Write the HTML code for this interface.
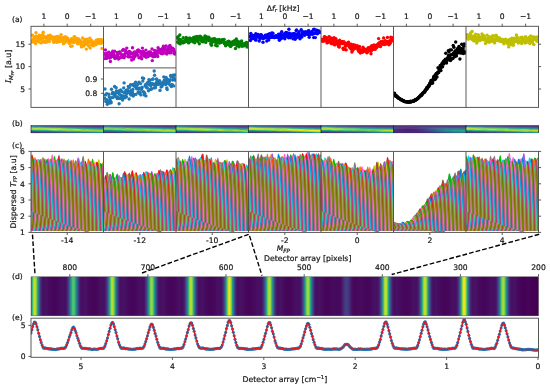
<!DOCTYPE html>
<html lang="en"><head><meta charset="utf-8"><title>Figure</title><style>html,body{margin:0;padding:0;background:#fff}svg{display:block}text{stroke:#1a1a1a;stroke-width:.22px}</style></head><body>
<svg width="550" height="386" viewBox="0 0 550 386" font-family="'DejaVu Sans', 'Liberation Sans', sans-serif" font-size="7.6" fill="#1a1a1a"><defs>
<clipPath id="ca0"><rect x="31" y="26.3" width="72.5" height="81.1"/></clipPath>
<clipPath id="ca1"><rect x="103.5" y="26.3" width="72.5" height="81.1"/></clipPath>
<clipPath id="ca2"><rect x="176" y="26.3" width="72.5" height="81.1"/></clipPath>
<clipPath id="ca3"><rect x="248.5" y="26.3" width="72.5" height="81.1"/></clipPath>
<clipPath id="ca4"><rect x="321" y="26.3" width="72.5" height="81.1"/></clipPath>
<clipPath id="ca5"><rect x="393.5" y="26.3" width="72.5" height="81.1"/></clipPath>
<clipPath id="ca6"><rect x="466" y="26.3" width="72.5" height="81.1"/></clipPath>
<clipPath id="cins"><rect x="103.5" y="67.9" width="72.5" height="39.5"/></clipPath>
<clipPath id="cins2"><rect x="103.5" y="26.3" width="72.5" height="41.6"/></clipPath>
</defs>
<g fill="#ffa500" clip-path="url(#ca0)"><circle cx="32.2" cy="41.9" r="1.7"/><circle cx="32.5" cy="35.2" r="1.7"/><circle cx="32.9" cy="40.6" r="1.7"/><circle cx="33.3" cy="39.1" r="1.7"/><circle cx="33.7" cy="38.7" r="1.7"/><circle cx="34.1" cy="40.4" r="1.7"/><circle cx="34.4" cy="42" r="1.7"/><circle cx="34.8" cy="36.9" r="1.7"/><circle cx="35.2" cy="37.7" r="1.7"/><circle cx="35.6" cy="43.5" r="1.7"/><circle cx="36" cy="32.7" r="1.7"/><circle cx="36.3" cy="36.2" r="1.7"/><circle cx="36.7" cy="40.6" r="1.7"/><circle cx="37.1" cy="36.4" r="1.7"/><circle cx="37.5" cy="39.9" r="1.7"/><circle cx="37.9" cy="38.9" r="1.7"/><circle cx="38.3" cy="36.7" r="1.7"/><circle cx="38.6" cy="41.9" r="1.7"/><circle cx="39" cy="37.3" r="1.7"/><circle cx="39.4" cy="35.2" r="1.7"/><circle cx="39.8" cy="35.4" r="1.7"/><circle cx="40.2" cy="39.5" r="1.7"/><circle cx="40.5" cy="36.5" r="1.7"/><circle cx="40.9" cy="42.9" r="1.7"/><circle cx="41.3" cy="39.2" r="1.7"/><circle cx="41.7" cy="37.7" r="1.7"/><circle cx="42.1" cy="42.2" r="1.7"/><circle cx="42.5" cy="39" r="1.7"/><circle cx="42.8" cy="34.5" r="1.7"/><circle cx="43.2" cy="32.2" r="1.7"/><circle cx="43.6" cy="36.9" r="1.7"/><circle cx="44" cy="36.7" r="1.7"/><circle cx="44.4" cy="41.2" r="1.7"/><circle cx="44.7" cy="41.9" r="1.7"/><circle cx="45.1" cy="42.4" r="1.7"/><circle cx="45.5" cy="37.5" r="1.7"/><circle cx="45.9" cy="36.9" r="1.7"/><circle cx="46.3" cy="40.5" r="1.7"/><circle cx="46.6" cy="41.9" r="1.7"/><circle cx="47" cy="38.2" r="1.7"/><circle cx="47.4" cy="38" r="1.7"/><circle cx="47.8" cy="39.1" r="1.7"/><circle cx="48.2" cy="35.6" r="1.7"/><circle cx="48.6" cy="39" r="1.7"/><circle cx="48.9" cy="38.9" r="1.7"/><circle cx="49.3" cy="41.5" r="1.7"/><circle cx="49.7" cy="38.3" r="1.7"/><circle cx="50.1" cy="35.3" r="1.7"/><circle cx="50.5" cy="38.5" r="1.7"/><circle cx="50.8" cy="38.4" r="1.7"/><circle cx="51.2" cy="37.5" r="1.7"/><circle cx="51.6" cy="37.8" r="1.7"/><circle cx="52" cy="37.1" r="1.7"/><circle cx="52.4" cy="37.1" r="1.7"/><circle cx="52.8" cy="36.9" r="1.7"/><circle cx="53.1" cy="40.4" r="1.7"/><circle cx="53.5" cy="37.6" r="1.7"/><circle cx="53.9" cy="42.3" r="1.7"/><circle cx="54.3" cy="37.6" r="1.7"/><circle cx="54.7" cy="41.4" r="1.7"/><circle cx="55" cy="38.4" r="1.7"/><circle cx="55.4" cy="37" r="1.7"/><circle cx="55.8" cy="39.2" r="1.7"/><circle cx="56.2" cy="37.9" r="1.7"/><circle cx="56.6" cy="42.3" r="1.7"/><circle cx="56.9" cy="40.3" r="1.7"/><circle cx="57.3" cy="36.4" r="1.7"/><circle cx="57.7" cy="41.1" r="1.7"/><circle cx="58.1" cy="36.5" r="1.7"/><circle cx="58.5" cy="41.7" r="1.7"/><circle cx="58.9" cy="40.5" r="1.7"/><circle cx="59.2" cy="41" r="1.7"/><circle cx="59.6" cy="38.3" r="1.7"/><circle cx="60" cy="37.1" r="1.7"/><circle cx="60.4" cy="41.2" r="1.7"/><circle cx="60.8" cy="39" r="1.7"/><circle cx="61.1" cy="34.6" r="1.7"/><circle cx="61.5" cy="39.6" r="1.7"/><circle cx="61.9" cy="40.9" r="1.7"/><circle cx="62.3" cy="38" r="1.7"/><circle cx="62.7" cy="39.7" r="1.7"/><circle cx="63.1" cy="41" r="1.7"/><circle cx="63.4" cy="43.8" r="1.7"/><circle cx="63.8" cy="37.4" r="1.7"/><circle cx="64.2" cy="41" r="1.7"/><circle cx="64.6" cy="39.7" r="1.7"/><circle cx="65" cy="42.5" r="1.7"/><circle cx="65.3" cy="36.7" r="1.7"/><circle cx="65.7" cy="38.2" r="1.7"/><circle cx="66.1" cy="37.7" r="1.7"/><circle cx="66.5" cy="40.6" r="1.7"/><circle cx="66.9" cy="39.3" r="1.7"/><circle cx="67.2" cy="38.3" r="1.7"/><circle cx="67.6" cy="38.1" r="1.7"/><circle cx="68" cy="40" r="1.7"/><circle cx="68.4" cy="41" r="1.7"/><circle cx="68.8" cy="41.9" r="1.7"/><circle cx="69.2" cy="42.9" r="1.7"/><circle cx="69.5" cy="43.5" r="1.7"/><circle cx="69.9" cy="40.3" r="1.7"/><circle cx="70.3" cy="41.8" r="1.7"/><circle cx="70.7" cy="46.3" r="1.7"/><circle cx="71.1" cy="41.7" r="1.7"/><circle cx="71.4" cy="38.7" r="1.7"/><circle cx="71.8" cy="42.1" r="1.7"/><circle cx="72.2" cy="46.1" r="1.7"/><circle cx="72.6" cy="41.8" r="1.7"/><circle cx="73" cy="39.5" r="1.7"/><circle cx="73.4" cy="41" r="1.7"/><circle cx="73.7" cy="42.6" r="1.7"/><circle cx="74.1" cy="36.9" r="1.7"/><circle cx="74.5" cy="36.8" r="1.7"/><circle cx="74.9" cy="41.9" r="1.7"/><circle cx="75.3" cy="39.6" r="1.7"/><circle cx="75.6" cy="40.7" r="1.7"/><circle cx="76" cy="39.7" r="1.7"/><circle cx="76.4" cy="38.1" r="1.7"/><circle cx="76.8" cy="39.7" r="1.7"/><circle cx="77.2" cy="41.5" r="1.7"/><circle cx="77.6" cy="43.4" r="1.7"/><circle cx="77.9" cy="43.8" r="1.7"/><circle cx="78.3" cy="41.9" r="1.7"/><circle cx="78.7" cy="38.9" r="1.7"/><circle cx="79.1" cy="41.1" r="1.7"/><circle cx="79.5" cy="41.8" r="1.7"/><circle cx="79.8" cy="41.3" r="1.7"/><circle cx="80.2" cy="41.8" r="1.7"/><circle cx="80.6" cy="40.6" r="1.7"/><circle cx="81" cy="44.8" r="1.7"/><circle cx="81.4" cy="46.9" r="1.7"/><circle cx="81.7" cy="43.1" r="1.7"/><circle cx="82.1" cy="44.9" r="1.7"/><circle cx="82.5" cy="38" r="1.7"/><circle cx="82.9" cy="42.5" r="1.7"/><circle cx="83.3" cy="42.7" r="1.7"/><circle cx="83.7" cy="46" r="1.7"/><circle cx="84" cy="41.4" r="1.7"/><circle cx="84.4" cy="43.7" r="1.7"/><circle cx="84.8" cy="39.4" r="1.7"/><circle cx="85.2" cy="40.1" r="1.7"/><circle cx="85.6" cy="44.2" r="1.7"/><circle cx="85.9" cy="41.2" r="1.7"/><circle cx="86.3" cy="49.1" r="1.7"/><circle cx="86.7" cy="44" r="1.7"/><circle cx="87.1" cy="39.2" r="1.7"/><circle cx="87.5" cy="40.4" r="1.7"/><circle cx="87.9" cy="41.9" r="1.7"/><circle cx="88.2" cy="42.5" r="1.7"/><circle cx="88.6" cy="46" r="1.7"/><circle cx="89" cy="45.9" r="1.7"/><circle cx="89.4" cy="41.9" r="1.7"/><circle cx="89.8" cy="38.1" r="1.7"/><circle cx="90.1" cy="48" r="1.7"/><circle cx="90.5" cy="41" r="1.7"/><circle cx="90.9" cy="41.1" r="1.7"/><circle cx="91.3" cy="40.2" r="1.7"/><circle cx="91.7" cy="44.8" r="1.7"/><circle cx="92" cy="44" r="1.7"/><circle cx="92.4" cy="42.6" r="1.7"/><circle cx="92.8" cy="45.3" r="1.7"/><circle cx="93.2" cy="45.8" r="1.7"/><circle cx="93.6" cy="45" r="1.7"/><circle cx="94" cy="42.9" r="1.7"/><circle cx="94.3" cy="41.9" r="1.7"/><circle cx="94.7" cy="42.9" r="1.7"/><circle cx="95.1" cy="42.6" r="1.7"/><circle cx="95.5" cy="44.6" r="1.7"/><circle cx="95.9" cy="44.7" r="1.7"/><circle cx="96.2" cy="40.1" r="1.7"/><circle cx="96.6" cy="43.1" r="1.7"/><circle cx="97" cy="43.2" r="1.7"/><circle cx="97.4" cy="40.6" r="1.7"/><circle cx="97.8" cy="39.9" r="1.7"/><circle cx="98.2" cy="39.8" r="1.7"/><circle cx="98.5" cy="42" r="1.7"/><circle cx="98.9" cy="43.2" r="1.7"/><circle cx="99.3" cy="42.4" r="1.7"/><circle cx="99.7" cy="42.7" r="1.7"/><circle cx="100.1" cy="39.7" r="1.7"/><circle cx="100.4" cy="42.4" r="1.7"/><circle cx="100.8" cy="41.6" r="1.7"/><circle cx="101.2" cy="43.3" r="1.7"/><circle cx="101.6" cy="39.8" r="1.7"/><circle cx="102" cy="48.4" r="1.7"/><circle cx="102.3" cy="42.3" r="1.7"/></g>
<g fill="#bf00bf" clip-path="url(#cins2)"><circle cx="104.7" cy="53.7" r="1.7"/><circle cx="105" cy="58.6" r="1.7"/><circle cx="105.4" cy="50" r="1.7"/><circle cx="105.8" cy="56" r="1.7"/><circle cx="106.2" cy="56" r="1.7"/><circle cx="106.6" cy="58.4" r="1.7"/><circle cx="106.9" cy="53.3" r="1.7"/><circle cx="107.3" cy="54.9" r="1.7"/><circle cx="107.7" cy="57.1" r="1.7"/><circle cx="108.1" cy="54.9" r="1.7"/><circle cx="108.5" cy="53.7" r="1.7"/><circle cx="108.8" cy="52.3" r="1.7"/><circle cx="109.2" cy="54.9" r="1.7"/><circle cx="109.6" cy="58" r="1.7"/><circle cx="110" cy="56.9" r="1.7"/><circle cx="110.4" cy="61.4" r="1.7"/><circle cx="110.8" cy="57.3" r="1.7"/><circle cx="111.1" cy="53.5" r="1.7"/><circle cx="111.5" cy="54.2" r="1.7"/><circle cx="111.9" cy="55.6" r="1.7"/><circle cx="112.3" cy="56.2" r="1.7"/><circle cx="112.7" cy="51.2" r="1.7"/><circle cx="113" cy="54.6" r="1.7"/><circle cx="113.4" cy="52.9" r="1.7"/><circle cx="113.8" cy="54.2" r="1.7"/><circle cx="114.2" cy="57" r="1.7"/><circle cx="114.6" cy="51.2" r="1.7"/><circle cx="115" cy="58.4" r="1.7"/><circle cx="115.3" cy="58.3" r="1.7"/><circle cx="115.7" cy="56.3" r="1.7"/><circle cx="116.1" cy="57" r="1.7"/><circle cx="116.5" cy="56.6" r="1.7"/><circle cx="116.9" cy="56.7" r="1.7"/><circle cx="117.2" cy="52.5" r="1.7"/><circle cx="117.6" cy="54.9" r="1.7"/><circle cx="118" cy="54.1" r="1.7"/><circle cx="118.4" cy="59.1" r="1.7"/><circle cx="118.8" cy="57.2" r="1.7"/><circle cx="119.1" cy="52.2" r="1.7"/><circle cx="119.5" cy="58.1" r="1.7"/><circle cx="119.9" cy="51.9" r="1.7"/><circle cx="120.3" cy="57.6" r="1.7"/><circle cx="120.7" cy="54.1" r="1.7"/><circle cx="121.1" cy="57.1" r="1.7"/><circle cx="121.4" cy="54.3" r="1.7"/><circle cx="121.8" cy="57.2" r="1.7"/><circle cx="122.2" cy="55.5" r="1.7"/><circle cx="122.6" cy="50.4" r="1.7"/><circle cx="123" cy="55.7" r="1.7"/><circle cx="123.3" cy="49.4" r="1.7"/><circle cx="123.7" cy="55.9" r="1.7"/><circle cx="124.1" cy="57.7" r="1.7"/><circle cx="124.5" cy="54.5" r="1.7"/><circle cx="124.9" cy="55.7" r="1.7"/><circle cx="125.3" cy="50.1" r="1.7"/><circle cx="125.6" cy="52.4" r="1.7"/><circle cx="126" cy="51.5" r="1.7"/><circle cx="126.4" cy="52.9" r="1.7"/><circle cx="126.8" cy="48.1" r="1.7"/><circle cx="127.2" cy="52.4" r="1.7"/><circle cx="127.5" cy="53.1" r="1.7"/><circle cx="127.9" cy="56.6" r="1.7"/><circle cx="128.3" cy="56.8" r="1.7"/><circle cx="128.7" cy="53.9" r="1.7"/><circle cx="129.1" cy="51.8" r="1.7"/><circle cx="129.4" cy="51.4" r="1.7"/><circle cx="129.8" cy="56.8" r="1.7"/><circle cx="130.2" cy="52.9" r="1.7"/><circle cx="130.6" cy="53.8" r="1.7"/><circle cx="131" cy="57.1" r="1.7"/><circle cx="131.4" cy="52.9" r="1.7"/><circle cx="131.7" cy="60.1" r="1.7"/><circle cx="132.1" cy="53.5" r="1.7"/><circle cx="132.5" cy="47.7" r="1.7"/><circle cx="132.9" cy="56.8" r="1.7"/><circle cx="133.3" cy="54" r="1.7"/><circle cx="133.6" cy="59" r="1.7"/><circle cx="134" cy="56" r="1.7"/><circle cx="134.4" cy="52" r="1.7"/><circle cx="134.8" cy="56.7" r="1.7"/><circle cx="135.2" cy="54" r="1.7"/><circle cx="135.6" cy="54.8" r="1.7"/><circle cx="135.9" cy="54.9" r="1.7"/><circle cx="136.3" cy="53.4" r="1.7"/><circle cx="136.7" cy="52.6" r="1.7"/><circle cx="137.1" cy="50.6" r="1.7"/><circle cx="137.5" cy="51.6" r="1.7"/><circle cx="137.8" cy="55.2" r="1.7"/><circle cx="138.2" cy="50" r="1.7"/><circle cx="138.6" cy="50.5" r="1.7"/><circle cx="139" cy="57.7" r="1.7"/><circle cx="139.4" cy="51.9" r="1.7"/><circle cx="139.8" cy="51.5" r="1.7"/><circle cx="140.1" cy="51.1" r="1.7"/><circle cx="140.5" cy="52.1" r="1.7"/><circle cx="140.9" cy="56.9" r="1.7"/><circle cx="141.3" cy="54.2" r="1.7"/><circle cx="141.7" cy="58.8" r="1.7"/><circle cx="142" cy="53.8" r="1.7"/><circle cx="142.4" cy="48.1" r="1.7"/><circle cx="142.8" cy="51.6" r="1.7"/><circle cx="143.2" cy="51.2" r="1.7"/><circle cx="143.6" cy="54.6" r="1.7"/><circle cx="143.9" cy="55.9" r="1.7"/><circle cx="144.3" cy="56" r="1.7"/><circle cx="144.7" cy="52.9" r="1.7"/><circle cx="145.1" cy="55.3" r="1.7"/><circle cx="145.5" cy="54.8" r="1.7"/><circle cx="145.9" cy="50.1" r="1.7"/><circle cx="146.2" cy="57.3" r="1.7"/><circle cx="146.6" cy="56.5" r="1.7"/><circle cx="147" cy="54.3" r="1.7"/><circle cx="147.4" cy="53.2" r="1.7"/><circle cx="147.8" cy="53.3" r="1.7"/><circle cx="148.1" cy="56.5" r="1.7"/><circle cx="148.5" cy="52.4" r="1.7"/><circle cx="148.9" cy="53.2" r="1.7"/><circle cx="149.3" cy="51.9" r="1.7"/><circle cx="149.7" cy="55.6" r="1.7"/><circle cx="150.1" cy="52.1" r="1.7"/><circle cx="150.4" cy="52.1" r="1.7"/><circle cx="150.8" cy="54.4" r="1.7"/><circle cx="151.2" cy="53.2" r="1.7"/><circle cx="151.6" cy="54" r="1.7"/><circle cx="152" cy="49" r="1.7"/><circle cx="152.3" cy="60.6" r="1.7"/><circle cx="152.7" cy="56.2" r="1.7"/><circle cx="153.1" cy="56.8" r="1.7"/><circle cx="153.5" cy="53.4" r="1.7"/><circle cx="153.9" cy="54.1" r="1.7"/><circle cx="154.2" cy="53.4" r="1.7"/><circle cx="154.6" cy="50.4" r="1.7"/><circle cx="155" cy="56.5" r="1.7"/><circle cx="155.4" cy="54.4" r="1.7"/><circle cx="155.8" cy="52.7" r="1.7"/><circle cx="156.2" cy="55.2" r="1.7"/><circle cx="156.5" cy="51.1" r="1.7"/><circle cx="156.9" cy="51.1" r="1.7"/><circle cx="157.3" cy="53.8" r="1.7"/><circle cx="157.7" cy="56.5" r="1.7"/><circle cx="158.1" cy="47.7" r="1.7"/><circle cx="158.4" cy="50.6" r="1.7"/><circle cx="158.8" cy="50.7" r="1.7"/><circle cx="159.2" cy="51.6" r="1.7"/><circle cx="159.6" cy="51.7" r="1.7"/><circle cx="160" cy="49.5" r="1.7"/><circle cx="160.4" cy="51.7" r="1.7"/><circle cx="160.7" cy="53.2" r="1.7"/><circle cx="161.1" cy="49.7" r="1.7"/><circle cx="161.5" cy="51.3" r="1.7"/><circle cx="161.9" cy="53.4" r="1.7"/><circle cx="162.3" cy="53.7" r="1.7"/><circle cx="162.6" cy="48.3" r="1.7"/><circle cx="163" cy="49.7" r="1.7"/><circle cx="163.4" cy="46.1" r="1.7"/><circle cx="163.8" cy="52.6" r="1.7"/><circle cx="164.2" cy="53.1" r="1.7"/><circle cx="164.5" cy="50.1" r="1.7"/><circle cx="164.9" cy="47.5" r="1.7"/><circle cx="165.3" cy="49.5" r="1.7"/><circle cx="165.7" cy="49.9" r="1.7"/><circle cx="166.1" cy="46" r="1.7"/><circle cx="166.5" cy="52.8" r="1.7"/><circle cx="166.8" cy="54.1" r="1.7"/><circle cx="167.2" cy="52.7" r="1.7"/><circle cx="167.6" cy="51.6" r="1.7"/><circle cx="168" cy="49.7" r="1.7"/><circle cx="168.4" cy="48" r="1.7"/><circle cx="168.7" cy="49.5" r="1.7"/><circle cx="169.1" cy="46.6" r="1.7"/><circle cx="169.5" cy="52.7" r="1.7"/><circle cx="169.9" cy="45.5" r="1.7"/><circle cx="170.3" cy="52.5" r="1.7"/><circle cx="170.7" cy="47.3" r="1.7"/><circle cx="171" cy="52.7" r="1.7"/><circle cx="171.4" cy="49.4" r="1.7"/><circle cx="171.8" cy="50.1" r="1.7"/><circle cx="172.2" cy="48.8" r="1.7"/><circle cx="172.6" cy="48.2" r="1.7"/><circle cx="172.9" cy="50.6" r="1.7"/><circle cx="173.3" cy="50.2" r="1.7"/><circle cx="173.7" cy="49.3" r="1.7"/><circle cx="174.1" cy="53.3" r="1.7"/><circle cx="174.5" cy="51.8" r="1.7"/><circle cx="174.8" cy="54" r="1.7"/></g>
<g fill="#1f77b4" clip-path="url(#cins)"><circle cx="104.7" cy="98.3" r="1.7"/><circle cx="105" cy="89" r="1.7"/><circle cx="105.4" cy="95" r="1.7"/><circle cx="105.8" cy="101.6" r="1.7"/><circle cx="106.2" cy="100.8" r="1.7"/><circle cx="106.6" cy="93.7" r="1.7"/><circle cx="106.9" cy="99.6" r="1.7"/><circle cx="107.3" cy="104.2" r="1.7"/><circle cx="107.7" cy="101.7" r="1.7"/><circle cx="108.1" cy="101.7" r="1.7"/><circle cx="108.5" cy="101.5" r="1.7"/><circle cx="108.8" cy="94.3" r="1.7"/><circle cx="109.2" cy="96.7" r="1.7"/><circle cx="109.6" cy="103.1" r="1.7"/><circle cx="110" cy="99.1" r="1.7"/><circle cx="110.4" cy="101.4" r="1.7"/><circle cx="110.8" cy="101.6" r="1.7"/><circle cx="111.1" cy="102.8" r="1.7"/><circle cx="111.5" cy="89.2" r="1.7"/><circle cx="111.9" cy="97.6" r="1.7"/><circle cx="112.3" cy="93.8" r="1.7"/><circle cx="112.7" cy="92.5" r="1.7"/><circle cx="113" cy="97.6" r="1.7"/><circle cx="113.4" cy="93.6" r="1.7"/><circle cx="113.8" cy="93.5" r="1.7"/><circle cx="114.2" cy="94.7" r="1.7"/><circle cx="114.6" cy="86.5" r="1.7"/><circle cx="115" cy="94.3" r="1.7"/><circle cx="115.3" cy="96.3" r="1.7"/><circle cx="115.7" cy="92.5" r="1.7"/><circle cx="116.1" cy="87.7" r="1.7"/><circle cx="116.5" cy="90.9" r="1.7"/><circle cx="116.9" cy="96.9" r="1.7"/><circle cx="117.2" cy="98.4" r="1.7"/><circle cx="117.6" cy="98.6" r="1.7"/><circle cx="118" cy="97.3" r="1.7"/><circle cx="118.4" cy="92.9" r="1.7"/><circle cx="118.8" cy="90.9" r="1.7"/><circle cx="119.1" cy="103.7" r="1.7"/><circle cx="119.5" cy="94.2" r="1.7"/><circle cx="119.9" cy="98.6" r="1.7"/><circle cx="120.3" cy="91.1" r="1.7"/><circle cx="120.7" cy="90" r="1.7"/><circle cx="121.1" cy="97" r="1.7"/><circle cx="121.4" cy="95.5" r="1.7"/><circle cx="121.8" cy="97.5" r="1.7"/><circle cx="122.2" cy="91.8" r="1.7"/><circle cx="122.6" cy="100" r="1.7"/><circle cx="123" cy="97.9" r="1.7"/><circle cx="123.3" cy="95.9" r="1.7"/><circle cx="123.7" cy="87.9" r="1.7"/><circle cx="124.1" cy="82.9" r="1.7"/><circle cx="124.5" cy="92.7" r="1.7"/><circle cx="124.9" cy="97.8" r="1.7"/><circle cx="125.3" cy="92.2" r="1.7"/><circle cx="125.6" cy="96" r="1.7"/><circle cx="126" cy="90.4" r="1.7"/><circle cx="126.4" cy="96.8" r="1.7"/><circle cx="126.8" cy="93.6" r="1.7"/><circle cx="127.2" cy="92.1" r="1.7"/><circle cx="127.5" cy="89.7" r="1.7"/><circle cx="127.9" cy="92.1" r="1.7"/><circle cx="128.3" cy="86.4" r="1.7"/><circle cx="128.7" cy="91.1" r="1.7"/><circle cx="129.1" cy="99" r="1.7"/><circle cx="129.4" cy="87.5" r="1.7"/><circle cx="129.8" cy="92.5" r="1.7"/><circle cx="130.2" cy="93.9" r="1.7"/><circle cx="130.6" cy="84.8" r="1.7"/><circle cx="131" cy="95.1" r="1.7"/><circle cx="131.4" cy="90.5" r="1.7"/><circle cx="131.7" cy="93.7" r="1.7"/><circle cx="132.1" cy="85" r="1.7"/><circle cx="132.5" cy="92" r="1.7"/><circle cx="132.9" cy="89.4" r="1.7"/><circle cx="133.3" cy="96.1" r="1.7"/><circle cx="133.6" cy="84.2" r="1.7"/><circle cx="134" cy="94.5" r="1.7"/><circle cx="134.4" cy="86.2" r="1.7"/><circle cx="134.8" cy="85.2" r="1.7"/><circle cx="135.2" cy="84.6" r="1.7"/><circle cx="135.6" cy="82.1" r="1.7"/><circle cx="135.9" cy="94.4" r="1.7"/><circle cx="136.3" cy="87.7" r="1.7"/><circle cx="136.7" cy="88.7" r="1.7"/><circle cx="137.1" cy="87.5" r="1.7"/><circle cx="137.5" cy="84.5" r="1.7"/><circle cx="137.8" cy="88.5" r="1.7"/><circle cx="138.2" cy="92.3" r="1.7"/><circle cx="138.6" cy="89.2" r="1.7"/><circle cx="139" cy="82.3" r="1.7"/><circle cx="139.4" cy="93.4" r="1.7"/><circle cx="139.8" cy="88.1" r="1.7"/><circle cx="140.1" cy="92.4" r="1.7"/><circle cx="140.5" cy="83.6" r="1.7"/><circle cx="140.9" cy="94.9" r="1.7"/><circle cx="141.3" cy="89.4" r="1.7"/><circle cx="141.7" cy="88.4" r="1.7"/><circle cx="142" cy="87.3" r="1.7"/><circle cx="142.4" cy="77.9" r="1.7"/><circle cx="142.8" cy="81.1" r="1.7"/><circle cx="143.2" cy="91.7" r="1.7"/><circle cx="143.6" cy="78.4" r="1.7"/><circle cx="143.9" cy="92.2" r="1.7"/><circle cx="144.3" cy="94.9" r="1.7"/><circle cx="144.7" cy="93.2" r="1.7"/><circle cx="145.1" cy="86.1" r="1.7"/><circle cx="145.5" cy="84.6" r="1.7"/><circle cx="145.9" cy="95.9" r="1.7"/><circle cx="146.2" cy="84.8" r="1.7"/><circle cx="146.6" cy="87.6" r="1.7"/><circle cx="147" cy="83.4" r="1.7"/><circle cx="147.4" cy="87.9" r="1.7"/><circle cx="147.8" cy="82.4" r="1.7"/><circle cx="148.1" cy="83.7" r="1.7"/><circle cx="148.5" cy="90.8" r="1.7"/><circle cx="148.9" cy="79.8" r="1.7"/><circle cx="149.3" cy="84.8" r="1.7"/><circle cx="149.7" cy="82.6" r="1.7"/><circle cx="150.1" cy="80.3" r="1.7"/><circle cx="150.4" cy="89.4" r="1.7"/><circle cx="150.8" cy="85.6" r="1.7"/><circle cx="151.2" cy="88.6" r="1.7"/><circle cx="151.6" cy="89" r="1.7"/><circle cx="152" cy="83.8" r="1.7"/><circle cx="152.3" cy="83.4" r="1.7"/><circle cx="152.7" cy="79.2" r="1.7"/><circle cx="153.1" cy="78.9" r="1.7"/><circle cx="153.5" cy="84.6" r="1.7"/><circle cx="153.9" cy="87.9" r="1.7"/><circle cx="154.2" cy="71" r="1.7"/><circle cx="154.6" cy="75.3" r="1.7"/><circle cx="155" cy="84.5" r="1.7"/><circle cx="155.4" cy="87.8" r="1.7"/><circle cx="155.8" cy="85.6" r="1.7"/><circle cx="156.2" cy="82.6" r="1.7"/><circle cx="156.5" cy="78.9" r="1.7"/><circle cx="156.9" cy="79.5" r="1.7"/><circle cx="157.3" cy="81.6" r="1.7"/><circle cx="157.7" cy="84.3" r="1.7"/><circle cx="158.1" cy="82.5" r="1.7"/><circle cx="158.4" cy="84.4" r="1.7"/><circle cx="158.8" cy="82.7" r="1.7"/><circle cx="159.2" cy="83.3" r="1.7"/><circle cx="159.6" cy="80.6" r="1.7"/><circle cx="160" cy="90.4" r="1.7"/><circle cx="160.4" cy="83.9" r="1.7"/><circle cx="160.7" cy="83.6" r="1.7"/><circle cx="161.1" cy="87" r="1.7"/><circle cx="161.5" cy="82.9" r="1.7"/><circle cx="161.9" cy="86.4" r="1.7"/><circle cx="162.3" cy="84.7" r="1.7"/><circle cx="162.6" cy="83.1" r="1.7"/><circle cx="163" cy="82.8" r="1.7"/><circle cx="163.4" cy="84" r="1.7"/><circle cx="163.8" cy="76.9" r="1.7"/><circle cx="164.2" cy="80.6" r="1.7"/><circle cx="164.5" cy="80" r="1.7"/><circle cx="164.9" cy="80.2" r="1.7"/><circle cx="165.3" cy="83.8" r="1.7"/><circle cx="165.7" cy="84.6" r="1.7"/><circle cx="166.1" cy="77.4" r="1.7"/><circle cx="166.5" cy="82.2" r="1.7"/><circle cx="166.8" cy="88" r="1.7"/><circle cx="167.2" cy="89.6" r="1.7"/><circle cx="167.6" cy="79.5" r="1.7"/><circle cx="168" cy="83.4" r="1.7"/><circle cx="168.4" cy="80.5" r="1.7"/><circle cx="168.7" cy="82.3" r="1.7"/><circle cx="169.1" cy="81.6" r="1.7"/><circle cx="169.5" cy="80.6" r="1.7"/><circle cx="169.9" cy="84.9" r="1.7"/><circle cx="170.3" cy="79.7" r="1.7"/><circle cx="170.7" cy="75.4" r="1.7"/><circle cx="171" cy="76.5" r="1.7"/><circle cx="171.4" cy="86.5" r="1.7"/><circle cx="171.8" cy="84.7" r="1.7"/><circle cx="172.2" cy="84.6" r="1.7"/><circle cx="172.6" cy="80" r="1.7"/><circle cx="172.9" cy="75.3" r="1.7"/><circle cx="173.3" cy="77.4" r="1.7"/><circle cx="173.7" cy="85.9" r="1.7"/><circle cx="174.1" cy="78.3" r="1.7"/><circle cx="174.5" cy="75" r="1.7"/><circle cx="174.8" cy="80.1" r="1.7"/></g>
<g fill="#008000" clip-path="url(#ca2)"><circle cx="177.2" cy="37.4" r="1.7"/><circle cx="177.5" cy="42" r="1.7"/><circle cx="177.9" cy="38.7" r="1.7"/><circle cx="178.3" cy="36.6" r="1.7"/><circle cx="178.7" cy="43.1" r="1.7"/><circle cx="179.1" cy="41.4" r="1.7"/><circle cx="179.4" cy="39.7" r="1.7"/><circle cx="179.8" cy="35" r="1.7"/><circle cx="180.2" cy="43.9" r="1.7"/><circle cx="180.6" cy="39.7" r="1.7"/><circle cx="181" cy="40.2" r="1.7"/><circle cx="181.3" cy="41.4" r="1.7"/><circle cx="181.7" cy="42.2" r="1.7"/><circle cx="182.1" cy="41.6" r="1.7"/><circle cx="182.5" cy="41.2" r="1.7"/><circle cx="182.9" cy="42.9" r="1.7"/><circle cx="183.3" cy="37.8" r="1.7"/><circle cx="183.6" cy="42.6" r="1.7"/><circle cx="184" cy="41.3" r="1.7"/><circle cx="184.4" cy="41.7" r="1.7"/><circle cx="184.8" cy="41.3" r="1.7"/><circle cx="185.2" cy="40.3" r="1.7"/><circle cx="185.5" cy="41.8" r="1.7"/><circle cx="185.9" cy="40.9" r="1.7"/><circle cx="186.3" cy="37.4" r="1.7"/><circle cx="186.7" cy="38.5" r="1.7"/><circle cx="187.1" cy="40.9" r="1.7"/><circle cx="187.5" cy="38.8" r="1.7"/><circle cx="187.8" cy="41.7" r="1.7"/><circle cx="188.2" cy="39.9" r="1.7"/><circle cx="188.6" cy="42.9" r="1.7"/><circle cx="189" cy="42.3" r="1.7"/><circle cx="189.4" cy="41.8" r="1.7"/><circle cx="189.7" cy="38" r="1.7"/><circle cx="190.1" cy="39.8" r="1.7"/><circle cx="190.5" cy="39.2" r="1.7"/><circle cx="190.9" cy="39.9" r="1.7"/><circle cx="191.3" cy="39.5" r="1.7"/><circle cx="191.6" cy="39.4" r="1.7"/><circle cx="192" cy="38.7" r="1.7"/><circle cx="192.4" cy="39.8" r="1.7"/><circle cx="192.8" cy="41.7" r="1.7"/><circle cx="193.2" cy="41.4" r="1.7"/><circle cx="193.6" cy="37.8" r="1.7"/><circle cx="193.9" cy="37.4" r="1.7"/><circle cx="194.3" cy="38.9" r="1.7"/><circle cx="194.7" cy="42.8" r="1.7"/><circle cx="195.1" cy="37" r="1.7"/><circle cx="195.5" cy="39.2" r="1.7"/><circle cx="195.8" cy="39.9" r="1.7"/><circle cx="196.2" cy="39.7" r="1.7"/><circle cx="196.6" cy="40.3" r="1.7"/><circle cx="197" cy="36.5" r="1.7"/><circle cx="197.4" cy="36.6" r="1.7"/><circle cx="197.8" cy="41.5" r="1.7"/><circle cx="198.1" cy="39.9" r="1.7"/><circle cx="198.5" cy="38.9" r="1.7"/><circle cx="198.9" cy="37.1" r="1.7"/><circle cx="199.3" cy="43.7" r="1.7"/><circle cx="199.7" cy="37.7" r="1.7"/><circle cx="200" cy="36.3" r="1.7"/><circle cx="200.4" cy="39.9" r="1.7"/><circle cx="200.8" cy="39.3" r="1.7"/><circle cx="201.2" cy="37" r="1.7"/><circle cx="201.6" cy="38.5" r="1.7"/><circle cx="201.9" cy="41.6" r="1.7"/><circle cx="202.3" cy="41.3" r="1.7"/><circle cx="202.7" cy="41" r="1.7"/><circle cx="203.1" cy="41.7" r="1.7"/><circle cx="203.5" cy="39.1" r="1.7"/><circle cx="203.9" cy="40" r="1.7"/><circle cx="204.2" cy="39" r="1.7"/><circle cx="204.6" cy="37.8" r="1.7"/><circle cx="205" cy="35.9" r="1.7"/><circle cx="205.4" cy="38.7" r="1.7"/><circle cx="205.8" cy="42.4" r="1.7"/><circle cx="206.1" cy="36.6" r="1.7"/><circle cx="206.5" cy="39.3" r="1.7"/><circle cx="206.9" cy="37.1" r="1.7"/><circle cx="207.3" cy="40" r="1.7"/><circle cx="207.7" cy="38.7" r="1.7"/><circle cx="208.1" cy="39.6" r="1.7"/><circle cx="208.4" cy="39.4" r="1.7"/><circle cx="208.8" cy="37.2" r="1.7"/><circle cx="209.2" cy="40.7" r="1.7"/><circle cx="209.6" cy="39.3" r="1.7"/><circle cx="210" cy="39.3" r="1.7"/><circle cx="210.3" cy="40.5" r="1.7"/><circle cx="210.7" cy="43.8" r="1.7"/><circle cx="211.1" cy="39.3" r="1.7"/><circle cx="211.5" cy="45.2" r="1.7"/><circle cx="211.9" cy="42.9" r="1.7"/><circle cx="212.2" cy="41.1" r="1.7"/><circle cx="212.6" cy="39.6" r="1.7"/><circle cx="213" cy="38.9" r="1.7"/><circle cx="213.4" cy="39.1" r="1.7"/><circle cx="213.8" cy="39.6" r="1.7"/><circle cx="214.2" cy="41.5" r="1.7"/><circle cx="214.5" cy="38.7" r="1.7"/><circle cx="214.9" cy="41.5" r="1.7"/><circle cx="215.3" cy="39.1" r="1.7"/><circle cx="215.7" cy="45.2" r="1.7"/><circle cx="216.1" cy="43" r="1.7"/><circle cx="216.4" cy="42.5" r="1.7"/><circle cx="216.8" cy="41.5" r="1.7"/><circle cx="217.2" cy="45.9" r="1.7"/><circle cx="217.6" cy="40.2" r="1.7"/><circle cx="218" cy="40" r="1.7"/><circle cx="218.4" cy="40.4" r="1.7"/><circle cx="218.7" cy="42.8" r="1.7"/><circle cx="219.1" cy="39.4" r="1.7"/><circle cx="219.5" cy="43" r="1.7"/><circle cx="219.9" cy="40.4" r="1.7"/><circle cx="220.3" cy="42.2" r="1.7"/><circle cx="220.6" cy="42.2" r="1.7"/><circle cx="221" cy="42.5" r="1.7"/><circle cx="221.4" cy="42.3" r="1.7"/><circle cx="221.8" cy="40.3" r="1.7"/><circle cx="222.2" cy="39.8" r="1.7"/><circle cx="222.6" cy="39.9" r="1.7"/><circle cx="222.9" cy="40.8" r="1.7"/><circle cx="223.3" cy="41.3" r="1.7"/><circle cx="223.7" cy="41.8" r="1.7"/><circle cx="224.1" cy="39.5" r="1.7"/><circle cx="224.5" cy="43.5" r="1.7"/><circle cx="224.8" cy="43.8" r="1.7"/><circle cx="225.2" cy="42.7" r="1.7"/><circle cx="225.6" cy="45.8" r="1.7"/><circle cx="226" cy="43.3" r="1.7"/><circle cx="226.4" cy="43" r="1.7"/><circle cx="226.7" cy="44.8" r="1.7"/><circle cx="227.1" cy="44" r="1.7"/><circle cx="227.5" cy="41.7" r="1.7"/><circle cx="227.9" cy="43.4" r="1.7"/><circle cx="228.3" cy="42.9" r="1.7"/><circle cx="228.7" cy="41.3" r="1.7"/><circle cx="229" cy="44.2" r="1.7"/><circle cx="229.4" cy="45.2" r="1.7"/><circle cx="229.8" cy="43.3" r="1.7"/><circle cx="230.2" cy="42.5" r="1.7"/><circle cx="230.6" cy="46.5" r="1.7"/><circle cx="230.9" cy="42.2" r="1.7"/><circle cx="231.3" cy="43.9" r="1.7"/><circle cx="231.7" cy="44.1" r="1.7"/><circle cx="232.1" cy="45" r="1.7"/><circle cx="232.5" cy="43.8" r="1.7"/><circle cx="232.9" cy="41.8" r="1.7"/><circle cx="233.2" cy="42.6" r="1.7"/><circle cx="233.6" cy="42.1" r="1.7"/><circle cx="234" cy="44.3" r="1.7"/><circle cx="234.4" cy="40.8" r="1.7"/><circle cx="234.8" cy="41.4" r="1.7"/><circle cx="235.1" cy="43.7" r="1.7"/><circle cx="235.5" cy="48.5" r="1.7"/><circle cx="235.9" cy="43.7" r="1.7"/><circle cx="236.3" cy="38.9" r="1.7"/><circle cx="236.7" cy="43.9" r="1.7"/><circle cx="237" cy="45.7" r="1.7"/><circle cx="237.4" cy="40.9" r="1.7"/><circle cx="237.8" cy="45" r="1.7"/><circle cx="238.2" cy="43.1" r="1.7"/><circle cx="238.6" cy="42.6" r="1.7"/><circle cx="239" cy="46.7" r="1.7"/><circle cx="239.3" cy="43.8" r="1.7"/><circle cx="239.7" cy="42" r="1.7"/><circle cx="240.1" cy="44.7" r="1.7"/><circle cx="240.5" cy="43" r="1.7"/><circle cx="240.9" cy="44.2" r="1.7"/><circle cx="241.2" cy="42.4" r="1.7"/><circle cx="241.6" cy="40.9" r="1.7"/><circle cx="242" cy="46.2" r="1.7"/><circle cx="242.4" cy="44.8" r="1.7"/><circle cx="242.8" cy="43.6" r="1.7"/><circle cx="243.2" cy="45.5" r="1.7"/><circle cx="243.5" cy="45.9" r="1.7"/><circle cx="243.9" cy="45" r="1.7"/><circle cx="244.3" cy="44.9" r="1.7"/><circle cx="244.7" cy="45.6" r="1.7"/><circle cx="245.1" cy="43.9" r="1.7"/><circle cx="245.4" cy="43.1" r="1.7"/><circle cx="245.8" cy="43.2" r="1.7"/><circle cx="246.2" cy="43.4" r="1.7"/><circle cx="246.6" cy="42.5" r="1.7"/><circle cx="247" cy="47.1" r="1.7"/><circle cx="247.3" cy="44.9" r="1.7"/></g>
<g fill="#0000ff" clip-path="url(#ca3)"><circle cx="249.7" cy="36.9" r="1.7"/><circle cx="250" cy="36.2" r="1.7"/><circle cx="250.4" cy="40.5" r="1.7"/><circle cx="250.8" cy="33.5" r="1.7"/><circle cx="251.2" cy="39.1" r="1.7"/><circle cx="251.6" cy="36.7" r="1.7"/><circle cx="251.9" cy="35.8" r="1.7"/><circle cx="252.3" cy="35.1" r="1.7"/><circle cx="252.7" cy="38.6" r="1.7"/><circle cx="253.1" cy="38.3" r="1.7"/><circle cx="253.5" cy="36.5" r="1.7"/><circle cx="253.8" cy="36.1" r="1.7"/><circle cx="254.2" cy="35.4" r="1.7"/><circle cx="254.6" cy="37.4" r="1.7"/><circle cx="255" cy="38.6" r="1.7"/><circle cx="255.4" cy="39.9" r="1.7"/><circle cx="255.8" cy="33.7" r="1.7"/><circle cx="256.1" cy="40" r="1.7"/><circle cx="256.5" cy="35.8" r="1.7"/><circle cx="256.9" cy="36.7" r="1.7"/><circle cx="257.3" cy="35.7" r="1.7"/><circle cx="257.7" cy="35.3" r="1.7"/><circle cx="258" cy="34.5" r="1.7"/><circle cx="258.4" cy="37.3" r="1.7"/><circle cx="258.8" cy="36.4" r="1.7"/><circle cx="259.2" cy="41.1" r="1.7"/><circle cx="259.6" cy="37.1" r="1.7"/><circle cx="260" cy="39" r="1.7"/><circle cx="260.3" cy="37.5" r="1.7"/><circle cx="260.7" cy="34.7" r="1.7"/><circle cx="261.1" cy="37" r="1.7"/><circle cx="261.5" cy="35" r="1.7"/><circle cx="261.9" cy="37.6" r="1.7"/><circle cx="262.2" cy="36.4" r="1.7"/><circle cx="262.6" cy="38" r="1.7"/><circle cx="263" cy="42.3" r="1.7"/><circle cx="263.4" cy="38.6" r="1.7"/><circle cx="263.8" cy="37.7" r="1.7"/><circle cx="264.1" cy="36.8" r="1.7"/><circle cx="264.5" cy="37.1" r="1.7"/><circle cx="264.9" cy="37.4" r="1.7"/><circle cx="265.3" cy="35.2" r="1.7"/><circle cx="265.7" cy="35.8" r="1.7"/><circle cx="266.1" cy="37.9" r="1.7"/><circle cx="266.4" cy="35.3" r="1.7"/><circle cx="266.8" cy="41.1" r="1.7"/><circle cx="267.2" cy="37.7" r="1.7"/><circle cx="267.6" cy="37.4" r="1.7"/><circle cx="268" cy="34.4" r="1.7"/><circle cx="268.3" cy="38.1" r="1.7"/><circle cx="268.7" cy="40" r="1.7"/><circle cx="269.1" cy="36.7" r="1.7"/><circle cx="269.5" cy="33.6" r="1.7"/><circle cx="269.9" cy="37.5" r="1.7"/><circle cx="270.3" cy="37.2" r="1.7"/><circle cx="270.6" cy="37.4" r="1.7"/><circle cx="271" cy="36.9" r="1.7"/><circle cx="271.4" cy="34.4" r="1.7"/><circle cx="271.8" cy="33" r="1.7"/><circle cx="272.2" cy="36" r="1.7"/><circle cx="272.5" cy="37.2" r="1.7"/><circle cx="272.9" cy="33.2" r="1.7"/><circle cx="273.3" cy="36.7" r="1.7"/><circle cx="273.7" cy="36.7" r="1.7"/><circle cx="274.1" cy="37.6" r="1.7"/><circle cx="274.4" cy="37.5" r="1.7"/><circle cx="274.8" cy="36.3" r="1.7"/><circle cx="275.2" cy="37.4" r="1.7"/><circle cx="275.6" cy="35.9" r="1.7"/><circle cx="276" cy="36.5" r="1.7"/><circle cx="276.4" cy="35.6" r="1.7"/><circle cx="276.7" cy="37.4" r="1.7"/><circle cx="277.1" cy="37" r="1.7"/><circle cx="277.5" cy="36.1" r="1.7"/><circle cx="277.9" cy="36.4" r="1.7"/><circle cx="278.3" cy="36.3" r="1.7"/><circle cx="278.6" cy="34.1" r="1.7"/><circle cx="279" cy="38.6" r="1.7"/><circle cx="279.4" cy="40.3" r="1.7"/><circle cx="279.8" cy="34.9" r="1.7"/><circle cx="280.2" cy="36.8" r="1.7"/><circle cx="280.6" cy="33.6" r="1.7"/><circle cx="280.9" cy="36.4" r="1.7"/><circle cx="281.3" cy="38.6" r="1.7"/><circle cx="281.7" cy="31.7" r="1.7"/><circle cx="282.1" cy="35.3" r="1.7"/><circle cx="282.5" cy="37" r="1.7"/><circle cx="282.8" cy="37.6" r="1.7"/><circle cx="283.2" cy="34.9" r="1.7"/><circle cx="283.6" cy="37.4" r="1.7"/><circle cx="284" cy="35.2" r="1.7"/><circle cx="284.4" cy="33.6" r="1.7"/><circle cx="284.8" cy="38.7" r="1.7"/><circle cx="285.1" cy="36.6" r="1.7"/><circle cx="285.5" cy="34.8" r="1.7"/><circle cx="285.9" cy="32.4" r="1.7"/><circle cx="286.3" cy="33.9" r="1.7"/><circle cx="286.7" cy="36.6" r="1.7"/><circle cx="287" cy="32.7" r="1.7"/><circle cx="287.4" cy="36.4" r="1.7"/><circle cx="287.8" cy="35.9" r="1.7"/><circle cx="288.2" cy="34.8" r="1.7"/><circle cx="288.6" cy="37.7" r="1.7"/><circle cx="288.9" cy="29.3" r="1.7"/><circle cx="289.3" cy="33.1" r="1.7"/><circle cx="289.7" cy="35" r="1.7"/><circle cx="290.1" cy="36.5" r="1.7"/><circle cx="290.5" cy="37.7" r="1.7"/><circle cx="290.9" cy="34.6" r="1.7"/><circle cx="291.2" cy="33.9" r="1.7"/><circle cx="291.6" cy="36.1" r="1.7"/><circle cx="292" cy="35.6" r="1.7"/><circle cx="292.4" cy="34.1" r="1.7"/><circle cx="292.8" cy="35.3" r="1.7"/><circle cx="293.1" cy="38.8" r="1.7"/><circle cx="293.5" cy="33.7" r="1.7"/><circle cx="293.9" cy="34.5" r="1.7"/><circle cx="294.3" cy="33.5" r="1.7"/><circle cx="294.7" cy="36.5" r="1.7"/><circle cx="295.1" cy="39.2" r="1.7"/><circle cx="295.4" cy="37.4" r="1.7"/><circle cx="295.8" cy="34.2" r="1.7"/><circle cx="296.2" cy="30.6" r="1.7"/><circle cx="296.6" cy="30" r="1.7"/><circle cx="297" cy="34.1" r="1.7"/><circle cx="297.3" cy="37.6" r="1.7"/><circle cx="297.7" cy="35.3" r="1.7"/><circle cx="298.1" cy="33.7" r="1.7"/><circle cx="298.5" cy="33.7" r="1.7"/><circle cx="298.9" cy="34.3" r="1.7"/><circle cx="299.2" cy="31.8" r="1.7"/><circle cx="299.6" cy="36.2" r="1.7"/><circle cx="300" cy="38.7" r="1.7"/><circle cx="300.4" cy="36.1" r="1.7"/><circle cx="300.8" cy="36.6" r="1.7"/><circle cx="301.2" cy="29.7" r="1.7"/><circle cx="301.5" cy="34.6" r="1.7"/><circle cx="301.9" cy="37" r="1.7"/><circle cx="302.3" cy="32.9" r="1.7"/><circle cx="302.7" cy="32" r="1.7"/><circle cx="303.1" cy="33.9" r="1.7"/><circle cx="303.4" cy="33.6" r="1.7"/><circle cx="303.8" cy="31.9" r="1.7"/><circle cx="304.2" cy="32.8" r="1.7"/><circle cx="304.6" cy="35.2" r="1.7"/><circle cx="305" cy="32.6" r="1.7"/><circle cx="305.4" cy="31.9" r="1.7"/><circle cx="305.7" cy="33" r="1.7"/><circle cx="306.1" cy="31.9" r="1.7"/><circle cx="306.5" cy="32.4" r="1.7"/><circle cx="306.9" cy="34" r="1.7"/><circle cx="307.3" cy="33.8" r="1.7"/><circle cx="307.6" cy="32.2" r="1.7"/><circle cx="308" cy="34.5" r="1.7"/><circle cx="308.4" cy="31" r="1.7"/><circle cx="308.8" cy="30.8" r="1.7"/><circle cx="309.2" cy="37.3" r="1.7"/><circle cx="309.5" cy="33.3" r="1.7"/><circle cx="309.9" cy="34.6" r="1.7"/><circle cx="310.3" cy="34.4" r="1.7"/><circle cx="310.7" cy="32.7" r="1.7"/><circle cx="311.1" cy="33.3" r="1.7"/><circle cx="311.5" cy="31.8" r="1.7"/><circle cx="311.8" cy="32.2" r="1.7"/><circle cx="312.2" cy="32.1" r="1.7"/><circle cx="312.6" cy="34.3" r="1.7"/><circle cx="313" cy="33.4" r="1.7"/><circle cx="313.4" cy="29.7" r="1.7"/><circle cx="313.7" cy="37.6" r="1.7"/><circle cx="314.1" cy="29.1" r="1.7"/><circle cx="314.5" cy="33.6" r="1.7"/><circle cx="314.9" cy="30" r="1.7"/><circle cx="315.3" cy="37.6" r="1.7"/><circle cx="315.7" cy="33.1" r="1.7"/><circle cx="316" cy="30.5" r="1.7"/><circle cx="316.4" cy="31.9" r="1.7"/><circle cx="316.8" cy="30.1" r="1.7"/><circle cx="317.2" cy="33.8" r="1.7"/><circle cx="317.6" cy="33.1" r="1.7"/><circle cx="317.9" cy="33.3" r="1.7"/><circle cx="318.3" cy="30.9" r="1.7"/><circle cx="318.7" cy="30.9" r="1.7"/><circle cx="319.1" cy="32" r="1.7"/><circle cx="319.5" cy="32.2" r="1.7"/><circle cx="319.9" cy="32.2" r="1.7"/></g>
<g fill="#ff0000" clip-path="url(#ca4)"><circle cx="322.1" cy="39.1" r="1.7"/><circle cx="322.5" cy="41.2" r="1.7"/><circle cx="322.9" cy="39.5" r="1.7"/><circle cx="323.3" cy="39.7" r="1.7"/><circle cx="323.7" cy="40.6" r="1.7"/><circle cx="324.1" cy="40.7" r="1.7"/><circle cx="324.4" cy="36.7" r="1.7"/><circle cx="324.8" cy="40.9" r="1.7"/><circle cx="325.2" cy="38.9" r="1.7"/><circle cx="325.6" cy="37.1" r="1.7"/><circle cx="326" cy="38.4" r="1.7"/><circle cx="326.3" cy="39.9" r="1.7"/><circle cx="326.7" cy="38" r="1.7"/><circle cx="327.1" cy="42.9" r="1.7"/><circle cx="327.5" cy="42.6" r="1.7"/><circle cx="327.9" cy="41" r="1.7"/><circle cx="328.3" cy="40.7" r="1.7"/><circle cx="328.6" cy="40.5" r="1.7"/><circle cx="329" cy="36.7" r="1.7"/><circle cx="329.4" cy="37.2" r="1.7"/><circle cx="329.8" cy="40.7" r="1.7"/><circle cx="330.2" cy="40.2" r="1.7"/><circle cx="330.5" cy="42.5" r="1.7"/><circle cx="330.9" cy="40.2" r="1.7"/><circle cx="331.3" cy="43.5" r="1.7"/><circle cx="331.7" cy="38.2" r="1.7"/><circle cx="332.1" cy="42.1" r="1.7"/><circle cx="332.5" cy="40" r="1.7"/><circle cx="332.8" cy="43.8" r="1.7"/><circle cx="333.2" cy="38.6" r="1.7"/><circle cx="333.6" cy="40.2" r="1.7"/><circle cx="334" cy="37.6" r="1.7"/><circle cx="334.4" cy="41.4" r="1.7"/><circle cx="334.7" cy="44.9" r="1.7"/><circle cx="335.1" cy="43.3" r="1.7"/><circle cx="335.5" cy="44.3" r="1.7"/><circle cx="335.9" cy="38.8" r="1.7"/><circle cx="336.3" cy="43.2" r="1.7"/><circle cx="336.6" cy="43.6" r="1.7"/><circle cx="337" cy="41" r="1.7"/><circle cx="337.4" cy="41.8" r="1.7"/><circle cx="337.8" cy="41.4" r="1.7"/><circle cx="338.2" cy="43.5" r="1.7"/><circle cx="338.6" cy="46.5" r="1.7"/><circle cx="338.9" cy="45.3" r="1.7"/><circle cx="339.3" cy="47.1" r="1.7"/><circle cx="339.7" cy="40.3" r="1.7"/><circle cx="340.1" cy="41.2" r="1.7"/><circle cx="340.5" cy="43.8" r="1.7"/><circle cx="340.8" cy="41.9" r="1.7"/><circle cx="341.2" cy="41.9" r="1.7"/><circle cx="341.6" cy="42.1" r="1.7"/><circle cx="342" cy="42.4" r="1.7"/><circle cx="342.4" cy="41.8" r="1.7"/><circle cx="342.8" cy="43.5" r="1.7"/><circle cx="343.1" cy="48.2" r="1.7"/><circle cx="343.5" cy="49.4" r="1.7"/><circle cx="343.9" cy="41.6" r="1.7"/><circle cx="344.3" cy="43" r="1.7"/><circle cx="344.7" cy="49.3" r="1.7"/><circle cx="345" cy="44.1" r="1.7"/><circle cx="345.4" cy="46.3" r="1.7"/><circle cx="345.8" cy="45.8" r="1.7"/><circle cx="346.2" cy="49.9" r="1.7"/><circle cx="346.6" cy="43.4" r="1.7"/><circle cx="346.9" cy="45.2" r="1.7"/><circle cx="347.3" cy="43.6" r="1.7"/><circle cx="347.7" cy="43.2" r="1.7"/><circle cx="348.1" cy="42.9" r="1.7"/><circle cx="348.5" cy="42.3" r="1.7"/><circle cx="348.9" cy="45.1" r="1.7"/><circle cx="349.2" cy="45.4" r="1.7"/><circle cx="349.6" cy="47.2" r="1.7"/><circle cx="350" cy="45.1" r="1.7"/><circle cx="350.4" cy="46.7" r="1.7"/><circle cx="350.8" cy="48.7" r="1.7"/><circle cx="351.1" cy="44.1" r="1.7"/><circle cx="351.5" cy="45.2" r="1.7"/><circle cx="351.9" cy="52" r="1.7"/><circle cx="352.3" cy="50.6" r="1.7"/><circle cx="352.7" cy="47.4" r="1.7"/><circle cx="353.1" cy="49.8" r="1.7"/><circle cx="353.4" cy="44.8" r="1.7"/><circle cx="353.8" cy="47" r="1.7"/><circle cx="354.2" cy="46.3" r="1.7"/><circle cx="354.6" cy="45.7" r="1.7"/><circle cx="355" cy="45.1" r="1.7"/><circle cx="355.3" cy="48.4" r="1.7"/><circle cx="355.7" cy="46.8" r="1.7"/><circle cx="356.1" cy="47.6" r="1.7"/><circle cx="356.5" cy="46.7" r="1.7"/><circle cx="356.9" cy="47.3" r="1.7"/><circle cx="357.2" cy="45.8" r="1.7"/><circle cx="357.6" cy="47.7" r="1.7"/><circle cx="358" cy="49.8" r="1.7"/><circle cx="358.4" cy="48.8" r="1.7"/><circle cx="358.8" cy="51.4" r="1.7"/><circle cx="359.2" cy="48.7" r="1.7"/><circle cx="359.5" cy="46.5" r="1.7"/><circle cx="359.9" cy="50.8" r="1.7"/><circle cx="360.3" cy="53" r="1.7"/><circle cx="360.7" cy="50" r="1.7"/><circle cx="361.1" cy="51" r="1.7"/><circle cx="361.4" cy="50.1" r="1.7"/><circle cx="361.8" cy="51.3" r="1.7"/><circle cx="362.2" cy="50.1" r="1.7"/><circle cx="362.6" cy="52.3" r="1.7"/><circle cx="363" cy="47.3" r="1.7"/><circle cx="363.4" cy="50.8" r="1.7"/><circle cx="363.7" cy="49.4" r="1.7"/><circle cx="364.1" cy="48.9" r="1.7"/><circle cx="364.5" cy="50.7" r="1.7"/><circle cx="364.9" cy="49.5" r="1.7"/><circle cx="365.3" cy="50.9" r="1.7"/><circle cx="365.6" cy="51.3" r="1.7"/><circle cx="366" cy="50.8" r="1.7"/><circle cx="366.4" cy="49.3" r="1.7"/><circle cx="366.8" cy="52.7" r="1.7"/><circle cx="367.2" cy="51.9" r="1.7"/><circle cx="367.6" cy="51.7" r="1.7"/><circle cx="367.9" cy="51.1" r="1.7"/><circle cx="368.3" cy="47.6" r="1.7"/><circle cx="368.7" cy="49.9" r="1.7"/><circle cx="369.1" cy="50.3" r="1.7"/><circle cx="369.5" cy="49.3" r="1.7"/><circle cx="369.8" cy="47.4" r="1.7"/><circle cx="370.2" cy="50.9" r="1.7"/><circle cx="370.6" cy="47.2" r="1.7"/><circle cx="371" cy="53.8" r="1.7"/><circle cx="371.4" cy="50.8" r="1.7"/><circle cx="371.7" cy="46" r="1.7"/><circle cx="372.1" cy="45.7" r="1.7"/><circle cx="372.5" cy="48.3" r="1.7"/><circle cx="372.9" cy="49.4" r="1.7"/><circle cx="373.3" cy="46.8" r="1.7"/><circle cx="373.7" cy="49.1" r="1.7"/><circle cx="374" cy="45" r="1.7"/><circle cx="374.4" cy="45.6" r="1.7"/><circle cx="374.8" cy="46.2" r="1.7"/><circle cx="375.2" cy="49.2" r="1.7"/><circle cx="375.6" cy="45.4" r="1.7"/><circle cx="375.9" cy="47.6" r="1.7"/><circle cx="376.3" cy="47.3" r="1.7"/><circle cx="376.7" cy="47.4" r="1.7"/><circle cx="377.1" cy="46.6" r="1.7"/><circle cx="377.5" cy="45.1" r="1.7"/><circle cx="377.9" cy="44.2" r="1.7"/><circle cx="378.2" cy="43.9" r="1.7"/><circle cx="378.6" cy="38.6" r="1.7"/><circle cx="379" cy="45.8" r="1.7"/><circle cx="379.4" cy="42.6" r="1.7"/><circle cx="379.8" cy="46" r="1.7"/><circle cx="380.1" cy="44.8" r="1.7"/><circle cx="380.5" cy="46.5" r="1.7"/><circle cx="380.9" cy="41.6" r="1.7"/><circle cx="381.3" cy="43.3" r="1.7"/><circle cx="381.7" cy="43.4" r="1.7"/><circle cx="382" cy="43.8" r="1.7"/><circle cx="382.4" cy="41.5" r="1.7"/><circle cx="382.8" cy="44.2" r="1.7"/><circle cx="383.2" cy="42.3" r="1.7"/><circle cx="383.6" cy="37.9" r="1.7"/><circle cx="384" cy="43.1" r="1.7"/><circle cx="384.3" cy="43.9" r="1.7"/><circle cx="384.7" cy="44.5" r="1.7"/><circle cx="385.1" cy="40.7" r="1.7"/><circle cx="385.5" cy="42.1" r="1.7"/><circle cx="385.9" cy="43.6" r="1.7"/><circle cx="386.2" cy="43.6" r="1.7"/><circle cx="386.6" cy="41.7" r="1.7"/><circle cx="387" cy="43.7" r="1.7"/><circle cx="387.4" cy="37.4" r="1.7"/><circle cx="387.8" cy="41.8" r="1.7"/><circle cx="388.2" cy="41.7" r="1.7"/><circle cx="388.5" cy="41.4" r="1.7"/><circle cx="388.9" cy="44.7" r="1.7"/><circle cx="389.3" cy="43.8" r="1.7"/><circle cx="389.7" cy="41.6" r="1.7"/><circle cx="390.1" cy="40.8" r="1.7"/><circle cx="390.4" cy="43.1" r="1.7"/><circle cx="390.8" cy="37.2" r="1.7"/><circle cx="391.2" cy="39.6" r="1.7"/><circle cx="391.6" cy="37.8" r="1.7"/><circle cx="392" cy="38" r="1.7"/><circle cx="392.4" cy="40.7" r="1.7"/></g>
<g fill="#000000" clip-path="url(#ca5)"><circle cx="394.6" cy="93.3" r="1.7"/><circle cx="395" cy="94.7" r="1.7"/><circle cx="395.4" cy="95.8" r="1.7"/><circle cx="395.7" cy="96.3" r="1.7"/><circle cx="396.1" cy="95.8" r="1.7"/><circle cx="396.4" cy="95.9" r="1.7"/><circle cx="396.8" cy="96.5" r="1.7"/><circle cx="397.1" cy="96.4" r="1.7"/><circle cx="397.5" cy="97.2" r="1.7"/><circle cx="397.8" cy="97.3" r="1.7"/><circle cx="398.2" cy="97.6" r="1.7"/><circle cx="398.5" cy="98.2" r="1.7"/><circle cx="398.9" cy="98.2" r="1.7"/><circle cx="399.2" cy="98.5" r="1.7"/><circle cx="399.6" cy="98.6" r="1.7"/><circle cx="399.9" cy="98.8" r="1.7"/><circle cx="400.3" cy="99.1" r="1.7"/><circle cx="400.6" cy="99.6" r="1.7"/><circle cx="401" cy="99.6" r="1.7"/><circle cx="401.4" cy="99.7" r="1.7"/><circle cx="401.7" cy="100.1" r="1.7"/><circle cx="402.1" cy="100.1" r="1.7"/><circle cx="402.4" cy="100.3" r="1.7"/><circle cx="402.8" cy="100.4" r="1.7"/><circle cx="403.1" cy="100.8" r="1.7"/><circle cx="403.5" cy="100.8" r="1.7"/><circle cx="403.8" cy="101" r="1.7"/><circle cx="404.2" cy="101.2" r="1.7"/><circle cx="404.5" cy="101.4" r="1.7"/><circle cx="404.9" cy="101.5" r="1.7"/><circle cx="405.2" cy="101.7" r="1.7"/><circle cx="405.6" cy="101.6" r="1.7"/><circle cx="405.9" cy="101.6" r="1.7"/><circle cx="406.3" cy="101.6" r="1.7"/><circle cx="406.6" cy="101.7" r="1.7"/><circle cx="407" cy="101.9" r="1.7"/><circle cx="407.3" cy="101.7" r="1.7"/><circle cx="407.7" cy="102" r="1.7"/><circle cx="408.1" cy="101.8" r="1.7"/><circle cx="408.4" cy="101.9" r="1.7"/><circle cx="408.8" cy="102.1" r="1.7"/><circle cx="409.1" cy="102.1" r="1.7"/><circle cx="409.5" cy="101.8" r="1.7"/><circle cx="409.8" cy="101.9" r="1.7"/><circle cx="410.2" cy="101.8" r="1.7"/><circle cx="410.5" cy="101.3" r="1.7"/><circle cx="410.9" cy="101.7" r="1.7"/><circle cx="411.2" cy="101.7" r="1.7"/><circle cx="411.6" cy="101.5" r="1.7"/><circle cx="411.9" cy="101.6" r="1.7"/><circle cx="412.3" cy="101.4" r="1.7"/><circle cx="412.6" cy="101.2" r="1.7"/><circle cx="413" cy="101.3" r="1.7"/><circle cx="413.3" cy="101" r="1.7"/><circle cx="413.7" cy="100.9" r="1.7"/><circle cx="414.1" cy="100.7" r="1.7"/><circle cx="414.4" cy="100.8" r="1.7"/><circle cx="414.8" cy="100" r="1.7"/><circle cx="415.1" cy="100.2" r="1.7"/><circle cx="415.5" cy="99.8" r="1.7"/><circle cx="415.8" cy="99.9" r="1.7"/><circle cx="416.2" cy="99.7" r="1.7"/><circle cx="416.5" cy="99.3" r="1.7"/><circle cx="416.9" cy="99.1" r="1.7"/><circle cx="417.2" cy="98.6" r="1.7"/><circle cx="417.6" cy="98.7" r="1.7"/><circle cx="417.9" cy="98.4" r="1.7"/><circle cx="418.3" cy="97.9" r="1.7"/><circle cx="418.6" cy="97.5" r="1.7"/><circle cx="419" cy="97.1" r="1.7"/><circle cx="419.3" cy="97" r="1.7"/><circle cx="419.7" cy="96.6" r="1.7"/><circle cx="420" cy="96.6" r="1.7"/><circle cx="420.4" cy="95.6" r="1.7"/><circle cx="420.8" cy="95.3" r="1.7"/><circle cx="421.1" cy="94.9" r="1.7"/><circle cx="421.5" cy="95.5" r="1.7"/><circle cx="421.8" cy="94.2" r="1.7"/><circle cx="422.2" cy="94.5" r="1.7"/><circle cx="422.5" cy="93.6" r="1.7"/><circle cx="422.9" cy="93.2" r="1.7"/><circle cx="423.2" cy="92.4" r="1.7"/><circle cx="423.6" cy="92.7" r="1.7"/><circle cx="423.9" cy="92.3" r="1.7"/><circle cx="424.3" cy="92.3" r="1.7"/><circle cx="424.6" cy="92" r="1.7"/><circle cx="425" cy="90.5" r="1.7"/><circle cx="425.3" cy="91" r="1.7"/><circle cx="425.7" cy="89.5" r="1.7"/><circle cx="426" cy="89.8" r="1.7"/><circle cx="426.4" cy="89.5" r="1.7"/><circle cx="426.8" cy="87.8" r="1.7"/><circle cx="427.1" cy="87.4" r="1.7"/><circle cx="427.5" cy="88.4" r="1.7"/><circle cx="427.8" cy="87.3" r="1.7"/><circle cx="428.2" cy="86.6" r="1.7"/><circle cx="428.5" cy="85.5" r="1.7"/><circle cx="428.9" cy="86.3" r="1.7"/><circle cx="429.2" cy="85.5" r="1.7"/><circle cx="429.6" cy="84.7" r="1.7"/><circle cx="429.9" cy="83.3" r="1.7"/><circle cx="430.3" cy="82.6" r="1.7"/><circle cx="430.6" cy="83.7" r="1.7"/><circle cx="431" cy="80.4" r="1.7"/><circle cx="431.3" cy="81.5" r="1.7"/><circle cx="431.7" cy="82.5" r="1.7"/><circle cx="432" cy="83" r="1.7"/><circle cx="432.4" cy="81.1" r="1.7"/><circle cx="432.7" cy="83.1" r="1.7"/><circle cx="433.1" cy="79.1" r="1.7"/><circle cx="433.5" cy="78" r="1.7"/><circle cx="433.8" cy="76.4" r="1.7"/><circle cx="434.2" cy="77" r="1.7"/><circle cx="434.5" cy="79.8" r="1.7"/><circle cx="434.9" cy="77.1" r="1.7"/><circle cx="435.2" cy="75" r="1.7"/><circle cx="435.6" cy="79.1" r="1.7"/><circle cx="435.9" cy="76.4" r="1.7"/><circle cx="436.3" cy="73.4" r="1.7"/><circle cx="436.6" cy="73.8" r="1.7"/><circle cx="437" cy="77" r="1.7"/><circle cx="437.3" cy="73.8" r="1.7"/><circle cx="437.7" cy="72.3" r="1.7"/><circle cx="438" cy="67.8" r="1.7"/><circle cx="438.4" cy="72.1" r="1.7"/><circle cx="438.7" cy="72.5" r="1.7"/><circle cx="439.1" cy="69.7" r="1.7"/><circle cx="439.5" cy="69" r="1.7"/><circle cx="439.8" cy="67.9" r="1.7"/><circle cx="440.2" cy="65.5" r="1.7"/><circle cx="440.5" cy="68.2" r="1.7"/><circle cx="440.9" cy="70.5" r="1.7"/><circle cx="441.2" cy="66.9" r="1.7"/><circle cx="441.6" cy="66.5" r="1.7"/><circle cx="441.9" cy="63.8" r="1.7"/><circle cx="442.3" cy="63.6" r="1.7"/><circle cx="442.6" cy="66.7" r="1.7"/><circle cx="443" cy="62.7" r="1.7"/><circle cx="443.3" cy="61.6" r="1.7"/><circle cx="443.7" cy="64" r="1.7"/><circle cx="444" cy="60.7" r="1.7"/><circle cx="444.4" cy="62.2" r="1.7"/><circle cx="444.7" cy="61.7" r="1.7"/><circle cx="445.1" cy="62" r="1.7"/><circle cx="445.4" cy="59.1" r="1.7"/><circle cx="445.8" cy="53.2" r="1.7"/><circle cx="446.2" cy="59.7" r="1.7"/><circle cx="446.5" cy="63" r="1.7"/><circle cx="446.9" cy="60.1" r="1.7"/><circle cx="447.2" cy="60.6" r="1.7"/><circle cx="447.6" cy="57.7" r="1.7"/><circle cx="447.9" cy="58.6" r="1.7"/><circle cx="448.3" cy="50.7" r="1.7"/><circle cx="448.6" cy="55.3" r="1.7"/><circle cx="449" cy="51.7" r="1.7"/><circle cx="449.3" cy="58.7" r="1.7"/><circle cx="449.7" cy="56.9" r="1.7"/><circle cx="450" cy="49.9" r="1.7"/><circle cx="450.4" cy="60.5" r="1.7"/><circle cx="450.7" cy="54.8" r="1.7"/><circle cx="451.1" cy="59.5" r="1.7"/><circle cx="451.4" cy="49.9" r="1.7"/><circle cx="451.8" cy="58.6" r="1.7"/><circle cx="452.2" cy="54.9" r="1.7"/><circle cx="452.5" cy="54.2" r="1.7"/><circle cx="452.9" cy="58.6" r="1.7"/><circle cx="453.2" cy="45.4" r="1.7"/><circle cx="453.6" cy="53.3" r="1.7"/><circle cx="453.9" cy="47.3" r="1.7"/><circle cx="454.3" cy="54.5" r="1.7"/><circle cx="454.6" cy="56.8" r="1.7"/><circle cx="455" cy="51.2" r="1.7"/><circle cx="455.3" cy="51" r="1.7"/><circle cx="455.7" cy="42" r="1.7"/><circle cx="456" cy="54.7" r="1.7"/><circle cx="456.4" cy="56.1" r="1.7"/><circle cx="456.7" cy="53.2" r="1.7"/><circle cx="457.1" cy="49.7" r="1.7"/><circle cx="457.4" cy="48.7" r="1.7"/><circle cx="457.8" cy="52.9" r="1.7"/><circle cx="458.1" cy="51.4" r="1.7"/><circle cx="458.5" cy="48.3" r="1.7"/><circle cx="458.9" cy="46.4" r="1.7"/><circle cx="459.2" cy="51.9" r="1.7"/><circle cx="459.6" cy="49.4" r="1.7"/><circle cx="459.9" cy="59" r="1.7"/><circle cx="460.3" cy="53" r="1.7"/><circle cx="460.6" cy="48.2" r="1.7"/><circle cx="461" cy="49.7" r="1.7"/><circle cx="461.3" cy="50.2" r="1.7"/><circle cx="461.7" cy="44.2" r="1.7"/><circle cx="462" cy="50.5" r="1.7"/><circle cx="462.4" cy="53.3" r="1.7"/><circle cx="462.7" cy="48.9" r="1.7"/><circle cx="463.1" cy="48.9" r="1.7"/><circle cx="463.4" cy="53.5" r="1.7"/><circle cx="463.8" cy="46.3" r="1.7"/><circle cx="464.1" cy="44" r="1.7"/><circle cx="464.5" cy="51.8" r="1.7"/><circle cx="464.9" cy="52.8" r="1.7"/></g>
<g fill="#bfbf00" clip-path="url(#ca6)"><circle cx="467.1" cy="37.6" r="1.7"/><circle cx="467.5" cy="34.8" r="1.7"/><circle cx="467.9" cy="38.6" r="1.7"/><circle cx="468.3" cy="39" r="1.7"/><circle cx="468.7" cy="38.7" r="1.7"/><circle cx="469.1" cy="37" r="1.7"/><circle cx="469.4" cy="37.1" r="1.7"/><circle cx="469.8" cy="37.9" r="1.7"/><circle cx="470.2" cy="35.1" r="1.7"/><circle cx="470.6" cy="32.9" r="1.7"/><circle cx="471" cy="38.8" r="1.7"/><circle cx="471.3" cy="35.5" r="1.7"/><circle cx="471.7" cy="37.1" r="1.7"/><circle cx="472.1" cy="31.5" r="1.7"/><circle cx="472.5" cy="39.5" r="1.7"/><circle cx="472.9" cy="38.4" r="1.7"/><circle cx="473.3" cy="37.5" r="1.7"/><circle cx="473.6" cy="40.7" r="1.7"/><circle cx="474" cy="38.2" r="1.7"/><circle cx="474.4" cy="36.3" r="1.7"/><circle cx="474.8" cy="40.8" r="1.7"/><circle cx="475.2" cy="37.5" r="1.7"/><circle cx="475.5" cy="34.2" r="1.7"/><circle cx="475.9" cy="39.1" r="1.7"/><circle cx="476.3" cy="39.7" r="1.7"/><circle cx="476.7" cy="43.1" r="1.7"/><circle cx="477.1" cy="38.2" r="1.7"/><circle cx="477.5" cy="41.3" r="1.7"/><circle cx="477.8" cy="36.8" r="1.7"/><circle cx="478.2" cy="34.6" r="1.7"/><circle cx="478.6" cy="36.9" r="1.7"/><circle cx="479" cy="39.7" r="1.7"/><circle cx="479.4" cy="36.7" r="1.7"/><circle cx="479.7" cy="39.1" r="1.7"/><circle cx="480.1" cy="40.5" r="1.7"/><circle cx="480.5" cy="39.2" r="1.7"/><circle cx="480.9" cy="37.7" r="1.7"/><circle cx="481.3" cy="39" r="1.7"/><circle cx="481.6" cy="37.2" r="1.7"/><circle cx="482" cy="33.9" r="1.7"/><circle cx="482.4" cy="37" r="1.7"/><circle cx="482.8" cy="36.8" r="1.7"/><circle cx="483.2" cy="39.7" r="1.7"/><circle cx="483.6" cy="35.6" r="1.7"/><circle cx="483.9" cy="37.7" r="1.7"/><circle cx="484.3" cy="36.4" r="1.7"/><circle cx="484.7" cy="40.1" r="1.7"/><circle cx="485.1" cy="38" r="1.7"/><circle cx="485.5" cy="43.4" r="1.7"/><circle cx="485.8" cy="39.3" r="1.7"/><circle cx="486.2" cy="40.3" r="1.7"/><circle cx="486.6" cy="40.7" r="1.7"/><circle cx="487" cy="35.1" r="1.7"/><circle cx="487.4" cy="41.9" r="1.7"/><circle cx="487.8" cy="39" r="1.7"/><circle cx="488.1" cy="39.1" r="1.7"/><circle cx="488.5" cy="37.7" r="1.7"/><circle cx="488.9" cy="36.7" r="1.7"/><circle cx="489.3" cy="42.2" r="1.7"/><circle cx="489.7" cy="40" r="1.7"/><circle cx="490" cy="40.4" r="1.7"/><circle cx="490.4" cy="37.5" r="1.7"/><circle cx="490.8" cy="37.1" r="1.7"/><circle cx="491.2" cy="39.9" r="1.7"/><circle cx="491.6" cy="40.2" r="1.7"/><circle cx="491.9" cy="41.3" r="1.7"/><circle cx="492.3" cy="38.5" r="1.7"/><circle cx="492.7" cy="35.8" r="1.7"/><circle cx="493.1" cy="38.5" r="1.7"/><circle cx="493.5" cy="40.8" r="1.7"/><circle cx="493.9" cy="41.1" r="1.7"/><circle cx="494.2" cy="40.9" r="1.7"/><circle cx="494.6" cy="42.9" r="1.7"/><circle cx="495" cy="36" r="1.7"/><circle cx="495.4" cy="39.5" r="1.7"/><circle cx="495.8" cy="40.4" r="1.7"/><circle cx="496.1" cy="35.1" r="1.7"/><circle cx="496.5" cy="39.4" r="1.7"/><circle cx="496.9" cy="36.8" r="1.7"/><circle cx="497.3" cy="39.4" r="1.7"/><circle cx="497.7" cy="37.7" r="1.7"/><circle cx="498.1" cy="39.9" r="1.7"/><circle cx="498.4" cy="40.8" r="1.7"/><circle cx="498.8" cy="39.3" r="1.7"/><circle cx="499.2" cy="38.7" r="1.7"/><circle cx="499.6" cy="38" r="1.7"/><circle cx="500" cy="39.9" r="1.7"/><circle cx="500.3" cy="40.9" r="1.7"/><circle cx="500.7" cy="41.2" r="1.7"/><circle cx="501.1" cy="39.8" r="1.7"/><circle cx="501.5" cy="41.5" r="1.7"/><circle cx="501.9" cy="41.2" r="1.7"/><circle cx="502.2" cy="39.5" r="1.7"/><circle cx="502.6" cy="39.4" r="1.7"/><circle cx="503" cy="39.6" r="1.7"/><circle cx="503.4" cy="42.3" r="1.7"/><circle cx="503.8" cy="43.7" r="1.7"/><circle cx="504.2" cy="40.2" r="1.7"/><circle cx="504.5" cy="40.6" r="1.7"/><circle cx="504.9" cy="41.6" r="1.7"/><circle cx="505.3" cy="40.5" r="1.7"/><circle cx="505.7" cy="39.2" r="1.7"/><circle cx="506.1" cy="41.4" r="1.7"/><circle cx="506.4" cy="40.1" r="1.7"/><circle cx="506.8" cy="43" r="1.7"/><circle cx="507.2" cy="41.5" r="1.7"/><circle cx="507.6" cy="42.7" r="1.7"/><circle cx="508" cy="44" r="1.7"/><circle cx="508.4" cy="40.1" r="1.7"/><circle cx="508.7" cy="46.9" r="1.7"/><circle cx="509.1" cy="41.2" r="1.7"/><circle cx="509.5" cy="39.4" r="1.7"/><circle cx="509.9" cy="40.2" r="1.7"/><circle cx="510.3" cy="44.2" r="1.7"/><circle cx="510.6" cy="40.5" r="1.7"/><circle cx="511" cy="44.8" r="1.7"/><circle cx="511.4" cy="42.9" r="1.7"/><circle cx="511.8" cy="38.1" r="1.7"/><circle cx="512.2" cy="40.7" r="1.7"/><circle cx="512.6" cy="38.6" r="1.7"/><circle cx="512.9" cy="43.3" r="1.7"/><circle cx="513.3" cy="45.3" r="1.7"/><circle cx="513.7" cy="42.5" r="1.7"/><circle cx="514.1" cy="38.3" r="1.7"/><circle cx="514.5" cy="39.1" r="1.7"/><circle cx="514.8" cy="38.8" r="1.7"/><circle cx="515.2" cy="41.3" r="1.7"/><circle cx="515.6" cy="41.1" r="1.7"/><circle cx="516" cy="41.3" r="1.7"/><circle cx="516.4" cy="34.9" r="1.7"/><circle cx="516.7" cy="40.7" r="1.7"/><circle cx="517.1" cy="37.2" r="1.7"/><circle cx="517.5" cy="41.2" r="1.7"/><circle cx="517.9" cy="38" r="1.7"/><circle cx="518.3" cy="43.1" r="1.7"/><circle cx="518.7" cy="41.8" r="1.7"/><circle cx="519" cy="40.1" r="1.7"/><circle cx="519.4" cy="42" r="1.7"/><circle cx="519.8" cy="41.6" r="1.7"/><circle cx="520.2" cy="41.1" r="1.7"/><circle cx="520.6" cy="41.8" r="1.7"/><circle cx="520.9" cy="37.5" r="1.7"/><circle cx="521.3" cy="38.3" r="1.7"/><circle cx="521.7" cy="43.5" r="1.7"/><circle cx="522.1" cy="37.1" r="1.7"/><circle cx="522.5" cy="40.7" r="1.7"/><circle cx="522.9" cy="40.6" r="1.7"/><circle cx="523.2" cy="40.9" r="1.7"/><circle cx="523.6" cy="38.7" r="1.7"/><circle cx="524" cy="39" r="1.7"/><circle cx="524.4" cy="41.6" r="1.7"/><circle cx="524.8" cy="40.4" r="1.7"/><circle cx="525.1" cy="43.1" r="1.7"/><circle cx="525.5" cy="36.6" r="1.7"/><circle cx="525.9" cy="42.2" r="1.7"/><circle cx="526.3" cy="42.2" r="1.7"/><circle cx="526.7" cy="41.8" r="1.7"/><circle cx="527" cy="40" r="1.7"/><circle cx="527.4" cy="38.8" r="1.7"/><circle cx="527.8" cy="41" r="1.7"/><circle cx="528.2" cy="40.2" r="1.7"/><circle cx="528.6" cy="40.9" r="1.7"/><circle cx="529" cy="37.5" r="1.7"/><circle cx="529.3" cy="39.7" r="1.7"/><circle cx="529.7" cy="43.6" r="1.7"/><circle cx="530.1" cy="37" r="1.7"/><circle cx="530.5" cy="39.3" r="1.7"/><circle cx="530.9" cy="36" r="1.7"/><circle cx="531.2" cy="41.2" r="1.7"/><circle cx="531.6" cy="40.9" r="1.7"/><circle cx="532" cy="40.2" r="1.7"/><circle cx="532.4" cy="42.7" r="1.7"/><circle cx="532.8" cy="40.5" r="1.7"/><circle cx="533.2" cy="37.1" r="1.7"/><circle cx="533.5" cy="38.2" r="1.7"/><circle cx="533.9" cy="44.6" r="1.7"/><circle cx="534.3" cy="36.9" r="1.7"/><circle cx="534.7" cy="38.8" r="1.7"/><circle cx="535.1" cy="37.8" r="1.7"/><circle cx="535.4" cy="39.4" r="1.7"/><circle cx="535.8" cy="39" r="1.7"/><circle cx="536.2" cy="39.2" r="1.7"/><circle cx="536.6" cy="39.2" r="1.7"/><circle cx="537" cy="41.4" r="1.7"/><circle cx="537.4" cy="37" r="1.7"/></g>
<g stroke="#505050" stroke-width="0.95" fill="none">
<rect x="31" y="26.3" width="507.5" height="81.1"/>
<path d="M103.5 26.3V107.4"/>
<path d="M176 26.3V107.4"/>
<path d="M248.5 26.3V107.4"/>
<path d="M321 26.3V107.4"/>
<path d="M393.5 26.3V107.4"/>
<path d="M466 26.3V107.4"/>
<path d="M103.5 67.9H176"/>
<path d="M43.9 26.3v-2.6M67.2 26.3v-2.6M90.7 26.3v-2.6M116.3 26.3v-2.6M139.8 26.3v-2.6M163.2 26.3v-2.6M188.8 26.3v-2.6M212.2 26.3v-2.6M235.7 26.3v-2.6M261.4 26.3v-2.6M284.8 26.3v-2.6M308.1 26.3v-2.6M333.9 26.3v-2.6M357.2 26.3v-2.6M380.6 26.3v-2.6M406.4 26.3v-2.6M429.8 26.3v-2.6M453.1 26.3v-2.6M478.9 26.3v-2.6M502.2 26.3v-2.6M525.6 26.3v-2.6M31 44.2h-2.6M538.5 44.2h2.6M31 66.6h-2.6M538.5 66.6h2.6M31 89h-2.6M538.5 89h2.6M103.5 79h-2.6M103.5 93.3h-2.6"/>
</g>
<text x="43.9" y="19.3" text-anchor="middle" >1</text>
<text x="67.2" y="19.3" text-anchor="middle" >0</text>
<text x="90.7" y="19.3" text-anchor="middle" >−1</text>
<text x="116.3" y="19.3" text-anchor="middle" >1</text>
<text x="139.8" y="19.3" text-anchor="middle" >0</text>
<text x="163.2" y="19.3" text-anchor="middle" >−1</text>
<text x="188.8" y="19.3" text-anchor="middle" >1</text>
<text x="212.2" y="19.3" text-anchor="middle" >0</text>
<text x="235.7" y="19.3" text-anchor="middle" >−1</text>
<text x="261.4" y="19.3" text-anchor="middle" >1</text>
<text x="284.8" y="19.3" text-anchor="middle" >0</text>
<text x="308.1" y="19.3" text-anchor="middle" >−1</text>
<text x="333.9" y="19.3" text-anchor="middle" >1</text>
<text x="357.2" y="19.3" text-anchor="middle" >0</text>
<text x="380.6" y="19.3" text-anchor="middle" >−1</text>
<text x="406.4" y="19.3" text-anchor="middle" >1</text>
<text x="429.8" y="19.3" text-anchor="middle" >0</text>
<text x="453.1" y="19.3" text-anchor="middle" >−1</text>
<text x="478.9" y="19.3" text-anchor="middle" >1</text>
<text x="502.2" y="19.3" text-anchor="middle" >0</text>
<text x="525.6" y="19.3" text-anchor="middle" >−1</text>
<text x="25.2" y="47" text-anchor="end" >15</text>
<text x="25.2" y="69.4" text-anchor="end" >10</text>
<text x="25.2" y="91.8" text-anchor="end" >5</text>
<text x="97.3" y="81.8" text-anchor="end" >0.9</text>
<text x="97.3" y="96.1" text-anchor="end" >0.8</text>
<text x="283.1" y="10.5" text-anchor="middle" >Δ<tspan font-style="italic">f</tspan><tspan font-style="italic" font-size="5.3" dy="1.3">r</tspan><tspan dy="-1.3"> [kHz]</tspan></text>
<text transform="translate(11,66.3) rotate(-90)" text-anchor="middle" font-size="7.9"><tspan font-style="italic" font-family="'DejaVu Serif', 'Liberation Serif', serif">I</tspan><tspan font-style="italic" font-size="5.5" dy="1.5">M</tspan><tspan font-style="italic" font-size="3.9" dy="1">FP</tspan><tspan dy="-2.5"> [a.u]</tspan></text>
<text x="12" y="22" text-anchor="start" >(a)</text>
<text x="12" y="125.6" text-anchor="start" >(b)</text>
<text x="12" y="148" text-anchor="start" >(c)</text>
<text x="12" y="279.2" text-anchor="start" >(d)</text>
<text x="12" y="319.8" text-anchor="start" >(e)</text>
<defs>
<linearGradient id="b00"><stop offset="0%" stop-color="#3f4889"/><stop offset="5.6%" stop-color="#414487"/><stop offset="11.1%" stop-color="#423f85"/><stop offset="16.7%" stop-color="#443983"/><stop offset="22.2%" stop-color="#453781"/><stop offset="27.8%" stop-color="#46307e"/><stop offset="33.3%" stop-color="#46327e"/><stop offset="38.9%" stop-color="#472f7d"/><stop offset="44.4%" stop-color="#472d7b"/><stop offset="50%" stop-color="#482979"/><stop offset="55.6%" stop-color="#472d7b"/><stop offset="61.1%" stop-color="#472a7a"/><stop offset="66.7%" stop-color="#482979"/><stop offset="72.2%" stop-color="#482878"/><stop offset="77.8%" stop-color="#482878"/><stop offset="83.3%" stop-color="#482878"/><stop offset="88.9%" stop-color="#482677"/><stop offset="94.4%" stop-color="#482677"/><stop offset="100%" stop-color="#472a7a"/></linearGradient>
<linearGradient id="b01"><stop offset="0%" stop-color="#238a8d"/><stop offset="5.6%" stop-color="#25838e"/><stop offset="11.1%" stop-color="#2d718e"/><stop offset="16.7%" stop-color="#32658e"/><stop offset="22.2%" stop-color="#355f8d"/><stop offset="27.8%" stop-color="#3a548c"/><stop offset="33.3%" stop-color="#38598c"/><stop offset="38.9%" stop-color="#3b528b"/><stop offset="44.4%" stop-color="#3e4989"/><stop offset="50%" stop-color="#414487"/><stop offset="55.6%" stop-color="#423f85"/><stop offset="61.1%" stop-color="#443a83"/><stop offset="66.7%" stop-color="#453882"/><stop offset="72.2%" stop-color="#46327e"/><stop offset="77.8%" stop-color="#46307e"/><stop offset="83.3%" stop-color="#472f7d"/><stop offset="88.9%" stop-color="#472a7a"/><stop offset="94.4%" stop-color="#472a7a"/><stop offset="100%" stop-color="#472c7a"/></linearGradient>
<linearGradient id="b02"><stop offset="0%" stop-color="#69cd5b"/><stop offset="5.6%" stop-color="#31b57b"/><stop offset="11.1%" stop-color="#4cc26c"/><stop offset="16.7%" stop-color="#34b679"/><stop offset="22.2%" stop-color="#2ab07f"/><stop offset="27.8%" stop-color="#20a386"/><stop offset="33.3%" stop-color="#1f9e89"/><stop offset="38.9%" stop-color="#228b8d"/><stop offset="44.4%" stop-color="#25858e"/><stop offset="50%" stop-color="#2a788e"/><stop offset="55.6%" stop-color="#2c718e"/><stop offset="61.1%" stop-color="#2d708e"/><stop offset="66.7%" stop-color="#30698e"/><stop offset="72.2%" stop-color="#365d8d"/><stop offset="77.8%" stop-color="#3a548c"/><stop offset="83.3%" stop-color="#3b518b"/><stop offset="88.9%" stop-color="#3e4a89"/><stop offset="94.4%" stop-color="#3f4889"/><stop offset="100%" stop-color="#424086"/></linearGradient>
<linearGradient id="b03"><stop offset="0%" stop-color="#86d549"/><stop offset="5.6%" stop-color="#bddf26"/><stop offset="11.1%" stop-color="#addc30"/><stop offset="16.7%" stop-color="#9bd93c"/><stop offset="22.2%" stop-color="#a5db36"/><stop offset="27.8%" stop-color="#9bd93c"/><stop offset="33.3%" stop-color="#86d549"/><stop offset="38.9%" stop-color="#9bd93c"/><stop offset="44.4%" stop-color="#6ccd5a"/><stop offset="50%" stop-color="#54c568"/><stop offset="55.6%" stop-color="#3dbc74"/><stop offset="61.1%" stop-color="#38b977"/><stop offset="66.7%" stop-color="#20a386"/><stop offset="72.2%" stop-color="#22a785"/><stop offset="77.8%" stop-color="#1f968b"/><stop offset="83.3%" stop-color="#1f958b"/><stop offset="88.9%" stop-color="#228b8d"/><stop offset="94.4%" stop-color="#277f8e"/><stop offset="100%" stop-color="#2c728e"/></linearGradient>
<linearGradient id="b04"><stop offset="0%" stop-color="#93d741"/><stop offset="5.6%" stop-color="#a0da39"/><stop offset="11.1%" stop-color="#81d34d"/><stop offset="16.7%" stop-color="#a5db36"/><stop offset="22.2%" stop-color="#a2da37"/><stop offset="27.8%" stop-color="#dde318"/><stop offset="33.3%" stop-color="#eae51a"/><stop offset="38.9%" stop-color="#b0dd2f"/><stop offset="44.4%" stop-color="#aadc32"/><stop offset="50%" stop-color="#8ed645"/><stop offset="55.6%" stop-color="#a8db34"/><stop offset="61.1%" stop-color="#aadc32"/><stop offset="66.7%" stop-color="#b8de29"/><stop offset="72.2%" stop-color="#69cd5b"/><stop offset="77.8%" stop-color="#86d549"/><stop offset="83.3%" stop-color="#63cb5f"/><stop offset="88.9%" stop-color="#4cc26c"/><stop offset="94.4%" stop-color="#42be71"/><stop offset="100%" stop-color="#31b57b"/></linearGradient>
<linearGradient id="b05"><stop offset="0%" stop-color="#1e9d89"/><stop offset="5.6%" stop-color="#20a386"/><stop offset="11.1%" stop-color="#2eb37c"/><stop offset="16.7%" stop-color="#2db27d"/><stop offset="22.2%" stop-color="#2cb17e"/><stop offset="27.8%" stop-color="#44bf70"/><stop offset="33.3%" stop-color="#6ccd5a"/><stop offset="38.9%" stop-color="#5ac864"/><stop offset="44.4%" stop-color="#70cf57"/><stop offset="50%" stop-color="#90d743"/><stop offset="55.6%" stop-color="#6ece58"/><stop offset="61.1%" stop-color="#a5db36"/><stop offset="66.7%" stop-color="#a0da39"/><stop offset="72.2%" stop-color="#8ed645"/><stop offset="77.8%" stop-color="#9dd93b"/><stop offset="83.3%" stop-color="#90d743"/><stop offset="88.9%" stop-color="#93d741"/><stop offset="94.4%" stop-color="#90d743"/><stop offset="100%" stop-color="#93d741"/></linearGradient>
<linearGradient id="b06"><stop offset="0%" stop-color="#39558c"/><stop offset="5.6%" stop-color="#375a8c"/><stop offset="11.1%" stop-color="#34618d"/><stop offset="16.7%" stop-color="#2c728e"/><stop offset="22.2%" stop-color="#2e6f8e"/><stop offset="27.8%" stop-color="#297b8e"/><stop offset="33.3%" stop-color="#238a8d"/><stop offset="38.9%" stop-color="#20928c"/><stop offset="44.4%" stop-color="#20928c"/><stop offset="50%" stop-color="#22a785"/><stop offset="55.6%" stop-color="#27ad81"/><stop offset="61.1%" stop-color="#25ab82"/><stop offset="66.7%" stop-color="#26ad81"/><stop offset="72.2%" stop-color="#44bf70"/><stop offset="77.8%" stop-color="#46c06f"/><stop offset="83.3%" stop-color="#52c569"/><stop offset="88.9%" stop-color="#56c667"/><stop offset="94.4%" stop-color="#65cb5e"/><stop offset="100%" stop-color="#7cd250"/></linearGradient>
<linearGradient id="b07"><stop offset="0%" stop-color="#46337f"/><stop offset="5.6%" stop-color="#472f7d"/><stop offset="11.1%" stop-color="#46327e"/><stop offset="16.7%" stop-color="#443b84"/><stop offset="22.2%" stop-color="#443b84"/><stop offset="27.8%" stop-color="#414487"/><stop offset="33.3%" stop-color="#3f4889"/><stop offset="38.9%" stop-color="#3c508b"/><stop offset="44.4%" stop-color="#39558c"/><stop offset="50%" stop-color="#38588c"/><stop offset="55.6%" stop-color="#355f8d"/><stop offset="61.1%" stop-color="#31678e"/><stop offset="66.7%" stop-color="#2d708e"/><stop offset="72.2%" stop-color="#2c728e"/><stop offset="77.8%" stop-color="#2a768e"/><stop offset="83.3%" stop-color="#25858e"/><stop offset="88.9%" stop-color="#228d8d"/><stop offset="94.4%" stop-color="#1f948c"/><stop offset="100%" stop-color="#1f988b"/></linearGradient>
<linearGradient id="b10"><stop offset="0%" stop-color="#404688"/><stop offset="5.6%" stop-color="#443b84"/><stop offset="11.1%" stop-color="#443a83"/><stop offset="16.7%" stop-color="#443a83"/><stop offset="22.2%" stop-color="#46337f"/><stop offset="27.8%" stop-color="#46337f"/><stop offset="33.3%" stop-color="#46307e"/><stop offset="38.9%" stop-color="#472f7d"/><stop offset="44.4%" stop-color="#472a7a"/><stop offset="50%" stop-color="#472d7b"/><stop offset="55.6%" stop-color="#472c7a"/><stop offset="61.1%" stop-color="#472a7a"/><stop offset="66.7%" stop-color="#472a7a"/><stop offset="72.2%" stop-color="#482979"/><stop offset="77.8%" stop-color="#472a7a"/><stop offset="83.3%" stop-color="#472a7a"/><stop offset="88.9%" stop-color="#482576"/><stop offset="94.4%" stop-color="#482677"/><stop offset="100%" stop-color="#482878"/></linearGradient>
<linearGradient id="b11"><stop offset="0%" stop-color="#2c728e"/><stop offset="5.6%" stop-color="#29798e"/><stop offset="11.1%" stop-color="#306a8e"/><stop offset="16.7%" stop-color="#31678e"/><stop offset="22.2%" stop-color="#355f8d"/><stop offset="27.8%" stop-color="#38588c"/><stop offset="33.3%" stop-color="#3c4f8a"/><stop offset="38.9%" stop-color="#3e4c8a"/><stop offset="44.4%" stop-color="#3f4788"/><stop offset="50%" stop-color="#414487"/><stop offset="55.6%" stop-color="#433e85"/><stop offset="61.1%" stop-color="#443983"/><stop offset="66.7%" stop-color="#453781"/><stop offset="72.2%" stop-color="#453781"/><stop offset="77.8%" stop-color="#46327e"/><stop offset="83.3%" stop-color="#472e7c"/><stop offset="88.9%" stop-color="#472c7a"/><stop offset="94.4%" stop-color="#472c7a"/><stop offset="100%" stop-color="#472a7a"/></linearGradient>
<linearGradient id="b12"><stop offset="0%" stop-color="#3aba76"/><stop offset="5.6%" stop-color="#42be71"/><stop offset="11.1%" stop-color="#2fb47c"/><stop offset="16.7%" stop-color="#24aa83"/><stop offset="22.2%" stop-color="#20a386"/><stop offset="27.8%" stop-color="#1fa187"/><stop offset="33.3%" stop-color="#228c8d"/><stop offset="38.9%" stop-color="#228b8d"/><stop offset="44.4%" stop-color="#26818e"/><stop offset="50%" stop-color="#297a8e"/><stop offset="55.6%" stop-color="#2c728e"/><stop offset="61.1%" stop-color="#306a8e"/><stop offset="66.7%" stop-color="#32658e"/><stop offset="72.2%" stop-color="#39568c"/><stop offset="77.8%" stop-color="#38588c"/><stop offset="83.3%" stop-color="#3b528b"/><stop offset="88.9%" stop-color="#3f4889"/><stop offset="94.4%" stop-color="#414487"/><stop offset="100%" stop-color="#404588"/></linearGradient>
<linearGradient id="b13"><stop offset="0%" stop-color="#73d056"/><stop offset="5.6%" stop-color="#7ad151"/><stop offset="11.1%" stop-color="#70cf57"/><stop offset="16.7%" stop-color="#70cf57"/><stop offset="22.2%" stop-color="#69cd5b"/><stop offset="27.8%" stop-color="#4ac16d"/><stop offset="33.3%" stop-color="#90d743"/><stop offset="38.9%" stop-color="#4ec36b"/><stop offset="44.4%" stop-color="#52c569"/><stop offset="50%" stop-color="#40bd72"/><stop offset="55.6%" stop-color="#44bf70"/><stop offset="61.1%" stop-color="#31b57b"/><stop offset="66.7%" stop-color="#29af7f"/><stop offset="72.2%" stop-color="#22a884"/><stop offset="77.8%" stop-color="#1f9e89"/><stop offset="83.3%" stop-color="#20928c"/><stop offset="88.9%" stop-color="#228d8d"/><stop offset="94.4%" stop-color="#297a8e"/><stop offset="100%" stop-color="#287d8e"/></linearGradient>
<linearGradient id="b14"><stop offset="0%" stop-color="#67cc5c"/><stop offset="5.6%" stop-color="#6ccd5a"/><stop offset="11.1%" stop-color="#5ac864"/><stop offset="16.7%" stop-color="#98d83e"/><stop offset="22.2%" stop-color="#75d054"/><stop offset="27.8%" stop-color="#98d83e"/><stop offset="33.3%" stop-color="#69cd5b"/><stop offset="38.9%" stop-color="#8ed645"/><stop offset="44.4%" stop-color="#86d549"/><stop offset="50%" stop-color="#84d44b"/><stop offset="55.6%" stop-color="#86d549"/><stop offset="61.1%" stop-color="#bade28"/><stop offset="66.7%" stop-color="#8ed645"/><stop offset="72.2%" stop-color="#8ed645"/><stop offset="77.8%" stop-color="#aadc32"/><stop offset="83.3%" stop-color="#5ac864"/><stop offset="88.9%" stop-color="#84d44b"/><stop offset="94.4%" stop-color="#54c568"/><stop offset="100%" stop-color="#42be71"/></linearGradient>
<linearGradient id="b15"><stop offset="0%" stop-color="#228d8d"/><stop offset="5.6%" stop-color="#218e8d"/><stop offset="11.1%" stop-color="#1f988b"/><stop offset="16.7%" stop-color="#1fa287"/><stop offset="22.2%" stop-color="#27ad81"/><stop offset="27.8%" stop-color="#3fbc73"/><stop offset="33.3%" stop-color="#54c568"/><stop offset="38.9%" stop-color="#4ec36b"/><stop offset="44.4%" stop-color="#69cd5b"/><stop offset="50%" stop-color="#7ad151"/><stop offset="55.6%" stop-color="#7cd250"/><stop offset="61.1%" stop-color="#90d743"/><stop offset="66.7%" stop-color="#8bd646"/><stop offset="72.2%" stop-color="#addc30"/><stop offset="77.8%" stop-color="#a2da37"/><stop offset="83.3%" stop-color="#b0dd2f"/><stop offset="88.9%" stop-color="#b8de29"/><stop offset="94.4%" stop-color="#bade28"/><stop offset="100%" stop-color="#a8db34"/></linearGradient>
<linearGradient id="b16"><stop offset="0%" stop-color="#3d4d8a"/><stop offset="5.6%" stop-color="#38588c"/><stop offset="11.1%" stop-color="#365d8d"/><stop offset="16.7%" stop-color="#32648e"/><stop offset="22.2%" stop-color="#2e6d8e"/><stop offset="27.8%" stop-color="#2c728e"/><stop offset="33.3%" stop-color="#277f8e"/><stop offset="38.9%" stop-color="#24878e"/><stop offset="44.4%" stop-color="#228b8d"/><stop offset="50%" stop-color="#1f9a8a"/><stop offset="55.6%" stop-color="#1e9c89"/><stop offset="61.1%" stop-color="#28ae80"/><stop offset="66.7%" stop-color="#35b779"/><stop offset="72.2%" stop-color="#3dbc74"/><stop offset="77.8%" stop-color="#5cc863"/><stop offset="83.3%" stop-color="#75d054"/><stop offset="88.9%" stop-color="#7fd34e"/><stop offset="94.4%" stop-color="#65cb5e"/><stop offset="100%" stop-color="#9dd93b"/></linearGradient>
<linearGradient id="b17"><stop offset="0%" stop-color="#46307e"/><stop offset="5.6%" stop-color="#463480"/><stop offset="11.1%" stop-color="#46337f"/><stop offset="16.7%" stop-color="#443983"/><stop offset="22.2%" stop-color="#433d84"/><stop offset="27.8%" stop-color="#424186"/><stop offset="33.3%" stop-color="#424186"/><stop offset="38.9%" stop-color="#3f4889"/><stop offset="44.4%" stop-color="#3a538b"/><stop offset="50%" stop-color="#38598c"/><stop offset="55.6%" stop-color="#355e8d"/><stop offset="61.1%" stop-color="#30698e"/><stop offset="66.7%" stop-color="#2e6e8e"/><stop offset="72.2%" stop-color="#2c738e"/><stop offset="77.8%" stop-color="#2a788e"/><stop offset="83.3%" stop-color="#228c8d"/><stop offset="88.9%" stop-color="#21918c"/><stop offset="94.4%" stop-color="#1e9d89"/><stop offset="100%" stop-color="#1e9c89"/></linearGradient>
<linearGradient id="b20"><stop offset="0%" stop-color="#404588"/><stop offset="5.6%" stop-color="#414287"/><stop offset="11.1%" stop-color="#433d84"/><stop offset="16.7%" stop-color="#453882"/><stop offset="22.2%" stop-color="#463480"/><stop offset="27.8%" stop-color="#463480"/><stop offset="33.3%" stop-color="#46307e"/><stop offset="38.9%" stop-color="#472e7c"/><stop offset="44.4%" stop-color="#472d7b"/><stop offset="50%" stop-color="#472a7a"/><stop offset="55.6%" stop-color="#472a7a"/><stop offset="61.1%" stop-color="#482979"/><stop offset="66.7%" stop-color="#482979"/><stop offset="72.2%" stop-color="#482677"/><stop offset="77.8%" stop-color="#482677"/><stop offset="83.3%" stop-color="#482878"/><stop offset="88.9%" stop-color="#482878"/><stop offset="94.4%" stop-color="#482878"/><stop offset="100%" stop-color="#472a7a"/></linearGradient>
<linearGradient id="b21"><stop offset="0%" stop-color="#25848e"/><stop offset="5.6%" stop-color="#277e8e"/><stop offset="11.1%" stop-color="#2c728e"/><stop offset="16.7%" stop-color="#30698e"/><stop offset="22.2%" stop-color="#34608d"/><stop offset="27.8%" stop-color="#39558c"/><stop offset="33.3%" stop-color="#3b518b"/><stop offset="38.9%" stop-color="#3f4889"/><stop offset="44.4%" stop-color="#404688"/><stop offset="50%" stop-color="#423f85"/><stop offset="55.6%" stop-color="#433d84"/><stop offset="61.1%" stop-color="#443a83"/><stop offset="66.7%" stop-color="#453581"/><stop offset="72.2%" stop-color="#453581"/><stop offset="77.8%" stop-color="#46337f"/><stop offset="83.3%" stop-color="#46307e"/><stop offset="88.9%" stop-color="#472f7d"/><stop offset="94.4%" stop-color="#472d7b"/><stop offset="100%" stop-color="#472a7a"/></linearGradient>
<linearGradient id="b22"><stop offset="0%" stop-color="#5cc863"/><stop offset="5.6%" stop-color="#42be71"/><stop offset="11.1%" stop-color="#37b878"/><stop offset="16.7%" stop-color="#2fb47c"/><stop offset="22.2%" stop-color="#20a386"/><stop offset="27.8%" stop-color="#1f988b"/><stop offset="33.3%" stop-color="#1f9a8a"/><stop offset="38.9%" stop-color="#1f988b"/><stop offset="44.4%" stop-color="#228b8d"/><stop offset="50%" stop-color="#228c8d"/><stop offset="55.6%" stop-color="#2e6e8e"/><stop offset="61.1%" stop-color="#30698e"/><stop offset="66.7%" stop-color="#365c8d"/><stop offset="72.2%" stop-color="#38598c"/><stop offset="77.8%" stop-color="#375a8c"/><stop offset="83.3%" stop-color="#3b528b"/><stop offset="88.9%" stop-color="#404688"/><stop offset="94.4%" stop-color="#414287"/><stop offset="100%" stop-color="#433d84"/></linearGradient>
<linearGradient id="b23"><stop offset="0%" stop-color="#8bd646"/><stop offset="5.6%" stop-color="#a2da37"/><stop offset="11.1%" stop-color="#9dd93b"/><stop offset="16.7%" stop-color="#a2da37"/><stop offset="22.2%" stop-color="#9dd93b"/><stop offset="27.8%" stop-color="#a0da39"/><stop offset="33.3%" stop-color="#a2da37"/><stop offset="38.9%" stop-color="#75d054"/><stop offset="44.4%" stop-color="#60ca60"/><stop offset="50%" stop-color="#4ec36b"/><stop offset="55.6%" stop-color="#3fbc73"/><stop offset="61.1%" stop-color="#2ab07f"/><stop offset="66.7%" stop-color="#1fa287"/><stop offset="72.2%" stop-color="#1e9c89"/><stop offset="77.8%" stop-color="#1f998a"/><stop offset="83.3%" stop-color="#24878e"/><stop offset="88.9%" stop-color="#24868e"/><stop offset="94.4%" stop-color="#2b758e"/><stop offset="100%" stop-color="#2b748e"/></linearGradient>
<linearGradient id="b24"><stop offset="0%" stop-color="#86d549"/><stop offset="5.6%" stop-color="#84d44b"/><stop offset="11.1%" stop-color="#93d741"/><stop offset="16.7%" stop-color="#9bd93c"/><stop offset="22.2%" stop-color="#d0e11c"/><stop offset="27.8%" stop-color="#a5db36"/><stop offset="33.3%" stop-color="#a5db36"/><stop offset="38.9%" stop-color="#c2df23"/><stop offset="44.4%" stop-color="#d2e21b"/><stop offset="50%" stop-color="#b5de2b"/><stop offset="55.6%" stop-color="#9dd93b"/><stop offset="61.1%" stop-color="#aadc32"/><stop offset="66.7%" stop-color="#7ad151"/><stop offset="72.2%" stop-color="#6ccd5a"/><stop offset="77.8%" stop-color="#58c765"/><stop offset="83.3%" stop-color="#73d056"/><stop offset="88.9%" stop-color="#32b67a"/><stop offset="94.4%" stop-color="#32b67a"/><stop offset="100%" stop-color="#35b779"/></linearGradient>
<linearGradient id="b25"><stop offset="0%" stop-color="#1f988b"/><stop offset="5.6%" stop-color="#23a983"/><stop offset="11.1%" stop-color="#25ab82"/><stop offset="16.7%" stop-color="#28ae80"/><stop offset="22.2%" stop-color="#4cc26c"/><stop offset="27.8%" stop-color="#5cc863"/><stop offset="33.3%" stop-color="#73d056"/><stop offset="38.9%" stop-color="#86d549"/><stop offset="44.4%" stop-color="#89d548"/><stop offset="50%" stop-color="#69cd5b"/><stop offset="55.6%" stop-color="#75d054"/><stop offset="61.1%" stop-color="#bade28"/><stop offset="66.7%" stop-color="#93d741"/><stop offset="72.2%" stop-color="#6ece58"/><stop offset="77.8%" stop-color="#95d840"/><stop offset="83.3%" stop-color="#a8db34"/><stop offset="88.9%" stop-color="#98d83e"/><stop offset="94.4%" stop-color="#8bd646"/><stop offset="100%" stop-color="#5ac864"/></linearGradient>
<linearGradient id="b26"><stop offset="0%" stop-color="#3a548c"/><stop offset="5.6%" stop-color="#375b8d"/><stop offset="11.1%" stop-color="#31678e"/><stop offset="16.7%" stop-color="#306a8e"/><stop offset="22.2%" stop-color="#2c718e"/><stop offset="27.8%" stop-color="#29798e"/><stop offset="33.3%" stop-color="#26828e"/><stop offset="38.9%" stop-color="#218e8d"/><stop offset="44.4%" stop-color="#20928c"/><stop offset="50%" stop-color="#1f988b"/><stop offset="55.6%" stop-color="#1e9d89"/><stop offset="61.1%" stop-color="#25ac82"/><stop offset="66.7%" stop-color="#2ab07f"/><stop offset="72.2%" stop-color="#35b779"/><stop offset="77.8%" stop-color="#32b67a"/><stop offset="83.3%" stop-color="#44bf70"/><stop offset="88.9%" stop-color="#3fbc73"/><stop offset="94.4%" stop-color="#77d153"/><stop offset="100%" stop-color="#86d549"/></linearGradient>
<linearGradient id="b27"><stop offset="0%" stop-color="#46327e"/><stop offset="5.6%" stop-color="#46337f"/><stop offset="11.1%" stop-color="#453781"/><stop offset="16.7%" stop-color="#453781"/><stop offset="22.2%" stop-color="#443a83"/><stop offset="27.8%" stop-color="#404588"/><stop offset="33.3%" stop-color="#404588"/><stop offset="38.9%" stop-color="#3d4d8a"/><stop offset="44.4%" stop-color="#3b518b"/><stop offset="50%" stop-color="#3b518b"/><stop offset="55.6%" stop-color="#365d8d"/><stop offset="61.1%" stop-color="#31688e"/><stop offset="66.7%" stop-color="#2d718e"/><stop offset="72.2%" stop-color="#306a8e"/><stop offset="77.8%" stop-color="#2b758e"/><stop offset="83.3%" stop-color="#26818e"/><stop offset="88.9%" stop-color="#21908d"/><stop offset="94.4%" stop-color="#1f998a"/><stop offset="100%" stop-color="#20a386"/></linearGradient>
<linearGradient id="b30"><stop offset="0%" stop-color="#3e4c8a"/><stop offset="5.6%" stop-color="#424186"/><stop offset="11.1%" stop-color="#443b84"/><stop offset="16.7%" stop-color="#443b84"/><stop offset="22.2%" stop-color="#453781"/><stop offset="27.8%" stop-color="#463480"/><stop offset="33.3%" stop-color="#46307e"/><stop offset="38.9%" stop-color="#472e7c"/><stop offset="44.4%" stop-color="#472f7d"/><stop offset="50%" stop-color="#472a7a"/><stop offset="55.6%" stop-color="#482878"/><stop offset="61.1%" stop-color="#482979"/><stop offset="66.7%" stop-color="#482979"/><stop offset="72.2%" stop-color="#482979"/><stop offset="77.8%" stop-color="#482878"/><stop offset="83.3%" stop-color="#482576"/><stop offset="88.9%" stop-color="#482677"/><stop offset="94.4%" stop-color="#482979"/><stop offset="100%" stop-color="#482878"/></linearGradient>
<linearGradient id="b31"><stop offset="0%" stop-color="#26828e"/><stop offset="5.6%" stop-color="#26828e"/><stop offset="11.1%" stop-color="#2c728e"/><stop offset="16.7%" stop-color="#2e6f8e"/><stop offset="22.2%" stop-color="#31668e"/><stop offset="27.8%" stop-color="#355f8d"/><stop offset="33.3%" stop-color="#375a8c"/><stop offset="38.9%" stop-color="#39568c"/><stop offset="44.4%" stop-color="#3d4e8a"/><stop offset="50%" stop-color="#414287"/><stop offset="55.6%" stop-color="#433e85"/><stop offset="61.1%" stop-color="#443b84"/><stop offset="66.7%" stop-color="#453882"/><stop offset="72.2%" stop-color="#453781"/><stop offset="77.8%" stop-color="#46337f"/><stop offset="83.3%" stop-color="#46307e"/><stop offset="88.9%" stop-color="#472c7a"/><stop offset="94.4%" stop-color="#472d7b"/><stop offset="100%" stop-color="#472d7b"/></linearGradient>
<linearGradient id="b32"><stop offset="0%" stop-color="#89d548"/><stop offset="5.6%" stop-color="#63cb5f"/><stop offset="11.1%" stop-color="#46c06f"/><stop offset="16.7%" stop-color="#2ab07f"/><stop offset="22.2%" stop-color="#28ae80"/><stop offset="27.8%" stop-color="#21a585"/><stop offset="33.3%" stop-color="#1e9c89"/><stop offset="38.9%" stop-color="#1f948c"/><stop offset="44.4%" stop-color="#228d8d"/><stop offset="50%" stop-color="#25838e"/><stop offset="55.6%" stop-color="#26828e"/><stop offset="61.1%" stop-color="#2e6e8e"/><stop offset="66.7%" stop-color="#32648e"/><stop offset="72.2%" stop-color="#33638d"/><stop offset="77.8%" stop-color="#38588c"/><stop offset="83.3%" stop-color="#3a538b"/><stop offset="88.9%" stop-color="#3d4e8a"/><stop offset="94.4%" stop-color="#404688"/><stop offset="100%" stop-color="#404588"/></linearGradient>
<linearGradient id="b33"><stop offset="0%" stop-color="#d8e219"/><stop offset="5.6%" stop-color="#c8e020"/><stop offset="11.1%" stop-color="#cde11d"/><stop offset="16.7%" stop-color="#cde11d"/><stop offset="22.2%" stop-color="#a8db34"/><stop offset="27.8%" stop-color="#b0dd2f"/><stop offset="33.3%" stop-color="#98d83e"/><stop offset="38.9%" stop-color="#86d549"/><stop offset="44.4%" stop-color="#6ccd5a"/><stop offset="50%" stop-color="#84d44b"/><stop offset="55.6%" stop-color="#58c765"/><stop offset="61.1%" stop-color="#32b67a"/><stop offset="66.7%" stop-color="#38b977"/><stop offset="72.2%" stop-color="#1f9f88"/><stop offset="77.8%" stop-color="#21a685"/><stop offset="83.3%" stop-color="#1fa088"/><stop offset="88.9%" stop-color="#1f998a"/><stop offset="94.4%" stop-color="#238a8d"/><stop offset="100%" stop-color="#277e8e"/></linearGradient>
<linearGradient id="b34"><stop offset="0%" stop-color="#bddf26"/><stop offset="5.6%" stop-color="#b8de29"/><stop offset="11.1%" stop-color="#cde11d"/><stop offset="16.7%" stop-color="#b2dd2d"/><stop offset="22.2%" stop-color="#d0e11c"/><stop offset="27.8%" stop-color="#9bd93c"/><stop offset="33.3%" stop-color="#d5e21a"/><stop offset="38.9%" stop-color="#98d83e"/><stop offset="44.4%" stop-color="#b5de2b"/><stop offset="50%" stop-color="#aadc32"/><stop offset="55.6%" stop-color="#eae51a"/><stop offset="61.1%" stop-color="#e2e418"/><stop offset="66.7%" stop-color="#b5de2b"/><stop offset="72.2%" stop-color="#dae319"/><stop offset="77.8%" stop-color="#b2dd2d"/><stop offset="83.3%" stop-color="#77d153"/><stop offset="88.9%" stop-color="#8bd646"/><stop offset="94.4%" stop-color="#60ca60"/><stop offset="100%" stop-color="#70cf57"/></linearGradient>
<linearGradient id="b35"><stop offset="0%" stop-color="#1f9e89"/><stop offset="5.6%" stop-color="#1fa188"/><stop offset="11.1%" stop-color="#2eb37c"/><stop offset="16.7%" stop-color="#40bd72"/><stop offset="22.2%" stop-color="#3aba76"/><stop offset="27.8%" stop-color="#60ca60"/><stop offset="33.3%" stop-color="#69cd5b"/><stop offset="38.9%" stop-color="#7ad151"/><stop offset="44.4%" stop-color="#b8de29"/><stop offset="50%" stop-color="#95d840"/><stop offset="55.6%" stop-color="#addc30"/><stop offset="61.1%" stop-color="#c2df23"/><stop offset="66.7%" stop-color="#dfe318"/><stop offset="72.2%" stop-color="#ece51b"/><stop offset="77.8%" stop-color="#cae11f"/><stop offset="83.3%" stop-color="#fde725"/><stop offset="88.9%" stop-color="#fde725"/><stop offset="94.4%" stop-color="#fde725"/><stop offset="100%" stop-color="#f4e61e"/></linearGradient>
<linearGradient id="b36"><stop offset="0%" stop-color="#3a548c"/><stop offset="5.6%" stop-color="#375a8c"/><stop offset="11.1%" stop-color="#31668e"/><stop offset="16.7%" stop-color="#2f6c8e"/><stop offset="22.2%" stop-color="#2b748e"/><stop offset="27.8%" stop-color="#297b8e"/><stop offset="33.3%" stop-color="#287c8e"/><stop offset="38.9%" stop-color="#218f8d"/><stop offset="44.4%" stop-color="#1f998a"/><stop offset="50%" stop-color="#1fa287"/><stop offset="55.6%" stop-color="#21a685"/><stop offset="61.1%" stop-color="#34b679"/><stop offset="66.7%" stop-color="#48c16e"/><stop offset="72.2%" stop-color="#4ec36b"/><stop offset="77.8%" stop-color="#84d44b"/><stop offset="83.3%" stop-color="#8ed645"/><stop offset="88.9%" stop-color="#aadc32"/><stop offset="94.4%" stop-color="#c5e021"/><stop offset="100%" stop-color="#cae11f"/></linearGradient>
<linearGradient id="b37"><stop offset="0%" stop-color="#46307e"/><stop offset="5.6%" stop-color="#463480"/><stop offset="11.1%" stop-color="#453882"/><stop offset="16.7%" stop-color="#443b84"/><stop offset="22.2%" stop-color="#433e85"/><stop offset="27.8%" stop-color="#404588"/><stop offset="33.3%" stop-color="#3e4a89"/><stop offset="38.9%" stop-color="#3e4a89"/><stop offset="44.4%" stop-color="#3a538b"/><stop offset="50%" stop-color="#365c8d"/><stop offset="55.6%" stop-color="#33638d"/><stop offset="61.1%" stop-color="#2c718e"/><stop offset="66.7%" stop-color="#2a788e"/><stop offset="72.2%" stop-color="#287d8e"/><stop offset="77.8%" stop-color="#24868e"/><stop offset="83.3%" stop-color="#238a8d"/><stop offset="88.9%" stop-color="#1f968b"/><stop offset="94.4%" stop-color="#28ae80"/><stop offset="100%" stop-color="#22a785"/></linearGradient>
<linearGradient id="b40"><stop offset="0%" stop-color="#3e4989"/><stop offset="5.6%" stop-color="#424186"/><stop offset="11.1%" stop-color="#433d84"/><stop offset="16.7%" stop-color="#443983"/><stop offset="22.2%" stop-color="#443983"/><stop offset="27.8%" stop-color="#46337f"/><stop offset="33.3%" stop-color="#46327e"/><stop offset="38.9%" stop-color="#46307e"/><stop offset="44.4%" stop-color="#482979"/><stop offset="50%" stop-color="#472e7c"/><stop offset="55.6%" stop-color="#482878"/><stop offset="61.1%" stop-color="#482979"/><stop offset="66.7%" stop-color="#472a7a"/><stop offset="72.2%" stop-color="#482677"/><stop offset="77.8%" stop-color="#482576"/><stop offset="83.3%" stop-color="#472a7a"/><stop offset="88.9%" stop-color="#482878"/><stop offset="94.4%" stop-color="#482979"/><stop offset="100%" stop-color="#482878"/></linearGradient>
<linearGradient id="b41"><stop offset="0%" stop-color="#25858e"/><stop offset="5.6%" stop-color="#25838e"/><stop offset="11.1%" stop-color="#2c728e"/><stop offset="16.7%" stop-color="#2c718e"/><stop offset="22.2%" stop-color="#355f8d"/><stop offset="27.8%" stop-color="#38588c"/><stop offset="33.3%" stop-color="#3b518b"/><stop offset="38.9%" stop-color="#3d4d8a"/><stop offset="44.4%" stop-color="#414487"/><stop offset="50%" stop-color="#423f85"/><stop offset="55.6%" stop-color="#423f85"/><stop offset="61.1%" stop-color="#443983"/><stop offset="66.7%" stop-color="#453882"/><stop offset="72.2%" stop-color="#46337f"/><stop offset="77.8%" stop-color="#472f7d"/><stop offset="83.3%" stop-color="#472e7c"/><stop offset="88.9%" stop-color="#472e7c"/><stop offset="94.4%" stop-color="#472d7b"/><stop offset="100%" stop-color="#472a7a"/></linearGradient>
<linearGradient id="b42"><stop offset="0%" stop-color="#60ca60"/><stop offset="5.6%" stop-color="#6ece58"/><stop offset="11.1%" stop-color="#4ec36b"/><stop offset="16.7%" stop-color="#32b67a"/><stop offset="22.2%" stop-color="#22a785"/><stop offset="27.8%" stop-color="#1e9c89"/><stop offset="33.3%" stop-color="#1f9e89"/><stop offset="38.9%" stop-color="#24868e"/><stop offset="44.4%" stop-color="#23888e"/><stop offset="50%" stop-color="#2c728e"/><stop offset="55.6%" stop-color="#31678e"/><stop offset="61.1%" stop-color="#2f6b8e"/><stop offset="66.7%" stop-color="#355e8d"/><stop offset="72.2%" stop-color="#365d8d"/><stop offset="77.8%" stop-color="#39558c"/><stop offset="83.3%" stop-color="#3c4f8a"/><stop offset="88.9%" stop-color="#3d4d8a"/><stop offset="94.4%" stop-color="#404588"/><stop offset="100%" stop-color="#414287"/></linearGradient>
<linearGradient id="b43"><stop offset="0%" stop-color="#c5e021"/><stop offset="5.6%" stop-color="#95d840"/><stop offset="11.1%" stop-color="#c0df25"/><stop offset="16.7%" stop-color="#9bd93c"/><stop offset="22.2%" stop-color="#93d741"/><stop offset="27.8%" stop-color="#8bd646"/><stop offset="33.3%" stop-color="#56c667"/><stop offset="38.9%" stop-color="#60ca60"/><stop offset="44.4%" stop-color="#4cc26c"/><stop offset="50%" stop-color="#48c16e"/><stop offset="55.6%" stop-color="#2ab07f"/><stop offset="61.1%" stop-color="#21a585"/><stop offset="66.7%" stop-color="#1f9a8a"/><stop offset="72.2%" stop-color="#1f978b"/><stop offset="77.8%" stop-color="#228c8d"/><stop offset="83.3%" stop-color="#21918c"/><stop offset="88.9%" stop-color="#24878e"/><stop offset="94.4%" stop-color="#27808e"/><stop offset="100%" stop-color="#297a8e"/></linearGradient>
<linearGradient id="b44"><stop offset="0%" stop-color="#9dd93b"/><stop offset="5.6%" stop-color="#a5db36"/><stop offset="11.1%" stop-color="#89d548"/><stop offset="16.7%" stop-color="#c5e021"/><stop offset="22.2%" stop-color="#a8db34"/><stop offset="27.8%" stop-color="#aadc32"/><stop offset="33.3%" stop-color="#9bd93c"/><stop offset="38.9%" stop-color="#7cd250"/><stop offset="44.4%" stop-color="#8bd646"/><stop offset="50%" stop-color="#70cf57"/><stop offset="55.6%" stop-color="#5cc863"/><stop offset="61.1%" stop-color="#65cb5e"/><stop offset="66.7%" stop-color="#6ece58"/><stop offset="72.2%" stop-color="#6ccd5a"/><stop offset="77.8%" stop-color="#67cc5c"/><stop offset="83.3%" stop-color="#5cc863"/><stop offset="88.9%" stop-color="#5cc863"/><stop offset="94.4%" stop-color="#58c765"/><stop offset="100%" stop-color="#3aba76"/></linearGradient>
<linearGradient id="b45"><stop offset="0%" stop-color="#1fa188"/><stop offset="5.6%" stop-color="#21a585"/><stop offset="11.1%" stop-color="#21a585"/><stop offset="16.7%" stop-color="#3dbc74"/><stop offset="22.2%" stop-color="#52c569"/><stop offset="27.8%" stop-color="#34b679"/><stop offset="33.3%" stop-color="#4ac16d"/><stop offset="38.9%" stop-color="#46c06f"/><stop offset="44.4%" stop-color="#65cb5e"/><stop offset="50%" stop-color="#46c06f"/><stop offset="55.6%" stop-color="#63cb5f"/><stop offset="61.1%" stop-color="#65cb5e"/><stop offset="66.7%" stop-color="#7fd34e"/><stop offset="72.2%" stop-color="#54c568"/><stop offset="77.8%" stop-color="#7ad151"/><stop offset="83.3%" stop-color="#98d83e"/><stop offset="88.9%" stop-color="#c2df23"/><stop offset="94.4%" stop-color="#b8de29"/><stop offset="100%" stop-color="#cde11d"/></linearGradient>
<linearGradient id="b46"><stop offset="0%" stop-color="#38588c"/><stop offset="5.6%" stop-color="#375a8c"/><stop offset="11.1%" stop-color="#33638d"/><stop offset="16.7%" stop-color="#30698e"/><stop offset="22.2%" stop-color="#2d718e"/><stop offset="27.8%" stop-color="#2b748e"/><stop offset="33.3%" stop-color="#26828e"/><stop offset="38.9%" stop-color="#24878e"/><stop offset="44.4%" stop-color="#25838e"/><stop offset="50%" stop-color="#1f958b"/><stop offset="55.6%" stop-color="#1f948c"/><stop offset="61.1%" stop-color="#1f968b"/><stop offset="66.7%" stop-color="#27ad81"/><stop offset="72.2%" stop-color="#2ab07f"/><stop offset="77.8%" stop-color="#40bd72"/><stop offset="83.3%" stop-color="#56c667"/><stop offset="88.9%" stop-color="#6ece58"/><stop offset="94.4%" stop-color="#65cb5e"/><stop offset="100%" stop-color="#addc30"/></linearGradient>
<linearGradient id="b47"><stop offset="0%" stop-color="#472f7d"/><stop offset="5.6%" stop-color="#46337f"/><stop offset="11.1%" stop-color="#453781"/><stop offset="16.7%" stop-color="#453882"/><stop offset="22.2%" stop-color="#443a83"/><stop offset="27.8%" stop-color="#424086"/><stop offset="33.3%" stop-color="#3f4889"/><stop offset="38.9%" stop-color="#3f4889"/><stop offset="44.4%" stop-color="#3d4d8a"/><stop offset="50%" stop-color="#3a548c"/><stop offset="55.6%" stop-color="#38588c"/><stop offset="61.1%" stop-color="#33638d"/><stop offset="66.7%" stop-color="#30698e"/><stop offset="72.2%" stop-color="#2a788e"/><stop offset="77.8%" stop-color="#297a8e"/><stop offset="83.3%" stop-color="#218f8d"/><stop offset="88.9%" stop-color="#228d8d"/><stop offset="94.4%" stop-color="#1e9d89"/><stop offset="100%" stop-color="#1fa188"/></linearGradient>
<linearGradient id="b50"><stop offset="0%" stop-color="#482979"/><stop offset="5.6%" stop-color="#482878"/><stop offset="11.1%" stop-color="#482878"/><stop offset="16.7%" stop-color="#482979"/><stop offset="22.2%" stop-color="#482677"/><stop offset="27.8%" stop-color="#482576"/><stop offset="33.3%" stop-color="#482878"/><stop offset="38.9%" stop-color="#482878"/><stop offset="44.4%" stop-color="#482878"/><stop offset="50%" stop-color="#482979"/><stop offset="55.6%" stop-color="#472a7a"/><stop offset="61.1%" stop-color="#482878"/><stop offset="66.7%" stop-color="#482878"/><stop offset="72.2%" stop-color="#482475"/><stop offset="77.8%" stop-color="#482677"/><stop offset="83.3%" stop-color="#482979"/><stop offset="88.9%" stop-color="#482677"/><stop offset="94.4%" stop-color="#482979"/><stop offset="100%" stop-color="#482979"/></linearGradient>
<linearGradient id="b51"><stop offset="0%" stop-color="#46307e"/><stop offset="5.6%" stop-color="#472a7a"/><stop offset="11.1%" stop-color="#482677"/><stop offset="16.7%" stop-color="#482677"/><stop offset="22.2%" stop-color="#482878"/><stop offset="27.8%" stop-color="#482878"/><stop offset="33.3%" stop-color="#482979"/><stop offset="38.9%" stop-color="#472d7b"/><stop offset="44.4%" stop-color="#472e7c"/><stop offset="50%" stop-color="#472c7a"/><stop offset="55.6%" stop-color="#472f7d"/><stop offset="61.1%" stop-color="#472e7c"/><stop offset="66.7%" stop-color="#46327e"/><stop offset="72.2%" stop-color="#472d7b"/><stop offset="77.8%" stop-color="#472c7a"/><stop offset="83.3%" stop-color="#472a7a"/><stop offset="88.9%" stop-color="#472d7b"/><stop offset="94.4%" stop-color="#482979"/><stop offset="100%" stop-color="#472a7a"/></linearGradient>
<linearGradient id="b52"><stop offset="0%" stop-color="#463480"/><stop offset="5.6%" stop-color="#472e7c"/><stop offset="11.1%" stop-color="#482979"/><stop offset="16.7%" stop-color="#482576"/><stop offset="22.2%" stop-color="#482173"/><stop offset="27.8%" stop-color="#482475"/><stop offset="33.3%" stop-color="#482677"/><stop offset="38.9%" stop-color="#463480"/><stop offset="44.4%" stop-color="#463480"/><stop offset="50%" stop-color="#443983"/><stop offset="55.6%" stop-color="#423f85"/><stop offset="61.1%" stop-color="#414287"/><stop offset="66.7%" stop-color="#414287"/><stop offset="72.2%" stop-color="#414487"/><stop offset="77.8%" stop-color="#414287"/><stop offset="83.3%" stop-color="#433d84"/><stop offset="88.9%" stop-color="#424186"/><stop offset="94.4%" stop-color="#433e85"/><stop offset="100%" stop-color="#453882"/></linearGradient>
<linearGradient id="b53"><stop offset="0%" stop-color="#453882"/><stop offset="5.6%" stop-color="#46307e"/><stop offset="11.1%" stop-color="#482979"/><stop offset="16.7%" stop-color="#482173"/><stop offset="22.2%" stop-color="#482374"/><stop offset="27.8%" stop-color="#482576"/><stop offset="33.3%" stop-color="#472d7b"/><stop offset="38.9%" stop-color="#46327e"/><stop offset="44.4%" stop-color="#443b84"/><stop offset="50%" stop-color="#3d4d8a"/><stop offset="55.6%" stop-color="#39558c"/><stop offset="61.1%" stop-color="#34608d"/><stop offset="66.7%" stop-color="#32658e"/><stop offset="72.2%" stop-color="#2f6b8e"/><stop offset="77.8%" stop-color="#2f6c8e"/><stop offset="83.3%" stop-color="#30698e"/><stop offset="88.9%" stop-color="#30698e"/><stop offset="94.4%" stop-color="#34618d"/><stop offset="100%" stop-color="#34618d"/></linearGradient>
<linearGradient id="b54"><stop offset="0%" stop-color="#453581"/><stop offset="5.6%" stop-color="#472d7b"/><stop offset="11.1%" stop-color="#482878"/><stop offset="16.7%" stop-color="#482173"/><stop offset="22.2%" stop-color="#482374"/><stop offset="27.8%" stop-color="#482878"/><stop offset="33.3%" stop-color="#472e7c"/><stop offset="38.9%" stop-color="#453882"/><stop offset="44.4%" stop-color="#3e4a89"/><stop offset="50%" stop-color="#39558c"/><stop offset="55.6%" stop-color="#34608d"/><stop offset="61.1%" stop-color="#2a788e"/><stop offset="66.7%" stop-color="#277e8e"/><stop offset="72.2%" stop-color="#23898e"/><stop offset="77.8%" stop-color="#20928c"/><stop offset="83.3%" stop-color="#21908d"/><stop offset="88.9%" stop-color="#1f988b"/><stop offset="94.4%" stop-color="#228b8d"/><stop offset="100%" stop-color="#24878e"/></linearGradient>
<linearGradient id="b55"><stop offset="0%" stop-color="#46307e"/><stop offset="5.6%" stop-color="#472e7c"/><stop offset="11.1%" stop-color="#482878"/><stop offset="16.7%" stop-color="#482576"/><stop offset="22.2%" stop-color="#482374"/><stop offset="27.8%" stop-color="#482677"/><stop offset="33.3%" stop-color="#482979"/><stop offset="38.9%" stop-color="#453581"/><stop offset="44.4%" stop-color="#414487"/><stop offset="50%" stop-color="#3c508b"/><stop offset="55.6%" stop-color="#375b8d"/><stop offset="61.1%" stop-color="#306a8e"/><stop offset="66.7%" stop-color="#26818e"/><stop offset="72.2%" stop-color="#20928c"/><stop offset="77.8%" stop-color="#1f948c"/><stop offset="83.3%" stop-color="#22a884"/><stop offset="88.9%" stop-color="#1f9e89"/><stop offset="94.4%" stop-color="#25ab82"/><stop offset="100%" stop-color="#22a785"/></linearGradient>
<linearGradient id="b56"><stop offset="0%" stop-color="#472d7b"/><stop offset="5.6%" stop-color="#482677"/><stop offset="11.1%" stop-color="#482979"/><stop offset="16.7%" stop-color="#482677"/><stop offset="22.2%" stop-color="#482475"/><stop offset="27.8%" stop-color="#482677"/><stop offset="33.3%" stop-color="#482979"/><stop offset="38.9%" stop-color="#46307e"/><stop offset="44.4%" stop-color="#453781"/><stop offset="50%" stop-color="#424086"/><stop offset="55.6%" stop-color="#3c4f8a"/><stop offset="61.1%" stop-color="#365c8d"/><stop offset="66.7%" stop-color="#2f6c8e"/><stop offset="72.2%" stop-color="#297a8e"/><stop offset="77.8%" stop-color="#297b8e"/><stop offset="83.3%" stop-color="#218e8d"/><stop offset="88.9%" stop-color="#1f988b"/><stop offset="94.4%" stop-color="#1e9d89"/><stop offset="100%" stop-color="#1f998a"/></linearGradient>
<linearGradient id="b57"><stop offset="0%" stop-color="#482979"/><stop offset="5.6%" stop-color="#472a7a"/><stop offset="11.1%" stop-color="#482677"/><stop offset="16.7%" stop-color="#482576"/><stop offset="22.2%" stop-color="#482878"/><stop offset="27.8%" stop-color="#482878"/><stop offset="33.3%" stop-color="#482878"/><stop offset="38.9%" stop-color="#472a7a"/><stop offset="44.4%" stop-color="#472d7b"/><stop offset="50%" stop-color="#46327e"/><stop offset="55.6%" stop-color="#453781"/><stop offset="61.1%" stop-color="#443a83"/><stop offset="66.7%" stop-color="#3e4a89"/><stop offset="72.2%" stop-color="#3b528b"/><stop offset="77.8%" stop-color="#375b8d"/><stop offset="83.3%" stop-color="#31688e"/><stop offset="88.9%" stop-color="#2f6c8e"/><stop offset="94.4%" stop-color="#2a778e"/><stop offset="100%" stop-color="#287c8e"/></linearGradient>
<linearGradient id="b60"><stop offset="0%" stop-color="#3f4788"/><stop offset="5.6%" stop-color="#424086"/><stop offset="11.1%" stop-color="#423f85"/><stop offset="16.7%" stop-color="#443a83"/><stop offset="22.2%" stop-color="#453882"/><stop offset="27.8%" stop-color="#46307e"/><stop offset="33.3%" stop-color="#46307e"/><stop offset="38.9%" stop-color="#472f7d"/><stop offset="44.4%" stop-color="#472e7c"/><stop offset="50%" stop-color="#472c7a"/><stop offset="55.6%" stop-color="#472c7a"/><stop offset="61.1%" stop-color="#482677"/><stop offset="66.7%" stop-color="#482979"/><stop offset="72.2%" stop-color="#482878"/><stop offset="77.8%" stop-color="#482677"/><stop offset="83.3%" stop-color="#482878"/><stop offset="88.9%" stop-color="#482878"/><stop offset="94.4%" stop-color="#482677"/><stop offset="100%" stop-color="#482576"/></linearGradient>
<linearGradient id="b61"><stop offset="0%" stop-color="#24878e"/><stop offset="5.6%" stop-color="#2c728e"/><stop offset="11.1%" stop-color="#2c738e"/><stop offset="16.7%" stop-color="#31688e"/><stop offset="22.2%" stop-color="#32648e"/><stop offset="27.8%" stop-color="#33628d"/><stop offset="33.3%" stop-color="#38598c"/><stop offset="38.9%" stop-color="#3c4f8a"/><stop offset="44.4%" stop-color="#3d4d8a"/><stop offset="50%" stop-color="#3f4788"/><stop offset="55.6%" stop-color="#424086"/><stop offset="61.1%" stop-color="#433e85"/><stop offset="66.7%" stop-color="#453882"/><stop offset="72.2%" stop-color="#453581"/><stop offset="77.8%" stop-color="#46327e"/><stop offset="83.3%" stop-color="#472f7d"/><stop offset="88.9%" stop-color="#472e7c"/><stop offset="94.4%" stop-color="#472c7a"/><stop offset="100%" stop-color="#472c7a"/></linearGradient>
<linearGradient id="b62"><stop offset="0%" stop-color="#93d741"/><stop offset="5.6%" stop-color="#60ca60"/><stop offset="11.1%" stop-color="#40bd72"/><stop offset="16.7%" stop-color="#46c06f"/><stop offset="22.2%" stop-color="#31b57b"/><stop offset="27.8%" stop-color="#1e9d89"/><stop offset="33.3%" stop-color="#1f958b"/><stop offset="38.9%" stop-color="#1f988b"/><stop offset="44.4%" stop-color="#24868e"/><stop offset="50%" stop-color="#287d8e"/><stop offset="55.6%" stop-color="#2c718e"/><stop offset="61.1%" stop-color="#31688e"/><stop offset="66.7%" stop-color="#31688e"/><stop offset="72.2%" stop-color="#375b8d"/><stop offset="77.8%" stop-color="#38598c"/><stop offset="83.3%" stop-color="#39558c"/><stop offset="88.9%" stop-color="#3e4c8a"/><stop offset="94.4%" stop-color="#404588"/><stop offset="100%" stop-color="#414287"/></linearGradient>
<linearGradient id="b63"><stop offset="0%" stop-color="#d5e21a"/><stop offset="5.6%" stop-color="#b8de29"/><stop offset="11.1%" stop-color="#c2df23"/><stop offset="16.7%" stop-color="#95d840"/><stop offset="22.2%" stop-color="#7fd34e"/><stop offset="27.8%" stop-color="#8bd646"/><stop offset="33.3%" stop-color="#63cb5f"/><stop offset="38.9%" stop-color="#67cc5c"/><stop offset="44.4%" stop-color="#5ec962"/><stop offset="50%" stop-color="#50c46a"/><stop offset="55.6%" stop-color="#56c667"/><stop offset="61.1%" stop-color="#27ad81"/><stop offset="66.7%" stop-color="#22a884"/><stop offset="72.2%" stop-color="#1fa088"/><stop offset="77.8%" stop-color="#1f948c"/><stop offset="83.3%" stop-color="#1e9b8a"/><stop offset="88.9%" stop-color="#25858e"/><stop offset="94.4%" stop-color="#27808e"/><stop offset="100%" stop-color="#2a788e"/></linearGradient>
<linearGradient id="b64"><stop offset="0%" stop-color="#cae11f"/><stop offset="5.6%" stop-color="#98d83e"/><stop offset="11.1%" stop-color="#98d83e"/><stop offset="16.7%" stop-color="#d0e11c"/><stop offset="22.2%" stop-color="#a5db36"/><stop offset="27.8%" stop-color="#86d549"/><stop offset="33.3%" stop-color="#d5e21a"/><stop offset="38.9%" stop-color="#cde11d"/><stop offset="44.4%" stop-color="#8ed645"/><stop offset="50%" stop-color="#8ed645"/><stop offset="55.6%" stop-color="#a2da37"/><stop offset="61.1%" stop-color="#86d549"/><stop offset="66.7%" stop-color="#73d056"/><stop offset="72.2%" stop-color="#70cf57"/><stop offset="77.8%" stop-color="#a5db36"/><stop offset="83.3%" stop-color="#89d548"/><stop offset="88.9%" stop-color="#52c569"/><stop offset="94.4%" stop-color="#54c568"/><stop offset="100%" stop-color="#4ac16d"/></linearGradient>
<linearGradient id="b65"><stop offset="0%" stop-color="#1f9a8a"/><stop offset="5.6%" stop-color="#20a486"/><stop offset="11.1%" stop-color="#35b779"/><stop offset="16.7%" stop-color="#2db27d"/><stop offset="22.2%" stop-color="#37b878"/><stop offset="27.8%" stop-color="#50c46a"/><stop offset="33.3%" stop-color="#54c568"/><stop offset="38.9%" stop-color="#65cb5e"/><stop offset="44.4%" stop-color="#70cf57"/><stop offset="50%" stop-color="#6ece58"/><stop offset="55.6%" stop-color="#a8db34"/><stop offset="61.1%" stop-color="#86d549"/><stop offset="66.7%" stop-color="#bddf26"/><stop offset="72.2%" stop-color="#90d743"/><stop offset="77.8%" stop-color="#93d741"/><stop offset="83.3%" stop-color="#b2dd2d"/><stop offset="88.9%" stop-color="#a8db34"/><stop offset="94.4%" stop-color="#c5e021"/><stop offset="100%" stop-color="#c2df23"/></linearGradient>
<linearGradient id="b66"><stop offset="0%" stop-color="#365d8d"/><stop offset="5.6%" stop-color="#3a538b"/><stop offset="11.1%" stop-color="#34618d"/><stop offset="16.7%" stop-color="#2f6c8e"/><stop offset="22.2%" stop-color="#2c728e"/><stop offset="27.8%" stop-color="#297b8e"/><stop offset="33.3%" stop-color="#218f8d"/><stop offset="38.9%" stop-color="#26818e"/><stop offset="44.4%" stop-color="#1f978b"/><stop offset="50%" stop-color="#1e9b8a"/><stop offset="55.6%" stop-color="#20a486"/><stop offset="61.1%" stop-color="#2eb37c"/><stop offset="66.7%" stop-color="#31b57b"/><stop offset="72.2%" stop-color="#4ac16d"/><stop offset="77.8%" stop-color="#65cb5e"/><stop offset="83.3%" stop-color="#77d153"/><stop offset="88.9%" stop-color="#50c46a"/><stop offset="94.4%" stop-color="#75d054"/><stop offset="100%" stop-color="#77d153"/></linearGradient>
<linearGradient id="b67"><stop offset="0%" stop-color="#472f7d"/><stop offset="5.6%" stop-color="#46337f"/><stop offset="11.1%" stop-color="#443a83"/><stop offset="16.7%" stop-color="#453882"/><stop offset="22.2%" stop-color="#433d84"/><stop offset="27.8%" stop-color="#424186"/><stop offset="33.3%" stop-color="#3e4a89"/><stop offset="38.9%" stop-color="#3e4a89"/><stop offset="44.4%" stop-color="#3a538b"/><stop offset="50%" stop-color="#375b8d"/><stop offset="55.6%" stop-color="#34618d"/><stop offset="61.1%" stop-color="#355f8d"/><stop offset="66.7%" stop-color="#30698e"/><stop offset="72.2%" stop-color="#2a788e"/><stop offset="77.8%" stop-color="#2a768e"/><stop offset="83.3%" stop-color="#24868e"/><stop offset="88.9%" stop-color="#23898e"/><stop offset="94.4%" stop-color="#1e9c89"/><stop offset="100%" stop-color="#20a386"/></linearGradient>
</defs>
<rect x="31" y="125.2" width="72.5" height="1.1" fill="url(#b00)"/>
<rect x="31" y="126.1" width="72.5" height="1.1" fill="url(#b01)"/>
<rect x="31" y="127.1" width="72.5" height="1.1" fill="url(#b02)"/>
<rect x="31" y="128.1" width="72.5" height="1.1" fill="url(#b03)"/>
<rect x="31" y="129" width="72.5" height="1.1" fill="url(#b04)"/>
<rect x="31" y="130" width="72.5" height="1.1" fill="url(#b05)"/>
<rect x="31" y="131" width="72.5" height="1.1" fill="url(#b06)"/>
<rect x="31" y="132" width="72.5" height="1.1" fill="url(#b07)"/>
<rect x="103.5" y="125.2" width="72.5" height="1.1" fill="url(#b10)"/>
<rect x="103.5" y="126.1" width="72.5" height="1.1" fill="url(#b11)"/>
<rect x="103.5" y="127.1" width="72.5" height="1.1" fill="url(#b12)"/>
<rect x="103.5" y="128.1" width="72.5" height="1.1" fill="url(#b13)"/>
<rect x="103.5" y="129" width="72.5" height="1.1" fill="url(#b14)"/>
<rect x="103.5" y="130" width="72.5" height="1.1" fill="url(#b15)"/>
<rect x="103.5" y="131" width="72.5" height="1.1" fill="url(#b16)"/>
<rect x="103.5" y="132" width="72.5" height="1.1" fill="url(#b17)"/>
<rect x="176" y="125.2" width="72.5" height="1.1" fill="url(#b20)"/>
<rect x="176" y="126.1" width="72.5" height="1.1" fill="url(#b21)"/>
<rect x="176" y="127.1" width="72.5" height="1.1" fill="url(#b22)"/>
<rect x="176" y="128.1" width="72.5" height="1.1" fill="url(#b23)"/>
<rect x="176" y="129" width="72.5" height="1.1" fill="url(#b24)"/>
<rect x="176" y="130" width="72.5" height="1.1" fill="url(#b25)"/>
<rect x="176" y="131" width="72.5" height="1.1" fill="url(#b26)"/>
<rect x="176" y="132" width="72.5" height="1.1" fill="url(#b27)"/>
<rect x="248.5" y="125.2" width="72.5" height="1.1" fill="url(#b30)"/>
<rect x="248.5" y="126.1" width="72.5" height="1.1" fill="url(#b31)"/>
<rect x="248.5" y="127.1" width="72.5" height="1.1" fill="url(#b32)"/>
<rect x="248.5" y="128.1" width="72.5" height="1.1" fill="url(#b33)"/>
<rect x="248.5" y="129" width="72.5" height="1.1" fill="url(#b34)"/>
<rect x="248.5" y="130" width="72.5" height="1.1" fill="url(#b35)"/>
<rect x="248.5" y="131" width="72.5" height="1.1" fill="url(#b36)"/>
<rect x="248.5" y="132" width="72.5" height="1.1" fill="url(#b37)"/>
<rect x="321" y="125.2" width="72.5" height="1.1" fill="url(#b40)"/>
<rect x="321" y="126.1" width="72.5" height="1.1" fill="url(#b41)"/>
<rect x="321" y="127.1" width="72.5" height="1.1" fill="url(#b42)"/>
<rect x="321" y="128.1" width="72.5" height="1.1" fill="url(#b43)"/>
<rect x="321" y="129" width="72.5" height="1.1" fill="url(#b44)"/>
<rect x="321" y="130" width="72.5" height="1.1" fill="url(#b45)"/>
<rect x="321" y="131" width="72.5" height="1.1" fill="url(#b46)"/>
<rect x="321" y="132" width="72.5" height="1.1" fill="url(#b47)"/>
<rect x="393.5" y="125.2" width="72.5" height="1.1" fill="url(#b50)"/>
<rect x="393.5" y="126.1" width="72.5" height="1.1" fill="url(#b51)"/>
<rect x="393.5" y="127.1" width="72.5" height="1.1" fill="url(#b52)"/>
<rect x="393.5" y="128.1" width="72.5" height="1.1" fill="url(#b53)"/>
<rect x="393.5" y="129" width="72.5" height="1.1" fill="url(#b54)"/>
<rect x="393.5" y="130" width="72.5" height="1.1" fill="url(#b55)"/>
<rect x="393.5" y="131" width="72.5" height="1.1" fill="url(#b56)"/>
<rect x="393.5" y="132" width="72.5" height="1.1" fill="url(#b57)"/>
<rect x="466" y="125.2" width="72.5" height="1.1" fill="url(#b60)"/>
<rect x="466" y="126.1" width="72.5" height="1.1" fill="url(#b61)"/>
<rect x="466" y="127.1" width="72.5" height="1.1" fill="url(#b62)"/>
<rect x="466" y="128.1" width="72.5" height="1.1" fill="url(#b63)"/>
<rect x="466" y="129" width="72.5" height="1.1" fill="url(#b64)"/>
<rect x="466" y="130" width="72.5" height="1.1" fill="url(#b65)"/>
<rect x="466" y="131" width="72.5" height="1.1" fill="url(#b66)"/>
<rect x="466" y="132" width="72.5" height="1.1" fill="url(#b67)"/>
<path d="M31 125.2V133.0M103.5 125.2V133.0M176 125.2V133.0M248.5 125.2V133.0M321 125.2V133.0M393.5 125.2V133.0M466 125.2V133.0M538.5 125.2V133.0" stroke="#000" stroke-width="0.6" fill="none"/>
<defs><clipPath id="cp0"><rect x="31" y="151.4" width="72.5" height="81"/></clipPath><clipPath id="cp1"><rect x="103.5" y="151.4" width="72.5" height="81"/></clipPath><clipPath id="cp2"><rect x="176" y="151.4" width="72.5" height="81"/></clipPath><clipPath id="cp3"><rect x="248.5" y="151.4" width="72.5" height="81"/></clipPath><clipPath id="cp4"><rect x="321" y="151.4" width="72.5" height="81"/></clipPath><clipPath id="cp5"><rect x="393.5" y="151.4" width="72.5" height="81"/></clipPath><clipPath id="cp6"><rect x="466" y="151.4" width="72.5" height="81"/></clipPath></defs>
<defs><clipPath id="cq0"><rect x="31" y="-81" width="72.5" height="82.3"/></clipPath><clipPath id="cq1"><rect x="103.5" y="-81" width="72.5" height="82.3"/></clipPath><clipPath id="cq2"><rect x="176" y="-81" width="72.5" height="82.3"/></clipPath><clipPath id="cq3"><rect x="248.5" y="-81" width="72.5" height="82.3"/></clipPath><clipPath id="cq4"><rect x="321" y="-81" width="72.5" height="82.3"/></clipPath><clipPath id="cq5"><rect x="393.5" y="-81" width="72.5" height="82.3"/></clipPath><clipPath id="cq6"><rect x="466" y="-81" width="72.5" height="82.3"/></clipPath></defs>
<defs><clipPath id="cc"><rect x="31" y="151.4" width="507.5" height="81"/></clipPath></defs>
<defs><path id="k" d="M0.00 -1L0.69 -0.985L1.12 -0.95L1.58 -0.88L2.02 -0.78L2.46 -0.64L2.85 -0.48L3.17 -0.32L3.45 -0.16L3.70 0L1.50 0L1.25 -0.16L0.97 -0.32L0.65 -0.48L0.26 -0.64L-0.18 -0.78L-1.58 -0.88L-1.12 -0.95L-0.69 -0.985Z"/><path id="o" d="M0.30 -1.0L0.00 -0.6L-0.50 -0.3L-1.40 0L-3.00 0L-2.10 -0.3L-1.60 -0.6L-1.30 -1.0Z"/></defs>
<style>.a{fill:#0083e4}.b{fill:#ff7000}.c{fill:#03bd03}.d{fill:#ff0809}.e{fill:#a159e3}.f{fill:#a34d3b}.g{fill:#ff5ed6}.h{fill:#7f7f7f}.i{fill:#c6c800}.j{fill:#00dbf6}</style>
<g clip-path="url(#cc)"><g transform="translate(0 231.1)">
<g clip-path="url(#cq0)">
<use href="#k" class="a" transform="translate(103.3)scale(1 63.3)"/>
<use href="#k" class="j" transform="translate(102.9)scale(1 64.3)"/>
<use href="#k" class="i" transform="translate(102.5)scale(1 69.2)"/>
<use href="#k" class="h" transform="translate(102.2)scale(1 67.3)"/>
<use href="#k" class="g" transform="translate(101.8)scale(1 66.8)"/>
<use href="#k" class="f" transform="translate(101.4)scale(1 67.5)"/>
<use href="#k" class="e" transform="translate(101)scale(1 65.9)"/>
<use href="#k" class="d" transform="translate(100.6)scale(1 68.1)"/>
<use href="#k" class="c" transform="translate(100.3)scale(1 67.8)"/>
<use href="#k" class="b" transform="translate(99.9)scale(1 65)"/>
<use href="#k" class="a" transform="translate(99.5)scale(1 65.4)"/>
<use href="#k" class="j" transform="translate(99.1)scale(1 63.9)"/>
<use href="#k" class="i" transform="translate(98.7)scale(1 72.2)"/>
<use href="#k" class="h" transform="translate(98.3)scale(1 65.5)"/>
<use href="#k" class="g" transform="translate(98)scale(1 66.7)"/>
<use href="#k" class="f" transform="translate(97.6)scale(1 69.1)"/>
<use href="#k" class="e" transform="translate(97.2)scale(1 66.2)"/>
<use href="#k" class="d" transform="translate(96.8)scale(1 69.6)"/>
<use href="#k" class="c" transform="translate(96.4)scale(1 65.7)"/>
<use href="#k" class="b" transform="translate(96.1)scale(1 65.8)"/>
<use href="#k" class="a" transform="translate(95.7)scale(1 66.3)"/>
<use href="#k" class="j" transform="translate(95.3)scale(1 66.9)"/>
<use href="#k" class="i" transform="translate(94.9)scale(1 69.9)"/>
<use href="#k" class="h" transform="translate(94.5)scale(1 65.8)"/>
<use href="#k" class="g" transform="translate(94.2)scale(1 67.8)"/>
<use href="#k" class="f" transform="translate(93.8)scale(1 66.9)"/>
<use href="#k" class="e" transform="translate(93.4)scale(1 64.4)"/>
<use href="#k" class="d" transform="translate(93)scale(1 67.7)"/>
<use href="#k" class="c" transform="translate(92.6)scale(1 72.5)"/>
<use href="#k" class="b" transform="translate(92.2)scale(1 68.6)"/>
<use href="#k" class="a" transform="translate(91.9)scale(1 65.2)"/>
<use href="#k" class="j" transform="translate(91.5)scale(1 66.9)"/>
<use href="#k" class="i" transform="translate(91.1)scale(1 68.5)"/>
<use href="#k" class="h" transform="translate(90.7)scale(1 70.3)"/>
<use href="#k" class="g" transform="translate(90.3)scale(1 69.8)"/>
<use href="#k" class="f" transform="translate(90)scale(1 69.3)"/>
<use href="#k" class="e" transform="translate(89.6)scale(1 66.8)"/>
<use href="#k" class="d" transform="translate(89.2)scale(1 64.3)"/>
<use href="#k" class="c" transform="translate(88.8)scale(1 71.5)"/>
<use href="#k" class="b" transform="translate(88.4)scale(1 72.9)"/>
<use href="#k" class="a" transform="translate(88)scale(1 65.8)"/>
<use href="#k" class="j" transform="translate(87.7)scale(1 69)"/>
<use href="#k" class="i" transform="translate(87.3)scale(1 67.2)"/>
<use href="#k" class="h" transform="translate(86.9)scale(1 66.7)"/>
<use href="#k" class="g" transform="translate(86.5)scale(1 67.8)"/>
<use href="#k" class="f" transform="translate(86.1)scale(1 66.6)"/>
<use href="#k" class="e" transform="translate(85.8)scale(1 66.2)"/>
<use href="#k" class="d" transform="translate(85.4)scale(1 70.3)"/>
<use href="#k" class="c" transform="translate(85)scale(1 67.9)"/>
<use href="#k" class="b" transform="translate(84.6)scale(1 65.4)"/>
<use href="#k" class="a" transform="translate(84.2)scale(1 66.5)"/>
<use href="#k" class="j" transform="translate(83.8)scale(1 66.6)"/>
<use href="#k" class="i" transform="translate(83.5)scale(1 72.6)"/>
<use href="#k" class="h" transform="translate(83.1)scale(1 75.4)"/>
<use href="#k" class="g" transform="translate(82.7)scale(1 69.3)"/>
<use href="#k" class="f" transform="translate(82.3)scale(1 68.6)"/>
<use href="#k" class="e" transform="translate(81.9)scale(1 70.3)"/>
<use href="#k" class="d" transform="translate(81.6)scale(1 66.9)"/>
<use href="#k" class="c" transform="translate(81.2)scale(1 67.9)"/>
<use href="#k" class="b" transform="translate(80.8)scale(1 69)"/>
<use href="#k" class="a" transform="translate(80.4)scale(1 66.5)"/>
<use href="#k" class="j" transform="translate(80)scale(1 69.9)"/>
<use href="#k" class="i" transform="translate(79.7)scale(1 66)"/>
<use href="#k" class="h" transform="translate(79.3)scale(1 68.2)"/>
<use href="#k" class="g" transform="translate(78.9)scale(1 73)"/>
<use href="#k" class="f" transform="translate(78.5)scale(1 69.1)"/>
<use href="#k" class="e" transform="translate(78.1)scale(1 74)"/>
<use href="#k" class="d" transform="translate(77.7)scale(1 69.8)"/>
<use href="#k" class="c" transform="translate(77.4)scale(1 65.9)"/>
<use href="#k" class="b" transform="translate(77)scale(1 70.8)"/>
<use href="#k" class="a" transform="translate(76.6)scale(1 68.3)"/>
<use href="#k" class="j" transform="translate(76.2)scale(1 69.1)"/>
<use href="#k" class="i" transform="translate(75.8)scale(1 69.7)"/>
<use href="#k" class="h" transform="translate(75.5)scale(1 71.1)"/>
<use href="#k" class="g" transform="translate(75.1)scale(1 67.7)"/>
<use href="#k" class="f" transform="translate(74.7)scale(1 66.5)"/>
<use href="#k" class="e" transform="translate(74.3)scale(1 67)"/>
<use href="#k" class="d" transform="translate(73.9)scale(1 67.9)"/>
<use href="#k" class="c" transform="translate(73.5)scale(1 69.8)"/>
<use href="#k" class="b" transform="translate(73.2)scale(1 72)"/>
<use href="#k" class="a" transform="translate(72.8)scale(1 68.3)"/>
<use href="#k" class="j" transform="translate(72.4)scale(1 67.7)"/>
<use href="#k" class="i" transform="translate(72)scale(1 69.9)"/>
<use href="#k" class="h" transform="translate(71.6)scale(1 69.1)"/>
<use href="#k" class="g" transform="translate(71.3)scale(1 71.7)"/>
<use href="#k" class="f" transform="translate(70.9)scale(1 70.9)"/>
<use href="#k" class="e" transform="translate(70.5)scale(1 69.4)"/>
<use href="#k" class="d" transform="translate(70.1)scale(1 68.7)"/>
<use href="#k" class="c" transform="translate(69.7)scale(1 69.3)"/>
<use href="#k" class="b" transform="translate(69.3)scale(1 70.1)"/>
<use href="#k" class="a" transform="translate(69)scale(1 69.6)"/>
<use href="#k" class="j" transform="translate(68.6)scale(1 72.7)"/>
<use href="#k" class="i" transform="translate(68.2)scale(1 69.6)"/>
<use href="#k" class="h" transform="translate(67.8)scale(1 71.1)"/>
<use href="#k" class="g" transform="translate(67.4)scale(1 68.1)"/>
<use href="#k" class="f" transform="translate(67.1)scale(1 71.5)"/>
<use href="#k" class="e" transform="translate(66.7)scale(1 66.4)"/>
<use href="#k" class="d" transform="translate(66.3)scale(1 66.7)"/>
<use href="#k" class="c" transform="translate(65.9)scale(1 69.5)"/>
<use href="#k" class="b" transform="translate(65.5)scale(1 70.1)"/>
<use href="#k" class="a" transform="translate(65.2)scale(1 71.2)"/>
<use href="#k" class="j" transform="translate(64.8)scale(1 68.6)"/>
<use href="#k" class="i" transform="translate(64.4)scale(1 72.8)"/>
<use href="#k" class="h" transform="translate(64)scale(1 71.7)"/>
<use href="#k" class="g" transform="translate(63.6)scale(1 68.8)"/>
<use href="#k" class="f" transform="translate(63.2)scale(1 70.5)"/>
<use href="#k" class="e" transform="translate(62.9)scale(1 72.9)"/>
<use href="#k" class="d" transform="translate(62.5)scale(1 70)"/>
<use href="#k" class="c" transform="translate(62.1)scale(1 69.4)"/>
<use href="#k" class="b" transform="translate(61.7)scale(1 73.2)"/>
<use href="#k" class="a" transform="translate(61.3)scale(1 71.9)"/>
<use href="#k" class="j" transform="translate(61)scale(1 70.3)"/>
<use href="#k" class="i" transform="translate(60.6)scale(1 68.4)"/>
<use href="#k" class="h" transform="translate(60.2)scale(1 72.1)"/>
<use href="#k" class="g" transform="translate(59.8)scale(1 72.1)"/>
<use href="#k" class="f" transform="translate(59.4)scale(1 70.9)"/>
<use href="#k" class="e" transform="translate(59)scale(1 76.5)"/>
<use href="#k" class="d" transform="translate(58.7)scale(1 74.8)"/>
<use href="#k" class="c" transform="translate(58.3)scale(1 72)"/>
<use href="#k" class="b" transform="translate(57.9)scale(1 69)"/>
<use href="#k" class="a" transform="translate(57.5)scale(1 72.2)"/>
<use href="#k" class="j" transform="translate(57.1)scale(1 69.3)"/>
<use href="#k" class="i" transform="translate(56.8)scale(1 71.3)"/>
<use href="#k" class="h" transform="translate(56.4)scale(1 71.2)"/>
<use href="#k" class="g" transform="translate(56)scale(1 72)"/>
<use href="#k" class="f" transform="translate(55.6)scale(1 70.4)"/>
<use href="#k" class="e" transform="translate(55.2)scale(1 68.8)"/>
<use href="#k" class="d" transform="translate(54.8)scale(1 70.8)"/>
<use href="#k" class="c" transform="translate(54.5)scale(1 75.4)"/>
<use href="#k" class="b" transform="translate(54.1)scale(1 71.7)"/>
<use href="#k" class="a" transform="translate(53.7)scale(1 70.3)"/>
<use href="#k" class="j" transform="translate(53.3)scale(1 71.7)"/>
<use href="#k" class="i" transform="translate(52.9)scale(1 73.9)"/>
<use href="#k" class="h" transform="translate(52.6)scale(1 69.4)"/>
<use href="#k" class="g" transform="translate(52.2)scale(1 76.8)"/>
<use href="#k" class="f" transform="translate(51.8)scale(1 68.5)"/>
<use href="#k" class="e" transform="translate(51.4)scale(1 72.1)"/>
<use href="#k" class="d" transform="translate(51)scale(1 69.7)"/>
<use href="#k" class="c" transform="translate(50.7)scale(1 72.7)"/>
<use href="#k" class="b" transform="translate(50.3)scale(1 72.6)"/>
<use href="#k" class="a" transform="translate(49.9)scale(1 70.8)"/>
<use href="#k" class="j" transform="translate(49.5)scale(1 71.8)"/>
<use href="#k" class="i" transform="translate(49.1)scale(1 70.2)"/>
<use href="#k" class="h" transform="translate(48.7)scale(1 70.8)"/>
<use href="#k" class="g" transform="translate(48.4)scale(1 73.1)"/>
<use href="#k" class="f" transform="translate(48)scale(1 70.3)"/>
<use href="#k" class="e" transform="translate(47.6)scale(1 72.6)"/>
<use href="#k" class="d" transform="translate(47.2)scale(1 70.8)"/>
<use href="#k" class="c" transform="translate(46.8)scale(1 72)"/>
<use href="#k" class="b" transform="translate(46.5)scale(1 68.7)"/>
<use href="#k" class="a" transform="translate(46.1)scale(1 70.3)"/>
<use href="#k" class="j" transform="translate(45.7)scale(1 68.6)"/>
<use href="#k" class="i" transform="translate(45.3)scale(1 70)"/>
<use href="#k" class="h" transform="translate(44.9)scale(1 72.9)"/>
<use href="#k" class="g" transform="translate(44.5)scale(1 69.6)"/>
<use href="#k" class="f" transform="translate(44.2)scale(1 71.9)"/>
<use href="#k" class="e" transform="translate(43.8)scale(1 71.1)"/>
<use href="#k" class="d" transform="translate(43.4)scale(1 71.7)"/>
<use href="#k" class="c" transform="translate(43)scale(1 74.1)"/>
<use href="#k" class="b" transform="translate(42.6)scale(1 73)"/>
<use href="#k" class="a" transform="translate(42.3)scale(1 70.9)"/>
<use href="#k" class="j" transform="translate(41.9)scale(1 70.4)"/>
<use href="#k" class="i" transform="translate(41.5)scale(1 72.8)"/>
<use href="#k" class="h" transform="translate(41.1)scale(1 70.7)"/>
<use href="#k" class="g" transform="translate(40.7)scale(1 70.7)"/>
<use href="#k" class="f" transform="translate(40.3)scale(1 72.1)"/>
<use href="#k" class="e" transform="translate(40)scale(1 72)"/>
<use href="#k" class="d" transform="translate(39.6)scale(1 70.4)"/>
<use href="#k" class="c" transform="translate(39.2)scale(1 70.3)"/>
<use href="#k" class="b" transform="translate(38.8)scale(1 69.2)"/>
<use href="#k" class="a" transform="translate(38.4)scale(1 72.1)"/>
<use href="#k" class="j" transform="translate(38.1)scale(1 71.9)"/>
<use href="#k" class="i" transform="translate(37.7)scale(1 71.8)"/>
<use href="#k" class="h" transform="translate(37.3)scale(1 68.4)"/>
<use href="#k" class="g" transform="translate(36.9)scale(1 72.2)"/>
<use href="#k" class="f" transform="translate(36.5)scale(1 70.6)"/>
<use href="#k" class="e" transform="translate(36.2)scale(1 70.9)"/>
<use href="#k" class="d" transform="translate(35.8)scale(1 72)"/>
<use href="#k" class="c" transform="translate(35.4)scale(1 70.4)"/>
<use href="#k" class="b" transform="translate(35)scale(1 74.2)"/>
<use href="#k" class="a" transform="translate(34.6)scale(1 70)"/>
<use href="#k" class="j" transform="translate(34.2)scale(1 71.6)"/>
<use href="#k" class="i" transform="translate(33.9)scale(1 69.5)"/>
<use href="#k" class="h" transform="translate(33.5)scale(1 72.2)"/>
<use href="#k" class="g" transform="translate(33.1)scale(1 71.9)"/>
<use href="#k" class="f" transform="translate(32.7)scale(1 75)"/>
<use href="#k" class="e" transform="translate(32.3)scale(1 72.1)"/>
<use href="#k" class="d" transform="translate(32)scale(1 76.8)"/>
<use href="#k" class="c" transform="translate(31.6)scale(1 74.7)"/>
<use href="#k" class="b" transform="translate(31.2)scale(1 73.1)"/>
<use href="#k" class="a" transform="translate(30.8)scale(1 70.9)"/>
<use href="#k" class="j" transform="translate(30.4)scale(1 71.2)"/>
<use href="#k" class="i" transform="translate(30)scale(1 67.6)"/>
<use href="#k" class="h" transform="translate(29.7)scale(1 71.7)"/>
<use href="#k" class="g" transform="translate(29.3)scale(1 71)"/>
<use href="#k" class="f" transform="translate(28.9)scale(1 71.8)"/>
<use href="#k" class="e" transform="translate(28.5)scale(1 74)"/>
<use href="#k" class="d" transform="translate(28.1)scale(1 73.5)"/>
<use href="#k" class="c" transform="translate(27.8)scale(1 70.1)"/>
<use href="#k" class="b" transform="translate(27.4)scale(1 74.5)"/>
<use href="#k" class="a" transform="translate(27)scale(1 72.3)"/>
<use href="#k" class="j" transform="translate(26.6)scale(1 70)"/>
<use href="#k" class="i" transform="translate(26.2)scale(1 69.1)"/>
</g>
<g clip-path="url(#cq1)">
<use href="#k" class="h" transform="translate(175.8)scale(1 59)"/>
<use href="#k" class="g" transform="translate(175.4)scale(1 59)"/>
<use href="#k" class="f" transform="translate(175)scale(1 60.7)"/>
<use href="#k" class="e" transform="translate(174.7)scale(1 59.9)"/>
<use href="#k" class="d" transform="translate(174.3)scale(1 63.3)"/>
<use href="#k" class="c" transform="translate(173.9)scale(1 63.6)"/>
<use href="#k" class="b" transform="translate(173.5)scale(1 62.2)"/>
<use href="#k" class="a" transform="translate(173.1)scale(1 63)"/>
<use href="#k" class="j" transform="translate(172.8)scale(1 64.3)"/>
<use href="#k" class="i" transform="translate(172.4)scale(1 61)"/>
<use href="#k" class="h" transform="translate(172)scale(1 58.6)"/>
<use href="#k" class="g" transform="translate(171.6)scale(1 58.7)"/>
<use href="#k" class="f" transform="translate(171.2)scale(1 57.5)"/>
<use href="#k" class="e" transform="translate(170.8)scale(1 61.3)"/>
<use href="#k" class="d" transform="translate(170.5)scale(1 62)"/>
<use href="#k" class="c" transform="translate(170.1)scale(1 61.1)"/>
<use href="#k" class="b" transform="translate(169.7)scale(1 60.8)"/>
<use href="#k" class="a" transform="translate(169.3)scale(1 59.8)"/>
<use href="#k" class="j" transform="translate(168.9)scale(1 60.2)"/>
<use href="#k" class="i" transform="translate(168.6)scale(1 58.3)"/>
<use href="#k" class="h" transform="translate(168.2)scale(1 57.7)"/>
<use href="#k" class="g" transform="translate(167.8)scale(1 60)"/>
<use href="#k" class="f" transform="translate(167.4)scale(1 61.1)"/>
<use href="#k" class="e" transform="translate(167)scale(1 62.1)"/>
<use href="#k" class="d" transform="translate(166.7)scale(1 61.4)"/>
<use href="#k" class="c" transform="translate(166.3)scale(1 53.7)"/>
<use href="#k" class="b" transform="translate(165.9)scale(1 59.5)"/>
<use href="#k" class="a" transform="translate(165.5)scale(1 57.5)"/>
<use href="#k" class="j" transform="translate(165.1)scale(1 56.5)"/>
<use href="#k" class="i" transform="translate(164.7)scale(1 56.9)"/>
<use href="#k" class="h" transform="translate(164.4)scale(1 55.8)"/>
<use href="#k" class="g" transform="translate(164)scale(1 60.1)"/>
<use href="#k" class="f" transform="translate(163.6)scale(1 59.6)"/>
<use href="#k" class="e" transform="translate(163.2)scale(1 56.9)"/>
<use href="#k" class="d" transform="translate(162.8)scale(1 60.3)"/>
<use href="#k" class="c" transform="translate(162.5)scale(1 59.1)"/>
<use href="#k" class="b" transform="translate(162.1)scale(1 59.8)"/>
<use href="#k" class="a" transform="translate(161.7)scale(1 60.4)"/>
<use href="#k" class="j" transform="translate(161.3)scale(1 57.6)"/>
<use href="#k" class="i" transform="translate(160.9)scale(1 55.6)"/>
<use href="#k" class="h" transform="translate(160.5)scale(1 62.1)"/>
<use href="#k" class="g" transform="translate(160.2)scale(1 58.5)"/>
<use href="#k" class="f" transform="translate(159.8)scale(1 57.6)"/>
<use href="#k" class="e" transform="translate(159.4)scale(1 59.8)"/>
<use href="#k" class="d" transform="translate(159)scale(1 61.5)"/>
<use href="#k" class="c" transform="translate(158.6)scale(1 57.1)"/>
<use href="#k" class="b" transform="translate(158.3)scale(1 58.3)"/>
<use href="#k" class="a" transform="translate(157.9)scale(1 58.3)"/>
<use href="#k" class="j" transform="translate(157.5)scale(1 56.8)"/>
<use href="#k" class="i" transform="translate(157.1)scale(1 56.3)"/>
<use href="#k" class="h" transform="translate(156.7)scale(1 58.1)"/>
<use href="#k" class="g" transform="translate(156.3)scale(1 57.6)"/>
<use href="#k" class="f" transform="translate(156)scale(1 56.7)"/>
<use href="#k" class="e" transform="translate(155.6)scale(1 56.1)"/>
<use href="#k" class="d" transform="translate(155.2)scale(1 57.3)"/>
<use href="#k" class="c" transform="translate(154.8)scale(1 58.1)"/>
<use href="#k" class="b" transform="translate(154.4)scale(1 55.3)"/>
<use href="#k" class="a" transform="translate(154.1)scale(1 51.5)"/>
<use href="#k" class="j" transform="translate(153.7)scale(1 55.7)"/>
<use href="#k" class="i" transform="translate(153.3)scale(1 57)"/>
<use href="#k" class="h" transform="translate(152.9)scale(1 55.8)"/>
<use href="#k" class="g" transform="translate(152.5)scale(1 55.8)"/>
<use href="#k" class="f" transform="translate(152.2)scale(1 57)"/>
<use href="#k" class="e" transform="translate(151.8)scale(1 60.3)"/>
<use href="#k" class="d" transform="translate(151.4)scale(1 58.7)"/>
<use href="#k" class="c" transform="translate(151)scale(1 58.6)"/>
<use href="#k" class="b" transform="translate(150.6)scale(1 52.8)"/>
<use href="#k" class="a" transform="translate(150.2)scale(1 55.4)"/>
<use href="#k" class="j" transform="translate(149.9)scale(1 55.1)"/>
<use href="#k" class="i" transform="translate(149.5)scale(1 58.6)"/>
<use href="#k" class="h" transform="translate(149.1)scale(1 58.1)"/>
<use href="#k" class="g" transform="translate(148.7)scale(1 59.1)"/>
<use href="#k" class="f" transform="translate(148.3)scale(1 55.8)"/>
<use href="#k" class="e" transform="translate(148)scale(1 55.4)"/>
<use href="#k" class="d" transform="translate(147.6)scale(1 59.5)"/>
<use href="#k" class="c" transform="translate(147.2)scale(1 56.9)"/>
<use href="#k" class="b" transform="translate(146.8)scale(1 59.9)"/>
<use href="#k" class="a" transform="translate(146.4)scale(1 59.5)"/>
<use href="#k" class="j" transform="translate(146)scale(1 60.1)"/>
<use href="#k" class="i" transform="translate(145.7)scale(1 57.3)"/>
<use href="#k" class="h" transform="translate(145.3)scale(1 55.2)"/>
<use href="#k" class="g" transform="translate(144.9)scale(1 58)"/>
<use href="#k" class="f" transform="translate(144.5)scale(1 57.4)"/>
<use href="#k" class="e" transform="translate(144.1)scale(1 55.3)"/>
<use href="#k" class="d" transform="translate(143.8)scale(1 59.4)"/>
<use href="#k" class="c" transform="translate(143.4)scale(1 56.6)"/>
<use href="#k" class="b" transform="translate(143)scale(1 52.6)"/>
<use href="#k" class="a" transform="translate(142.6)scale(1 57.3)"/>
<use href="#k" class="j" transform="translate(142.2)scale(1 56.4)"/>
<use href="#k" class="i" transform="translate(141.8)scale(1 52.6)"/>
<use href="#k" class="h" transform="translate(141.5)scale(1 51.3)"/>
<use href="#k" class="g" transform="translate(141.1)scale(1 56.9)"/>
<use href="#k" class="f" transform="translate(140.7)scale(1 52.2)"/>
<use href="#k" class="e" transform="translate(140.3)scale(1 57.1)"/>
<use href="#k" class="d" transform="translate(139.9)scale(1 51.8)"/>
<use href="#k" class="c" transform="translate(139.6)scale(1 56)"/>
<use href="#k" class="b" transform="translate(139.2)scale(1 56.5)"/>
<use href="#k" class="a" transform="translate(138.8)scale(1 54.6)"/>
<use href="#k" class="j" transform="translate(138.4)scale(1 55.5)"/>
<use href="#k" class="i" transform="translate(138)scale(1 52.7)"/>
<use href="#k" class="h" transform="translate(137.7)scale(1 54.3)"/>
<use href="#k" class="g" transform="translate(137.3)scale(1 56.4)"/>
<use href="#k" class="f" transform="translate(136.9)scale(1 51.3)"/>
<use href="#k" class="e" transform="translate(136.5)scale(1 56.6)"/>
<use href="#k" class="d" transform="translate(136.1)scale(1 59.2)"/>
<use href="#k" class="c" transform="translate(135.7)scale(1 56.3)"/>
<use href="#k" class="b" transform="translate(135.4)scale(1 57.7)"/>
<use href="#k" class="a" transform="translate(135)scale(1 54.7)"/>
<use href="#k" class="j" transform="translate(134.6)scale(1 56.6)"/>
<use href="#k" class="i" transform="translate(134.2)scale(1 57.4)"/>
<use href="#k" class="h" transform="translate(133.8)scale(1 55.3)"/>
<use href="#k" class="g" transform="translate(133.5)scale(1 53.5)"/>
<use href="#k" class="f" transform="translate(133.1)scale(1 54.1)"/>
<use href="#k" class="e" transform="translate(132.7)scale(1 50.7)"/>
<use href="#k" class="d" transform="translate(132.3)scale(1 61.1)"/>
<use href="#k" class="c" transform="translate(131.9)scale(1 52.9)"/>
<use href="#k" class="b" transform="translate(131.5)scale(1 56.3)"/>
<use href="#k" class="a" transform="translate(131.2)scale(1 57.2)"/>
<use href="#k" class="j" transform="translate(130.8)scale(1 54)"/>
<use href="#k" class="i" transform="translate(130.4)scale(1 56)"/>
<use href="#k" class="h" transform="translate(130)scale(1 57)"/>
<use href="#k" class="g" transform="translate(129.6)scale(1 52.7)"/>
<use href="#k" class="f" transform="translate(129.3)scale(1 58.7)"/>
<use href="#k" class="e" transform="translate(128.9)scale(1 56.3)"/>
<use href="#k" class="d" transform="translate(128.5)scale(1 56.8)"/>
<use href="#k" class="c" transform="translate(128.1)scale(1 56.1)"/>
<use href="#k" class="b" transform="translate(127.7)scale(1 56.8)"/>
<use href="#k" class="a" transform="translate(127.3)scale(1 54.4)"/>
<use href="#k" class="j" transform="translate(127)scale(1 55.9)"/>
<use href="#k" class="i" transform="translate(126.6)scale(1 57.8)"/>
<use href="#k" class="h" transform="translate(126.2)scale(1 53.1)"/>
<use href="#k" class="g" transform="translate(125.8)scale(1 57.2)"/>
<use href="#k" class="f" transform="translate(125.4)scale(1 58.4)"/>
<use href="#k" class="e" transform="translate(125.1)scale(1 57.3)"/>
<use href="#k" class="d" transform="translate(124.7)scale(1 60.2)"/>
<use href="#k" class="c" transform="translate(124.3)scale(1 55.2)"/>
<use href="#k" class="b" transform="translate(123.9)scale(1 53.9)"/>
<use href="#k" class="a" transform="translate(123.5)scale(1 58.6)"/>
<use href="#k" class="j" transform="translate(123.2)scale(1 54)"/>
<use href="#k" class="i" transform="translate(122.8)scale(1 52.5)"/>
<use href="#k" class="h" transform="translate(122.4)scale(1 54.6)"/>
<use href="#k" class="g" transform="translate(122)scale(1 53.5)"/>
<use href="#k" class="f" transform="translate(121.6)scale(1 54.2)"/>
<use href="#k" class="e" transform="translate(121.2)scale(1 53.3)"/>
<use href="#k" class="d" transform="translate(120.9)scale(1 52.1)"/>
<use href="#k" class="c" transform="translate(120.5)scale(1 53.5)"/>
<use href="#k" class="b" transform="translate(120.1)scale(1 54.4)"/>
<use href="#k" class="a" transform="translate(119.7)scale(1 51.7)"/>
<use href="#k" class="j" transform="translate(119.3)scale(1 56.1)"/>
<use href="#k" class="i" transform="translate(119)scale(1 54.6)"/>
<use href="#k" class="h" transform="translate(118.6)scale(1 55.7)"/>
<use href="#k" class="g" transform="translate(118.2)scale(1 55.4)"/>
<use href="#k" class="f" transform="translate(117.8)scale(1 53.1)"/>
<use href="#k" class="e" transform="translate(117.4)scale(1 57.6)"/>
<use href="#k" class="d" transform="translate(117)scale(1 55.1)"/>
<use href="#k" class="c" transform="translate(116.7)scale(1 56.8)"/>
<use href="#k" class="b" transform="translate(116.3)scale(1 52)"/>
<use href="#k" class="a" transform="translate(115.9)scale(1 50.6)"/>
<use href="#k" class="j" transform="translate(115.5)scale(1 53.9)"/>
<use href="#k" class="i" transform="translate(115.1)scale(1 53)"/>
<use href="#k" class="h" transform="translate(114.8)scale(1 50.6)"/>
<use href="#k" class="g" transform="translate(114.4)scale(1 52.6)"/>
<use href="#k" class="f" transform="translate(114)scale(1 54.3)"/>
<use href="#k" class="e" transform="translate(113.6)scale(1 51.5)"/>
<use href="#k" class="d" transform="translate(113.2)scale(1 53.8)"/>
<use href="#k" class="c" transform="translate(112.8)scale(1 59.2)"/>
<use href="#k" class="b" transform="translate(112.5)scale(1 52.4)"/>
<use href="#k" class="a" transform="translate(112.1)scale(1 52.3)"/>
<use href="#k" class="j" transform="translate(111.7)scale(1 53.8)"/>
<use href="#k" class="i" transform="translate(111.3)scale(1 53.7)"/>
<use href="#k" class="h" transform="translate(110.9)scale(1 55.4)"/>
<use href="#k" class="g" transform="translate(110.6)scale(1 51.8)"/>
<use href="#k" class="f" transform="translate(110.2)scale(1 57.4)"/>
<use href="#k" class="e" transform="translate(109.8)scale(1 57.1)"/>
<use href="#k" class="d" transform="translate(109.4)scale(1 51.6)"/>
<use href="#k" class="c" transform="translate(109)scale(1 53.2)"/>
<use href="#k" class="b" transform="translate(108.7)scale(1 53.2)"/>
<use href="#k" class="a" transform="translate(108.3)scale(1 55.8)"/>
<use href="#k" class="j" transform="translate(107.9)scale(1 55.2)"/>
<use href="#k" class="i" transform="translate(107.5)scale(1 59)"/>
<use href="#k" class="h" transform="translate(107.1)scale(1 59.4)"/>
<use href="#k" class="g" transform="translate(106.7)scale(1 54.3)"/>
<use href="#k" class="f" transform="translate(106.4)scale(1 51.8)"/>
<use href="#k" class="e" transform="translate(106)scale(1 55.3)"/>
<use href="#k" class="d" transform="translate(105.6)scale(1 56.1)"/>
<use href="#k" class="c" transform="translate(105.2)scale(1 52.3)"/>
<use href="#k" class="b" transform="translate(104.8)scale(1 53)"/>
<use href="#k" class="a" transform="translate(104.5)scale(1 51.7)"/>
<use href="#k" class="j" transform="translate(104.1)scale(1 53.4)"/>
<use href="#k" class="i" transform="translate(103.7)scale(1 52.5)"/>
<use href="#k" class="h" transform="translate(103.3)scale(1 55.5)"/>
<use href="#k" class="g" transform="translate(102.9)scale(1 55.9)"/>
<use href="#k" class="f" transform="translate(102.5)scale(1 51.9)"/>
<use href="#k" class="e" transform="translate(102.2)scale(1 52.7)"/>
<use href="#k" class="d" transform="translate(101.8)scale(1 55.1)"/>
<use href="#k" class="c" transform="translate(101.4)scale(1 54.6)"/>
<use href="#k" class="b" transform="translate(101)scale(1 55.8)"/>
<use href="#k" class="a" transform="translate(100.6)scale(1 53.1)"/>
<use href="#k" class="j" transform="translate(100.3)scale(1 52)"/>
<use href="#k" class="i" transform="translate(99.9)scale(1 51.3)"/>
<use href="#k" class="h" transform="translate(99.5)scale(1 56.8)"/>
<use href="#k" class="g" transform="translate(99.1)scale(1 54.2)"/>
<use href="#k" class="f" transform="translate(98.7)scale(1 53.3)"/>
</g>
<g clip-path="url(#cq2)">
<use href="#k" class="e" transform="translate(248.3)scale(1 63.3)"/>
<use href="#k" class="d" transform="translate(247.9)scale(1 64.5)"/>
<use href="#k" class="c" transform="translate(247.5)scale(1 64.6)"/>
<use href="#k" class="b" transform="translate(247.2)scale(1 63.4)"/>
<use href="#k" class="a" transform="translate(246.8)scale(1 66.7)"/>
<use href="#k" class="j" transform="translate(246.4)scale(1 65.6)"/>
<use href="#k" class="i" transform="translate(246)scale(1 64.4)"/>
<use href="#k" class="h" transform="translate(245.6)scale(1 63.4)"/>
<use href="#k" class="g" transform="translate(245.3)scale(1 63.2)"/>
<use href="#k" class="f" transform="translate(244.9)scale(1 64.1)"/>
<use href="#k" class="e" transform="translate(244.5)scale(1 67.5)"/>
<use href="#k" class="d" transform="translate(244.1)scale(1 67.5)"/>
<use href="#k" class="c" transform="translate(243.7)scale(1 63.3)"/>
<use href="#k" class="b" transform="translate(243.3)scale(1 63.8)"/>
<use href="#k" class="a" transform="translate(243)scale(1 68.7)"/>
<use href="#k" class="j" transform="translate(242.6)scale(1 65.3)"/>
<use href="#k" class="i" transform="translate(242.2)scale(1 67.9)"/>
<use href="#k" class="h" transform="translate(241.8)scale(1 63.3)"/>
<use href="#k" class="g" transform="translate(241.4)scale(1 68.2)"/>
<use href="#k" class="f" transform="translate(241.1)scale(1 65.9)"/>
<use href="#k" class="e" transform="translate(240.7)scale(1 62.5)"/>
<use href="#k" class="d" transform="translate(240.3)scale(1 62)"/>
<use href="#k" class="c" transform="translate(239.9)scale(1 68)"/>
<use href="#k" class="b" transform="translate(239.5)scale(1 68.3)"/>
<use href="#k" class="a" transform="translate(239.2)scale(1 65.5)"/>
<use href="#k" class="j" transform="translate(238.8)scale(1 65.4)"/>
<use href="#k" class="i" transform="translate(238.4)scale(1 69.7)"/>
<use href="#k" class="h" transform="translate(238)scale(1 70.6)"/>
<use href="#k" class="g" transform="translate(237.6)scale(1 66)"/>
<use href="#k" class="f" transform="translate(237.2)scale(1 71.1)"/>
<use href="#k" class="e" transform="translate(236.9)scale(1 69.1)"/>
<use href="#k" class="d" transform="translate(236.5)scale(1 67.6)"/>
<use href="#k" class="c" transform="translate(236.1)scale(1 63)"/>
<use href="#k" class="b" transform="translate(235.7)scale(1 66.1)"/>
<use href="#k" class="a" transform="translate(235.3)scale(1 63.9)"/>
<use href="#k" class="j" transform="translate(235)scale(1 66)"/>
<use href="#k" class="i" transform="translate(234.6)scale(1 66)"/>
<use href="#k" class="h" transform="translate(234.2)scale(1 68)"/>
<use href="#k" class="g" transform="translate(233.8)scale(1 64.4)"/>
<use href="#k" class="f" transform="translate(233.4)scale(1 70.1)"/>
<use href="#k" class="e" transform="translate(233)scale(1 70.7)"/>
<use href="#k" class="d" transform="translate(232.7)scale(1 68.2)"/>
<use href="#k" class="c" transform="translate(232.3)scale(1 70.6)"/>
<use href="#k" class="b" transform="translate(231.9)scale(1 67.8)"/>
<use href="#k" class="a" transform="translate(231.5)scale(1 67.1)"/>
<use href="#k" class="j" transform="translate(231.1)scale(1 62.3)"/>
<use href="#k" class="i" transform="translate(230.8)scale(1 66.4)"/>
<use href="#k" class="h" transform="translate(230.4)scale(1 68.4)"/>
<use href="#k" class="g" transform="translate(230)scale(1 67.3)"/>
<use href="#k" class="f" transform="translate(229.6)scale(1 68.2)"/>
<use href="#k" class="e" transform="translate(229.2)scale(1 70.3)"/>
<use href="#k" class="d" transform="translate(228.8)scale(1 66.4)"/>
<use href="#k" class="c" transform="translate(228.5)scale(1 66.4)"/>
<use href="#k" class="b" transform="translate(228.1)scale(1 63.8)"/>
<use href="#k" class="a" transform="translate(227.7)scale(1 66.4)"/>
<use href="#k" class="j" transform="translate(227.3)scale(1 64.1)"/>
<use href="#k" class="i" transform="translate(226.9)scale(1 72.1)"/>
<use href="#k" class="h" transform="translate(226.6)scale(1 66.4)"/>
<use href="#k" class="g" transform="translate(226.2)scale(1 69.3)"/>
<use href="#k" class="f" transform="translate(225.8)scale(1 70.2)"/>
<use href="#k" class="e" transform="translate(225.4)scale(1 69.1)"/>
<use href="#k" class="d" transform="translate(225)scale(1 71.4)"/>
<use href="#k" class="c" transform="translate(224.7)scale(1 71.1)"/>
<use href="#k" class="b" transform="translate(224.3)scale(1 66.2)"/>
<use href="#k" class="a" transform="translate(223.9)scale(1 69.1)"/>
<use href="#k" class="j" transform="translate(223.5)scale(1 70.2)"/>
<use href="#k" class="i" transform="translate(223.1)scale(1 67)"/>
<use href="#k" class="h" transform="translate(222.7)scale(1 63.1)"/>
<use href="#k" class="g" transform="translate(222.4)scale(1 69)"/>
<use href="#k" class="f" transform="translate(222)scale(1 69)"/>
<use href="#k" class="e" transform="translate(221.6)scale(1 68)"/>
<use href="#k" class="d" transform="translate(221.2)scale(1 64.8)"/>
<use href="#k" class="c" transform="translate(220.8)scale(1 69.1)"/>
<use href="#k" class="b" transform="translate(220.5)scale(1 69.4)"/>
<use href="#k" class="a" transform="translate(220.1)scale(1 68.5)"/>
<use href="#k" class="j" transform="translate(219.7)scale(1 68.5)"/>
<use href="#k" class="i" transform="translate(219.3)scale(1 69.8)"/>
<use href="#k" class="h" transform="translate(218.9)scale(1 70)"/>
<use href="#k" class="g" transform="translate(218.5)scale(1 69.7)"/>
<use href="#k" class="f" transform="translate(218.2)scale(1 69.7)"/>
<use href="#k" class="e" transform="translate(217.8)scale(1 73.5)"/>
<use href="#k" class="d" transform="translate(217.4)scale(1 70.9)"/>
<use href="#k" class="c" transform="translate(217)scale(1 65.6)"/>
<use href="#k" class="b" transform="translate(216.6)scale(1 71.3)"/>
<use href="#k" class="a" transform="translate(216.3)scale(1 70.5)"/>
<use href="#k" class="j" transform="translate(215.9)scale(1 69.6)"/>
<use href="#k" class="i" transform="translate(215.5)scale(1 72.7)"/>
<use href="#k" class="h" transform="translate(215.1)scale(1 67)"/>
<use href="#k" class="g" transform="translate(214.7)scale(1 66.7)"/>
<use href="#k" class="f" transform="translate(214.3)scale(1 68.5)"/>
<use href="#k" class="e" transform="translate(214)scale(1 68.5)"/>
<use href="#k" class="d" transform="translate(213.6)scale(1 69)"/>
<use href="#k" class="c" transform="translate(213.2)scale(1 69.3)"/>
<use href="#k" class="b" transform="translate(212.8)scale(1 67.2)"/>
<use href="#k" class="a" transform="translate(212.4)scale(1 67.6)"/>
<use href="#k" class="j" transform="translate(212.1)scale(1 67.4)"/>
<use href="#k" class="i" transform="translate(211.7)scale(1 67.9)"/>
<use href="#k" class="h" transform="translate(211.3)scale(1 74.1)"/>
<use href="#k" class="g" transform="translate(210.9)scale(1 65.7)"/>
<use href="#k" class="f" transform="translate(210.5)scale(1 70.7)"/>
<use href="#k" class="e" transform="translate(210.2)scale(1 71.3)"/>
<use href="#k" class="d" transform="translate(209.8)scale(1 72.7)"/>
<use href="#k" class="c" transform="translate(209.4)scale(1 68.1)"/>
<use href="#k" class="b" transform="translate(209)scale(1 72.3)"/>
<use href="#k" class="a" transform="translate(208.6)scale(1 71.1)"/>
<use href="#k" class="j" transform="translate(208.2)scale(1 73.2)"/>
<use href="#k" class="i" transform="translate(207.9)scale(1 72.8)"/>
<use href="#k" class="h" transform="translate(207.5)scale(1 72.6)"/>
<use href="#k" class="g" transform="translate(207.1)scale(1 74.5)"/>
<use href="#k" class="f" transform="translate(206.7)scale(1 76.9)"/>
<use href="#k" class="e" transform="translate(206.3)scale(1 70.9)"/>
<use href="#k" class="d" transform="translate(206)scale(1 71.3)"/>
<use href="#k" class="c" transform="translate(205.6)scale(1 70.8)"/>
<use href="#k" class="b" transform="translate(205.2)scale(1 71.6)"/>
<use href="#k" class="a" transform="translate(204.8)scale(1 68.3)"/>
<use href="#k" class="j" transform="translate(204.4)scale(1 71.5)"/>
<use href="#k" class="i" transform="translate(204)scale(1 71.1)"/>
<use href="#k" class="h" transform="translate(203.7)scale(1 69.7)"/>
<use href="#k" class="g" transform="translate(203.3)scale(1 70.9)"/>
<use href="#k" class="f" transform="translate(202.9)scale(1 77.8)"/>
<use href="#k" class="e" transform="translate(202.5)scale(1 74.6)"/>
<use href="#k" class="d" transform="translate(202.1)scale(1 77.3)"/>
<use href="#k" class="c" transform="translate(201.8)scale(1 72.8)"/>
<use href="#k" class="b" transform="translate(201.4)scale(1 72.8)"/>
<use href="#k" class="a" transform="translate(201)scale(1 68.6)"/>
<use href="#k" class="j" transform="translate(200.6)scale(1 74.4)"/>
<use href="#k" class="i" transform="translate(200.2)scale(1 71.5)"/>
<use href="#k" class="h" transform="translate(199.8)scale(1 69.5)"/>
<use href="#k" class="g" transform="translate(199.5)scale(1 72)"/>
<use href="#k" class="f" transform="translate(199.1)scale(1 72.9)"/>
<use href="#k" class="e" transform="translate(198.7)scale(1 69.5)"/>
<use href="#k" class="d" transform="translate(198.3)scale(1 68.3)"/>
<use href="#k" class="c" transform="translate(197.9)scale(1 69.8)"/>
<use href="#k" class="b" transform="translate(197.6)scale(1 71.3)"/>
<use href="#k" class="a" transform="translate(197.2)scale(1 68.5)"/>
<use href="#k" class="j" transform="translate(196.8)scale(1 72.5)"/>
<use href="#k" class="i" transform="translate(196.4)scale(1 67.4)"/>
<use href="#k" class="h" transform="translate(196)scale(1 72.6)"/>
<use href="#k" class="g" transform="translate(195.7)scale(1 69.6)"/>
<use href="#k" class="f" transform="translate(195.3)scale(1 73.9)"/>
<use href="#k" class="e" transform="translate(194.9)scale(1 73.5)"/>
<use href="#k" class="d" transform="translate(194.5)scale(1 69.9)"/>
<use href="#k" class="c" transform="translate(194.1)scale(1 70.5)"/>
<use href="#k" class="b" transform="translate(193.7)scale(1 69.8)"/>
<use href="#k" class="a" transform="translate(193.4)scale(1 73.6)"/>
<use href="#k" class="j" transform="translate(193)scale(1 71.3)"/>
<use href="#k" class="i" transform="translate(192.6)scale(1 71.5)"/>
<use href="#k" class="h" transform="translate(192.2)scale(1 71.4)"/>
<use href="#k" class="g" transform="translate(191.8)scale(1 75.4)"/>
<use href="#k" class="f" transform="translate(191.5)scale(1 71.7)"/>
<use href="#k" class="e" transform="translate(191.1)scale(1 72.5)"/>
<use href="#k" class="d" transform="translate(190.7)scale(1 64.7)"/>
<use href="#k" class="c" transform="translate(190.3)scale(1 68.4)"/>
<use href="#k" class="b" transform="translate(189.9)scale(1 70.3)"/>
<use href="#k" class="a" transform="translate(189.5)scale(1 75.8)"/>
<use href="#k" class="j" transform="translate(189.2)scale(1 70)"/>
<use href="#k" class="i" transform="translate(188.8)scale(1 70.4)"/>
<use href="#k" class="h" transform="translate(188.4)scale(1 72.8)"/>
<use href="#k" class="g" transform="translate(188)scale(1 70.5)"/>
<use href="#k" class="f" transform="translate(187.6)scale(1 69.1)"/>
<use href="#k" class="e" transform="translate(187.3)scale(1 68.2)"/>
<use href="#k" class="d" transform="translate(186.9)scale(1 70.2)"/>
<use href="#k" class="c" transform="translate(186.5)scale(1 69.5)"/>
<use href="#k" class="b" transform="translate(186.1)scale(1 68.5)"/>
<use href="#k" class="a" transform="translate(185.7)scale(1 68.1)"/>
<use href="#k" class="j" transform="translate(185.3)scale(1 72.1)"/>
<use href="#k" class="i" transform="translate(185)scale(1 72.5)"/>
<use href="#k" class="h" transform="translate(184.6)scale(1 67.7)"/>
<use href="#k" class="g" transform="translate(184.2)scale(1 70)"/>
<use href="#k" class="f" transform="translate(183.8)scale(1 65.3)"/>
<use href="#k" class="e" transform="translate(183.4)scale(1 70.3)"/>
<use href="#k" class="d" transform="translate(183.1)scale(1 69.7)"/>
<use href="#k" class="c" transform="translate(182.7)scale(1 72.4)"/>
<use href="#k" class="b" transform="translate(182.3)scale(1 65.2)"/>
<use href="#k" class="a" transform="translate(181.9)scale(1 67.8)"/>
<use href="#k" class="j" transform="translate(181.5)scale(1 69.1)"/>
<use href="#k" class="i" transform="translate(181.2)scale(1 70.6)"/>
<use href="#k" class="h" transform="translate(180.8)scale(1 69.6)"/>
<use href="#k" class="g" transform="translate(180.4)scale(1 69.5)"/>
<use href="#k" class="f" transform="translate(180)scale(1 71.1)"/>
<use href="#k" class="e" transform="translate(179.6)scale(1 67.4)"/>
<use href="#k" class="d" transform="translate(179.2)scale(1 69.2)"/>
<use href="#k" class="c" transform="translate(178.9)scale(1 69.3)"/>
<use href="#k" class="b" transform="translate(178.5)scale(1 74.3)"/>
<use href="#k" class="a" transform="translate(178.1)scale(1 68.8)"/>
<use href="#k" class="j" transform="translate(177.7)scale(1 73.9)"/>
<use href="#k" class="i" transform="translate(177.3)scale(1 68.6)"/>
<use href="#k" class="h" transform="translate(177)scale(1 70.6)"/>
<use href="#k" class="g" transform="translate(176.6)scale(1 68.8)"/>
<use href="#k" class="f" transform="translate(176.2)scale(1 72.9)"/>
<use href="#k" class="e" transform="translate(175.8)scale(1 66.9)"/>
<use href="#k" class="d" transform="translate(175.4)scale(1 70.3)"/>
<use href="#k" class="c" transform="translate(175)scale(1 70.1)"/>
<use href="#k" class="b" transform="translate(174.7)scale(1 74.3)"/>
<use href="#k" class="a" transform="translate(174.3)scale(1 69.3)"/>
<use href="#k" class="j" transform="translate(173.9)scale(1 69.6)"/>
<use href="#k" class="i" transform="translate(173.5)scale(1 70.4)"/>
<use href="#k" class="h" transform="translate(173.1)scale(1 67)"/>
<use href="#k" class="g" transform="translate(172.8)scale(1 67.9)"/>
<use href="#k" class="f" transform="translate(172.4)scale(1 68.5)"/>
<use href="#k" class="e" transform="translate(172)scale(1 68.3)"/>
<use href="#k" class="d" transform="translate(171.6)scale(1 72.2)"/>
<use href="#k" class="c" transform="translate(171.2)scale(1 72.2)"/>
</g>
<g clip-path="url(#cq3)">
<use href="#k" class="b" transform="translate(320.8)scale(1 77.3)"/>
<use href="#k" class="a" transform="translate(320.4)scale(1 76.4)"/>
<use href="#k" class="j" transform="translate(320)scale(1 76)"/>
<use href="#k" class="i" transform="translate(319.7)scale(1 75.3)"/>
<use href="#k" class="h" transform="translate(319.3)scale(1 73.1)"/>
<use href="#k" class="g" transform="translate(318.9)scale(1 76.9)"/>
<use href="#k" class="f" transform="translate(318.5)scale(1 78.2)"/>
<use href="#k" class="e" transform="translate(318.1)scale(1 76.9)"/>
<use href="#k" class="d" transform="translate(317.8)scale(1 76.4)"/>
<use href="#k" class="c" transform="translate(317.4)scale(1 75.7)"/>
<use href="#k" class="b" transform="translate(317)scale(1 74.7)"/>
<use href="#k" class="a" transform="translate(316.6)scale(1 77.5)"/>
<use href="#k" class="j" transform="translate(316.2)scale(1 78.1)"/>
<use href="#k" class="i" transform="translate(315.8)scale(1 75)"/>
<use href="#k" class="h" transform="translate(315.5)scale(1 74)"/>
<use href="#k" class="g" transform="translate(315.1)scale(1 76.9)"/>
<use href="#k" class="f" transform="translate(314.7)scale(1 77.4)"/>
<use href="#k" class="e" transform="translate(314.3)scale(1 74.7)"/>
<use href="#k" class="d" transform="translate(313.9)scale(1 78)"/>
<use href="#k" class="c" transform="translate(313.6)scale(1 73.7)"/>
<use href="#k" class="b" transform="translate(313.2)scale(1 72.9)"/>
<use href="#k" class="a" transform="translate(312.8)scale(1 77.9)"/>
<use href="#k" class="j" transform="translate(312.4)scale(1 75.9)"/>
<use href="#k" class="i" transform="translate(312)scale(1 68.5)"/>
<use href="#k" class="h" transform="translate(311.7)scale(1 76.9)"/>
<use href="#k" class="g" transform="translate(311.3)scale(1 77.5)"/>
<use href="#k" class="f" transform="translate(310.9)scale(1 71.7)"/>
<use href="#k" class="e" transform="translate(310.5)scale(1 74.8)"/>
<use href="#k" class="d" transform="translate(310.1)scale(1 75.5)"/>
<use href="#k" class="c" transform="translate(309.7)scale(1 77.3)"/>
<use href="#k" class="b" transform="translate(309.4)scale(1 77.6)"/>
<use href="#k" class="a" transform="translate(309)scale(1 79.8)"/>
<use href="#k" class="j" transform="translate(308.6)scale(1 73.7)"/>
<use href="#k" class="i" transform="translate(308.2)scale(1 71.9)"/>
<use href="#k" class="h" transform="translate(307.8)scale(1 71.7)"/>
<use href="#k" class="g" transform="translate(307.5)scale(1 79.9)"/>
<use href="#k" class="f" transform="translate(307.1)scale(1 74.5)"/>
<use href="#k" class="e" transform="translate(306.7)scale(1 76.2)"/>
<use href="#k" class="d" transform="translate(306.3)scale(1 78.1)"/>
<use href="#k" class="c" transform="translate(305.9)scale(1 71.6)"/>
<use href="#k" class="b" transform="translate(305.5)scale(1 70.1)"/>
<use href="#k" class="a" transform="translate(305.2)scale(1 75.9)"/>
<use href="#k" class="j" transform="translate(304.8)scale(1 73.7)"/>
<use href="#k" class="i" transform="translate(304.4)scale(1 75.7)"/>
<use href="#k" class="h" transform="translate(304)scale(1 74.6)"/>
<use href="#k" class="g" transform="translate(303.6)scale(1 76.6)"/>
<use href="#k" class="f" transform="translate(303.3)scale(1 74)"/>
<use href="#k" class="e" transform="translate(302.9)scale(1 77.7)"/>
<use href="#k" class="d" transform="translate(302.5)scale(1 78.2)"/>
<use href="#k" class="c" transform="translate(302.1)scale(1 76.2)"/>
<use href="#k" class="b" transform="translate(301.7)scale(1 74)"/>
<use href="#k" class="a" transform="translate(301.3)scale(1 73.4)"/>
<use href="#k" class="j" transform="translate(301)scale(1 74.8)"/>
<use href="#k" class="i" transform="translate(300.6)scale(1 71.9)"/>
<use href="#k" class="h" transform="translate(300.2)scale(1 77.4)"/>
<use href="#k" class="g" transform="translate(299.8)scale(1 70.6)"/>
<use href="#k" class="f" transform="translate(299.4)scale(1 72.4)"/>
<use href="#k" class="e" transform="translate(299.1)scale(1 73.7)"/>
<use href="#k" class="d" transform="translate(298.7)scale(1 75.3)"/>
<use href="#k" class="c" transform="translate(298.3)scale(1 72.8)"/>
<use href="#k" class="b" transform="translate(297.9)scale(1 74.3)"/>
<use href="#k" class="a" transform="translate(297.5)scale(1 72)"/>
<use href="#k" class="j" transform="translate(297.2)scale(1 76.1)"/>
<use href="#k" class="i" transform="translate(296.8)scale(1 71.7)"/>
<use href="#k" class="h" transform="translate(296.4)scale(1 73.3)"/>
<use href="#k" class="g" transform="translate(296)scale(1 73.4)"/>
<use href="#k" class="f" transform="translate(295.6)scale(1 72.5)"/>
<use href="#k" class="e" transform="translate(295.2)scale(1 76.8)"/>
<use href="#k" class="d" transform="translate(294.9)scale(1 74.9)"/>
<use href="#k" class="c" transform="translate(294.5)scale(1 72.4)"/>
<use href="#k" class="b" transform="translate(294.1)scale(1 72.5)"/>
<use href="#k" class="a" transform="translate(293.7)scale(1 78)"/>
<use href="#k" class="j" transform="translate(293.3)scale(1 76.4)"/>
<use href="#k" class="i" transform="translate(293)scale(1 74.7)"/>
<use href="#k" class="h" transform="translate(292.6)scale(1 71.1)"/>
<use href="#k" class="g" transform="translate(292.2)scale(1 76.6)"/>
<use href="#k" class="f" transform="translate(291.8)scale(1 74.9)"/>
<use href="#k" class="e" transform="translate(291.4)scale(1 73.9)"/>
<use href="#k" class="d" transform="translate(291)scale(1 73.4)"/>
<use href="#k" class="c" transform="translate(290.7)scale(1 77.1)"/>
<use href="#k" class="b" transform="translate(290.3)scale(1 73.7)"/>
<use href="#k" class="a" transform="translate(289.9)scale(1 74.9)"/>
<use href="#k" class="j" transform="translate(289.5)scale(1 71.3)"/>
<use href="#k" class="i" transform="translate(289.1)scale(1 71.7)"/>
<use href="#k" class="h" transform="translate(288.8)scale(1 74.4)"/>
<use href="#k" class="g" transform="translate(288.4)scale(1 75.9)"/>
<use href="#k" class="f" transform="translate(288)scale(1 72.5)"/>
<use href="#k" class="e" transform="translate(287.6)scale(1 77.7)"/>
<use href="#k" class="d" transform="translate(287.2)scale(1 74.5)"/>
<use href="#k" class="c" transform="translate(286.8)scale(1 72.3)"/>
<use href="#k" class="b" transform="translate(286.5)scale(1 72.8)"/>
<use href="#k" class="a" transform="translate(286.1)scale(1 73.1)"/>
<use href="#k" class="j" transform="translate(285.7)scale(1 73.8)"/>
<use href="#k" class="i" transform="translate(285.3)scale(1 69.9)"/>
<use href="#k" class="h" transform="translate(284.9)scale(1 72.6)"/>
<use href="#k" class="g" transform="translate(284.6)scale(1 77.5)"/>
<use href="#k" class="f" transform="translate(284.2)scale(1 71.6)"/>
<use href="#k" class="e" transform="translate(283.8)scale(1 74.2)"/>
<use href="#k" class="d" transform="translate(283.4)scale(1 72.5)"/>
<use href="#k" class="c" transform="translate(283)scale(1 73.5)"/>
<use href="#k" class="b" transform="translate(282.7)scale(1 75.3)"/>
<use href="#k" class="a" transform="translate(282.3)scale(1 71.8)"/>
<use href="#k" class="j" transform="translate(281.9)scale(1 74.8)"/>
<use href="#k" class="i" transform="translate(281.5)scale(1 72.5)"/>
<use href="#k" class="h" transform="translate(281.1)scale(1 74.8)"/>
<use href="#k" class="g" transform="translate(280.7)scale(1 71.9)"/>
<use href="#k" class="f" transform="translate(280.4)scale(1 69.4)"/>
<use href="#k" class="e" transform="translate(280)scale(1 74)"/>
<use href="#k" class="d" transform="translate(279.6)scale(1 71)"/>
<use href="#k" class="c" transform="translate(279.2)scale(1 75.4)"/>
<use href="#k" class="b" transform="translate(278.8)scale(1 72.1)"/>
<use href="#k" class="a" transform="translate(278.5)scale(1 77.7)"/>
<use href="#k" class="j" transform="translate(278.1)scale(1 73.2)"/>
<use href="#k" class="i" transform="translate(277.7)scale(1 74.2)"/>
<use href="#k" class="h" transform="translate(277.3)scale(1 72.2)"/>
<use href="#k" class="g" transform="translate(276.9)scale(1 71.7)"/>
<use href="#k" class="f" transform="translate(276.5)scale(1 71.8)"/>
<use href="#k" class="e" transform="translate(276.2)scale(1 70.7)"/>
<use href="#k" class="d" transform="translate(275.8)scale(1 69.3)"/>
<use href="#k" class="c" transform="translate(275.4)scale(1 72.2)"/>
<use href="#k" class="b" transform="translate(275)scale(1 74.1)"/>
<use href="#k" class="a" transform="translate(274.6)scale(1 71.5)"/>
<use href="#k" class="j" transform="translate(274.3)scale(1 72.3)"/>
<use href="#k" class="i" transform="translate(273.9)scale(1 73.8)"/>
<use href="#k" class="h" transform="translate(273.5)scale(1 74.2)"/>
<use href="#k" class="g" transform="translate(273.1)scale(1 72.7)"/>
<use href="#k" class="f" transform="translate(272.7)scale(1 74.4)"/>
<use href="#k" class="e" transform="translate(272.3)scale(1 77.9)"/>
<use href="#k" class="d" transform="translate(272)scale(1 72.4)"/>
<use href="#k" class="c" transform="translate(271.6)scale(1 66.7)"/>
<use href="#k" class="b" transform="translate(271.2)scale(1 77.6)"/>
<use href="#k" class="a" transform="translate(270.8)scale(1 71.9)"/>
<use href="#k" class="j" transform="translate(270.4)scale(1 73.3)"/>
<use href="#k" class="i" transform="translate(270.1)scale(1 72.3)"/>
<use href="#k" class="h" transform="translate(269.7)scale(1 71.3)"/>
<use href="#k" class="g" transform="translate(269.3)scale(1 74.9)"/>
<use href="#k" class="f" transform="translate(268.9)scale(1 72.9)"/>
<use href="#k" class="e" transform="translate(268.5)scale(1 73.8)"/>
<use href="#k" class="d" transform="translate(268.2)scale(1 71.1)"/>
<use href="#k" class="c" transform="translate(267.8)scale(1 71.6)"/>
<use href="#k" class="b" transform="translate(267.4)scale(1 77.6)"/>
<use href="#k" class="a" transform="translate(267)scale(1 74.6)"/>
<use href="#k" class="j" transform="translate(266.6)scale(1 74.7)"/>
<use href="#k" class="i" transform="translate(266.2)scale(1 70.3)"/>
<use href="#k" class="h" transform="translate(265.9)scale(1 72.9)"/>
<use href="#k" class="g" transform="translate(265.5)scale(1 72)"/>
<use href="#k" class="f" transform="translate(265.1)scale(1 75.1)"/>
<use href="#k" class="e" transform="translate(264.7)scale(1 74.1)"/>
<use href="#k" class="d" transform="translate(264.3)scale(1 70.7)"/>
<use href="#k" class="c" transform="translate(264)scale(1 73.5)"/>
<use href="#k" class="b" transform="translate(263.6)scale(1 74.6)"/>
<use href="#k" class="a" transform="translate(263.2)scale(1 73.3)"/>
<use href="#k" class="j" transform="translate(262.8)scale(1 72.9)"/>
<use href="#k" class="i" transform="translate(262.4)scale(1 74.2)"/>
<use href="#k" class="h" transform="translate(262)scale(1 75.7)"/>
<use href="#k" class="g" transform="translate(261.7)scale(1 70.1)"/>
<use href="#k" class="f" transform="translate(261.3)scale(1 77.1)"/>
<use href="#k" class="e" transform="translate(260.9)scale(1 70.5)"/>
<use href="#k" class="d" transform="translate(260.5)scale(1 68.3)"/>
<use href="#k" class="c" transform="translate(260.1)scale(1 73.7)"/>
<use href="#k" class="b" transform="translate(259.8)scale(1 71.7)"/>
<use href="#k" class="a" transform="translate(259.4)scale(1 72.7)"/>
<use href="#k" class="j" transform="translate(259)scale(1 69.3)"/>
<use href="#k" class="i" transform="translate(258.6)scale(1 71.7)"/>
<use href="#k" class="h" transform="translate(258.2)scale(1 77.9)"/>
<use href="#k" class="g" transform="translate(257.8)scale(1 71.3)"/>
<use href="#k" class="f" transform="translate(257.5)scale(1 74.7)"/>
<use href="#k" class="e" transform="translate(257.1)scale(1 72.9)"/>
<use href="#k" class="d" transform="translate(256.7)scale(1 70)"/>
<use href="#k" class="c" transform="translate(256.3)scale(1 70.7)"/>
<use href="#k" class="b" transform="translate(255.9)scale(1 72.5)"/>
<use href="#k" class="a" transform="translate(255.6)scale(1 71.6)"/>
<use href="#k" class="j" transform="translate(255.2)scale(1 72.9)"/>
<use href="#k" class="i" transform="translate(254.8)scale(1 72.4)"/>
<use href="#k" class="h" transform="translate(254.4)scale(1 74.7)"/>
<use href="#k" class="g" transform="translate(254)scale(1 72.3)"/>
<use href="#k" class="f" transform="translate(253.7)scale(1 76.4)"/>
<use href="#k" class="e" transform="translate(253.3)scale(1 69.4)"/>
<use href="#k" class="d" transform="translate(252.9)scale(1 73.2)"/>
<use href="#k" class="c" transform="translate(252.5)scale(1 75.3)"/>
<use href="#k" class="b" transform="translate(252.1)scale(1 72.2)"/>
<use href="#k" class="a" transform="translate(251.7)scale(1 72.6)"/>
<use href="#k" class="j" transform="translate(251.4)scale(1 75.1)"/>
<use href="#k" class="i" transform="translate(251)scale(1 73.9)"/>
<use href="#k" class="h" transform="translate(250.6)scale(1 75.8)"/>
<use href="#k" class="g" transform="translate(250.2)scale(1 72.6)"/>
<use href="#k" class="f" transform="translate(249.8)scale(1 72.4)"/>
<use href="#k" class="e" transform="translate(249.5)scale(1 72.1)"/>
<use href="#k" class="d" transform="translate(249.1)scale(1 72.7)"/>
<use href="#k" class="c" transform="translate(248.7)scale(1 73.7)"/>
<use href="#k" class="b" transform="translate(248.3)scale(1 70.4)"/>
<use href="#k" class="a" transform="translate(247.9)scale(1 69.1)"/>
<use href="#k" class="j" transform="translate(247.5)scale(1 74.2)"/>
<use href="#k" class="i" transform="translate(247.2)scale(1 73.1)"/>
<use href="#k" class="h" transform="translate(246.8)scale(1 75.5)"/>
<use href="#k" class="g" transform="translate(246.4)scale(1 68.8)"/>
<use href="#k" class="f" transform="translate(246)scale(1 76.8)"/>
<use href="#k" class="e" transform="translate(245.6)scale(1 72.8)"/>
<use href="#k" class="d" transform="translate(245.3)scale(1 68.8)"/>
<use href="#k" class="c" transform="translate(244.9)scale(1 74.9)"/>
<use href="#k" class="b" transform="translate(244.5)scale(1 73.7)"/>
<use href="#k" class="a" transform="translate(244.1)scale(1 72.3)"/>
<use href="#k" class="j" transform="translate(243.7)scale(1 74.2)"/>
</g>
<g clip-path="url(#cq4)">
<use href="#k" class="i" transform="translate(393.3)scale(1 70)"/>
<use href="#k" class="h" transform="translate(392.9)scale(1 69.6)"/>
<use href="#k" class="g" transform="translate(392.5)scale(1 70.3)"/>
<use href="#k" class="f" transform="translate(392.2)scale(1 66.9)"/>
<use href="#k" class="e" transform="translate(391.8)scale(1 68.8)"/>
<use href="#k" class="d" transform="translate(391.4)scale(1 68.3)"/>
<use href="#k" class="c" transform="translate(391)scale(1 70.4)"/>
<use href="#k" class="b" transform="translate(390.6)scale(1 71)"/>
<use href="#k" class="a" transform="translate(390.3)scale(1 67)"/>
<use href="#k" class="j" transform="translate(389.9)scale(1 70.9)"/>
<use href="#k" class="i" transform="translate(389.5)scale(1 67.6)"/>
<use href="#k" class="h" transform="translate(389.1)scale(1 71.8)"/>
<use href="#k" class="g" transform="translate(388.7)scale(1 68.6)"/>
<use href="#k" class="f" transform="translate(388.3)scale(1 66.5)"/>
<use href="#k" class="e" transform="translate(388)scale(1 66.3)"/>
<use href="#k" class="d" transform="translate(387.6)scale(1 74.3)"/>
<use href="#k" class="c" transform="translate(387.2)scale(1 71)"/>
<use href="#k" class="b" transform="translate(386.8)scale(1 66.5)"/>
<use href="#k" class="a" transform="translate(386.4)scale(1 69.2)"/>
<use href="#k" class="j" transform="translate(386.1)scale(1 67.7)"/>
<use href="#k" class="i" transform="translate(385.7)scale(1 69.9)"/>
<use href="#k" class="h" transform="translate(385.3)scale(1 61.8)"/>
<use href="#k" class="g" transform="translate(384.9)scale(1 67.9)"/>
<use href="#k" class="f" transform="translate(384.5)scale(1 70)"/>
<use href="#k" class="e" transform="translate(384.2)scale(1 69.5)"/>
<use href="#k" class="d" transform="translate(383.8)scale(1 64.7)"/>
<use href="#k" class="c" transform="translate(383.4)scale(1 64.5)"/>
<use href="#k" class="b" transform="translate(383)scale(1 65.8)"/>
<use href="#k" class="a" transform="translate(382.6)scale(1 62.5)"/>
<use href="#k" class="j" transform="translate(382.2)scale(1 63.9)"/>
<use href="#k" class="i" transform="translate(381.9)scale(1 66.6)"/>
<use href="#k" class="h" transform="translate(381.5)scale(1 65.7)"/>
<use href="#k" class="g" transform="translate(381.1)scale(1 66.4)"/>
<use href="#k" class="f" transform="translate(380.7)scale(1 68.2)"/>
<use href="#k" class="e" transform="translate(380.3)scale(1 65.5)"/>
<use href="#k" class="d" transform="translate(380)scale(1 64.6)"/>
<use href="#k" class="c" transform="translate(379.6)scale(1 63.6)"/>
<use href="#k" class="b" transform="translate(379.2)scale(1 62.7)"/>
<use href="#k" class="a" transform="translate(378.8)scale(1 63.8)"/>
<use href="#k" class="j" transform="translate(378.4)scale(1 63.2)"/>
<use href="#k" class="i" transform="translate(378)scale(1 69.8)"/>
<use href="#k" class="h" transform="translate(377.7)scale(1 65.2)"/>
<use href="#k" class="g" transform="translate(377.3)scale(1 64.6)"/>
<use href="#k" class="f" transform="translate(376.9)scale(1 69.7)"/>
<use href="#k" class="e" transform="translate(376.5)scale(1 62.1)"/>
<use href="#k" class="d" transform="translate(376.1)scale(1 58.1)"/>
<use href="#k" class="c" transform="translate(375.8)scale(1 61.2)"/>
<use href="#k" class="b" transform="translate(375.4)scale(1 61.2)"/>
<use href="#k" class="a" transform="translate(375)scale(1 61.2)"/>
<use href="#k" class="j" transform="translate(374.6)scale(1 60.4)"/>
<use href="#k" class="i" transform="translate(374.2)scale(1 66)"/>
<use href="#k" class="h" transform="translate(373.8)scale(1 60.8)"/>
<use href="#k" class="g" transform="translate(373.5)scale(1 61.5)"/>
<use href="#k" class="f" transform="translate(373.1)scale(1 62.8)"/>
<use href="#k" class="e" transform="translate(372.7)scale(1 59.6)"/>
<use href="#k" class="d" transform="translate(372.3)scale(1 60.3)"/>
<use href="#k" class="c" transform="translate(371.9)scale(1 59.2)"/>
<use href="#k" class="b" transform="translate(371.6)scale(1 56.4)"/>
<use href="#k" class="a" transform="translate(371.2)scale(1 59.9)"/>
<use href="#k" class="j" transform="translate(370.8)scale(1 62.1)"/>
<use href="#k" class="i" transform="translate(370.4)scale(1 62.4)"/>
<use href="#k" class="h" transform="translate(370)scale(1 60.6)"/>
<use href="#k" class="g" transform="translate(369.7)scale(1 64.3)"/>
<use href="#k" class="f" transform="translate(369.3)scale(1 57.3)"/>
<use href="#k" class="e" transform="translate(368.9)scale(1 59.8)"/>
<use href="#k" class="d" transform="translate(368.5)scale(1 60.6)"/>
<use href="#k" class="c" transform="translate(368.1)scale(1 62.3)"/>
<use href="#k" class="b" transform="translate(367.7)scale(1 64.6)"/>
<use href="#k" class="a" transform="translate(367.4)scale(1 60.9)"/>
<use href="#k" class="j" transform="translate(367)scale(1 56.3)"/>
<use href="#k" class="i" transform="translate(366.6)scale(1 60.2)"/>
<use href="#k" class="h" transform="translate(366.2)scale(1 61.9)"/>
<use href="#k" class="g" transform="translate(365.8)scale(1 58.2)"/>
<use href="#k" class="f" transform="translate(365.5)scale(1 59.9)"/>
<use href="#k" class="e" transform="translate(365.1)scale(1 61.2)"/>
<use href="#k" class="d" transform="translate(364.7)scale(1 61.1)"/>
<use href="#k" class="c" transform="translate(364.3)scale(1 59.4)"/>
<use href="#k" class="b" transform="translate(363.9)scale(1 58.1)"/>
<use href="#k" class="a" transform="translate(363.5)scale(1 60.5)"/>
<use href="#k" class="j" transform="translate(363.2)scale(1 62)"/>
<use href="#k" class="i" transform="translate(362.8)scale(1 62.4)"/>
<use href="#k" class="h" transform="translate(362.4)scale(1 58.5)"/>
<use href="#k" class="g" transform="translate(362)scale(1 65.2)"/>
<use href="#k" class="f" transform="translate(361.6)scale(1 58.6)"/>
<use href="#k" class="e" transform="translate(361.3)scale(1 61)"/>
<use href="#k" class="d" transform="translate(360.9)scale(1 61.3)"/>
<use href="#k" class="c" transform="translate(360.5)scale(1 60.2)"/>
<use href="#k" class="b" transform="translate(360.1)scale(1 65.1)"/>
<use href="#k" class="a" transform="translate(359.7)scale(1 61.3)"/>
<use href="#k" class="j" transform="translate(359.3)scale(1 61.6)"/>
<use href="#k" class="i" transform="translate(359)scale(1 59.7)"/>
<use href="#k" class="h" transform="translate(358.6)scale(1 60.2)"/>
<use href="#k" class="g" transform="translate(358.2)scale(1 63.5)"/>
<use href="#k" class="f" transform="translate(357.8)scale(1 64.3)"/>
<use href="#k" class="e" transform="translate(357.4)scale(1 58.6)"/>
<use href="#k" class="d" transform="translate(357.1)scale(1 62)"/>
<use href="#k" class="c" transform="translate(356.7)scale(1 63.5)"/>
<use href="#k" class="b" transform="translate(356.3)scale(1 61.9)"/>
<use href="#k" class="a" transform="translate(355.9)scale(1 60.2)"/>
<use href="#k" class="j" transform="translate(355.5)scale(1 63.2)"/>
<use href="#k" class="i" transform="translate(355.2)scale(1 61.7)"/>
<use href="#k" class="h" transform="translate(354.8)scale(1 69)"/>
<use href="#k" class="g" transform="translate(354.4)scale(1 62.9)"/>
<use href="#k" class="f" transform="translate(354)scale(1 62.9)"/>
<use href="#k" class="e" transform="translate(353.6)scale(1 59.1)"/>
<use href="#k" class="d" transform="translate(353.2)scale(1 61.5)"/>
<use href="#k" class="c" transform="translate(352.9)scale(1 62)"/>
<use href="#k" class="b" transform="translate(352.5)scale(1 64.1)"/>
<use href="#k" class="a" transform="translate(352.1)scale(1 62.3)"/>
<use href="#k" class="j" transform="translate(351.7)scale(1 63.9)"/>
<use href="#k" class="i" transform="translate(351.3)scale(1 62)"/>
<use href="#k" class="h" transform="translate(351)scale(1 61.8)"/>
<use href="#k" class="g" transform="translate(350.6)scale(1 60.5)"/>
<use href="#k" class="f" transform="translate(350.2)scale(1 63.9)"/>
<use href="#k" class="e" transform="translate(349.8)scale(1 62.5)"/>
<use href="#k" class="d" transform="translate(349.4)scale(1 63.8)"/>
<use href="#k" class="c" transform="translate(349)scale(1 58.8)"/>
<use href="#k" class="b" transform="translate(348.7)scale(1 64.7)"/>
<use href="#k" class="a" transform="translate(348.3)scale(1 62.7)"/>
<use href="#k" class="j" transform="translate(347.9)scale(1 63.9)"/>
<use href="#k" class="i" transform="translate(347.5)scale(1 66)"/>
<use href="#k" class="h" transform="translate(347.1)scale(1 62.2)"/>
<use href="#k" class="g" transform="translate(346.8)scale(1 64)"/>
<use href="#k" class="f" transform="translate(346.4)scale(1 68.2)"/>
<use href="#k" class="e" transform="translate(346)scale(1 62.9)"/>
<use href="#k" class="d" transform="translate(345.6)scale(1 68.9)"/>
<use href="#k" class="c" transform="translate(345.2)scale(1 66.6)"/>
<use href="#k" class="b" transform="translate(344.8)scale(1 67.9)"/>
<use href="#k" class="a" transform="translate(344.5)scale(1 65.1)"/>
<use href="#k" class="j" transform="translate(344.1)scale(1 66.4)"/>
<use href="#k" class="i" transform="translate(343.7)scale(1 62.3)"/>
<use href="#k" class="h" transform="translate(343.3)scale(1 67.4)"/>
<use href="#k" class="g" transform="translate(342.9)scale(1 68.4)"/>
<use href="#k" class="f" transform="translate(342.6)scale(1 65.3)"/>
<use href="#k" class="e" transform="translate(342.2)scale(1 68.1)"/>
<use href="#k" class="d" transform="translate(341.8)scale(1 65.5)"/>
<use href="#k" class="c" transform="translate(341.4)scale(1 67.8)"/>
<use href="#k" class="b" transform="translate(341)scale(1 64.7)"/>
<use href="#k" class="a" transform="translate(340.7)scale(1 68)"/>
<use href="#k" class="j" transform="translate(340.3)scale(1 66.3)"/>
<use href="#k" class="i" transform="translate(339.9)scale(1 67.2)"/>
<use href="#k" class="h" transform="translate(339.5)scale(1 66.5)"/>
<use href="#k" class="g" transform="translate(339.1)scale(1 65.7)"/>
<use href="#k" class="f" transform="translate(338.7)scale(1 70.5)"/>
<use href="#k" class="e" transform="translate(338.4)scale(1 67)"/>
<use href="#k" class="d" transform="translate(338)scale(1 67.2)"/>
<use href="#k" class="c" transform="translate(337.6)scale(1 65.3)"/>
<use href="#k" class="b" transform="translate(337.2)scale(1 69)"/>
<use href="#k" class="a" transform="translate(336.8)scale(1 68.2)"/>
<use href="#k" class="j" transform="translate(336.5)scale(1 67.8)"/>
<use href="#k" class="i" transform="translate(336.1)scale(1 67.4)"/>
<use href="#k" class="h" transform="translate(335.7)scale(1 65.8)"/>
<use href="#k" class="g" transform="translate(335.3)scale(1 68.1)"/>
<use href="#k" class="f" transform="translate(334.9)scale(1 67.8)"/>
<use href="#k" class="e" transform="translate(334.5)scale(1 68.8)"/>
<use href="#k" class="d" transform="translate(334.2)scale(1 67)"/>
<use href="#k" class="c" transform="translate(333.8)scale(1 72.5)"/>
<use href="#k" class="b" transform="translate(333.4)scale(1 67.5)"/>
<use href="#k" class="a" transform="translate(333)scale(1 67)"/>
<use href="#k" class="j" transform="translate(332.6)scale(1 67.2)"/>
<use href="#k" class="i" transform="translate(332.3)scale(1 70.3)"/>
<use href="#k" class="h" transform="translate(331.9)scale(1 68.3)"/>
<use href="#k" class="g" transform="translate(331.5)scale(1 64.6)"/>
<use href="#k" class="f" transform="translate(331.1)scale(1 69.8)"/>
<use href="#k" class="e" transform="translate(330.7)scale(1 73.4)"/>
<use href="#k" class="d" transform="translate(330.3)scale(1 71.5)"/>
<use href="#k" class="c" transform="translate(330)scale(1 71.4)"/>
<use href="#k" class="b" transform="translate(329.6)scale(1 75.3)"/>
<use href="#k" class="a" transform="translate(329.2)scale(1 72.6)"/>
<use href="#k" class="j" transform="translate(328.8)scale(1 69.8)"/>
<use href="#k" class="i" transform="translate(328.4)scale(1 70.9)"/>
<use href="#k" class="h" transform="translate(328.1)scale(1 75.3)"/>
<use href="#k" class="g" transform="translate(327.7)scale(1 67.3)"/>
<use href="#k" class="f" transform="translate(327.3)scale(1 69.6)"/>
<use href="#k" class="e" transform="translate(326.9)scale(1 71.6)"/>
<use href="#k" class="d" transform="translate(326.5)scale(1 70.8)"/>
<use href="#k" class="c" transform="translate(326.2)scale(1 68.5)"/>
<use href="#k" class="b" transform="translate(325.8)scale(1 73.2)"/>
<use href="#k" class="a" transform="translate(325.4)scale(1 72)"/>
<use href="#k" class="j" transform="translate(325)scale(1 74.1)"/>
<use href="#k" class="i" transform="translate(324.6)scale(1 72.4)"/>
<use href="#k" class="h" transform="translate(324.2)scale(1 70.9)"/>
<use href="#k" class="g" transform="translate(323.9)scale(1 71.5)"/>
<use href="#k" class="f" transform="translate(323.5)scale(1 65.8)"/>
<use href="#k" class="e" transform="translate(323.1)scale(1 70)"/>
<use href="#k" class="d" transform="translate(322.7)scale(1 66.2)"/>
<use href="#k" class="c" transform="translate(322.3)scale(1 71.4)"/>
<use href="#k" class="b" transform="translate(322)scale(1 70)"/>
<use href="#k" class="a" transform="translate(321.6)scale(1 72.9)"/>
<use href="#k" class="j" transform="translate(321.2)scale(1 69)"/>
<use href="#k" class="i" transform="translate(320.8)scale(1 71.5)"/>
<use href="#k" class="h" transform="translate(320.4)scale(1 70.1)"/>
<use href="#k" class="g" transform="translate(320)scale(1 72.1)"/>
<use href="#k" class="f" transform="translate(319.7)scale(1 72.2)"/>
<use href="#k" class="e" transform="translate(319.3)scale(1 73.8)"/>
<use href="#k" class="d" transform="translate(318.9)scale(1 73)"/>
<use href="#k" class="c" transform="translate(318.5)scale(1 68.2)"/>
<use href="#k" class="b" transform="translate(318.1)scale(1 69.6)"/>
<use href="#k" class="a" transform="translate(317.8)scale(1 70.4)"/>
<use href="#k" class="j" transform="translate(317.4)scale(1 69.4)"/>
<use href="#k" class="i" transform="translate(317)scale(1 72.6)"/>
<use href="#k" class="h" transform="translate(316.6)scale(1 68.7)"/>
<use href="#k" class="g" transform="translate(316.2)scale(1 72.5)"/>
</g>
<g clip-path="url(#cq5)">
<use href="#k" class="f" transform="translate(465.8)scale(1 61.6)"/>
<use href="#k" class="e" transform="translate(465.4)scale(1 61.8)"/>
<use href="#k" class="d" transform="translate(465)scale(1 60.6)"/>
<use href="#k" class="c" transform="translate(464.7)scale(1 53.2)"/>
<use href="#k" class="b" transform="translate(464.3)scale(1 56.4)"/>
<use href="#k" class="a" transform="translate(463.9)scale(1 60)"/>
<use href="#k" class="j" transform="translate(463.5)scale(1 57.4)"/>
<use href="#k" class="i" transform="translate(463.1)scale(1 53.6)"/>
<use href="#k" class="h" transform="translate(462.8)scale(1 57.2)"/>
<use href="#k" class="g" transform="translate(462.4)scale(1 57.5)"/>
<use href="#k" class="f" transform="translate(462)scale(1 58.7)"/>
<use href="#k" class="e" transform="translate(461.6)scale(1 54.5)"/>
<use href="#k" class="d" transform="translate(461.2)scale(1 53.1)"/>
<use href="#k" class="c" transform="translate(460.8)scale(1 62.9)"/>
<use href="#k" class="b" transform="translate(460.5)scale(1 60.3)"/>
<use href="#k" class="a" transform="translate(460.1)scale(1 61.4)"/>
<use href="#k" class="j" transform="translate(459.7)scale(1 55.1)"/>
<use href="#k" class="i" transform="translate(459.3)scale(1 54.7)"/>
<use href="#k" class="h" transform="translate(458.9)scale(1 57.9)"/>
<use href="#k" class="g" transform="translate(458.6)scale(1 54.5)"/>
<use href="#k" class="f" transform="translate(458.2)scale(1 60.7)"/>
<use href="#k" class="e" transform="translate(457.8)scale(1 57.7)"/>
<use href="#k" class="d" transform="translate(457.4)scale(1 54.4)"/>
<use href="#k" class="c" transform="translate(457)scale(1 52.4)"/>
<use href="#k" class="b" transform="translate(456.7)scale(1 55.5)"/>
<use href="#k" class="a" transform="translate(456.3)scale(1 55.5)"/>
<use href="#k" class="j" transform="translate(455.9)scale(1 54.7)"/>
<use href="#k" class="i" transform="translate(455.5)scale(1 50.5)"/>
<use href="#k" class="h" transform="translate(455.1)scale(1 58.8)"/>
<use href="#k" class="g" transform="translate(454.7)scale(1 53.7)"/>
<use href="#k" class="f" transform="translate(454.4)scale(1 56.3)"/>
<use href="#k" class="e" transform="translate(454)scale(1 53.3)"/>
<use href="#k" class="d" transform="translate(453.6)scale(1 51.8)"/>
<use href="#k" class="c" transform="translate(453.2)scale(1 54.9)"/>
<use href="#k" class="b" transform="translate(452.8)scale(1 50.8)"/>
<use href="#k" class="a" transform="translate(452.5)scale(1 52.1)"/>
<use href="#k" class="j" transform="translate(452.1)scale(1 51.9)"/>
<use href="#k" class="i" transform="translate(451.7)scale(1 52.2)"/>
<use href="#k" class="h" transform="translate(451.3)scale(1 52.6)"/>
<use href="#k" class="g" transform="translate(450.9)scale(1 52.1)"/>
<use href="#k" class="f" transform="translate(450.5)scale(1 51.6)"/>
<use href="#k" class="e" transform="translate(450.2)scale(1 55.1)"/>
<use href="#k" class="d" transform="translate(449.8)scale(1 47)"/>
<use href="#k" class="c" transform="translate(449.4)scale(1 57.9)"/>
<use href="#k" class="b" transform="translate(449)scale(1 48.7)"/>
<use href="#k" class="a" transform="translate(448.6)scale(1 52.8)"/>
<use href="#k" class="j" transform="translate(448.3)scale(1 51.6)"/>
<use href="#k" class="i" transform="translate(447.9)scale(1 51.6)"/>
<use href="#k" class="h" transform="translate(447.5)scale(1 51.8)"/>
<use href="#k" class="g" transform="translate(447.1)scale(1 44.8)"/>
<use href="#k" class="f" transform="translate(446.7)scale(1 47.3)"/>
<use href="#k" class="e" transform="translate(446.3)scale(1 46.2)"/>
<use href="#k" class="d" transform="translate(446)scale(1 47.9)"/>
<use href="#k" class="c" transform="translate(445.6)scale(1 46.8)"/>
<use href="#k" class="b" transform="translate(445.2)scale(1 48.6)"/>
<use href="#k" class="a" transform="translate(444.8)scale(1 47.2)"/>
<use href="#k" class="j" transform="translate(444.4)scale(1 45.7)"/>
<use href="#k" class="i" transform="translate(444.1)scale(1 47.2)"/>
<use href="#k" class="h" transform="translate(443.7)scale(1 48.2)"/>
<use href="#k" class="g" transform="translate(443.3)scale(1 48.3)"/>
<use href="#k" class="f" transform="translate(442.9)scale(1 51.5)"/>
<use href="#k" class="e" transform="translate(442.5)scale(1 45.8)"/>
<use href="#k" class="d" transform="translate(442.2)scale(1 47)"/>
<use href="#k" class="c" transform="translate(441.8)scale(1 46.5)"/>
<use href="#k" class="b" transform="translate(441.4)scale(1 44.3)"/>
<use href="#k" class="a" transform="translate(441)scale(1 43.4)"/>
<use href="#k" class="j" transform="translate(440.6)scale(1 43.3)"/>
<use href="#k" class="i" transform="translate(440.2)scale(1 46.3)"/>
<use href="#k" class="h" transform="translate(439.9)scale(1 45.5)"/>
<use href="#k" class="g" transform="translate(439.5)scale(1 43.7)"/>
<use href="#k" class="f" transform="translate(439.1)scale(1 41.7)"/>
<use href="#k" class="e" transform="translate(438.7)scale(1 43.8)"/>
<use href="#k" class="d" transform="translate(438.3)scale(1 43.9)"/>
<use href="#k" class="c" transform="translate(438)scale(1 42.7)"/>
<use href="#k" class="b" transform="translate(437.6)scale(1 39.7)"/>
<use href="#k" class="a" transform="translate(437.2)scale(1 40.7)"/>
<use href="#k" class="j" transform="translate(436.8)scale(1 38.9)"/>
<use href="#k" class="i" transform="translate(436.4)scale(1 41.7)"/>
<use href="#k" class="h" transform="translate(436)scale(1 39.9)"/>
<use href="#k" class="g" transform="translate(435.7)scale(1 40.2)"/>
<use href="#k" class="f" transform="translate(435.3)scale(1 38.4)"/>
<use href="#k" class="e" transform="translate(434.9)scale(1 39.7)"/>
<use href="#k" class="d" transform="translate(434.5)scale(1 37)"/>
<use href="#k" class="c" transform="translate(434.1)scale(1 36.7)"/>
<use href="#k" class="b" transform="translate(433.8)scale(1 39.6)"/>
<use href="#k" class="a" transform="translate(433.4)scale(1 37.5)"/>
<use href="#k" class="j" transform="translate(433)scale(1 34.1)"/>
<use href="#k" class="i" transform="translate(432.6)scale(1 37.9)"/>
<use href="#k" class="h" transform="translate(432.2)scale(1 33.9)"/>
<use href="#k" class="g" transform="translate(431.8)scale(1 35.1)"/>
<use href="#k" class="f" transform="translate(431.5)scale(1 37.9)"/>
<use href="#k" class="e" transform="translate(431.1)scale(1 36.5)"/>
<use href="#k" class="d" transform="translate(430.7)scale(1 35.7)"/>
<use href="#k" class="c" transform="translate(430.3)scale(1 31.7)"/>
<use href="#k" class="b" transform="translate(429.9)scale(1 33.1)"/>
<use href="#k" class="a" transform="translate(429.6)scale(1 34.3)"/>
<use href="#k" class="j" transform="translate(429.2)scale(1 31.3)"/>
<use href="#k" class="i" transform="translate(428.8)scale(1 32.3)"/>
<use href="#k" class="h" transform="translate(428.4)scale(1 31.9)"/>
<use href="#k" class="g" transform="translate(428)scale(1 30.5)"/>
<use href="#k" class="f" transform="translate(427.7)scale(1 32.9)"/>
<use href="#k" class="e" transform="translate(427.3)scale(1 30.3)"/>
<use href="#k" class="d" transform="translate(426.9)scale(1 30.4)"/>
<use href="#k" class="c" transform="translate(426.5)scale(1 29.7)"/>
<use href="#k" class="b" transform="translate(426.1)scale(1 26.5)"/>
<use href="#k" class="a" transform="translate(425.7)scale(1 26.4)"/>
<use href="#k" class="j" transform="translate(425.4)scale(1 25.5)"/>
<use href="#k" class="i" transform="translate(425)scale(1 27.2)"/>
<use href="#k" class="h" transform="translate(424.6)scale(1 26.9)"/>
<use href="#k" class="g" transform="translate(424.2)scale(1 25.7)"/>
<use href="#k" class="f" transform="translate(423.8)scale(1 25.2)"/>
<use href="#k" class="e" transform="translate(423.5)scale(1 23.5)"/>
<use href="#k" class="d" transform="translate(423.1)scale(1 24.4)"/>
<use href="#k" class="c" transform="translate(422.7)scale(1 25.9)"/>
<use href="#k" class="b" transform="translate(422.3)scale(1 23.1)"/>
<use href="#k" class="a" transform="translate(421.9)scale(1 22)"/>
<use href="#k" class="j" transform="translate(421.5)scale(1 22.7)"/>
<use href="#k" class="i" transform="translate(421.2)scale(1 22.6)"/>
<use href="#k" class="h" transform="translate(420.8)scale(1 21.6)"/>
<use href="#k" class="g" transform="translate(420.4)scale(1 23.2)"/>
<use href="#k" class="f" transform="translate(420)scale(1 22.4)"/>
<use href="#k" class="e" transform="translate(419.6)scale(1 20.2)"/>
<use href="#k" class="d" transform="translate(419.3)scale(1 19)"/>
<use href="#k" class="c" transform="translate(418.9)scale(1 20.6)"/>
<use href="#k" class="b" transform="translate(418.5)scale(1 19.1)"/>
<use href="#k" class="a" transform="translate(418.1)scale(1 17.8)"/>
<use href="#k" class="j" transform="translate(417.7)scale(1 17.1)"/>
<use href="#k" class="i" transform="translate(417.3)scale(1 18)"/>
<use href="#k" class="h" transform="translate(417)scale(1 18.5)"/>
<use href="#k" class="g" transform="translate(416.6)scale(1 15.6)"/>
<use href="#k" class="f" transform="translate(416.2)scale(1 16.5)"/>
<use href="#k" class="e" transform="translate(415.8)scale(1 13.4)"/>
<use href="#k" class="d" transform="translate(415.4)scale(1 15.2)"/>
<use href="#k" class="c" transform="translate(415.1)scale(1 16)"/>
<use href="#k" class="b" transform="translate(414.7)scale(1 15.6)"/>
<use href="#k" class="a" transform="translate(414.3)scale(1 13.9)"/>
<use href="#k" class="j" transform="translate(413.9)scale(1 14.8)"/>
<use href="#k" class="i" transform="translate(413.5)scale(1 13.4)"/>
<use href="#k" class="h" transform="translate(413.2)scale(1 12.9)"/>
<use href="#k" class="g" transform="translate(412.8)scale(1 13.1)"/>
<use href="#k" class="f" transform="translate(412.4)scale(1 10.3)"/>
<use href="#k" class="e" transform="translate(412)scale(1 10.7)"/>
<use href="#k" class="d" transform="translate(411.6)scale(1 10.9)"/>
<use href="#k" class="c" transform="translate(411.2)scale(1 11.5)"/>
<use href="#k" class="b" transform="translate(410.9)scale(1 10.4)"/>
<use href="#k" class="a" transform="translate(410.5)scale(1 10.1)"/>
<use href="#k" class="j" transform="translate(410.1)scale(1 9.8)"/>
<use href="#k" class="i" transform="translate(409.7)scale(1 9.7)"/>
<use href="#k" class="h" transform="translate(409.3)scale(1 9.8)"/>
<use href="#k" class="g" transform="translate(409)scale(1 9.6)"/>
<use href="#k" class="f" transform="translate(408.6)scale(1 9.7)"/>
<use href="#k" class="e" transform="translate(408.2)scale(1 9)"/>
<use href="#k" class="d" transform="translate(407.8)scale(1 8.6)"/>
<use href="#k" class="c" transform="translate(407.4)scale(1 10.3)"/>
<use href="#k" class="b" transform="translate(407)scale(1 8.1)"/>
<use href="#k" class="a" transform="translate(406.7)scale(1 8.7)"/>
<use href="#k" class="j" transform="translate(406.3)scale(1 8.4)"/>
<use href="#k" class="i" transform="translate(405.9)scale(1 9.2)"/>
<use href="#k" class="h" transform="translate(405.5)scale(1 8.5)"/>
<use href="#k" class="g" transform="translate(405.1)scale(1 8.1)"/>
<use href="#k" class="f" transform="translate(404.8)scale(1 7.5)"/>
<use href="#k" class="e" transform="translate(404.4)scale(1 7.2)"/>
<use href="#k" class="d" transform="translate(404)scale(1 7.8)"/>
<use href="#k" class="c" transform="translate(403.6)scale(1 7.4)"/>
<use href="#k" class="b" transform="translate(403.2)scale(1 7.8)"/>
<use href="#k" class="a" transform="translate(402.8)scale(1 9.4)"/>
<use href="#k" class="j" transform="translate(402.5)scale(1 7.7)"/>
<use href="#k" class="i" transform="translate(402.1)scale(1 7.1)"/>
<use href="#k" class="h" transform="translate(401.7)scale(1 7.6)"/>
<use href="#k" class="g" transform="translate(401.3)scale(1 7.4)"/>
<use href="#k" class="f" transform="translate(400.9)scale(1 7.7)"/>
<use href="#k" class="e" transform="translate(400.6)scale(1 7.3)"/>
<use href="#k" class="d" transform="translate(400.2)scale(1 6.8)"/>
<use href="#k" class="c" transform="translate(399.8)scale(1 7.2)"/>
<use href="#k" class="b" transform="translate(399.4)scale(1 7.8)"/>
<use href="#k" class="a" transform="translate(399)scale(1 7.8)"/>
<use href="#k" class="j" transform="translate(398.7)scale(1 7.3)"/>
<use href="#k" class="i" transform="translate(398.3)scale(1 7.6)"/>
<use href="#k" class="h" transform="translate(397.9)scale(1 8)"/>
<use href="#k" class="g" transform="translate(397.5)scale(1 7.6)"/>
<use href="#k" class="f" transform="translate(397.1)scale(1 7.7)"/>
<use href="#k" class="e" transform="translate(396.7)scale(1 8.1)"/>
<use href="#k" class="d" transform="translate(396.4)scale(1 7.9)"/>
<use href="#k" class="c" transform="translate(396)scale(1 7.7)"/>
<use href="#k" class="b" transform="translate(395.6)scale(1 8.7)"/>
<use href="#k" class="a" transform="translate(395.2)scale(1 8.4)"/>
<use href="#k" class="j" transform="translate(394.8)scale(1 8.1)"/>
<use href="#k" class="i" transform="translate(394.5)scale(1 8.6)"/>
<use href="#k" class="h" transform="translate(394.1)scale(1 9.4)"/>
<use href="#k" class="g" transform="translate(393.7)scale(1 8)"/>
<use href="#k" class="f" transform="translate(393.3)scale(1 7.8)"/>
<use href="#k" class="e" transform="translate(392.9)scale(1 8.3)"/>
<use href="#k" class="d" transform="translate(392.5)scale(1 8.7)"/>
<use href="#k" class="c" transform="translate(392.2)scale(1 8.9)"/>
<use href="#k" class="b" transform="translate(391.8)scale(1 7.8)"/>
<use href="#k" class="a" transform="translate(391.4)scale(1 7.3)"/>
<use href="#k" class="j" transform="translate(391)scale(1 8.3)"/>
<use href="#k" class="i" transform="translate(390.6)scale(1 8.6)"/>
<use href="#k" class="h" transform="translate(390.3)scale(1 8.3)"/>
<use href="#k" class="g" transform="translate(389.9)scale(1 8.2)"/>
<use href="#k" class="f" transform="translate(389.5)scale(1 9.2)"/>
<use href="#k" class="e" transform="translate(389.1)scale(1 9.1)"/>
<use href="#k" class="d" transform="translate(388.7)scale(1 7.4)"/>
</g>
<g clip-path="url(#cq6)">
<use href="#k" class="c" transform="translate(538.3)scale(1 71)"/>
<use href="#k" class="b" transform="translate(537.9)scale(1 72.7)"/>
<use href="#k" class="a" transform="translate(537.5)scale(1 73.5)"/>
<use href="#k" class="j" transform="translate(537.2)scale(1 72.4)"/>
<use href="#k" class="i" transform="translate(536.8)scale(1 71.2)"/>
<use href="#k" class="h" transform="translate(536.4)scale(1 71.8)"/>
<use href="#k" class="g" transform="translate(536)scale(1 69.8)"/>
<use href="#k" class="f" transform="translate(535.6)scale(1 73.5)"/>
<use href="#k" class="e" transform="translate(535.3)scale(1 70)"/>
<use href="#k" class="d" transform="translate(534.9)scale(1 69.9)"/>
<use href="#k" class="c" transform="translate(534.5)scale(1 73.8)"/>
<use href="#k" class="b" transform="translate(534.1)scale(1 72.1)"/>
<use href="#k" class="a" transform="translate(533.7)scale(1 67.4)"/>
<use href="#k" class="j" transform="translate(533.3)scale(1 67.9)"/>
<use href="#k" class="i" transform="translate(533)scale(1 70.2)"/>
<use href="#k" class="h" transform="translate(532.6)scale(1 72.3)"/>
<use href="#k" class="g" transform="translate(532.2)scale(1 70.2)"/>
<use href="#k" class="f" transform="translate(531.8)scale(1 73.1)"/>
<use href="#k" class="e" transform="translate(531.4)scale(1 68.9)"/>
<use href="#k" class="d" transform="translate(531.1)scale(1 72.4)"/>
<use href="#k" class="c" transform="translate(530.7)scale(1 69.8)"/>
<use href="#k" class="b" transform="translate(530.3)scale(1 70.6)"/>
<use href="#k" class="a" transform="translate(529.9)scale(1 73.1)"/>
<use href="#k" class="j" transform="translate(529.5)scale(1 73.9)"/>
<use href="#k" class="i" transform="translate(529.2)scale(1 68.2)"/>
<use href="#k" class="h" transform="translate(528.8)scale(1 70)"/>
<use href="#k" class="g" transform="translate(528.4)scale(1 68.9)"/>
<use href="#k" class="f" transform="translate(528)scale(1 68.4)"/>
<use href="#k" class="e" transform="translate(527.6)scale(1 70.6)"/>
<use href="#k" class="d" transform="translate(527.2)scale(1 70.1)"/>
<use href="#k" class="c" transform="translate(526.9)scale(1 67.8)"/>
<use href="#k" class="b" transform="translate(526.5)scale(1 68.1)"/>
<use href="#k" class="a" transform="translate(526.1)scale(1 69.9)"/>
<use href="#k" class="j" transform="translate(525.7)scale(1 71.4)"/>
<use href="#k" class="i" transform="translate(525.3)scale(1 70.9)"/>
<use href="#k" class="h" transform="translate(525)scale(1 67.2)"/>
<use href="#k" class="g" transform="translate(524.6)scale(1 65.6)"/>
<use href="#k" class="f" transform="translate(524.2)scale(1 65.8)"/>
<use href="#k" class="e" transform="translate(523.8)scale(1 78.4)"/>
<use href="#k" class="d" transform="translate(523.4)scale(1 65.2)"/>
<use href="#k" class="c" transform="translate(523)scale(1 67.3)"/>
<use href="#k" class="b" transform="translate(522.7)scale(1 69.4)"/>
<use href="#k" class="a" transform="translate(522.3)scale(1 74)"/>
<use href="#k" class="j" transform="translate(521.9)scale(1 69.9)"/>
<use href="#k" class="i" transform="translate(521.5)scale(1 67.9)"/>
<use href="#k" class="h" transform="translate(521.1)scale(1 67.2)"/>
<use href="#k" class="g" transform="translate(520.8)scale(1 72.6)"/>
<use href="#k" class="f" transform="translate(520.4)scale(1 70)"/>
<use href="#k" class="e" transform="translate(520)scale(1 69.2)"/>
<use href="#k" class="d" transform="translate(519.6)scale(1 68.1)"/>
<use href="#k" class="c" transform="translate(519.2)scale(1 72.5)"/>
<use href="#k" class="b" transform="translate(518.8)scale(1 66.6)"/>
<use href="#k" class="a" transform="translate(518.5)scale(1 72.7)"/>
<use href="#k" class="j" transform="translate(518.1)scale(1 67.2)"/>
<use href="#k" class="i" transform="translate(517.7)scale(1 67.9)"/>
<use href="#k" class="h" transform="translate(517.3)scale(1 66.8)"/>
<use href="#k" class="g" transform="translate(516.9)scale(1 68.7)"/>
<use href="#k" class="f" transform="translate(516.6)scale(1 70)"/>
<use href="#k" class="e" transform="translate(516.2)scale(1 68.7)"/>
<use href="#k" class="d" transform="translate(515.8)scale(1 68.5)"/>
<use href="#k" class="c" transform="translate(515.4)scale(1 70.8)"/>
<use href="#k" class="b" transform="translate(515)scale(1 70)"/>
<use href="#k" class="a" transform="translate(514.7)scale(1 72.6)"/>
<use href="#k" class="j" transform="translate(514.3)scale(1 69)"/>
<use href="#k" class="i" transform="translate(513.9)scale(1 65.3)"/>
<use href="#k" class="h" transform="translate(513.5)scale(1 67.1)"/>
<use href="#k" class="g" transform="translate(513.1)scale(1 74.4)"/>
<use href="#k" class="f" transform="translate(512.7)scale(1 68.2)"/>
<use href="#k" class="e" transform="translate(512.4)scale(1 68.3)"/>
<use href="#k" class="d" transform="translate(512)scale(1 70.4)"/>
<use href="#k" class="c" transform="translate(511.6)scale(1 70.1)"/>
<use href="#k" class="b" transform="translate(511.2)scale(1 68.4)"/>
<use href="#k" class="a" transform="translate(510.8)scale(1 66.9)"/>
<use href="#k" class="j" transform="translate(510.5)scale(1 73.7)"/>
<use href="#k" class="i" transform="translate(510.1)scale(1 67.5)"/>
<use href="#k" class="h" transform="translate(509.7)scale(1 66.9)"/>
<use href="#k" class="g" transform="translate(509.3)scale(1 78.5)"/>
<use href="#k" class="f" transform="translate(508.9)scale(1 71.1)"/>
<use href="#k" class="e" transform="translate(508.5)scale(1 69.2)"/>
<use href="#k" class="d" transform="translate(508.2)scale(1 71.5)"/>
<use href="#k" class="c" transform="translate(507.8)scale(1 75.4)"/>
<use href="#k" class="b" transform="translate(507.4)scale(1 68.7)"/>
<use href="#k" class="a" transform="translate(507)scale(1 69.3)"/>
<use href="#k" class="j" transform="translate(506.6)scale(1 72.9)"/>
<use href="#k" class="i" transform="translate(506.3)scale(1 71.2)"/>
<use href="#k" class="h" transform="translate(505.9)scale(1 73.4)"/>
<use href="#k" class="g" transform="translate(505.5)scale(1 70.7)"/>
<use href="#k" class="f" transform="translate(505.1)scale(1 62.7)"/>
<use href="#k" class="e" transform="translate(504.7)scale(1 71.5)"/>
<use href="#k" class="d" transform="translate(504.3)scale(1 70.8)"/>
<use href="#k" class="c" transform="translate(504)scale(1 71.9)"/>
<use href="#k" class="b" transform="translate(503.6)scale(1 67.8)"/>
<use href="#k" class="a" transform="translate(503.2)scale(1 70.9)"/>
<use href="#k" class="j" transform="translate(502.8)scale(1 71.9)"/>
<use href="#k" class="i" transform="translate(502.4)scale(1 67.5)"/>
<use href="#k" class="h" transform="translate(502.1)scale(1 69.7)"/>
<use href="#k" class="g" transform="translate(501.7)scale(1 69.8)"/>
<use href="#k" class="f" transform="translate(501.3)scale(1 68.2)"/>
<use href="#k" class="e" transform="translate(500.9)scale(1 67.2)"/>
<use href="#k" class="d" transform="translate(500.5)scale(1 69.6)"/>
<use href="#k" class="c" transform="translate(500.2)scale(1 76.1)"/>
<use href="#k" class="b" transform="translate(499.8)scale(1 69.6)"/>
<use href="#k" class="a" transform="translate(499.4)scale(1 69.5)"/>
<use href="#k" class="j" transform="translate(499)scale(1 69)"/>
<use href="#k" class="i" transform="translate(498.6)scale(1 70.8)"/>
<use href="#k" class="h" transform="translate(498.2)scale(1 71.9)"/>
<use href="#k" class="g" transform="translate(497.9)scale(1 70.5)"/>
<use href="#k" class="f" transform="translate(497.5)scale(1 72.2)"/>
<use href="#k" class="e" transform="translate(497.1)scale(1 67.6)"/>
<use href="#k" class="d" transform="translate(496.7)scale(1 70.5)"/>
<use href="#k" class="c" transform="translate(496.3)scale(1 69.1)"/>
<use href="#k" class="b" transform="translate(496)scale(1 70.2)"/>
<use href="#k" class="a" transform="translate(495.6)scale(1 68.6)"/>
<use href="#k" class="j" transform="translate(495.2)scale(1 71.2)"/>
<use href="#k" class="i" transform="translate(494.8)scale(1 67.4)"/>
<use href="#k" class="h" transform="translate(494.4)scale(1 75.5)"/>
<use href="#k" class="g" transform="translate(494)scale(1 73.2)"/>
<use href="#k" class="f" transform="translate(493.7)scale(1 71.8)"/>
<use href="#k" class="e" transform="translate(493.3)scale(1 73.5)"/>
<use href="#k" class="d" transform="translate(492.9)scale(1 72.8)"/>
<use href="#k" class="c" transform="translate(492.5)scale(1 69.1)"/>
<use href="#k" class="b" transform="translate(492.1)scale(1 68.5)"/>
<use href="#k" class="a" transform="translate(491.8)scale(1 70.3)"/>
<use href="#k" class="j" transform="translate(491.4)scale(1 71.9)"/>
<use href="#k" class="i" transform="translate(491)scale(1 71.1)"/>
<use href="#k" class="h" transform="translate(490.6)scale(1 75.4)"/>
<use href="#k" class="g" transform="translate(490.2)scale(1 71.4)"/>
<use href="#k" class="f" transform="translate(489.8)scale(1 68.1)"/>
<use href="#k" class="e" transform="translate(489.5)scale(1 70.6)"/>
<use href="#k" class="d" transform="translate(489.1)scale(1 68.3)"/>
<use href="#k" class="c" transform="translate(488.7)scale(1 69.8)"/>
<use href="#k" class="b" transform="translate(488.3)scale(1 69.5)"/>
<use href="#k" class="a" transform="translate(487.9)scale(1 70.7)"/>
<use href="#k" class="j" transform="translate(487.6)scale(1 71.4)"/>
<use href="#k" class="i" transform="translate(487.2)scale(1 69.8)"/>
<use href="#k" class="h" transform="translate(486.8)scale(1 69.6)"/>
<use href="#k" class="g" transform="translate(486.4)scale(1 70.5)"/>
<use href="#k" class="f" transform="translate(486)scale(1 73.2)"/>
<use href="#k" class="e" transform="translate(485.7)scale(1 72.5)"/>
<use href="#k" class="d" transform="translate(485.3)scale(1 70.2)"/>
<use href="#k" class="c" transform="translate(484.9)scale(1 70.1)"/>
<use href="#k" class="b" transform="translate(484.5)scale(1 72.7)"/>
<use href="#k" class="a" transform="translate(484.1)scale(1 68.2)"/>
<use href="#k" class="j" transform="translate(483.7)scale(1 70.1)"/>
<use href="#k" class="i" transform="translate(483.4)scale(1 69.9)"/>
<use href="#k" class="h" transform="translate(483)scale(1 71.3)"/>
<use href="#k" class="g" transform="translate(482.6)scale(1 70.8)"/>
<use href="#k" class="f" transform="translate(482.2)scale(1 73.5)"/>
<use href="#k" class="e" transform="translate(481.8)scale(1 72.8)"/>
<use href="#k" class="d" transform="translate(481.5)scale(1 69.9)"/>
<use href="#k" class="c" transform="translate(481.1)scale(1 72.4)"/>
<use href="#k" class="b" transform="translate(480.7)scale(1 71.5)"/>
<use href="#k" class="a" transform="translate(480.3)scale(1 68.4)"/>
<use href="#k" class="j" transform="translate(479.9)scale(1 72.8)"/>
<use href="#k" class="i" transform="translate(479.5)scale(1 73.8)"/>
<use href="#k" class="h" transform="translate(479.2)scale(1 75.1)"/>
<use href="#k" class="g" transform="translate(478.8)scale(1 71.3)"/>
<use href="#k" class="f" transform="translate(478.4)scale(1 74)"/>
<use href="#k" class="e" transform="translate(478)scale(1 71.5)"/>
<use href="#k" class="d" transform="translate(477.6)scale(1 74.7)"/>
<use href="#k" class="c" transform="translate(477.3)scale(1 74.3)"/>
<use href="#k" class="b" transform="translate(476.9)scale(1 69.3)"/>
<use href="#k" class="a" transform="translate(476.5)scale(1 70.2)"/>
<use href="#k" class="j" transform="translate(476.1)scale(1 74.5)"/>
<use href="#k" class="i" transform="translate(475.7)scale(1 74.9)"/>
<use href="#k" class="h" transform="translate(475.3)scale(1 71.8)"/>
<use href="#k" class="g" transform="translate(475)scale(1 69.2)"/>
<use href="#k" class="f" transform="translate(474.6)scale(1 73.9)"/>
<use href="#k" class="e" transform="translate(474.2)scale(1 72.5)"/>
<use href="#k" class="d" transform="translate(473.8)scale(1 76.1)"/>
<use href="#k" class="c" transform="translate(473.4)scale(1 77.1)"/>
<use href="#k" class="b" transform="translate(473.1)scale(1 68.7)"/>
<use href="#k" class="a" transform="translate(472.7)scale(1 70.7)"/>
<use href="#k" class="j" transform="translate(472.3)scale(1 74.3)"/>
<use href="#k" class="i" transform="translate(471.9)scale(1 72.5)"/>
<use href="#k" class="h" transform="translate(471.5)scale(1 73.8)"/>
<use href="#k" class="g" transform="translate(471.2)scale(1 73)"/>
<use href="#k" class="f" transform="translate(470.8)scale(1 70.6)"/>
<use href="#k" class="e" transform="translate(470.4)scale(1 74.6)"/>
<use href="#k" class="d" transform="translate(470)scale(1 67.5)"/>
<use href="#k" class="c" transform="translate(469.6)scale(1 71.5)"/>
<use href="#k" class="b" transform="translate(469.2)scale(1 71.4)"/>
<use href="#k" class="a" transform="translate(468.9)scale(1 74.3)"/>
<use href="#k" class="j" transform="translate(468.5)scale(1 76.1)"/>
<use href="#k" class="i" transform="translate(468.1)scale(1 69.8)"/>
<use href="#k" class="h" transform="translate(467.7)scale(1 70.7)"/>
<use href="#k" class="g" transform="translate(467.3)scale(1 71.9)"/>
<use href="#k" class="f" transform="translate(467)scale(1 73)"/>
<use href="#k" class="e" transform="translate(466.6)scale(1 74.6)"/>
<use href="#k" class="d" transform="translate(466.2)scale(1 72.4)"/>
<use href="#k" class="c" transform="translate(465.8)scale(1 76.2)"/>
<use href="#k" class="b" transform="translate(465.4)scale(1 74.5)"/>
<use href="#k" class="a" transform="translate(465)scale(1 74.3)"/>
<use href="#k" class="j" transform="translate(464.7)scale(1 74.2)"/>
<use href="#k" class="i" transform="translate(464.3)scale(1 73.9)"/>
<use href="#k" class="h" transform="translate(463.9)scale(1 72.8)"/>
<use href="#k" class="g" transform="translate(463.5)scale(1 72.6)"/>
<use href="#k" class="f" transform="translate(463.1)scale(1 75.1)"/>
<use href="#k" class="e" transform="translate(462.8)scale(1 69.2)"/>
<use href="#k" class="d" transform="translate(462.4)scale(1 75.2)"/>
<use href="#k" class="c" transform="translate(462)scale(1 70.8)"/>
<use href="#k" class="b" transform="translate(461.6)scale(1 75.2)"/>
<use href="#k" class="a" transform="translate(461.2)scale(1 71.3)"/>
</g>
</g></g>
<g clip-path="url(#cc)"><g transform="translate(0 231.1)">
<g clip-path="url(#cq0)">
<use href="#o" class="j" transform="translate(89.1)scale(1 -0.8)"/>
<use href="#o" class="i" transform="translate(88.7)scale(1 -0.7)"/>
<use href="#o" class="h" transform="translate(88.3)scale(1 -0.6)"/>
<use href="#o" class="g" transform="translate(88)scale(1 -0.5)"/>
<use href="#o" class="f" transform="translate(87.6)scale(1 -0.4)"/>
<use href="#o" class="e" transform="translate(87.2)scale(1 -0.3)"/>
<use href="#o" class="d" transform="translate(86.8)scale(1 -0.2)"/>
<use href="#o" class="c" transform="translate(86.4)scale(1 -0.1)"/>
<use href="#o" class="b" transform="translate(86)scale(1 -0)"/>
<use href="#o" class="a" transform="translate(85.7)scale(1 0.1)"/>
<use href="#o" class="j" transform="translate(85.3)scale(1 0.2)"/>
<use href="#o" class="i" transform="translate(84.9)scale(1 0.3)"/>
<use href="#o" class="h" transform="translate(84.5)scale(1 0.4)"/>
<use href="#o" class="g" transform="translate(84.1)scale(1 0.5)"/>
<use href="#o" class="f" transform="translate(83.8)scale(1 0.6)"/>
<use href="#o" class="e" transform="translate(83.4)scale(1 0.7)"/>
<use href="#o" class="d" transform="translate(83)scale(1 0.8)"/>
<use href="#o" class="c" transform="translate(82.6)scale(1 0.9)"/>
<use href="#o" class="b" transform="translate(82.2)scale(1 1)"/>
<use href="#o" class="a" transform="translate(81.9)scale(1 1.1)"/>
<use href="#o" class="j" transform="translate(81.5)scale(1 1.3)"/>
<use href="#o" class="i" transform="translate(81.1)scale(1 1.4)"/>
<use href="#o" class="h" transform="translate(80.7)scale(1 1.5)"/>
<use href="#o" class="g" transform="translate(80.3)scale(1 1.6)"/>
<use href="#o" class="f" transform="translate(80)scale(1 1.7)"/>
<use href="#o" class="e" transform="translate(79.6)scale(1 1.8)"/>
<use href="#o" class="d" transform="translate(79.2)scale(1 1.9)"/>
<use href="#o" class="c" transform="translate(78.8)scale(1 2.1)"/>
<use href="#o" class="b" transform="translate(78.4)scale(1 2.2)"/>
<use href="#o" class="a" transform="translate(78)scale(1 2.3)"/>
<use href="#o" class="j" transform="translate(77.7)scale(1 2.4)"/>
<use href="#o" class="i" transform="translate(77.3)scale(1 2.5)"/>
<use href="#o" class="h" transform="translate(76.9)scale(1 2.6)"/>
<use href="#o" class="g" transform="translate(76.5)scale(1 2.8)"/>
<use href="#o" class="f" transform="translate(76.1)scale(1 2.9)"/>
<use href="#o" class="e" transform="translate(75.8)scale(1 3)"/>
<use href="#o" class="d" transform="translate(75.4)scale(1 3.1)"/>
<use href="#o" class="c" transform="translate(75)scale(1 3.2)"/>
<use href="#o" class="b" transform="translate(74.6)scale(1 3.4)"/>
<use href="#o" class="a" transform="translate(74.2)scale(1 3.5)"/>
<use href="#o" class="j" transform="translate(73.9)scale(1 3.6)"/>
<use href="#o" class="i" transform="translate(73.5)scale(1 3.7)"/>
<use href="#o" class="h" transform="translate(73.1)scale(1 3.9)"/>
<use href="#o" class="g" transform="translate(72.7)scale(1 4)"/>
<use href="#o" class="f" transform="translate(72.3)scale(1 4.1)"/>
<use href="#o" class="e" transform="translate(72)scale(1 4.2)"/>
<use href="#o" class="d" transform="translate(71.6)scale(1 4.4)"/>
<use href="#o" class="c" transform="translate(71.2)scale(1 4.5)"/>
<use href="#o" class="b" transform="translate(70.8)scale(1 4.6)"/>
<use href="#o" class="a" transform="translate(70.4)scale(1 4.7)"/>
<use href="#o" class="j" transform="translate(70)scale(1 4.9)"/>
<use href="#o" class="i" transform="translate(69.7)scale(1 5)"/>
<use href="#o" class="h" transform="translate(69.3)scale(1 5.1)"/>
<use href="#o" class="g" transform="translate(68.9)scale(1 5.3)"/>
<use href="#o" class="f" transform="translate(68.5)scale(1 5.4)"/>
<use href="#o" class="e" transform="translate(68.1)scale(1 5.5)"/>
<use href="#o" class="d" transform="translate(67.8)scale(1 5.7)"/>
<use href="#o" class="c" transform="translate(67.4)scale(1 5.8)"/>
<use href="#o" class="b" transform="translate(67)scale(1 5.9)"/>
<use href="#o" class="a" transform="translate(66.6)scale(1 6.1)"/>
<use href="#o" class="j" transform="translate(66.2)scale(1 6.2)"/>
<use href="#o" class="i" transform="translate(65.9)scale(1 6.3)"/>
<use href="#o" class="h" transform="translate(65.5)scale(1 6.5)"/>
<use href="#o" class="g" transform="translate(65.1)scale(1 6.6)"/>
<use href="#o" class="f" transform="translate(64.7)scale(1 6.7)"/>
<use href="#o" class="e" transform="translate(64.3)scale(1 6.9)"/>
<use href="#o" class="d" transform="translate(64)scale(1 7)"/>
<use href="#o" class="c" transform="translate(63.6)scale(1 7.1)"/>
<use href="#o" class="b" transform="translate(63.2)scale(1 7.3)"/>
<use href="#o" class="a" transform="translate(62.8)scale(1 7.4)"/>
<use href="#o" class="j" transform="translate(62.4)scale(1 7.5)"/>
<use href="#o" class="i" transform="translate(62)scale(1 7.7)"/>
<use href="#o" class="h" transform="translate(61.7)scale(1 7.8)"/>
<use href="#o" class="g" transform="translate(61.3)scale(1 7.9)"/>
<use href="#o" class="f" transform="translate(60.9)scale(1 8.1)"/>
<use href="#o" class="e" transform="translate(60.5)scale(1 8.2)"/>
<use href="#o" class="d" transform="translate(60.1)scale(1 8.4)"/>
<use href="#o" class="c" transform="translate(59.8)scale(1 8.5)"/>
<use href="#o" class="b" transform="translate(59.4)scale(1 8.6)"/>
<use href="#o" class="a" transform="translate(59)scale(1 8.8)"/>
<use href="#o" class="j" transform="translate(58.6)scale(1 8.9)"/>
<use href="#o" class="i" transform="translate(58.2)scale(1 9.1)"/>
<use href="#o" class="h" transform="translate(57.9)scale(1 9.2)"/>
<use href="#o" class="g" transform="translate(57.5)scale(1 9.3)"/>
<use href="#o" class="f" transform="translate(57.1)scale(1 9.5)"/>
<use href="#o" class="e" transform="translate(56.7)scale(1 9.6)"/>
<use href="#o" class="d" transform="translate(56.3)scale(1 9.8)"/>
<use href="#o" class="c" transform="translate(56)scale(1 9.9)"/>
<use href="#o" class="b" transform="translate(55.6)scale(1 10)"/>
<use href="#o" class="a" transform="translate(55.2)scale(1 10.2)"/>
<use href="#o" class="j" transform="translate(54.8)scale(1 10.3)"/>
<use href="#o" class="i" transform="translate(54.4)scale(1 10.5)"/>
<use href="#o" class="h" transform="translate(54)scale(1 10.6)"/>
<use href="#o" class="g" transform="translate(53.7)scale(1 10.8)"/>
<use href="#o" class="f" transform="translate(53.3)scale(1 10.9)"/>
<use href="#o" class="e" transform="translate(52.9)scale(1 11)"/>
<use href="#o" class="d" transform="translate(52.5)scale(1 11.2)"/>
<use href="#o" class="c" transform="translate(52.1)scale(1 11.3)"/>
<use href="#o" class="b" transform="translate(51.8)scale(1 11.5)"/>
<use href="#o" class="a" transform="translate(51.4)scale(1 11.6)"/>
<use href="#o" class="j" transform="translate(51)scale(1 11.8)"/>
<use href="#o" class="i" transform="translate(50.6)scale(1 11.9)"/>
<use href="#o" class="h" transform="translate(50.2)scale(1 12.1)"/>
<use href="#o" class="g" transform="translate(49.9)scale(1 12.2)"/>
<use href="#o" class="f" transform="translate(49.5)scale(1 12.4)"/>
<use href="#o" class="e" transform="translate(49.1)scale(1 12.5)"/>
<use href="#o" class="d" transform="translate(48.7)scale(1 12.7)"/>
<use href="#o" class="c" transform="translate(48.3)scale(1 12.8)"/>
<use href="#o" class="b" transform="translate(48)scale(1 12.9)"/>
<use href="#o" class="a" transform="translate(47.6)scale(1 13.1)"/>
<use href="#o" class="j" transform="translate(47.2)scale(1 13.2)"/>
<use href="#o" class="i" transform="translate(46.8)scale(1 13.4)"/>
<use href="#o" class="h" transform="translate(46.4)scale(1 13.5)"/>
<use href="#o" class="g" transform="translate(46)scale(1 13.7)"/>
<use href="#o" class="f" transform="translate(45.7)scale(1 13.8)"/>
<use href="#o" class="e" transform="translate(45.3)scale(1 14)"/>
<use href="#o" class="d" transform="translate(44.9)scale(1 14.1)"/>
<use href="#o" class="c" transform="translate(44.5)scale(1 14.3)"/>
<use href="#o" class="b" transform="translate(44.1)scale(1 14.4)"/>
<use href="#o" class="a" transform="translate(43.8)scale(1 14.6)"/>
<use href="#o" class="j" transform="translate(43.4)scale(1 14.7)"/>
<use href="#o" class="i" transform="translate(43)scale(1 14.9)"/>
<use href="#o" class="h" transform="translate(42.6)scale(1 15)"/>
<use href="#o" class="g" transform="translate(42.2)scale(1 15.2)"/>
<use href="#o" class="f" transform="translate(41.9)scale(1 15.3)"/>
<use href="#o" class="e" transform="translate(41.5)scale(1 15.5)"/>
<use href="#o" class="d" transform="translate(41.1)scale(1 15.7)"/>
<use href="#o" class="c" transform="translate(40.7)scale(1 15.8)"/>
<use href="#o" class="b" transform="translate(40.3)scale(1 16)"/>
<use href="#o" class="a" transform="translate(40)scale(1 16.1)"/>
<use href="#o" class="j" transform="translate(39.6)scale(1 16.3)"/>
<use href="#o" class="i" transform="translate(39.2)scale(1 16.4)"/>
<use href="#o" class="h" transform="translate(38.8)scale(1 16.6)"/>
<use href="#o" class="g" transform="translate(38.4)scale(1 16.7)"/>
<use href="#o" class="f" transform="translate(38)scale(1 16.9)"/>
<use href="#o" class="e" transform="translate(37.7)scale(1 17)"/>
<use href="#o" class="d" transform="translate(37.3)scale(1 17.2)"/>
<use href="#o" class="c" transform="translate(36.9)scale(1 17.3)"/>
<use href="#o" class="b" transform="translate(36.5)scale(1 17.5)"/>
<use href="#o" class="a" transform="translate(36.1)scale(1 17.6)"/>
<use href="#o" class="j" transform="translate(35.8)scale(1 17.8)"/>
<use href="#o" class="i" transform="translate(35.4)scale(1 18)"/>
<use href="#o" class="h" transform="translate(35)scale(1 18.1)"/>
<use href="#o" class="g" transform="translate(34.6)scale(1 18.3)"/>
<use href="#o" class="f" transform="translate(34.2)scale(1 18.4)"/>
<use href="#o" class="e" transform="translate(33.9)scale(1 18.6)"/>
<use href="#o" class="d" transform="translate(33.5)scale(1 18.7)"/>
<use href="#o" class="c" transform="translate(33.1)scale(1 18.9)"/>
<use href="#o" class="b" transform="translate(32.7)scale(1 19.1)"/>
<use href="#o" class="a" transform="translate(32.3)scale(1 19.2)"/>
<use href="#o" class="j" transform="translate(32)scale(1 19.4)"/>
<use href="#o" class="i" transform="translate(31.6)scale(1 19.5)"/>
<use href="#o" class="h" transform="translate(31.2)scale(1 19.7)"/>
</g>
<g clip-path="url(#cq1)">
<use href="#o" class="g" transform="translate(161.6)scale(1 -0.8)"/>
<use href="#o" class="f" transform="translate(161.2)scale(1 -0.7)"/>
<use href="#o" class="e" transform="translate(160.8)scale(1 -0.6)"/>
<use href="#o" class="d" transform="translate(160.5)scale(1 -0.5)"/>
<use href="#o" class="c" transform="translate(160.1)scale(1 -0.4)"/>
<use href="#o" class="b" transform="translate(159.7)scale(1 -0.3)"/>
<use href="#o" class="a" transform="translate(159.3)scale(1 -0.2)"/>
<use href="#o" class="j" transform="translate(158.9)scale(1 -0.1)"/>
<use href="#o" class="i" transform="translate(158.5)scale(1 -0)"/>
<use href="#o" class="h" transform="translate(158.2)scale(1 0.1)"/>
<use href="#o" class="g" transform="translate(157.8)scale(1 0.2)"/>
<use href="#o" class="f" transform="translate(157.4)scale(1 0.3)"/>
<use href="#o" class="e" transform="translate(157)scale(1 0.4)"/>
<use href="#o" class="d" transform="translate(156.6)scale(1 0.5)"/>
<use href="#o" class="c" transform="translate(156.3)scale(1 0.6)"/>
<use href="#o" class="b" transform="translate(155.9)scale(1 0.7)"/>
<use href="#o" class="a" transform="translate(155.5)scale(1 0.8)"/>
<use href="#o" class="j" transform="translate(155.1)scale(1 0.9)"/>
<use href="#o" class="i" transform="translate(154.7)scale(1 1)"/>
<use href="#o" class="h" transform="translate(154.4)scale(1 1.1)"/>
<use href="#o" class="g" transform="translate(154)scale(1 1.3)"/>
<use href="#o" class="f" transform="translate(153.6)scale(1 1.4)"/>
<use href="#o" class="e" transform="translate(153.2)scale(1 1.5)"/>
<use href="#o" class="d" transform="translate(152.8)scale(1 1.6)"/>
<use href="#o" class="c" transform="translate(152.5)scale(1 1.7)"/>
<use href="#o" class="b" transform="translate(152.1)scale(1 1.8)"/>
<use href="#o" class="a" transform="translate(151.7)scale(1 1.9)"/>
<use href="#o" class="j" transform="translate(151.3)scale(1 2.1)"/>
<use href="#o" class="i" transform="translate(150.9)scale(1 2.2)"/>
<use href="#o" class="h" transform="translate(150.5)scale(1 2.3)"/>
<use href="#o" class="g" transform="translate(150.2)scale(1 2.4)"/>
<use href="#o" class="f" transform="translate(149.8)scale(1 2.5)"/>
<use href="#o" class="e" transform="translate(149.4)scale(1 2.6)"/>
<use href="#o" class="d" transform="translate(149)scale(1 2.8)"/>
<use href="#o" class="c" transform="translate(148.6)scale(1 2.9)"/>
<use href="#o" class="b" transform="translate(148.3)scale(1 3)"/>
<use href="#o" class="a" transform="translate(147.9)scale(1 3.1)"/>
<use href="#o" class="j" transform="translate(147.5)scale(1 3.2)"/>
<use href="#o" class="i" transform="translate(147.1)scale(1 3.4)"/>
<use href="#o" class="h" transform="translate(146.7)scale(1 3.5)"/>
<use href="#o" class="g" transform="translate(146.4)scale(1 3.6)"/>
<use href="#o" class="f" transform="translate(146)scale(1 3.7)"/>
<use href="#o" class="e" transform="translate(145.6)scale(1 3.9)"/>
<use href="#o" class="d" transform="translate(145.2)scale(1 4)"/>
<use href="#o" class="c" transform="translate(144.8)scale(1 4.1)"/>
<use href="#o" class="b" transform="translate(144.5)scale(1 4.2)"/>
<use href="#o" class="a" transform="translate(144.1)scale(1 4.4)"/>
<use href="#o" class="j" transform="translate(143.7)scale(1 4.5)"/>
<use href="#o" class="i" transform="translate(143.3)scale(1 4.6)"/>
<use href="#o" class="h" transform="translate(142.9)scale(1 4.7)"/>
<use href="#o" class="g" transform="translate(142.5)scale(1 4.9)"/>
<use href="#o" class="f" transform="translate(142.2)scale(1 5)"/>
<use href="#o" class="e" transform="translate(141.8)scale(1 5.1)"/>
<use href="#o" class="d" transform="translate(141.4)scale(1 5.3)"/>
<use href="#o" class="c" transform="translate(141)scale(1 5.4)"/>
<use href="#o" class="b" transform="translate(140.6)scale(1 5.5)"/>
<use href="#o" class="a" transform="translate(140.3)scale(1 5.7)"/>
<use href="#o" class="j" transform="translate(139.9)scale(1 5.8)"/>
<use href="#o" class="i" transform="translate(139.5)scale(1 5.9)"/>
<use href="#o" class="h" transform="translate(139.1)scale(1 6.1)"/>
<use href="#o" class="g" transform="translate(138.7)scale(1 6.2)"/>
<use href="#o" class="f" transform="translate(138.4)scale(1 6.3)"/>
<use href="#o" class="e" transform="translate(138)scale(1 6.5)"/>
<use href="#o" class="d" transform="translate(137.6)scale(1 6.6)"/>
<use href="#o" class="c" transform="translate(137.2)scale(1 6.7)"/>
<use href="#o" class="b" transform="translate(136.8)scale(1 6.9)"/>
<use href="#o" class="a" transform="translate(136.5)scale(1 7)"/>
<use href="#o" class="j" transform="translate(136.1)scale(1 7.1)"/>
<use href="#o" class="i" transform="translate(135.7)scale(1 7.3)"/>
<use href="#o" class="h" transform="translate(135.3)scale(1 7.4)"/>
<use href="#o" class="g" transform="translate(134.9)scale(1 7.5)"/>
<use href="#o" class="f" transform="translate(134.5)scale(1 7.7)"/>
<use href="#o" class="e" transform="translate(134.2)scale(1 7.8)"/>
<use href="#o" class="d" transform="translate(133.8)scale(1 7.9)"/>
<use href="#o" class="c" transform="translate(133.4)scale(1 8.1)"/>
<use href="#o" class="b" transform="translate(133)scale(1 8.2)"/>
<use href="#o" class="a" transform="translate(132.6)scale(1 8.4)"/>
<use href="#o" class="j" transform="translate(132.3)scale(1 8.5)"/>
<use href="#o" class="i" transform="translate(131.9)scale(1 8.6)"/>
<use href="#o" class="h" transform="translate(131.5)scale(1 8.8)"/>
<use href="#o" class="g" transform="translate(131.1)scale(1 8.9)"/>
<use href="#o" class="f" transform="translate(130.7)scale(1 9.1)"/>
<use href="#o" class="e" transform="translate(130.4)scale(1 9.2)"/>
<use href="#o" class="d" transform="translate(130)scale(1 9.3)"/>
<use href="#o" class="c" transform="translate(129.6)scale(1 9.5)"/>
<use href="#o" class="b" transform="translate(129.2)scale(1 9.6)"/>
<use href="#o" class="a" transform="translate(128.8)scale(1 9.8)"/>
<use href="#o" class="j" transform="translate(128.5)scale(1 9.9)"/>
<use href="#o" class="i" transform="translate(128.1)scale(1 10)"/>
<use href="#o" class="h" transform="translate(127.7)scale(1 10.2)"/>
<use href="#o" class="g" transform="translate(127.3)scale(1 10.3)"/>
<use href="#o" class="f" transform="translate(126.9)scale(1 10.5)"/>
<use href="#o" class="e" transform="translate(126.5)scale(1 10.6)"/>
<use href="#o" class="d" transform="translate(126.2)scale(1 10.8)"/>
<use href="#o" class="c" transform="translate(125.8)scale(1 10.9)"/>
<use href="#o" class="b" transform="translate(125.4)scale(1 11)"/>
<use href="#o" class="a" transform="translate(125)scale(1 11.2)"/>
<use href="#o" class="j" transform="translate(124.6)scale(1 11.3)"/>
<use href="#o" class="i" transform="translate(124.3)scale(1 11.5)"/>
<use href="#o" class="h" transform="translate(123.9)scale(1 11.6)"/>
<use href="#o" class="g" transform="translate(123.5)scale(1 11.8)"/>
<use href="#o" class="f" transform="translate(123.1)scale(1 11.9)"/>
<use href="#o" class="e" transform="translate(122.7)scale(1 12.1)"/>
<use href="#o" class="d" transform="translate(122.4)scale(1 12.2)"/>
<use href="#o" class="c" transform="translate(122)scale(1 12.4)"/>
<use href="#o" class="b" transform="translate(121.6)scale(1 12.5)"/>
<use href="#o" class="a" transform="translate(121.2)scale(1 12.7)"/>
<use href="#o" class="j" transform="translate(120.8)scale(1 12.8)"/>
<use href="#o" class="i" transform="translate(120.5)scale(1 12.9)"/>
<use href="#o" class="h" transform="translate(120.1)scale(1 13.1)"/>
<use href="#o" class="g" transform="translate(119.7)scale(1 13.2)"/>
<use href="#o" class="f" transform="translate(119.3)scale(1 13.4)"/>
<use href="#o" class="e" transform="translate(118.9)scale(1 13.5)"/>
<use href="#o" class="d" transform="translate(118.5)scale(1 13.7)"/>
<use href="#o" class="c" transform="translate(118.2)scale(1 13.8)"/>
<use href="#o" class="b" transform="translate(117.8)scale(1 14)"/>
<use href="#o" class="a" transform="translate(117.4)scale(1 14.1)"/>
<use href="#o" class="j" transform="translate(117)scale(1 14.3)"/>
<use href="#o" class="i" transform="translate(116.6)scale(1 14.4)"/>
<use href="#o" class="h" transform="translate(116.3)scale(1 14.6)"/>
<use href="#o" class="g" transform="translate(115.9)scale(1 14.7)"/>
<use href="#o" class="f" transform="translate(115.5)scale(1 14.9)"/>
<use href="#o" class="e" transform="translate(115.1)scale(1 15)"/>
<use href="#o" class="d" transform="translate(114.7)scale(1 15.2)"/>
<use href="#o" class="c" transform="translate(114.4)scale(1 15.3)"/>
<use href="#o" class="b" transform="translate(114)scale(1 15.5)"/>
<use href="#o" class="a" transform="translate(113.6)scale(1 15.7)"/>
<use href="#o" class="j" transform="translate(113.2)scale(1 15.8)"/>
<use href="#o" class="i" transform="translate(112.8)scale(1 16)"/>
<use href="#o" class="h" transform="translate(112.5)scale(1 16.1)"/>
<use href="#o" class="g" transform="translate(112.1)scale(1 16.3)"/>
<use href="#o" class="f" transform="translate(111.7)scale(1 16.4)"/>
<use href="#o" class="e" transform="translate(111.3)scale(1 16.6)"/>
<use href="#o" class="d" transform="translate(110.9)scale(1 16.7)"/>
<use href="#o" class="c" transform="translate(110.5)scale(1 16.9)"/>
<use href="#o" class="b" transform="translate(110.2)scale(1 17)"/>
<use href="#o" class="a" transform="translate(109.8)scale(1 17.2)"/>
<use href="#o" class="j" transform="translate(109.4)scale(1 17.3)"/>
<use href="#o" class="i" transform="translate(109)scale(1 17.5)"/>
<use href="#o" class="h" transform="translate(108.6)scale(1 17.6)"/>
<use href="#o" class="g" transform="translate(108.3)scale(1 17.8)"/>
<use href="#o" class="f" transform="translate(107.9)scale(1 18)"/>
<use href="#o" class="e" transform="translate(107.5)scale(1 18.1)"/>
<use href="#o" class="d" transform="translate(107.1)scale(1 18.3)"/>
<use href="#o" class="c" transform="translate(106.7)scale(1 18.4)"/>
<use href="#o" class="b" transform="translate(106.4)scale(1 18.6)"/>
<use href="#o" class="a" transform="translate(106)scale(1 18.7)"/>
<use href="#o" class="j" transform="translate(105.6)scale(1 18.9)"/>
<use href="#o" class="i" transform="translate(105.2)scale(1 19.1)"/>
<use href="#o" class="h" transform="translate(104.8)scale(1 19.2)"/>
<use href="#o" class="g" transform="translate(104.5)scale(1 19.4)"/>
<use href="#o" class="f" transform="translate(104.1)scale(1 19.5)"/>
<use href="#o" class="e" transform="translate(103.7)scale(1 19.7)"/>
</g>
<g clip-path="url(#cq2)">
<use href="#o" class="d" transform="translate(234.1)scale(1 -0.8)"/>
<use href="#o" class="c" transform="translate(233.7)scale(1 -0.7)"/>
<use href="#o" class="b" transform="translate(233.3)scale(1 -0.6)"/>
<use href="#o" class="a" transform="translate(233)scale(1 -0.5)"/>
<use href="#o" class="j" transform="translate(232.6)scale(1 -0.4)"/>
<use href="#o" class="i" transform="translate(232.2)scale(1 -0.3)"/>
<use href="#o" class="h" transform="translate(231.8)scale(1 -0.2)"/>
<use href="#o" class="g" transform="translate(231.4)scale(1 -0.1)"/>
<use href="#o" class="f" transform="translate(231)scale(1 -0)"/>
<use href="#o" class="e" transform="translate(230.7)scale(1 0.1)"/>
<use href="#o" class="d" transform="translate(230.3)scale(1 0.2)"/>
<use href="#o" class="c" transform="translate(229.9)scale(1 0.3)"/>
<use href="#o" class="b" transform="translate(229.5)scale(1 0.4)"/>
<use href="#o" class="a" transform="translate(229.1)scale(1 0.5)"/>
<use href="#o" class="j" transform="translate(228.8)scale(1 0.6)"/>
<use href="#o" class="i" transform="translate(228.4)scale(1 0.7)"/>
<use href="#o" class="h" transform="translate(228)scale(1 0.8)"/>
<use href="#o" class="g" transform="translate(227.6)scale(1 0.9)"/>
<use href="#o" class="f" transform="translate(227.2)scale(1 1)"/>
<use href="#o" class="e" transform="translate(226.9)scale(1 1.1)"/>
<use href="#o" class="d" transform="translate(226.5)scale(1 1.3)"/>
<use href="#o" class="c" transform="translate(226.1)scale(1 1.4)"/>
<use href="#o" class="b" transform="translate(225.7)scale(1 1.5)"/>
<use href="#o" class="a" transform="translate(225.3)scale(1 1.6)"/>
<use href="#o" class="j" transform="translate(225)scale(1 1.7)"/>
<use href="#o" class="i" transform="translate(224.6)scale(1 1.8)"/>
<use href="#o" class="h" transform="translate(224.2)scale(1 1.9)"/>
<use href="#o" class="g" transform="translate(223.8)scale(1 2.1)"/>
<use href="#o" class="f" transform="translate(223.4)scale(1 2.2)"/>
<use href="#o" class="e" transform="translate(223)scale(1 2.3)"/>
<use href="#o" class="d" transform="translate(222.7)scale(1 2.4)"/>
<use href="#o" class="c" transform="translate(222.3)scale(1 2.5)"/>
<use href="#o" class="b" transform="translate(221.9)scale(1 2.6)"/>
<use href="#o" class="a" transform="translate(221.5)scale(1 2.8)"/>
<use href="#o" class="j" transform="translate(221.1)scale(1 2.9)"/>
<use href="#o" class="i" transform="translate(220.8)scale(1 3)"/>
<use href="#o" class="h" transform="translate(220.4)scale(1 3.1)"/>
<use href="#o" class="g" transform="translate(220)scale(1 3.2)"/>
<use href="#o" class="f" transform="translate(219.6)scale(1 3.4)"/>
<use href="#o" class="e" transform="translate(219.2)scale(1 3.5)"/>
<use href="#o" class="d" transform="translate(218.9)scale(1 3.6)"/>
<use href="#o" class="c" transform="translate(218.5)scale(1 3.7)"/>
<use href="#o" class="b" transform="translate(218.1)scale(1 3.9)"/>
<use href="#o" class="a" transform="translate(217.7)scale(1 4)"/>
<use href="#o" class="j" transform="translate(217.3)scale(1 4.1)"/>
<use href="#o" class="i" transform="translate(217)scale(1 4.2)"/>
<use href="#o" class="h" transform="translate(216.6)scale(1 4.4)"/>
<use href="#o" class="g" transform="translate(216.2)scale(1 4.5)"/>
<use href="#o" class="f" transform="translate(215.8)scale(1 4.6)"/>
<use href="#o" class="e" transform="translate(215.4)scale(1 4.7)"/>
<use href="#o" class="d" transform="translate(215)scale(1 4.9)"/>
<use href="#o" class="c" transform="translate(214.7)scale(1 5)"/>
<use href="#o" class="b" transform="translate(214.3)scale(1 5.1)"/>
<use href="#o" class="a" transform="translate(213.9)scale(1 5.3)"/>
<use href="#o" class="j" transform="translate(213.5)scale(1 5.4)"/>
<use href="#o" class="i" transform="translate(213.1)scale(1 5.5)"/>
<use href="#o" class="h" transform="translate(212.8)scale(1 5.7)"/>
<use href="#o" class="g" transform="translate(212.4)scale(1 5.8)"/>
<use href="#o" class="f" transform="translate(212)scale(1 5.9)"/>
<use href="#o" class="e" transform="translate(211.6)scale(1 6.1)"/>
<use href="#o" class="d" transform="translate(211.2)scale(1 6.2)"/>
<use href="#o" class="c" transform="translate(210.9)scale(1 6.3)"/>
<use href="#o" class="b" transform="translate(210.5)scale(1 6.5)"/>
<use href="#o" class="a" transform="translate(210.1)scale(1 6.6)"/>
<use href="#o" class="j" transform="translate(209.7)scale(1 6.7)"/>
<use href="#o" class="i" transform="translate(209.3)scale(1 6.9)"/>
<use href="#o" class="h" transform="translate(209)scale(1 7)"/>
<use href="#o" class="g" transform="translate(208.6)scale(1 7.1)"/>
<use href="#o" class="f" transform="translate(208.2)scale(1 7.3)"/>
<use href="#o" class="e" transform="translate(207.8)scale(1 7.4)"/>
<use href="#o" class="d" transform="translate(207.4)scale(1 7.5)"/>
<use href="#o" class="c" transform="translate(207)scale(1 7.7)"/>
<use href="#o" class="b" transform="translate(206.7)scale(1 7.8)"/>
<use href="#o" class="a" transform="translate(206.3)scale(1 7.9)"/>
<use href="#o" class="j" transform="translate(205.9)scale(1 8.1)"/>
<use href="#o" class="i" transform="translate(205.5)scale(1 8.2)"/>
<use href="#o" class="h" transform="translate(205.1)scale(1 8.4)"/>
<use href="#o" class="g" transform="translate(204.8)scale(1 8.5)"/>
<use href="#o" class="f" transform="translate(204.4)scale(1 8.6)"/>
<use href="#o" class="e" transform="translate(204)scale(1 8.8)"/>
<use href="#o" class="d" transform="translate(203.6)scale(1 8.9)"/>
<use href="#o" class="c" transform="translate(203.2)scale(1 9.1)"/>
<use href="#o" class="b" transform="translate(202.9)scale(1 9.2)"/>
<use href="#o" class="a" transform="translate(202.5)scale(1 9.3)"/>
<use href="#o" class="j" transform="translate(202.1)scale(1 9.5)"/>
<use href="#o" class="i" transform="translate(201.7)scale(1 9.6)"/>
<use href="#o" class="h" transform="translate(201.3)scale(1 9.8)"/>
<use href="#o" class="g" transform="translate(201)scale(1 9.9)"/>
<use href="#o" class="f" transform="translate(200.6)scale(1 10)"/>
<use href="#o" class="e" transform="translate(200.2)scale(1 10.2)"/>
<use href="#o" class="d" transform="translate(199.8)scale(1 10.3)"/>
<use href="#o" class="c" transform="translate(199.4)scale(1 10.5)"/>
<use href="#o" class="b" transform="translate(199)scale(1 10.6)"/>
<use href="#o" class="a" transform="translate(198.7)scale(1 10.8)"/>
<use href="#o" class="j" transform="translate(198.3)scale(1 10.9)"/>
<use href="#o" class="i" transform="translate(197.9)scale(1 11)"/>
<use href="#o" class="h" transform="translate(197.5)scale(1 11.2)"/>
<use href="#o" class="g" transform="translate(197.1)scale(1 11.3)"/>
<use href="#o" class="f" transform="translate(196.8)scale(1 11.5)"/>
<use href="#o" class="e" transform="translate(196.4)scale(1 11.6)"/>
<use href="#o" class="d" transform="translate(196)scale(1 11.8)"/>
<use href="#o" class="c" transform="translate(195.6)scale(1 11.9)"/>
<use href="#o" class="b" transform="translate(195.2)scale(1 12.1)"/>
<use href="#o" class="a" transform="translate(194.9)scale(1 12.2)"/>
<use href="#o" class="j" transform="translate(194.5)scale(1 12.4)"/>
<use href="#o" class="i" transform="translate(194.1)scale(1 12.5)"/>
<use href="#o" class="h" transform="translate(193.7)scale(1 12.7)"/>
<use href="#o" class="g" transform="translate(193.3)scale(1 12.8)"/>
<use href="#o" class="f" transform="translate(193)scale(1 12.9)"/>
<use href="#o" class="e" transform="translate(192.6)scale(1 13.1)"/>
<use href="#o" class="d" transform="translate(192.2)scale(1 13.2)"/>
<use href="#o" class="c" transform="translate(191.8)scale(1 13.4)"/>
<use href="#o" class="b" transform="translate(191.4)scale(1 13.5)"/>
<use href="#o" class="a" transform="translate(191)scale(1 13.7)"/>
<use href="#o" class="j" transform="translate(190.7)scale(1 13.8)"/>
<use href="#o" class="i" transform="translate(190.3)scale(1 14)"/>
<use href="#o" class="h" transform="translate(189.9)scale(1 14.1)"/>
<use href="#o" class="g" transform="translate(189.5)scale(1 14.3)"/>
<use href="#o" class="f" transform="translate(189.1)scale(1 14.4)"/>
<use href="#o" class="e" transform="translate(188.8)scale(1 14.6)"/>
<use href="#o" class="d" transform="translate(188.4)scale(1 14.7)"/>
<use href="#o" class="c" transform="translate(188)scale(1 14.9)"/>
<use href="#o" class="b" transform="translate(187.6)scale(1 15)"/>
<use href="#o" class="a" transform="translate(187.2)scale(1 15.2)"/>
<use href="#o" class="j" transform="translate(186.9)scale(1 15.3)"/>
<use href="#o" class="i" transform="translate(186.5)scale(1 15.5)"/>
<use href="#o" class="h" transform="translate(186.1)scale(1 15.7)"/>
<use href="#o" class="g" transform="translate(185.7)scale(1 15.8)"/>
<use href="#o" class="f" transform="translate(185.3)scale(1 16)"/>
<use href="#o" class="e" transform="translate(185)scale(1 16.1)"/>
<use href="#o" class="d" transform="translate(184.6)scale(1 16.3)"/>
<use href="#o" class="c" transform="translate(184.2)scale(1 16.4)"/>
<use href="#o" class="b" transform="translate(183.8)scale(1 16.6)"/>
<use href="#o" class="a" transform="translate(183.4)scale(1 16.7)"/>
<use href="#o" class="j" transform="translate(183)scale(1 16.9)"/>
<use href="#o" class="i" transform="translate(182.7)scale(1 17)"/>
<use href="#o" class="h" transform="translate(182.3)scale(1 17.2)"/>
<use href="#o" class="g" transform="translate(181.9)scale(1 17.3)"/>
<use href="#o" class="f" transform="translate(181.5)scale(1 17.5)"/>
<use href="#o" class="e" transform="translate(181.1)scale(1 17.6)"/>
<use href="#o" class="d" transform="translate(180.8)scale(1 17.8)"/>
<use href="#o" class="c" transform="translate(180.4)scale(1 18)"/>
<use href="#o" class="b" transform="translate(180)scale(1 18.1)"/>
<use href="#o" class="a" transform="translate(179.6)scale(1 18.3)"/>
<use href="#o" class="j" transform="translate(179.2)scale(1 18.4)"/>
<use href="#o" class="i" transform="translate(178.9)scale(1 18.6)"/>
<use href="#o" class="h" transform="translate(178.5)scale(1 18.7)"/>
<use href="#o" class="g" transform="translate(178.1)scale(1 18.9)"/>
<use href="#o" class="f" transform="translate(177.7)scale(1 19.1)"/>
<use href="#o" class="e" transform="translate(177.3)scale(1 19.2)"/>
<use href="#o" class="d" transform="translate(177)scale(1 19.4)"/>
<use href="#o" class="c" transform="translate(176.6)scale(1 19.5)"/>
<use href="#o" class="b" transform="translate(176.2)scale(1 19.7)"/>
</g>
<g clip-path="url(#cq3)">
<use href="#o" class="a" transform="translate(306.6)scale(1 -0.8)"/>
<use href="#o" class="j" transform="translate(306.2)scale(1 -0.7)"/>
<use href="#o" class="i" transform="translate(305.8)scale(1 -0.6)"/>
<use href="#o" class="h" transform="translate(305.5)scale(1 -0.5)"/>
<use href="#o" class="g" transform="translate(305.1)scale(1 -0.4)"/>
<use href="#o" class="f" transform="translate(304.7)scale(1 -0.3)"/>
<use href="#o" class="e" transform="translate(304.3)scale(1 -0.2)"/>
<use href="#o" class="d" transform="translate(303.9)scale(1 -0.1)"/>
<use href="#o" class="c" transform="translate(303.5)scale(1 -0)"/>
<use href="#o" class="b" transform="translate(303.2)scale(1 0.1)"/>
<use href="#o" class="a" transform="translate(302.8)scale(1 0.2)"/>
<use href="#o" class="j" transform="translate(302.4)scale(1 0.3)"/>
<use href="#o" class="i" transform="translate(302)scale(1 0.4)"/>
<use href="#o" class="h" transform="translate(301.6)scale(1 0.5)"/>
<use href="#o" class="g" transform="translate(301.3)scale(1 0.6)"/>
<use href="#o" class="f" transform="translate(300.9)scale(1 0.7)"/>
<use href="#o" class="e" transform="translate(300.5)scale(1 0.8)"/>
<use href="#o" class="d" transform="translate(300.1)scale(1 0.9)"/>
<use href="#o" class="c" transform="translate(299.7)scale(1 1)"/>
<use href="#o" class="b" transform="translate(299.4)scale(1 1.1)"/>
<use href="#o" class="a" transform="translate(299)scale(1 1.3)"/>
<use href="#o" class="j" transform="translate(298.6)scale(1 1.4)"/>
<use href="#o" class="i" transform="translate(298.2)scale(1 1.5)"/>
<use href="#o" class="h" transform="translate(297.8)scale(1 1.6)"/>
<use href="#o" class="g" transform="translate(297.5)scale(1 1.7)"/>
<use href="#o" class="f" transform="translate(297.1)scale(1 1.8)"/>
<use href="#o" class="e" transform="translate(296.7)scale(1 1.9)"/>
<use href="#o" class="d" transform="translate(296.3)scale(1 2.1)"/>
<use href="#o" class="c" transform="translate(295.9)scale(1 2.2)"/>
<use href="#o" class="b" transform="translate(295.5)scale(1 2.3)"/>
<use href="#o" class="a" transform="translate(295.2)scale(1 2.4)"/>
<use href="#o" class="j" transform="translate(294.8)scale(1 2.5)"/>
<use href="#o" class="i" transform="translate(294.4)scale(1 2.6)"/>
<use href="#o" class="h" transform="translate(294)scale(1 2.8)"/>
<use href="#o" class="g" transform="translate(293.6)scale(1 2.9)"/>
<use href="#o" class="f" transform="translate(293.3)scale(1 3)"/>
<use href="#o" class="e" transform="translate(292.9)scale(1 3.1)"/>
<use href="#o" class="d" transform="translate(292.5)scale(1 3.2)"/>
<use href="#o" class="c" transform="translate(292.1)scale(1 3.4)"/>
<use href="#o" class="b" transform="translate(291.7)scale(1 3.5)"/>
<use href="#o" class="a" transform="translate(291.4)scale(1 3.6)"/>
<use href="#o" class="j" transform="translate(291)scale(1 3.7)"/>
<use href="#o" class="i" transform="translate(290.6)scale(1 3.9)"/>
<use href="#o" class="h" transform="translate(290.2)scale(1 4)"/>
<use href="#o" class="g" transform="translate(289.8)scale(1 4.1)"/>
<use href="#o" class="f" transform="translate(289.5)scale(1 4.2)"/>
<use href="#o" class="e" transform="translate(289.1)scale(1 4.4)"/>
<use href="#o" class="d" transform="translate(288.7)scale(1 4.5)"/>
<use href="#o" class="c" transform="translate(288.3)scale(1 4.6)"/>
<use href="#o" class="b" transform="translate(287.9)scale(1 4.7)"/>
<use href="#o" class="a" transform="translate(287.5)scale(1 4.9)"/>
<use href="#o" class="j" transform="translate(287.2)scale(1 5)"/>
<use href="#o" class="i" transform="translate(286.8)scale(1 5.1)"/>
<use href="#o" class="h" transform="translate(286.4)scale(1 5.3)"/>
<use href="#o" class="g" transform="translate(286)scale(1 5.4)"/>
<use href="#o" class="f" transform="translate(285.6)scale(1 5.5)"/>
<use href="#o" class="e" transform="translate(285.3)scale(1 5.7)"/>
<use href="#o" class="d" transform="translate(284.9)scale(1 5.8)"/>
<use href="#o" class="c" transform="translate(284.5)scale(1 5.9)"/>
<use href="#o" class="b" transform="translate(284.1)scale(1 6.1)"/>
<use href="#o" class="a" transform="translate(283.7)scale(1 6.2)"/>
<use href="#o" class="j" transform="translate(283.4)scale(1 6.3)"/>
<use href="#o" class="i" transform="translate(283)scale(1 6.5)"/>
<use href="#o" class="h" transform="translate(282.6)scale(1 6.6)"/>
<use href="#o" class="g" transform="translate(282.2)scale(1 6.7)"/>
<use href="#o" class="f" transform="translate(281.8)scale(1 6.9)"/>
<use href="#o" class="e" transform="translate(281.5)scale(1 7)"/>
<use href="#o" class="d" transform="translate(281.1)scale(1 7.1)"/>
<use href="#o" class="c" transform="translate(280.7)scale(1 7.3)"/>
<use href="#o" class="b" transform="translate(280.3)scale(1 7.4)"/>
<use href="#o" class="a" transform="translate(279.9)scale(1 7.5)"/>
<use href="#o" class="j" transform="translate(279.5)scale(1 7.7)"/>
<use href="#o" class="i" transform="translate(279.2)scale(1 7.8)"/>
<use href="#o" class="h" transform="translate(278.8)scale(1 7.9)"/>
<use href="#o" class="g" transform="translate(278.4)scale(1 8.1)"/>
<use href="#o" class="f" transform="translate(278)scale(1 8.2)"/>
<use href="#o" class="e" transform="translate(277.6)scale(1 8.4)"/>
<use href="#o" class="d" transform="translate(277.3)scale(1 8.5)"/>
<use href="#o" class="c" transform="translate(276.9)scale(1 8.6)"/>
<use href="#o" class="b" transform="translate(276.5)scale(1 8.8)"/>
<use href="#o" class="a" transform="translate(276.1)scale(1 8.9)"/>
<use href="#o" class="j" transform="translate(275.7)scale(1 9.1)"/>
<use href="#o" class="i" transform="translate(275.4)scale(1 9.2)"/>
<use href="#o" class="h" transform="translate(275)scale(1 9.3)"/>
<use href="#o" class="g" transform="translate(274.6)scale(1 9.5)"/>
<use href="#o" class="f" transform="translate(274.2)scale(1 9.6)"/>
<use href="#o" class="e" transform="translate(273.8)scale(1 9.8)"/>
<use href="#o" class="d" transform="translate(273.5)scale(1 9.9)"/>
<use href="#o" class="c" transform="translate(273.1)scale(1 10)"/>
<use href="#o" class="b" transform="translate(272.7)scale(1 10.2)"/>
<use href="#o" class="a" transform="translate(272.3)scale(1 10.3)"/>
<use href="#o" class="j" transform="translate(271.9)scale(1 10.5)"/>
<use href="#o" class="i" transform="translate(271.5)scale(1 10.6)"/>
<use href="#o" class="h" transform="translate(271.2)scale(1 10.8)"/>
<use href="#o" class="g" transform="translate(270.8)scale(1 10.9)"/>
<use href="#o" class="f" transform="translate(270.4)scale(1 11)"/>
<use href="#o" class="e" transform="translate(270)scale(1 11.2)"/>
<use href="#o" class="d" transform="translate(269.6)scale(1 11.3)"/>
<use href="#o" class="c" transform="translate(269.3)scale(1 11.5)"/>
<use href="#o" class="b" transform="translate(268.9)scale(1 11.6)"/>
<use href="#o" class="a" transform="translate(268.5)scale(1 11.8)"/>
<use href="#o" class="j" transform="translate(268.1)scale(1 11.9)"/>
<use href="#o" class="i" transform="translate(267.7)scale(1 12.1)"/>
<use href="#o" class="h" transform="translate(267.4)scale(1 12.2)"/>
<use href="#o" class="g" transform="translate(267)scale(1 12.4)"/>
<use href="#o" class="f" transform="translate(266.6)scale(1 12.5)"/>
<use href="#o" class="e" transform="translate(266.2)scale(1 12.7)"/>
<use href="#o" class="d" transform="translate(265.8)scale(1 12.8)"/>
<use href="#o" class="c" transform="translate(265.5)scale(1 12.9)"/>
<use href="#o" class="b" transform="translate(265.1)scale(1 13.1)"/>
<use href="#o" class="a" transform="translate(264.7)scale(1 13.2)"/>
<use href="#o" class="j" transform="translate(264.3)scale(1 13.4)"/>
<use href="#o" class="i" transform="translate(263.9)scale(1 13.5)"/>
<use href="#o" class="h" transform="translate(263.5)scale(1 13.7)"/>
<use href="#o" class="g" transform="translate(263.2)scale(1 13.8)"/>
<use href="#o" class="f" transform="translate(262.8)scale(1 14)"/>
<use href="#o" class="e" transform="translate(262.4)scale(1 14.1)"/>
<use href="#o" class="d" transform="translate(262)scale(1 14.3)"/>
<use href="#o" class="c" transform="translate(261.6)scale(1 14.4)"/>
<use href="#o" class="b" transform="translate(261.3)scale(1 14.6)"/>
<use href="#o" class="a" transform="translate(260.9)scale(1 14.7)"/>
<use href="#o" class="j" transform="translate(260.5)scale(1 14.9)"/>
<use href="#o" class="i" transform="translate(260.1)scale(1 15)"/>
<use href="#o" class="h" transform="translate(259.7)scale(1 15.2)"/>
<use href="#o" class="g" transform="translate(259.4)scale(1 15.3)"/>
<use href="#o" class="f" transform="translate(259)scale(1 15.5)"/>
<use href="#o" class="e" transform="translate(258.6)scale(1 15.7)"/>
<use href="#o" class="d" transform="translate(258.2)scale(1 15.8)"/>
<use href="#o" class="c" transform="translate(257.8)scale(1 16)"/>
<use href="#o" class="b" transform="translate(257.5)scale(1 16.1)"/>
<use href="#o" class="a" transform="translate(257.1)scale(1 16.3)"/>
<use href="#o" class="j" transform="translate(256.7)scale(1 16.4)"/>
<use href="#o" class="i" transform="translate(256.3)scale(1 16.6)"/>
<use href="#o" class="h" transform="translate(255.9)scale(1 16.7)"/>
<use href="#o" class="g" transform="translate(255.5)scale(1 16.9)"/>
<use href="#o" class="f" transform="translate(255.2)scale(1 17)"/>
<use href="#o" class="e" transform="translate(254.8)scale(1 17.2)"/>
<use href="#o" class="d" transform="translate(254.4)scale(1 17.3)"/>
<use href="#o" class="c" transform="translate(254)scale(1 17.5)"/>
<use href="#o" class="b" transform="translate(253.6)scale(1 17.6)"/>
<use href="#o" class="a" transform="translate(253.3)scale(1 17.8)"/>
<use href="#o" class="j" transform="translate(252.9)scale(1 18)"/>
<use href="#o" class="i" transform="translate(252.5)scale(1 18.1)"/>
<use href="#o" class="h" transform="translate(252.1)scale(1 18.3)"/>
<use href="#o" class="g" transform="translate(251.7)scale(1 18.4)"/>
<use href="#o" class="f" transform="translate(251.4)scale(1 18.6)"/>
<use href="#o" class="e" transform="translate(251)scale(1 18.7)"/>
<use href="#o" class="d" transform="translate(250.6)scale(1 18.9)"/>
<use href="#o" class="c" transform="translate(250.2)scale(1 19.1)"/>
<use href="#o" class="b" transform="translate(249.8)scale(1 19.2)"/>
<use href="#o" class="a" transform="translate(249.5)scale(1 19.4)"/>
<use href="#o" class="j" transform="translate(249.1)scale(1 19.5)"/>
<use href="#o" class="i" transform="translate(248.7)scale(1 19.7)"/>
</g>
<g clip-path="url(#cq4)">
<use href="#o" class="h" transform="translate(379.1)scale(1 -0.8)"/>
<use href="#o" class="g" transform="translate(378.7)scale(1 -0.7)"/>
<use href="#o" class="f" transform="translate(378.3)scale(1 -0.6)"/>
<use href="#o" class="e" transform="translate(378)scale(1 -0.5)"/>
<use href="#o" class="d" transform="translate(377.6)scale(1 -0.4)"/>
<use href="#o" class="c" transform="translate(377.2)scale(1 -0.3)"/>
<use href="#o" class="b" transform="translate(376.8)scale(1 -0.2)"/>
<use href="#o" class="a" transform="translate(376.4)scale(1 -0.1)"/>
<use href="#o" class="j" transform="translate(376)scale(1 -0)"/>
<use href="#o" class="i" transform="translate(375.7)scale(1 0.1)"/>
<use href="#o" class="h" transform="translate(375.3)scale(1 0.2)"/>
<use href="#o" class="g" transform="translate(374.9)scale(1 0.3)"/>
<use href="#o" class="f" transform="translate(374.5)scale(1 0.4)"/>
<use href="#o" class="e" transform="translate(374.1)scale(1 0.5)"/>
<use href="#o" class="d" transform="translate(373.8)scale(1 0.6)"/>
<use href="#o" class="c" transform="translate(373.4)scale(1 0.7)"/>
<use href="#o" class="b" transform="translate(373)scale(1 0.8)"/>
<use href="#o" class="a" transform="translate(372.6)scale(1 0.9)"/>
<use href="#o" class="j" transform="translate(372.2)scale(1 1)"/>
<use href="#o" class="i" transform="translate(371.9)scale(1 1.1)"/>
<use href="#o" class="h" transform="translate(371.5)scale(1 1.3)"/>
<use href="#o" class="g" transform="translate(371.1)scale(1 1.4)"/>
<use href="#o" class="f" transform="translate(370.7)scale(1 1.5)"/>
<use href="#o" class="e" transform="translate(370.3)scale(1 1.6)"/>
<use href="#o" class="d" transform="translate(370)scale(1 1.7)"/>
<use href="#o" class="c" transform="translate(369.6)scale(1 1.8)"/>
<use href="#o" class="b" transform="translate(369.2)scale(1 1.9)"/>
<use href="#o" class="a" transform="translate(368.8)scale(1 2.1)"/>
<use href="#o" class="j" transform="translate(368.4)scale(1 2.2)"/>
<use href="#o" class="i" transform="translate(368)scale(1 2.3)"/>
<use href="#o" class="h" transform="translate(367.7)scale(1 2.4)"/>
<use href="#o" class="g" transform="translate(367.3)scale(1 2.5)"/>
<use href="#o" class="f" transform="translate(366.9)scale(1 2.6)"/>
<use href="#o" class="e" transform="translate(366.5)scale(1 2.8)"/>
<use href="#o" class="d" transform="translate(366.1)scale(1 2.9)"/>
<use href="#o" class="c" transform="translate(365.8)scale(1 3)"/>
<use href="#o" class="b" transform="translate(365.4)scale(1 3.1)"/>
<use href="#o" class="a" transform="translate(365)scale(1 3.2)"/>
<use href="#o" class="j" transform="translate(364.6)scale(1 3.4)"/>
<use href="#o" class="i" transform="translate(364.2)scale(1 3.5)"/>
<use href="#o" class="h" transform="translate(363.9)scale(1 3.6)"/>
<use href="#o" class="g" transform="translate(363.5)scale(1 3.7)"/>
<use href="#o" class="f" transform="translate(363.1)scale(1 3.9)"/>
<use href="#o" class="e" transform="translate(362.7)scale(1 4)"/>
<use href="#o" class="d" transform="translate(362.3)scale(1 4.1)"/>
<use href="#o" class="c" transform="translate(362)scale(1 4.2)"/>
<use href="#o" class="b" transform="translate(361.6)scale(1 4.4)"/>
<use href="#o" class="a" transform="translate(361.2)scale(1 4.5)"/>
<use href="#o" class="j" transform="translate(360.8)scale(1 4.6)"/>
<use href="#o" class="i" transform="translate(360.4)scale(1 4.7)"/>
<use href="#o" class="h" transform="translate(360)scale(1 4.9)"/>
<use href="#o" class="g" transform="translate(359.7)scale(1 5)"/>
<use href="#o" class="f" transform="translate(359.3)scale(1 5.1)"/>
<use href="#o" class="e" transform="translate(358.9)scale(1 5.3)"/>
<use href="#o" class="d" transform="translate(358.5)scale(1 5.4)"/>
<use href="#o" class="c" transform="translate(358.1)scale(1 5.5)"/>
<use href="#o" class="b" transform="translate(357.8)scale(1 5.7)"/>
<use href="#o" class="a" transform="translate(357.4)scale(1 5.8)"/>
<use href="#o" class="j" transform="translate(357)scale(1 5.9)"/>
<use href="#o" class="i" transform="translate(356.6)scale(1 6.1)"/>
<use href="#o" class="h" transform="translate(356.2)scale(1 6.2)"/>
<use href="#o" class="g" transform="translate(355.9)scale(1 6.3)"/>
<use href="#o" class="f" transform="translate(355.5)scale(1 6.5)"/>
<use href="#o" class="e" transform="translate(355.1)scale(1 6.6)"/>
<use href="#o" class="d" transform="translate(354.7)scale(1 6.7)"/>
<use href="#o" class="c" transform="translate(354.3)scale(1 6.9)"/>
<use href="#o" class="b" transform="translate(354)scale(1 7)"/>
<use href="#o" class="a" transform="translate(353.6)scale(1 7.1)"/>
<use href="#o" class="j" transform="translate(353.2)scale(1 7.3)"/>
<use href="#o" class="i" transform="translate(352.8)scale(1 7.4)"/>
<use href="#o" class="h" transform="translate(352.4)scale(1 7.5)"/>
<use href="#o" class="g" transform="translate(352)scale(1 7.7)"/>
<use href="#o" class="f" transform="translate(351.7)scale(1 7.8)"/>
<use href="#o" class="e" transform="translate(351.3)scale(1 7.9)"/>
<use href="#o" class="d" transform="translate(350.9)scale(1 8.1)"/>
<use href="#o" class="c" transform="translate(350.5)scale(1 8.2)"/>
<use href="#o" class="b" transform="translate(350.1)scale(1 8.4)"/>
<use href="#o" class="a" transform="translate(349.8)scale(1 8.5)"/>
<use href="#o" class="j" transform="translate(349.4)scale(1 8.6)"/>
<use href="#o" class="i" transform="translate(349)scale(1 8.8)"/>
<use href="#o" class="h" transform="translate(348.6)scale(1 8.9)"/>
<use href="#o" class="g" transform="translate(348.2)scale(1 9.1)"/>
<use href="#o" class="f" transform="translate(347.9)scale(1 9.2)"/>
<use href="#o" class="e" transform="translate(347.5)scale(1 9.3)"/>
<use href="#o" class="d" transform="translate(347.1)scale(1 9.5)"/>
<use href="#o" class="c" transform="translate(346.7)scale(1 9.6)"/>
<use href="#o" class="b" transform="translate(346.3)scale(1 9.8)"/>
<use href="#o" class="a" transform="translate(346)scale(1 9.9)"/>
<use href="#o" class="j" transform="translate(345.6)scale(1 10)"/>
<use href="#o" class="i" transform="translate(345.2)scale(1 10.2)"/>
<use href="#o" class="h" transform="translate(344.8)scale(1 10.3)"/>
<use href="#o" class="g" transform="translate(344.4)scale(1 10.5)"/>
<use href="#o" class="f" transform="translate(344)scale(1 10.6)"/>
<use href="#o" class="e" transform="translate(343.7)scale(1 10.8)"/>
<use href="#o" class="d" transform="translate(343.3)scale(1 10.9)"/>
<use href="#o" class="c" transform="translate(342.9)scale(1 11)"/>
<use href="#o" class="b" transform="translate(342.5)scale(1 11.2)"/>
<use href="#o" class="a" transform="translate(342.1)scale(1 11.3)"/>
<use href="#o" class="j" transform="translate(341.8)scale(1 11.5)"/>
<use href="#o" class="i" transform="translate(341.4)scale(1 11.6)"/>
<use href="#o" class="h" transform="translate(341)scale(1 11.8)"/>
<use href="#o" class="g" transform="translate(340.6)scale(1 11.9)"/>
<use href="#o" class="f" transform="translate(340.2)scale(1 12.1)"/>
<use href="#o" class="e" transform="translate(339.9)scale(1 12.2)"/>
<use href="#o" class="d" transform="translate(339.5)scale(1 12.4)"/>
<use href="#o" class="c" transform="translate(339.1)scale(1 12.5)"/>
<use href="#o" class="b" transform="translate(338.7)scale(1 12.7)"/>
<use href="#o" class="a" transform="translate(338.3)scale(1 12.8)"/>
<use href="#o" class="j" transform="translate(338)scale(1 12.9)"/>
<use href="#o" class="i" transform="translate(337.6)scale(1 13.1)"/>
<use href="#o" class="h" transform="translate(337.2)scale(1 13.2)"/>
<use href="#o" class="g" transform="translate(336.8)scale(1 13.4)"/>
<use href="#o" class="f" transform="translate(336.4)scale(1 13.5)"/>
<use href="#o" class="e" transform="translate(336)scale(1 13.7)"/>
<use href="#o" class="d" transform="translate(335.7)scale(1 13.8)"/>
<use href="#o" class="c" transform="translate(335.3)scale(1 14)"/>
<use href="#o" class="b" transform="translate(334.9)scale(1 14.1)"/>
<use href="#o" class="a" transform="translate(334.5)scale(1 14.3)"/>
<use href="#o" class="j" transform="translate(334.1)scale(1 14.4)"/>
<use href="#o" class="i" transform="translate(333.8)scale(1 14.6)"/>
<use href="#o" class="h" transform="translate(333.4)scale(1 14.7)"/>
<use href="#o" class="g" transform="translate(333)scale(1 14.9)"/>
<use href="#o" class="f" transform="translate(332.6)scale(1 15)"/>
<use href="#o" class="e" transform="translate(332.2)scale(1 15.2)"/>
<use href="#o" class="d" transform="translate(331.9)scale(1 15.3)"/>
<use href="#o" class="c" transform="translate(331.5)scale(1 15.5)"/>
<use href="#o" class="b" transform="translate(331.1)scale(1 15.7)"/>
<use href="#o" class="a" transform="translate(330.7)scale(1 15.8)"/>
<use href="#o" class="j" transform="translate(330.3)scale(1 16)"/>
<use href="#o" class="i" transform="translate(330)scale(1 16.1)"/>
<use href="#o" class="h" transform="translate(329.6)scale(1 16.3)"/>
<use href="#o" class="g" transform="translate(329.2)scale(1 16.4)"/>
<use href="#o" class="f" transform="translate(328.8)scale(1 16.6)"/>
<use href="#o" class="e" transform="translate(328.4)scale(1 16.7)"/>
<use href="#o" class="d" transform="translate(328)scale(1 16.9)"/>
<use href="#o" class="c" transform="translate(327.7)scale(1 17)"/>
<use href="#o" class="b" transform="translate(327.3)scale(1 17.2)"/>
<use href="#o" class="a" transform="translate(326.9)scale(1 17.3)"/>
<use href="#o" class="j" transform="translate(326.5)scale(1 17.5)"/>
<use href="#o" class="i" transform="translate(326.1)scale(1 17.6)"/>
<use href="#o" class="h" transform="translate(325.8)scale(1 17.8)"/>
<use href="#o" class="g" transform="translate(325.4)scale(1 18)"/>
<use href="#o" class="f" transform="translate(325)scale(1 18.1)"/>
<use href="#o" class="e" transform="translate(324.6)scale(1 18.3)"/>
<use href="#o" class="d" transform="translate(324.2)scale(1 18.4)"/>
<use href="#o" class="c" transform="translate(323.9)scale(1 18.6)"/>
<use href="#o" class="b" transform="translate(323.5)scale(1 18.7)"/>
<use href="#o" class="a" transform="translate(323.1)scale(1 18.9)"/>
<use href="#o" class="j" transform="translate(322.7)scale(1 19.1)"/>
<use href="#o" class="i" transform="translate(322.3)scale(1 19.2)"/>
<use href="#o" class="h" transform="translate(322)scale(1 19.4)"/>
<use href="#o" class="g" transform="translate(321.6)scale(1 19.5)"/>
<use href="#o" class="f" transform="translate(321.2)scale(1 19.7)"/>
</g>
<g clip-path="url(#cq5)">
<use href="#o" class="e" transform="translate(444.7)scale(1 -0.8)"/>
<use href="#o" class="d" transform="translate(444.4)scale(1 -0.8)"/>
<use href="#o" class="c" transform="translate(444)scale(1 -0.8)"/>
<use href="#o" class="b" transform="translate(443.6)scale(1 -0.7)"/>
<use href="#o" class="a" transform="translate(443.2)scale(1 -0.7)"/>
<use href="#o" class="j" transform="translate(442.8)scale(1 -0.7)"/>
<use href="#o" class="i" transform="translate(442.5)scale(1 -0.7)"/>
<use href="#o" class="h" transform="translate(442.1)scale(1 -0.6)"/>
<use href="#o" class="g" transform="translate(441.7)scale(1 -0.6)"/>
<use href="#o" class="f" transform="translate(441.3)scale(1 -0.6)"/>
<use href="#o" class="e" transform="translate(440.9)scale(1 -0.6)"/>
<use href="#o" class="d" transform="translate(440.5)scale(1 -0.5)"/>
<use href="#o" class="c" transform="translate(440.2)scale(1 -0.5)"/>
<use href="#o" class="b" transform="translate(439.8)scale(1 -0.5)"/>
<use href="#o" class="a" transform="translate(439.4)scale(1 -0.5)"/>
<use href="#o" class="j" transform="translate(439)scale(1 -0.4)"/>
<use href="#o" class="i" transform="translate(438.6)scale(1 -0.4)"/>
<use href="#o" class="h" transform="translate(438.3)scale(1 -0.4)"/>
<use href="#o" class="g" transform="translate(437.9)scale(1 -0.4)"/>
<use href="#o" class="f" transform="translate(437.5)scale(1 -0.3)"/>
<use href="#o" class="e" transform="translate(437.1)scale(1 -0.3)"/>
<use href="#o" class="d" transform="translate(436.7)scale(1 -0.3)"/>
<use href="#o" class="c" transform="translate(436.4)scale(1 -0.3)"/>
<use href="#o" class="b" transform="translate(436)scale(1 -0.2)"/>
<use href="#o" class="a" transform="translate(435.6)scale(1 -0.2)"/>
<use href="#o" class="j" transform="translate(435.2)scale(1 -0.2)"/>
<use href="#o" class="i" transform="translate(434.8)scale(1 -0.2)"/>
<use href="#o" class="h" transform="translate(434.5)scale(1 -0.1)"/>
<use href="#o" class="g" transform="translate(434.1)scale(1 -0.1)"/>
<use href="#o" class="f" transform="translate(433.7)scale(1 -0.1)"/>
<use href="#o" class="e" transform="translate(433.3)scale(1 -0.1)"/>
<use href="#o" class="d" transform="translate(432.9)scale(1 -0)"/>
<use href="#o" class="c" transform="translate(432.5)scale(1 0)"/>
<use href="#o" class="b" transform="translate(432.2)scale(1 0)"/>
<use href="#o" class="a" transform="translate(431.8)scale(1 0.1)"/>
<use href="#o" class="j" transform="translate(431.4)scale(1 0.1)"/>
<use href="#o" class="i" transform="translate(431)scale(1 0.1)"/>
<use href="#o" class="h" transform="translate(430.6)scale(1 0.1)"/>
<use href="#o" class="g" transform="translate(430.3)scale(1 0.2)"/>
<use href="#o" class="f" transform="translate(429.9)scale(1 0.2)"/>
<use href="#o" class="e" transform="translate(429.5)scale(1 0.2)"/>
<use href="#o" class="d" transform="translate(429.1)scale(1 0.3)"/>
<use href="#o" class="c" transform="translate(428.7)scale(1 0.3)"/>
<use href="#o" class="b" transform="translate(428.4)scale(1 0.3)"/>
<use href="#o" class="a" transform="translate(428)scale(1 0.3)"/>
<use href="#o" class="j" transform="translate(427.6)scale(1 0.4)"/>
<use href="#o" class="i" transform="translate(427.2)scale(1 0.4)"/>
<use href="#o" class="h" transform="translate(426.8)scale(1 0.4)"/>
<use href="#o" class="g" transform="translate(426.5)scale(1 0.4)"/>
<use href="#o" class="f" transform="translate(426.1)scale(1 0.5)"/>
<use href="#o" class="e" transform="translate(425.7)scale(1 0.5)"/>
<use href="#o" class="d" transform="translate(425.3)scale(1 0.5)"/>
<use href="#o" class="c" transform="translate(424.9)scale(1 0.6)"/>
<use href="#o" class="b" transform="translate(424.5)scale(1 0.6)"/>
<use href="#o" class="a" transform="translate(424.2)scale(1 0.6)"/>
<use href="#o" class="j" transform="translate(423.8)scale(1 0.7)"/>
<use href="#o" class="i" transform="translate(423.4)scale(1 0.7)"/>
<use href="#o" class="h" transform="translate(423)scale(1 0.7)"/>
<use href="#o" class="g" transform="translate(422.6)scale(1 0.7)"/>
<use href="#o" class="f" transform="translate(422.3)scale(1 0.8)"/>
<use href="#o" class="e" transform="translate(421.9)scale(1 0.8)"/>
<use href="#o" class="d" transform="translate(421.5)scale(1 0.8)"/>
<use href="#o" class="c" transform="translate(421.1)scale(1 0.9)"/>
<use href="#o" class="b" transform="translate(420.7)scale(1 0.9)"/>
<use href="#o" class="a" transform="translate(420.4)scale(1 0.9)"/>
<use href="#o" class="j" transform="translate(420)scale(1 0.9)"/>
<use href="#o" class="i" transform="translate(419.6)scale(1 1)"/>
<use href="#o" class="h" transform="translate(419.2)scale(1 1)"/>
<use href="#o" class="g" transform="translate(418.8)scale(1 1)"/>
<use href="#o" class="f" transform="translate(418.5)scale(1 1.1)"/>
<use href="#o" class="e" transform="translate(418.1)scale(1 1.1)"/>
<use href="#o" class="d" transform="translate(417.7)scale(1 1.1)"/>
<use href="#o" class="c" transform="translate(417.3)scale(1 1.2)"/>
<use href="#o" class="b" transform="translate(416.9)scale(1 1.2)"/>
<use href="#o" class="a" transform="translate(416.5)scale(1 1.2)"/>
<use href="#o" class="j" transform="translate(416.2)scale(1 1.2)"/>
<use href="#o" class="i" transform="translate(415.8)scale(1 1.3)"/>
<use href="#o" class="h" transform="translate(415.4)scale(1 1.3)"/>
<use href="#o" class="g" transform="translate(415)scale(1 1.3)"/>
<use href="#o" class="f" transform="translate(414.6)scale(1 1.4)"/>
<use href="#o" class="e" transform="translate(414.3)scale(1 1.4)"/>
<use href="#o" class="d" transform="translate(413.9)scale(1 1.4)"/>
<use href="#o" class="c" transform="translate(413.5)scale(1 1.5)"/>
<use href="#o" class="b" transform="translate(413.1)scale(1 1.5)"/>
<use href="#o" class="a" transform="translate(412.7)scale(1 1.5)"/>
<use href="#o" class="j" transform="translate(412.4)scale(1 1.6)"/>
<use href="#o" class="i" transform="translate(412)scale(1 1.6)"/>
<use href="#o" class="h" transform="translate(411.6)scale(1 1.6)"/>
<use href="#o" class="g" transform="translate(411.2)scale(1 1.6)"/>
<use href="#o" class="f" transform="translate(410.8)scale(1 1.7)"/>
<use href="#o" class="e" transform="translate(410.5)scale(1 1.7)"/>
<use href="#o" class="d" transform="translate(410.1)scale(1 1.7)"/>
<use href="#o" class="c" transform="translate(409.7)scale(1 1.8)"/>
<use href="#o" class="b" transform="translate(409.3)scale(1 1.8)"/>
<use href="#o" class="a" transform="translate(408.9)scale(1 1.8)"/>
<use href="#o" class="j" transform="translate(408.5)scale(1 1.9)"/>
<use href="#o" class="i" transform="translate(408.2)scale(1 1.9)"/>
<use href="#o" class="h" transform="translate(407.8)scale(1 1.9)"/>
<use href="#o" class="g" transform="translate(407.4)scale(1 2)"/>
<use href="#o" class="f" transform="translate(407)scale(1 2)"/>
<use href="#o" class="e" transform="translate(406.6)scale(1 2)"/>
<use href="#o" class="d" transform="translate(406.3)scale(1 2.1)"/>
<use href="#o" class="c" transform="translate(405.9)scale(1 2.1)"/>
<use href="#o" class="b" transform="translate(405.5)scale(1 2.1)"/>
<use href="#o" class="a" transform="translate(405.1)scale(1 2.1)"/>
<use href="#o" class="j" transform="translate(404.7)scale(1 2.2)"/>
<use href="#o" class="i" transform="translate(404.4)scale(1 2.2)"/>
<use href="#o" class="h" transform="translate(404)scale(1 2.2)"/>
<use href="#o" class="g" transform="translate(403.6)scale(1 2.3)"/>
<use href="#o" class="f" transform="translate(403.2)scale(1 2.3)"/>
<use href="#o" class="e" transform="translate(402.8)scale(1 2.3)"/>
<use href="#o" class="d" transform="translate(402.5)scale(1 2.4)"/>
<use href="#o" class="c" transform="translate(402.1)scale(1 2.4)"/>
<use href="#o" class="b" transform="translate(401.7)scale(1 2.4)"/>
<use href="#o" class="a" transform="translate(401.3)scale(1 2.5)"/>
<use href="#o" class="j" transform="translate(400.9)scale(1 2.5)"/>
<use href="#o" class="i" transform="translate(400.5)scale(1 2.5)"/>
<use href="#o" class="h" transform="translate(400.2)scale(1 2.6)"/>
<use href="#o" class="g" transform="translate(399.8)scale(1 2.6)"/>
<use href="#o" class="f" transform="translate(399.4)scale(1 2.6)"/>
<use href="#o" class="e" transform="translate(399)scale(1 2.7)"/>
<use href="#o" class="d" transform="translate(398.6)scale(1 2.7)"/>
<use href="#o" class="c" transform="translate(398.3)scale(1 2.7)"/>
<use href="#o" class="b" transform="translate(397.9)scale(1 2.8)"/>
<use href="#o" class="a" transform="translate(397.5)scale(1 2.8)"/>
<use href="#o" class="j" transform="translate(397.1)scale(1 2.8)"/>
<use href="#o" class="i" transform="translate(396.7)scale(1 2.9)"/>
<use href="#o" class="h" transform="translate(396.4)scale(1 2.9)"/>
<use href="#o" class="g" transform="translate(396)scale(1 2.9)"/>
<use href="#o" class="f" transform="translate(395.6)scale(1 3)"/>
<use href="#o" class="e" transform="translate(395.2)scale(1 3)"/>
<use href="#o" class="d" transform="translate(394.8)scale(1 3)"/>
<use href="#o" class="c" transform="translate(394.5)scale(1 3.1)"/>
<use href="#o" class="b" transform="translate(394.1)scale(1 3.1)"/>
<use href="#o" class="a" transform="translate(393.7)scale(1 3.1)"/>
</g>
<g clip-path="url(#cq6)">
<use href="#o" class="j" transform="translate(524.1)scale(1 -0.8)"/>
<use href="#o" class="i" transform="translate(523.7)scale(1 -0.7)"/>
<use href="#o" class="h" transform="translate(523.3)scale(1 -0.6)"/>
<use href="#o" class="g" transform="translate(523)scale(1 -0.5)"/>
<use href="#o" class="f" transform="translate(522.6)scale(1 -0.4)"/>
<use href="#o" class="e" transform="translate(522.2)scale(1 -0.3)"/>
<use href="#o" class="d" transform="translate(521.8)scale(1 -0.2)"/>
<use href="#o" class="c" transform="translate(521.4)scale(1 -0.1)"/>
<use href="#o" class="b" transform="translate(521)scale(1 -0)"/>
<use href="#o" class="a" transform="translate(520.7)scale(1 0.1)"/>
<use href="#o" class="j" transform="translate(520.3)scale(1 0.2)"/>
<use href="#o" class="i" transform="translate(519.9)scale(1 0.3)"/>
<use href="#o" class="h" transform="translate(519.5)scale(1 0.4)"/>
<use href="#o" class="g" transform="translate(519.1)scale(1 0.5)"/>
<use href="#o" class="f" transform="translate(518.8)scale(1 0.6)"/>
<use href="#o" class="e" transform="translate(518.4)scale(1 0.7)"/>
<use href="#o" class="d" transform="translate(518)scale(1 0.8)"/>
<use href="#o" class="c" transform="translate(517.6)scale(1 0.9)"/>
<use href="#o" class="b" transform="translate(517.2)scale(1 1)"/>
<use href="#o" class="a" transform="translate(516.9)scale(1 1.1)"/>
<use href="#o" class="j" transform="translate(516.5)scale(1 1.3)"/>
<use href="#o" class="i" transform="translate(516.1)scale(1 1.4)"/>
<use href="#o" class="h" transform="translate(515.7)scale(1 1.5)"/>
<use href="#o" class="g" transform="translate(515.3)scale(1 1.6)"/>
<use href="#o" class="f" transform="translate(515)scale(1 1.7)"/>
<use href="#o" class="e" transform="translate(514.6)scale(1 1.8)"/>
<use href="#o" class="d" transform="translate(514.2)scale(1 1.9)"/>
<use href="#o" class="c" transform="translate(513.8)scale(1 2.1)"/>
<use href="#o" class="b" transform="translate(513.4)scale(1 2.2)"/>
<use href="#o" class="a" transform="translate(513)scale(1 2.3)"/>
<use href="#o" class="j" transform="translate(512.7)scale(1 2.4)"/>
<use href="#o" class="i" transform="translate(512.3)scale(1 2.5)"/>
<use href="#o" class="h" transform="translate(511.9)scale(1 2.6)"/>
<use href="#o" class="g" transform="translate(511.5)scale(1 2.8)"/>
<use href="#o" class="f" transform="translate(511.1)scale(1 2.9)"/>
<use href="#o" class="e" transform="translate(510.8)scale(1 3)"/>
<use href="#o" class="d" transform="translate(510.4)scale(1 3.1)"/>
<use href="#o" class="c" transform="translate(510)scale(1 3.2)"/>
<use href="#o" class="b" transform="translate(509.6)scale(1 3.4)"/>
<use href="#o" class="a" transform="translate(509.2)scale(1 3.5)"/>
<use href="#o" class="j" transform="translate(508.9)scale(1 3.6)"/>
<use href="#o" class="i" transform="translate(508.5)scale(1 3.7)"/>
<use href="#o" class="h" transform="translate(508.1)scale(1 3.9)"/>
<use href="#o" class="g" transform="translate(507.7)scale(1 4)"/>
<use href="#o" class="f" transform="translate(507.3)scale(1 4.1)"/>
<use href="#o" class="e" transform="translate(507)scale(1 4.2)"/>
<use href="#o" class="d" transform="translate(506.6)scale(1 4.4)"/>
<use href="#o" class="c" transform="translate(506.2)scale(1 4.5)"/>
<use href="#o" class="b" transform="translate(505.8)scale(1 4.6)"/>
<use href="#o" class="a" transform="translate(505.4)scale(1 4.7)"/>
<use href="#o" class="j" transform="translate(505)scale(1 4.9)"/>
<use href="#o" class="i" transform="translate(504.7)scale(1 5)"/>
<use href="#o" class="h" transform="translate(504.3)scale(1 5.1)"/>
<use href="#o" class="g" transform="translate(503.9)scale(1 5.3)"/>
<use href="#o" class="f" transform="translate(503.5)scale(1 5.4)"/>
<use href="#o" class="e" transform="translate(503.1)scale(1 5.5)"/>
<use href="#o" class="d" transform="translate(502.8)scale(1 5.7)"/>
<use href="#o" class="c" transform="translate(502.4)scale(1 5.8)"/>
<use href="#o" class="b" transform="translate(502)scale(1 5.9)"/>
<use href="#o" class="a" transform="translate(501.6)scale(1 6.1)"/>
<use href="#o" class="j" transform="translate(501.2)scale(1 6.2)"/>
<use href="#o" class="i" transform="translate(500.9)scale(1 6.3)"/>
<use href="#o" class="h" transform="translate(500.5)scale(1 6.5)"/>
<use href="#o" class="g" transform="translate(500.1)scale(1 6.6)"/>
<use href="#o" class="f" transform="translate(499.7)scale(1 6.7)"/>
<use href="#o" class="e" transform="translate(499.3)scale(1 6.9)"/>
<use href="#o" class="d" transform="translate(499)scale(1 7)"/>
<use href="#o" class="c" transform="translate(498.6)scale(1 7.1)"/>
<use href="#o" class="b" transform="translate(498.2)scale(1 7.3)"/>
<use href="#o" class="a" transform="translate(497.8)scale(1 7.4)"/>
<use href="#o" class="j" transform="translate(497.4)scale(1 7.5)"/>
<use href="#o" class="i" transform="translate(497)scale(1 7.7)"/>
<use href="#o" class="h" transform="translate(496.7)scale(1 7.8)"/>
<use href="#o" class="g" transform="translate(496.3)scale(1 7.9)"/>
<use href="#o" class="f" transform="translate(495.9)scale(1 8.1)"/>
<use href="#o" class="e" transform="translate(495.5)scale(1 8.2)"/>
<use href="#o" class="d" transform="translate(495.1)scale(1 8.4)"/>
<use href="#o" class="c" transform="translate(494.8)scale(1 8.5)"/>
<use href="#o" class="b" transform="translate(494.4)scale(1 8.6)"/>
<use href="#o" class="a" transform="translate(494)scale(1 8.8)"/>
<use href="#o" class="j" transform="translate(493.6)scale(1 8.9)"/>
<use href="#o" class="i" transform="translate(493.2)scale(1 9.1)"/>
<use href="#o" class="h" transform="translate(492.9)scale(1 9.2)"/>
<use href="#o" class="g" transform="translate(492.5)scale(1 9.3)"/>
<use href="#o" class="f" transform="translate(492.1)scale(1 9.5)"/>
<use href="#o" class="e" transform="translate(491.7)scale(1 9.6)"/>
<use href="#o" class="d" transform="translate(491.3)scale(1 9.8)"/>
<use href="#o" class="c" transform="translate(491)scale(1 9.9)"/>
<use href="#o" class="b" transform="translate(490.6)scale(1 10)"/>
<use href="#o" class="a" transform="translate(490.2)scale(1 10.2)"/>
<use href="#o" class="j" transform="translate(489.8)scale(1 10.3)"/>
<use href="#o" class="i" transform="translate(489.4)scale(1 10.5)"/>
<use href="#o" class="h" transform="translate(489)scale(1 10.6)"/>
<use href="#o" class="g" transform="translate(488.7)scale(1 10.8)"/>
<use href="#o" class="f" transform="translate(488.3)scale(1 10.9)"/>
<use href="#o" class="e" transform="translate(487.9)scale(1 11)"/>
<use href="#o" class="d" transform="translate(487.5)scale(1 11.2)"/>
<use href="#o" class="c" transform="translate(487.1)scale(1 11.3)"/>
<use href="#o" class="b" transform="translate(486.8)scale(1 11.5)"/>
<use href="#o" class="a" transform="translate(486.4)scale(1 11.6)"/>
<use href="#o" class="j" transform="translate(486)scale(1 11.8)"/>
<use href="#o" class="i" transform="translate(485.6)scale(1 11.9)"/>
<use href="#o" class="h" transform="translate(485.2)scale(1 12.1)"/>
<use href="#o" class="g" transform="translate(484.9)scale(1 12.2)"/>
<use href="#o" class="f" transform="translate(484.5)scale(1 12.4)"/>
<use href="#o" class="e" transform="translate(484.1)scale(1 12.5)"/>
<use href="#o" class="d" transform="translate(483.7)scale(1 12.7)"/>
<use href="#o" class="c" transform="translate(483.3)scale(1 12.8)"/>
<use href="#o" class="b" transform="translate(483)scale(1 12.9)"/>
<use href="#o" class="a" transform="translate(482.6)scale(1 13.1)"/>
<use href="#o" class="j" transform="translate(482.2)scale(1 13.2)"/>
<use href="#o" class="i" transform="translate(481.8)scale(1 13.4)"/>
<use href="#o" class="h" transform="translate(481.4)scale(1 13.5)"/>
<use href="#o" class="g" transform="translate(481)scale(1 13.7)"/>
<use href="#o" class="f" transform="translate(480.7)scale(1 13.8)"/>
<use href="#o" class="e" transform="translate(480.3)scale(1 14)"/>
<use href="#o" class="d" transform="translate(479.9)scale(1 14.1)"/>
<use href="#o" class="c" transform="translate(479.5)scale(1 14.3)"/>
<use href="#o" class="b" transform="translate(479.1)scale(1 14.4)"/>
<use href="#o" class="a" transform="translate(478.8)scale(1 14.6)"/>
<use href="#o" class="j" transform="translate(478.4)scale(1 14.7)"/>
<use href="#o" class="i" transform="translate(478)scale(1 14.9)"/>
<use href="#o" class="h" transform="translate(477.6)scale(1 15)"/>
<use href="#o" class="g" transform="translate(477.2)scale(1 15.2)"/>
<use href="#o" class="f" transform="translate(476.9)scale(1 15.3)"/>
<use href="#o" class="e" transform="translate(476.5)scale(1 15.5)"/>
<use href="#o" class="d" transform="translate(476.1)scale(1 15.7)"/>
<use href="#o" class="c" transform="translate(475.7)scale(1 15.8)"/>
<use href="#o" class="b" transform="translate(475.3)scale(1 16)"/>
<use href="#o" class="a" transform="translate(475)scale(1 16.1)"/>
<use href="#o" class="j" transform="translate(474.6)scale(1 16.3)"/>
<use href="#o" class="i" transform="translate(474.2)scale(1 16.4)"/>
<use href="#o" class="h" transform="translate(473.8)scale(1 16.6)"/>
<use href="#o" class="g" transform="translate(473.4)scale(1 16.7)"/>
<use href="#o" class="f" transform="translate(473)scale(1 16.9)"/>
<use href="#o" class="e" transform="translate(472.7)scale(1 17)"/>
<use href="#o" class="d" transform="translate(472.3)scale(1 17.2)"/>
<use href="#o" class="c" transform="translate(471.9)scale(1 17.3)"/>
<use href="#o" class="b" transform="translate(471.5)scale(1 17.5)"/>
<use href="#o" class="a" transform="translate(471.1)scale(1 17.6)"/>
<use href="#o" class="j" transform="translate(470.8)scale(1 17.8)"/>
<use href="#o" class="i" transform="translate(470.4)scale(1 18)"/>
<use href="#o" class="h" transform="translate(470)scale(1 18.1)"/>
<use href="#o" class="g" transform="translate(469.6)scale(1 18.3)"/>
<use href="#o" class="f" transform="translate(469.2)scale(1 18.4)"/>
<use href="#o" class="e" transform="translate(468.9)scale(1 18.6)"/>
<use href="#o" class="d" transform="translate(468.5)scale(1 18.7)"/>
<use href="#o" class="c" transform="translate(468.1)scale(1 18.9)"/>
<use href="#o" class="b" transform="translate(467.7)scale(1 19.1)"/>
<use href="#o" class="a" transform="translate(467.3)scale(1 19.2)"/>
<use href="#o" class="j" transform="translate(467)scale(1 19.4)"/>
<use href="#o" class="i" transform="translate(466.6)scale(1 19.5)"/>
<use href="#o" class="h" transform="translate(466.2)scale(1 19.7)"/>
</g>
</g></g>
<g stroke="#505050" stroke-width="0.95" fill="none">
<rect x="31" y="151.4" width="507.5" height="81"/>
<path d="M103.5 151.4V232.4M176 151.4V232.4M248.5 151.4V232.4M321 151.4V232.4M393.5 151.4V232.4M466 151.4V232.4M31 232.4h-2.6M538.5 232.4h2.6M31 216.2h-2.6M538.5 216.2h2.6M31 200h-2.6M538.5 200h2.6M31 183.8h-2.6M538.5 183.8h2.6M31 167.6h-2.6M538.5 167.6h2.6M31 151.4h-2.6M538.5 151.4h2.6M67.2 232.4v2.6M139.8 232.4v2.6M212.2 232.4v2.6M284.8 232.4v2.6M357.2 232.4v2.6M429.8 232.4v2.6M502.2 232.4v2.6"/>
</g>
<text x="24.8" y="235.2" text-anchor="end" >1</text>
<text x="24.8" y="219" text-anchor="end" >2</text>
<text x="24.8" y="202.8" text-anchor="end" >3</text>
<text x="24.8" y="186.6" text-anchor="end" >4</text>
<text x="24.8" y="170.4" text-anchor="end" >5</text>
<text x="24.8" y="154.2" text-anchor="end" >6</text>
<text x="67.2" y="242.6" text-anchor="middle" >-14</text>
<text x="139.8" y="242.6" text-anchor="middle" >-12</text>
<text x="212.2" y="242.6" text-anchor="middle" >-10</text>
<text x="284.8" y="242.6" text-anchor="middle" >-2</text>
<text x="357.2" y="242.6" text-anchor="middle" >0</text>
<text x="429.8" y="242.6" text-anchor="middle" >2</text>
<text x="502.2" y="242.6" text-anchor="middle" >4</text>
<text x="283.3" y="251.2" text-anchor="middle" ><tspan font-style="italic">M</tspan><tspan font-style="italic" font-size="5.7" dy="1.3">FP</tspan></text>
<text transform="translate(15.6,191.9) rotate(-90)" text-anchor="middle" font-size="7.8">Dispersed <tspan font-style="italic">T</tspan><tspan font-style="italic" font-size="5.3" dy="1.3">FP</tspan><tspan dy="-1.3"> [a.u]</tspan></text>
<g stroke="#000" stroke-width="1.4" fill="none" stroke-dasharray="4.7 2.1">
<path d="M32.5 234.6L35 274.6"/>
<path d="M142 273L249 234.2L262 275.6"/>
<path d="M539.2 234.3L391.7 274.5"/>
</g>
<defs><linearGradient id="dg"><stop offset="0.00%" stop-color="#29798e"/><stop offset="0.26%" stop-color="#2fb47c"/><stop offset="0.51%" stop-color="#a2da37"/><stop offset="0.77%" stop-color="#d5e21a"/><stop offset="1.02%" stop-color="#90d743"/><stop offset="1.28%" stop-color="#25ab82"/><stop offset="1.54%" stop-color="#2d718e"/><stop offset="1.79%" stop-color="#423f85"/><stop offset="2.05%" stop-color="#481f70"/><stop offset="2.31%" stop-color="#471063"/><stop offset="2.56%" stop-color="#470e61"/><stop offset="2.82%" stop-color="#471164"/><stop offset="3.07%" stop-color="#471164"/><stop offset="3.33%" stop-color="#470e61"/><stop offset="3.59%" stop-color="#460b5e"/><stop offset="3.84%" stop-color="#46085c"/><stop offset="4.10%" stop-color="#46075a"/><stop offset="4.35%" stop-color="#450559"/><stop offset="4.61%" stop-color="#450559"/><stop offset="4.87%" stop-color="#450559"/><stop offset="5.12%" stop-color="#46075a"/><stop offset="5.38%" stop-color="#460a5d"/><stop offset="5.64%" stop-color="#460b5e"/><stop offset="5.89%" stop-color="#470e61"/><stop offset="6.15%" stop-color="#471063"/><stop offset="6.40%" stop-color="#470e61"/><stop offset="6.66%" stop-color="#470d60"/><stop offset="6.92%" stop-color="#471164"/><stop offset="7.17%" stop-color="#482475"/><stop offset="7.43%" stop-color="#404688"/><stop offset="7.68%" stop-color="#2c738e"/><stop offset="7.94%" stop-color="#20a386"/><stop offset="8.20%" stop-color="#4ec36b"/><stop offset="8.45%" stop-color="#58c765"/><stop offset="8.71%" stop-color="#27ad81"/><stop offset="8.97%" stop-color="#27808e"/><stop offset="9.22%" stop-color="#3b518b"/><stop offset="9.48%" stop-color="#472a7a"/><stop offset="9.73%" stop-color="#481467"/><stop offset="9.99%" stop-color="#470d60"/><stop offset="10.25%" stop-color="#470e61"/><stop offset="10.50%" stop-color="#471164"/><stop offset="10.76%" stop-color="#471063"/><stop offset="11.01%" stop-color="#470d60"/><stop offset="11.27%" stop-color="#460b5e"/><stop offset="11.53%" stop-color="#46085c"/><stop offset="11.78%" stop-color="#46075a"/><stop offset="12.04%" stop-color="#450559"/><stop offset="12.30%" stop-color="#450559"/><stop offset="12.55%" stop-color="#450559"/><stop offset="12.81%" stop-color="#46075a"/><stop offset="13.06%" stop-color="#46085c"/><stop offset="13.32%" stop-color="#460b5e"/><stop offset="13.58%" stop-color="#470e61"/><stop offset="13.83%" stop-color="#471063"/><stop offset="14.09%" stop-color="#471063"/><stop offset="14.34%" stop-color="#470e61"/><stop offset="14.60%" stop-color="#481467"/><stop offset="14.86%" stop-color="#472a7a"/><stop offset="15.11%" stop-color="#3b528b"/><stop offset="15.37%" stop-color="#24878e"/><stop offset="15.63%" stop-color="#46c06f"/><stop offset="15.88%" stop-color="#b0dd2f"/><stop offset="16.14%" stop-color="#bddf26"/><stop offset="16.39%" stop-color="#60ca60"/><stop offset="16.65%" stop-color="#1f958b"/><stop offset="16.91%" stop-color="#355f8d"/><stop offset="17.16%" stop-color="#46327e"/><stop offset="17.42%" stop-color="#48186a"/><stop offset="17.67%" stop-color="#470e61"/><stop offset="17.93%" stop-color="#471063"/><stop offset="18.19%" stop-color="#471164"/><stop offset="18.44%" stop-color="#471063"/><stop offset="18.70%" stop-color="#470d60"/><stop offset="18.96%" stop-color="#460b5e"/><stop offset="19.21%" stop-color="#46085c"/><stop offset="19.47%" stop-color="#46075a"/><stop offset="19.72%" stop-color="#450559"/><stop offset="19.98%" stop-color="#450559"/><stop offset="20.24%" stop-color="#450559"/><stop offset="20.49%" stop-color="#46075a"/><stop offset="20.75%" stop-color="#46085c"/><stop offset="21.00%" stop-color="#460b5e"/><stop offset="21.26%" stop-color="#470e61"/><stop offset="21.52%" stop-color="#471063"/><stop offset="21.77%" stop-color="#471063"/><stop offset="22.03%" stop-color="#470d60"/><stop offset="22.29%" stop-color="#471164"/><stop offset="22.54%" stop-color="#482475"/><stop offset="22.80%" stop-color="#3f4889"/><stop offset="23.05%" stop-color="#29798e"/><stop offset="23.31%" stop-color="#29af7f"/><stop offset="23.57%" stop-color="#84d44b"/><stop offset="23.82%" stop-color="#a0da39"/><stop offset="24.08%" stop-color="#5ac864"/><stop offset="24.33%" stop-color="#1f978b"/><stop offset="24.59%" stop-color="#33628d"/><stop offset="24.85%" stop-color="#453581"/><stop offset="25.10%" stop-color="#481a6c"/><stop offset="25.36%" stop-color="#470e61"/><stop offset="25.62%" stop-color="#470e61"/><stop offset="25.87%" stop-color="#471164"/><stop offset="26.13%" stop-color="#471164"/><stop offset="26.38%" stop-color="#470d60"/><stop offset="26.64%" stop-color="#460b5e"/><stop offset="26.90%" stop-color="#46085c"/><stop offset="27.15%" stop-color="#46075a"/><stop offset="27.41%" stop-color="#450559"/><stop offset="27.67%" stop-color="#450559"/><stop offset="27.92%" stop-color="#450559"/><stop offset="28.18%" stop-color="#46075a"/><stop offset="28.43%" stop-color="#46085c"/><stop offset="28.69%" stop-color="#460b5e"/><stop offset="28.95%" stop-color="#470d60"/><stop offset="29.20%" stop-color="#471063"/><stop offset="29.46%" stop-color="#471063"/><stop offset="29.71%" stop-color="#470d60"/><stop offset="29.97%" stop-color="#471063"/><stop offset="30.23%" stop-color="#481f70"/><stop offset="30.48%" stop-color="#424186"/><stop offset="30.74%" stop-color="#2c728e"/><stop offset="31.00%" stop-color="#25ac82"/><stop offset="31.25%" stop-color="#8bd646"/><stop offset="31.51%" stop-color="#c8e020"/><stop offset="31.76%" stop-color="#8ed645"/><stop offset="32.02%" stop-color="#25ac82"/><stop offset="32.28%" stop-color="#2c728e"/><stop offset="32.53%" stop-color="#424186"/><stop offset="32.79%" stop-color="#481f70"/><stop offset="33.04%" stop-color="#471063"/><stop offset="33.30%" stop-color="#470e61"/><stop offset="33.56%" stop-color="#471164"/><stop offset="33.81%" stop-color="#471164"/><stop offset="34.07%" stop-color="#470e61"/><stop offset="34.33%" stop-color="#460b5e"/><stop offset="34.58%" stop-color="#460a5d"/><stop offset="34.84%" stop-color="#46075a"/><stop offset="35.09%" stop-color="#450559"/><stop offset="35.35%" stop-color="#450559"/><stop offset="35.61%" stop-color="#450559"/><stop offset="35.86%" stop-color="#46075a"/><stop offset="36.12%" stop-color="#46085c"/><stop offset="36.37%" stop-color="#460b5e"/><stop offset="36.63%" stop-color="#470e61"/><stop offset="36.89%" stop-color="#471164"/><stop offset="37.14%" stop-color="#471063"/><stop offset="37.40%" stop-color="#470e61"/><stop offset="37.66%" stop-color="#481668"/><stop offset="37.91%" stop-color="#472d7b"/><stop offset="38.17%" stop-color="#38588c"/><stop offset="38.42%" stop-color="#21908d"/><stop offset="38.68%" stop-color="#63cb5f"/><stop offset="38.94%" stop-color="#dde318"/><stop offset="39.19%" stop-color="#ece51b"/><stop offset="39.45%" stop-color="#86d549"/><stop offset="39.70%" stop-color="#1fa088"/><stop offset="39.96%" stop-color="#32658e"/><stop offset="40.22%" stop-color="#453581"/><stop offset="40.47%" stop-color="#481a6c"/><stop offset="40.73%" stop-color="#470e61"/><stop offset="40.99%" stop-color="#471063"/><stop offset="41.24%" stop-color="#471164"/><stop offset="41.50%" stop-color="#471063"/><stop offset="41.75%" stop-color="#470d60"/><stop offset="42.01%" stop-color="#460b5e"/><stop offset="42.27%" stop-color="#460a5d"/><stop offset="42.52%" stop-color="#46075a"/><stop offset="42.78%" stop-color="#450559"/><stop offset="43.03%" stop-color="#450559"/><stop offset="43.29%" stop-color="#450559"/><stop offset="43.55%" stop-color="#46075a"/><stop offset="43.80%" stop-color="#46085c"/><stop offset="44.06%" stop-color="#460a5d"/><stop offset="44.32%" stop-color="#470d60"/><stop offset="44.57%" stop-color="#470e61"/><stop offset="44.83%" stop-color="#471063"/><stop offset="45.08%" stop-color="#470d60"/><stop offset="45.34%" stop-color="#470e61"/><stop offset="45.60%" stop-color="#481a6c"/><stop offset="45.85%" stop-color="#463480"/><stop offset="46.11%" stop-color="#33638d"/><stop offset="46.36%" stop-color="#1f9a8a"/><stop offset="46.62%" stop-color="#69cd5b"/><stop offset="46.88%" stop-color="#c0df25"/><stop offset="47.13%" stop-color="#aadc32"/><stop offset="47.39%" stop-color="#3fbc73"/><stop offset="47.65%" stop-color="#25838e"/><stop offset="47.90%" stop-color="#3c4f8a"/><stop offset="48.16%" stop-color="#482878"/><stop offset="48.41%" stop-color="#481467"/><stop offset="48.67%" stop-color="#470e61"/><stop offset="48.93%" stop-color="#471164"/><stop offset="49.18%" stop-color="#471365"/><stop offset="49.44%" stop-color="#471063"/><stop offset="49.69%" stop-color="#460b5e"/><stop offset="49.95%" stop-color="#460a5d"/><stop offset="50.21%" stop-color="#46075a"/><stop offset="50.46%" stop-color="#450559"/><stop offset="50.72%" stop-color="#450559"/><stop offset="50.98%" stop-color="#450559"/><stop offset="51.23%" stop-color="#46075a"/><stop offset="51.49%" stop-color="#46085c"/><stop offset="51.74%" stop-color="#460b5e"/><stop offset="52.00%" stop-color="#470d60"/><stop offset="52.26%" stop-color="#471063"/><stop offset="52.51%" stop-color="#471063"/><stop offset="52.77%" stop-color="#470d60"/><stop offset="53.02%" stop-color="#471063"/><stop offset="53.28%" stop-color="#481f70"/><stop offset="53.54%" stop-color="#423f85"/><stop offset="53.79%" stop-color="#2d708e"/><stop offset="54.05%" stop-color="#22a785"/><stop offset="54.31%" stop-color="#7ad151"/><stop offset="54.56%" stop-color="#b2dd2d"/><stop offset="54.82%" stop-color="#7ad151"/><stop offset="55.07%" stop-color="#22a785"/><stop offset="55.33%" stop-color="#2d708e"/><stop offset="55.59%" stop-color="#423f85"/><stop offset="55.84%" stop-color="#481f70"/><stop offset="56.10%" stop-color="#471063"/><stop offset="56.35%" stop-color="#470e61"/><stop offset="56.61%" stop-color="#471164"/><stop offset="56.87%" stop-color="#471164"/><stop offset="57.12%" stop-color="#470e61"/><stop offset="57.38%" stop-color="#460b5e"/><stop offset="57.64%" stop-color="#460a5d"/><stop offset="57.89%" stop-color="#46075a"/><stop offset="58.15%" stop-color="#450559"/><stop offset="58.40%" stop-color="#450559"/><stop offset="58.66%" stop-color="#450559"/><stop offset="58.92%" stop-color="#46075a"/><stop offset="59.17%" stop-color="#46085c"/><stop offset="59.43%" stop-color="#460a5d"/><stop offset="59.68%" stop-color="#460b5e"/><stop offset="59.94%" stop-color="#460a5d"/><stop offset="60.20%" stop-color="#460a5d"/><stop offset="60.45%" stop-color="#46085c"/><stop offset="60.71%" stop-color="#46085c"/><stop offset="60.97%" stop-color="#460b5e"/><stop offset="61.22%" stop-color="#481467"/><stop offset="61.48%" stop-color="#482374"/><stop offset="61.73%" stop-color="#46327e"/><stop offset="61.99%" stop-color="#433e85"/><stop offset="62.25%" stop-color="#424086"/><stop offset="62.50%" stop-color="#443983"/><stop offset="62.76%" stop-color="#472a7a"/><stop offset="63.01%" stop-color="#481b6d"/><stop offset="63.27%" stop-color="#470e61"/><stop offset="63.53%" stop-color="#46085c"/><stop offset="63.78%" stop-color="#46075a"/><stop offset="64.04%" stop-color="#46075a"/><stop offset="64.30%" stop-color="#46085c"/><stop offset="64.55%" stop-color="#460a5d"/><stop offset="64.81%" stop-color="#460b5e"/><stop offset="65.06%" stop-color="#460a5d"/><stop offset="65.32%" stop-color="#460a5d"/><stop offset="65.58%" stop-color="#46075a"/><stop offset="65.83%" stop-color="#450559"/><stop offset="66.09%" stop-color="#450559"/><stop offset="66.34%" stop-color="#450559"/><stop offset="66.60%" stop-color="#46075a"/><stop offset="66.86%" stop-color="#46085c"/><stop offset="67.11%" stop-color="#460b5e"/><stop offset="67.37%" stop-color="#470e61"/><stop offset="67.63%" stop-color="#471063"/><stop offset="67.88%" stop-color="#471063"/><stop offset="68.14%" stop-color="#470e61"/><stop offset="68.39%" stop-color="#471365"/><stop offset="68.65%" stop-color="#482475"/><stop offset="68.91%" stop-color="#3e4989"/><stop offset="69.16%" stop-color="#287d8e"/><stop offset="69.42%" stop-color="#35b779"/><stop offset="69.67%" stop-color="#a8db34"/><stop offset="69.93%" stop-color="#d2e21b"/><stop offset="70.19%" stop-color="#89d548"/><stop offset="70.44%" stop-color="#21a685"/><stop offset="70.70%" stop-color="#2e6d8e"/><stop offset="70.96%" stop-color="#443b84"/><stop offset="71.21%" stop-color="#481c6e"/><stop offset="71.47%" stop-color="#471063"/><stop offset="71.72%" stop-color="#470e61"/><stop offset="71.98%" stop-color="#471164"/><stop offset="72.24%" stop-color="#471164"/><stop offset="72.49%" stop-color="#470e61"/><stop offset="72.75%" stop-color="#460b5e"/><stop offset="73.00%" stop-color="#460a5d"/><stop offset="73.26%" stop-color="#46085c"/><stop offset="73.52%" stop-color="#46075a"/><stop offset="73.77%" stop-color="#450559"/><stop offset="74.03%" stop-color="#450559"/><stop offset="74.29%" stop-color="#46075a"/><stop offset="74.54%" stop-color="#46085c"/><stop offset="74.80%" stop-color="#460a5d"/><stop offset="75.05%" stop-color="#470d60"/><stop offset="75.31%" stop-color="#471063"/><stop offset="75.57%" stop-color="#471063"/><stop offset="75.82%" stop-color="#470e61"/><stop offset="76.08%" stop-color="#471063"/><stop offset="76.33%" stop-color="#481f70"/><stop offset="76.59%" stop-color="#423f85"/><stop offset="76.85%" stop-color="#2d718e"/><stop offset="77.10%" stop-color="#25ab82"/><stop offset="77.36%" stop-color="#90d743"/><stop offset="77.62%" stop-color="#d5e21a"/><stop offset="77.87%" stop-color="#a2da37"/><stop offset="78.13%" stop-color="#2fb47c"/><stop offset="78.38%" stop-color="#29798e"/><stop offset="78.64%" stop-color="#404688"/><stop offset="78.90%" stop-color="#482173"/><stop offset="79.15%" stop-color="#471164"/><stop offset="79.41%" stop-color="#470e61"/><stop offset="79.67%" stop-color="#471164"/><stop offset="79.92%" stop-color="#471164"/><stop offset="80.18%" stop-color="#470e61"/><stop offset="80.43%" stop-color="#460b5e"/><stop offset="80.69%" stop-color="#460a5d"/><stop offset="80.95%" stop-color="#46085c"/><stop offset="81.20%" stop-color="#46075a"/><stop offset="81.46%" stop-color="#450559"/><stop offset="81.71%" stop-color="#450559"/><stop offset="81.97%" stop-color="#46075a"/><stop offset="82.23%" stop-color="#46085c"/><stop offset="82.48%" stop-color="#460a5d"/><stop offset="82.74%" stop-color="#470d60"/><stop offset="83.00%" stop-color="#471063"/><stop offset="83.25%" stop-color="#471063"/><stop offset="83.51%" stop-color="#470e61"/><stop offset="83.76%" stop-color="#471063"/><stop offset="84.02%" stop-color="#481c6e"/><stop offset="84.28%" stop-color="#433d84"/><stop offset="84.53%" stop-color="#2e6f8e"/><stop offset="84.79%" stop-color="#25ac82"/><stop offset="85.04%" stop-color="#a5db36"/><stop offset="85.30%" stop-color="#fde725"/><stop offset="85.56%" stop-color="#dfe318"/><stop offset="85.81%" stop-color="#58c765"/><stop offset="86.07%" stop-color="#238a8d"/><stop offset="86.33%" stop-color="#3b528b"/><stop offset="86.58%" stop-color="#482979"/><stop offset="86.84%" stop-color="#481467"/><stop offset="87.09%" stop-color="#470e61"/><stop offset="87.35%" stop-color="#471164"/><stop offset="87.61%" stop-color="#471365"/><stop offset="87.86%" stop-color="#471063"/><stop offset="88.12%" stop-color="#460b5e"/><stop offset="88.37%" stop-color="#460a5d"/><stop offset="88.63%" stop-color="#46085c"/><stop offset="88.89%" stop-color="#46075a"/><stop offset="89.14%" stop-color="#450559"/><stop offset="89.40%" stop-color="#450559"/><stop offset="89.66%" stop-color="#46075a"/><stop offset="89.91%" stop-color="#46085c"/><stop offset="90.17%" stop-color="#460a5d"/><stop offset="90.42%" stop-color="#470d60"/><stop offset="90.68%" stop-color="#471063"/><stop offset="90.94%" stop-color="#471063"/><stop offset="91.19%" stop-color="#470e61"/><stop offset="91.45%" stop-color="#470e61"/><stop offset="91.70%" stop-color="#481a6c"/><stop offset="91.96%" stop-color="#453781"/><stop offset="92.22%" stop-color="#32648e"/><stop offset="92.47%" stop-color="#1e9b8a"/><stop offset="92.73%" stop-color="#67cc5c"/><stop offset="92.99%" stop-color="#b5de2b"/><stop offset="93.24%" stop-color="#95d840"/><stop offset="93.50%" stop-color="#32b67a"/><stop offset="93.75%" stop-color="#287d8e"/><stop offset="94.01%" stop-color="#3e4a89"/><stop offset="94.27%" stop-color="#482576"/><stop offset="94.52%" stop-color="#471365"/><stop offset="94.78%" stop-color="#470e61"/><stop offset="95.03%" stop-color="#471164"/><stop offset="95.29%" stop-color="#471164"/><stop offset="95.55%" stop-color="#470e61"/><stop offset="95.80%" stop-color="#460b5e"/><stop offset="96.06%" stop-color="#46085c"/><stop offset="96.32%" stop-color="#450559"/><stop offset="96.57%" stop-color="#450457"/><stop offset="96.83%" stop-color="#440256"/><stop offset="97.08%" stop-color="#440256"/><stop offset="97.34%" stop-color="#440256"/><stop offset="97.60%" stop-color="#450457"/><stop offset="97.85%" stop-color="#450457"/><stop offset="98.11%" stop-color="#450559"/><stop offset="98.36%" stop-color="#450457"/><stop offset="98.62%" stop-color="#440256"/><stop offset="98.88%" stop-color="#440154"/><stop offset="99.13%" stop-color="#440154"/><stop offset="99.39%" stop-color="#440154"/><stop offset="99.65%" stop-color="#440154"/><stop offset="99.90%" stop-color="#440154"/></linearGradient></defs>
<rect x="31" y="276.8" width="507.5" height="39" fill="url(#dg)"/>
<rect x="31" y="276.8" width="507.5" height="39" fill="none" stroke="#222" stroke-width="0.5" stroke-opacity="0.7"/>
<path d="M69.8 276.8v-2.6M147.9 276.8v-2.6M226 276.8v-2.6M304.2 276.8v-2.6M382.3 276.8v-2.6M460.4 276.8v-2.6M538.5 276.8v-2.6" stroke="#505050" stroke-width="0.95"/>
<text x="69.8" y="269.7" text-anchor="middle" >800</text>
<text x="147.9" y="269.7" text-anchor="middle" >700</text>
<text x="226" y="269.7" text-anchor="middle" >600</text>
<text x="304.2" y="269.7" text-anchor="middle" >500</text>
<text x="382.3" y="269.7" text-anchor="middle" >400</text>
<text x="460.4" y="269.7" text-anchor="middle" >300</text>
<text x="538.5" y="269.7" text-anchor="middle" >200</text>
<text x="307.7" y="261.3" text-anchor="middle" font-size="7.75">Detector array [pixels]</text>
<defs><clipPath id="ce"><rect x="31" y="318.2" width="507.5" height="39.1"/></clipPath></defs>
<g clip-path="url(#ce)">
<g fill="#1f77b4"><circle cx="31" cy="333.1" r="1.55"/><circle cx="31.9" cy="329.9" r="1.55"/><circle cx="32.7" cy="326.4" r="1.55"/><circle cx="33.6" cy="323.7" r="1.55"/><circle cx="34.4" cy="322" r="1.55"/><circle cx="35.3" cy="322.3" r="1.55"/><circle cx="36.1" cy="323.9" r="1.55"/><circle cx="37" cy="326.8" r="1.55"/><circle cx="37.8" cy="329.8" r="1.55"/><circle cx="38.7" cy="333.3" r="1.55"/><circle cx="39.5" cy="336.5" r="1.55"/><circle cx="40.4" cy="339.7" r="1.55"/><circle cx="41.2" cy="342.5" r="1.55"/><circle cx="42.1" cy="345.1" r="1.55"/><circle cx="42.9" cy="347.1" r="1.55"/><circle cx="43.8" cy="348.2" r="1.55"/><circle cx="44.6" cy="347.9" r="1.55"/><circle cx="45.5" cy="348.1" r="1.55"/><circle cx="46.3" cy="348.3" r="1.55"/><circle cx="47.2" cy="348.5" r="1.55"/><circle cx="48" cy="348.8" r="1.55"/><circle cx="48.9" cy="348.7" r="1.55"/><circle cx="49.7" cy="348.9" r="1.55"/><circle cx="50.6" cy="348.9" r="1.55"/><circle cx="51.4" cy="348.9" r="1.55"/><circle cx="52.3" cy="349.2" r="1.55"/><circle cx="53.1" cy="349.2" r="1.55"/><circle cx="54" cy="349.3" r="1.55"/><circle cx="54.8" cy="349.4" r="1.55"/><circle cx="55.7" cy="349.6" r="1.55"/><circle cx="56.5" cy="349.3" r="1.55"/><circle cx="57.4" cy="348.9" r="1.55"/><circle cx="58.2" cy="349" r="1.55"/><circle cx="59.1" cy="348.8" r="1.55"/><circle cx="59.9" cy="348.7" r="1.55"/><circle cx="60.8" cy="348.2" r="1.55"/><circle cx="61.6" cy="348.1" r="1.55"/><circle cx="62.5" cy="348.4" r="1.55"/><circle cx="63.3" cy="348.4" r="1.55"/><circle cx="64.2" cy="348.1" r="1.55"/><circle cx="65" cy="347.9" r="1.55"/><circle cx="65.9" cy="346.7" r="1.55"/><circle cx="66.7" cy="344.7" r="1.55"/><circle cx="67.6" cy="342.5" r="1.55"/><circle cx="68.4" cy="340.1" r="1.55"/><circle cx="69.3" cy="337.1" r="1.55"/><circle cx="70.1" cy="334.9" r="1.55"/><circle cx="71" cy="332.6" r="1.55"/><circle cx="71.8" cy="329.8" r="1.55"/><circle cx="72.7" cy="327.9" r="1.55"/><circle cx="73.5" cy="327.1" r="1.55"/><circle cx="74.4" cy="328.2" r="1.55"/><circle cx="75.2" cy="330.5" r="1.55"/><circle cx="76.1" cy="332.8" r="1.55"/><circle cx="76.9" cy="335.7" r="1.55"/><circle cx="77.8" cy="338.2" r="1.55"/><circle cx="78.6" cy="340.6" r="1.55"/><circle cx="79.5" cy="343.3" r="1.55"/><circle cx="80.3" cy="345.7" r="1.55"/><circle cx="81.2" cy="347.2" r="1.55"/><circle cx="82" cy="348.2" r="1.55"/><circle cx="82.9" cy="348.2" r="1.55"/><circle cx="83.7" cy="348.3" r="1.55"/><circle cx="84.6" cy="348.2" r="1.55"/><circle cx="85.4" cy="348.4" r="1.55"/><circle cx="86.3" cy="348.5" r="1.55"/><circle cx="87.1" cy="348.8" r="1.55"/><circle cx="88" cy="348.7" r="1.55"/><circle cx="88.8" cy="348.9" r="1.55"/><circle cx="89.7" cy="348.8" r="1.55"/><circle cx="90.5" cy="349" r="1.55"/><circle cx="91.4" cy="349.2" r="1.55"/><circle cx="92.2" cy="349.4" r="1.55"/><circle cx="93.1" cy="349.2" r="1.55"/><circle cx="93.9" cy="349.1" r="1.55"/><circle cx="94.8" cy="349" r="1.55"/><circle cx="95.6" cy="349.2" r="1.55"/><circle cx="96.5" cy="349.3" r="1.55"/><circle cx="97.3" cy="349.2" r="1.55"/><circle cx="98.2" cy="349" r="1.55"/><circle cx="99" cy="348.7" r="1.55"/><circle cx="99.9" cy="348.5" r="1.55"/><circle cx="100.7" cy="348.4" r="1.55"/><circle cx="101.6" cy="348.3" r="1.55"/><circle cx="102.4" cy="348.2" r="1.55"/><circle cx="103.3" cy="348.4" r="1.55"/><circle cx="104.1" cy="347.5" r="1.55"/><circle cx="105" cy="345.9" r="1.55"/><circle cx="105.8" cy="343.5" r="1.55"/><circle cx="106.7" cy="340.8" r="1.55"/><circle cx="107.5" cy="338" r="1.55"/><circle cx="108.4" cy="334.5" r="1.55"/><circle cx="109.2" cy="331.4" r="1.55"/><circle cx="110.1" cy="328.2" r="1.55"/><circle cx="110.9" cy="325.1" r="1.55"/><circle cx="111.8" cy="323" r="1.55"/><circle cx="112.6" cy="322.4" r="1.55"/><circle cx="113.5" cy="323.7" r="1.55"/><circle cx="114.3" cy="326.6" r="1.55"/><circle cx="115.2" cy="329.7" r="1.55"/><circle cx="116" cy="332.6" r="1.55"/><circle cx="116.9" cy="336.1" r="1.55"/><circle cx="117.7" cy="338.7" r="1.55"/><circle cx="118.6" cy="342.2" r="1.55"/><circle cx="119.4" cy="344.7" r="1.55"/><circle cx="120.3" cy="346.8" r="1.55"/><circle cx="121.1" cy="347.9" r="1.55"/><circle cx="122" cy="348.4" r="1.55"/><circle cx="122.8" cy="348.1" r="1.55"/><circle cx="123.7" cy="347.9" r="1.55"/><circle cx="124.5" cy="348.4" r="1.55"/><circle cx="125.4" cy="348.8" r="1.55"/><circle cx="126.2" cy="348.6" r="1.55"/><circle cx="127.1" cy="348.7" r="1.55"/><circle cx="127.9" cy="348.8" r="1.55"/><circle cx="128.8" cy="349.1" r="1.55"/><circle cx="129.6" cy="349" r="1.55"/><circle cx="130.5" cy="349" r="1.55"/><circle cx="131.3" cy="349.3" r="1.55"/><circle cx="132.2" cy="349.3" r="1.55"/><circle cx="133" cy="349.2" r="1.55"/><circle cx="133.9" cy="349.1" r="1.55"/><circle cx="134.7" cy="349.2" r="1.55"/><circle cx="135.6" cy="349" r="1.55"/><circle cx="136.4" cy="348.6" r="1.55"/><circle cx="137.3" cy="348.5" r="1.55"/><circle cx="138.1" cy="348.8" r="1.55"/><circle cx="139" cy="348.2" r="1.55"/><circle cx="139.8" cy="348.4" r="1.55"/><circle cx="140.7" cy="348.1" r="1.55"/><circle cx="141.5" cy="348.5" r="1.55"/><circle cx="142.4" cy="348.3" r="1.55"/><circle cx="143.2" cy="347.8" r="1.55"/><circle cx="144.1" cy="346.2" r="1.55"/><circle cx="144.9" cy="344.1" r="1.55"/><circle cx="145.8" cy="341.5" r="1.55"/><circle cx="146.6" cy="338.7" r="1.55"/><circle cx="147.5" cy="335.7" r="1.55"/><circle cx="148.3" cy="332.6" r="1.55"/><circle cx="149.2" cy="329.7" r="1.55"/><circle cx="150" cy="326.9" r="1.55"/><circle cx="150.9" cy="324.8" r="1.55"/><circle cx="151.7" cy="324.1" r="1.55"/><circle cx="152.6" cy="325.1" r="1.55"/><circle cx="153.4" cy="327.4" r="1.55"/><circle cx="154.3" cy="330.2" r="1.55"/><circle cx="155.1" cy="333.4" r="1.55"/><circle cx="156" cy="336.1" r="1.55"/><circle cx="156.8" cy="339.2" r="1.55"/><circle cx="157.7" cy="342.2" r="1.55"/><circle cx="158.5" cy="344.7" r="1.55"/><circle cx="159.4" cy="346.7" r="1.55"/><circle cx="160.2" cy="348.2" r="1.55"/><circle cx="161.1" cy="348.1" r="1.55"/><circle cx="161.9" cy="348.2" r="1.55"/><circle cx="162.8" cy="348.4" r="1.55"/><circle cx="163.6" cy="348.1" r="1.55"/><circle cx="164.5" cy="348.6" r="1.55"/><circle cx="165.3" cy="348.7" r="1.55"/><circle cx="166.2" cy="349.1" r="1.55"/><circle cx="167" cy="348.9" r="1.55"/><circle cx="167.9" cy="348.9" r="1.55"/><circle cx="168.7" cy="349.2" r="1.55"/><circle cx="169.6" cy="349.2" r="1.55"/><circle cx="170.4" cy="349.5" r="1.55"/><circle cx="171.3" cy="349.2" r="1.55"/><circle cx="172.1" cy="349.3" r="1.55"/><circle cx="173" cy="349.2" r="1.55"/><circle cx="173.8" cy="349" r="1.55"/><circle cx="174.7" cy="348.9" r="1.55"/><circle cx="175.5" cy="349" r="1.55"/><circle cx="176.4" cy="348.7" r="1.55"/><circle cx="177.2" cy="348.4" r="1.55"/><circle cx="178.1" cy="348.7" r="1.55"/><circle cx="178.9" cy="348.4" r="1.55"/><circle cx="179.8" cy="348.6" r="1.55"/><circle cx="180.6" cy="348.3" r="1.55"/><circle cx="181.5" cy="348.1" r="1.55"/><circle cx="182.3" cy="347.9" r="1.55"/><circle cx="183.2" cy="346.8" r="1.55"/><circle cx="184" cy="344.5" r="1.55"/><circle cx="184.9" cy="341.7" r="1.55"/><circle cx="185.7" cy="339" r="1.55"/><circle cx="186.6" cy="335.9" r="1.55"/><circle cx="187.4" cy="332.4" r="1.55"/><circle cx="188.3" cy="329.5" r="1.55"/><circle cx="189.1" cy="326.1" r="1.55"/><circle cx="190" cy="323.8" r="1.55"/><circle cx="190.8" cy="322.7" r="1.55"/><circle cx="191.7" cy="323" r="1.55"/><circle cx="192.5" cy="325.3" r="1.55"/><circle cx="193.4" cy="328.6" r="1.55"/><circle cx="194.2" cy="331.3" r="1.55"/><circle cx="195.1" cy="334.9" r="1.55"/><circle cx="195.9" cy="337.9" r="1.55"/><circle cx="196.8" cy="341" r="1.55"/><circle cx="197.6" cy="344" r="1.55"/><circle cx="198.5" cy="346" r="1.55"/><circle cx="199.3" cy="347.6" r="1.55"/><circle cx="200.2" cy="348" r="1.55"/><circle cx="201" cy="348.1" r="1.55"/><circle cx="201.9" cy="348.2" r="1.55"/><circle cx="202.7" cy="347.8" r="1.55"/><circle cx="203.6" cy="348.3" r="1.55"/><circle cx="204.4" cy="348.6" r="1.55"/><circle cx="205.3" cy="348.6" r="1.55"/><circle cx="206.1" cy="349.1" r="1.55"/><circle cx="207" cy="348.9" r="1.55"/><circle cx="207.8" cy="348.7" r="1.55"/><circle cx="208.7" cy="349.3" r="1.55"/><circle cx="209.5" cy="349.1" r="1.55"/><circle cx="210.4" cy="349.4" r="1.55"/><circle cx="211.2" cy="349.2" r="1.55"/><circle cx="212.1" cy="349" r="1.55"/><circle cx="212.9" cy="349.3" r="1.55"/><circle cx="213.8" cy="349.1" r="1.55"/><circle cx="214.6" cy="348.7" r="1.55"/><circle cx="215.5" cy="348.7" r="1.55"/><circle cx="216.3" cy="348.5" r="1.55"/><circle cx="217.2" cy="348.3" r="1.55"/><circle cx="218" cy="348.4" r="1.55"/><circle cx="218.9" cy="348.5" r="1.55"/><circle cx="219.7" cy="348.5" r="1.55"/><circle cx="220.6" cy="347.8" r="1.55"/><circle cx="221.4" cy="347" r="1.55"/><circle cx="222.3" cy="345" r="1.55"/><circle cx="223.1" cy="342.1" r="1.55"/><circle cx="224" cy="338.9" r="1.55"/><circle cx="224.8" cy="335.5" r="1.55"/><circle cx="225.7" cy="332.4" r="1.55"/><circle cx="226.5" cy="328.5" r="1.55"/><circle cx="227.4" cy="325.4" r="1.55"/><circle cx="228.2" cy="322.2" r="1.55"/><circle cx="229.1" cy="320.5" r="1.55"/><circle cx="229.9" cy="320.8" r="1.55"/><circle cx="230.8" cy="322.6" r="1.55"/><circle cx="231.6" cy="325.7" r="1.55"/><circle cx="232.5" cy="329" r="1.55"/><circle cx="233.3" cy="332.3" r="1.55"/><circle cx="234.2" cy="335.7" r="1.55"/><circle cx="235" cy="339.2" r="1.55"/><circle cx="235.9" cy="342.4" r="1.55"/><circle cx="236.7" cy="345.3" r="1.55"/><circle cx="237.6" cy="347.4" r="1.55"/><circle cx="238.4" cy="348" r="1.55"/><circle cx="239.3" cy="348.4" r="1.55"/><circle cx="240.1" cy="348.2" r="1.55"/><circle cx="241" cy="348.3" r="1.55"/><circle cx="241.8" cy="348.3" r="1.55"/><circle cx="242.7" cy="348.6" r="1.55"/><circle cx="243.5" cy="348.3" r="1.55"/><circle cx="244.4" cy="348.7" r="1.55"/><circle cx="245.2" cy="349" r="1.55"/><circle cx="246.1" cy="348.9" r="1.55"/><circle cx="246.9" cy="348.9" r="1.55"/><circle cx="247.8" cy="349.4" r="1.55"/><circle cx="248.6" cy="349.2" r="1.55"/><circle cx="249.5" cy="349.3" r="1.55"/><circle cx="250.3" cy="349.2" r="1.55"/><circle cx="251.2" cy="349.3" r="1.55"/><circle cx="252" cy="349.1" r="1.55"/><circle cx="252.9" cy="348.9" r="1.55"/><circle cx="253.7" cy="348.8" r="1.55"/><circle cx="254.6" cy="349.1" r="1.55"/><circle cx="255.4" cy="348.6" r="1.55"/><circle cx="256.3" cy="348.6" r="1.55"/><circle cx="257.1" cy="348.5" r="1.55"/><circle cx="258" cy="348.3" r="1.55"/><circle cx="258.8" cy="348.1" r="1.55"/><circle cx="259.7" cy="348.4" r="1.55"/><circle cx="260.5" cy="348.2" r="1.55"/><circle cx="261.4" cy="346.9" r="1.55"/><circle cx="262.2" cy="345" r="1.55"/><circle cx="263.1" cy="342.3" r="1.55"/><circle cx="263.9" cy="339.4" r="1.55"/><circle cx="264.8" cy="336.1" r="1.55"/><circle cx="265.6" cy="333.3" r="1.55"/><circle cx="266.5" cy="330" r="1.55"/><circle cx="267.3" cy="326.6" r="1.55"/><circle cx="268.2" cy="323.8" r="1.55"/><circle cx="269" cy="322.5" r="1.55"/><circle cx="269.9" cy="322.6" r="1.55"/><circle cx="270.7" cy="324.7" r="1.55"/><circle cx="271.6" cy="327.7" r="1.55"/><circle cx="272.4" cy="331.2" r="1.55"/><circle cx="273.3" cy="333.8" r="1.55"/><circle cx="274.1" cy="337.1" r="1.55"/><circle cx="275" cy="340.7" r="1.55"/><circle cx="275.8" cy="343.1" r="1.55"/><circle cx="276.7" cy="345.7" r="1.55"/><circle cx="277.5" cy="347.5" r="1.55"/><circle cx="278.4" cy="348.1" r="1.55"/><circle cx="279.2" cy="348" r="1.55"/><circle cx="280.1" cy="348.1" r="1.55"/><circle cx="280.9" cy="348.2" r="1.55"/><circle cx="281.8" cy="348.4" r="1.55"/><circle cx="282.6" cy="348.6" r="1.55"/><circle cx="283.5" cy="348.7" r="1.55"/><circle cx="284.3" cy="349.2" r="1.55"/><circle cx="285.2" cy="349.2" r="1.55"/><circle cx="286" cy="349.1" r="1.55"/><circle cx="286.9" cy="349.4" r="1.55"/><circle cx="287.7" cy="349.2" r="1.55"/><circle cx="288.6" cy="349.3" r="1.55"/><circle cx="289.4" cy="349.2" r="1.55"/><circle cx="290.3" cy="349.2" r="1.55"/><circle cx="291.1" cy="349" r="1.55"/><circle cx="292" cy="349" r="1.55"/><circle cx="292.8" cy="348.8" r="1.55"/><circle cx="293.7" cy="348.8" r="1.55"/><circle cx="294.5" cy="348.9" r="1.55"/><circle cx="295.4" cy="348.5" r="1.55"/><circle cx="296.2" cy="348.3" r="1.55"/><circle cx="297.1" cy="348.3" r="1.55"/><circle cx="297.9" cy="348.1" r="1.55"/><circle cx="298.8" cy="348.1" r="1.55"/><circle cx="299.6" cy="347.3" r="1.55"/><circle cx="300.5" cy="346.1" r="1.55"/><circle cx="301.3" cy="343.8" r="1.55"/><circle cx="302.2" cy="340.9" r="1.55"/><circle cx="303" cy="337.8" r="1.55"/><circle cx="303.9" cy="335.1" r="1.55"/><circle cx="304.7" cy="331.9" r="1.55"/><circle cx="305.6" cy="328.8" r="1.55"/><circle cx="306.4" cy="326" r="1.55"/><circle cx="307.3" cy="323.7" r="1.55"/><circle cx="308.1" cy="323.2" r="1.55"/><circle cx="309" cy="324.6" r="1.55"/><circle cx="309.8" cy="327.3" r="1.55"/><circle cx="310.7" cy="330.2" r="1.55"/><circle cx="311.5" cy="333.6" r="1.55"/><circle cx="312.4" cy="336.3" r="1.55"/><circle cx="313.2" cy="339.6" r="1.55"/><circle cx="314.1" cy="342.3" r="1.55"/><circle cx="314.9" cy="344.7" r="1.55"/><circle cx="315.8" cy="346.9" r="1.55"/><circle cx="316.6" cy="347.9" r="1.55"/><circle cx="317.5" cy="348.4" r="1.55"/><circle cx="318.3" cy="347.8" r="1.55"/><circle cx="319.2" cy="348.4" r="1.55"/><circle cx="320" cy="348.4" r="1.55"/><circle cx="320.9" cy="348.6" r="1.55"/><circle cx="321.7" cy="348.3" r="1.55"/><circle cx="322.6" cy="348.9" r="1.55"/><circle cx="323.4" cy="349" r="1.55"/><circle cx="324.3" cy="349" r="1.55"/><circle cx="325.1" cy="349.5" r="1.55"/><circle cx="326" cy="349.1" r="1.55"/><circle cx="326.8" cy="349.3" r="1.55"/><circle cx="327.7" cy="349.1" r="1.55"/><circle cx="328.5" cy="349.1" r="1.55"/><circle cx="329.4" cy="349.2" r="1.55"/><circle cx="330.2" cy="349.1" r="1.55"/><circle cx="331.1" cy="349.3" r="1.55"/><circle cx="331.9" cy="349.2" r="1.55"/><circle cx="332.8" cy="349" r="1.55"/><circle cx="333.6" cy="348.9" r="1.55"/><circle cx="334.5" cy="349" r="1.55"/><circle cx="335.3" cy="348.9" r="1.55"/><circle cx="336.2" cy="349" r="1.55"/><circle cx="337" cy="348.8" r="1.55"/><circle cx="337.9" cy="349.2" r="1.55"/><circle cx="338.7" cy="349.3" r="1.55"/><circle cx="339.6" cy="349.1" r="1.55"/><circle cx="340.4" cy="348.9" r="1.55"/><circle cx="341.3" cy="348.5" r="1.55"/><circle cx="342.1" cy="347.7" r="1.55"/><circle cx="343" cy="347.2" r="1.55"/><circle cx="343.8" cy="346" r="1.55"/><circle cx="344.7" cy="344.9" r="1.55"/><circle cx="345.5" cy="344.2" r="1.55"/><circle cx="346.4" cy="344.3" r="1.55"/><circle cx="347.2" cy="344.3" r="1.55"/><circle cx="348.1" cy="344.6" r="1.55"/><circle cx="348.9" cy="345.6" r="1.55"/><circle cx="349.8" cy="346.5" r="1.55"/><circle cx="350.6" cy="347.5" r="1.55"/><circle cx="351.5" cy="348.1" r="1.55"/><circle cx="352.3" cy="348.8" r="1.55"/><circle cx="353.2" cy="349.2" r="1.55"/><circle cx="354" cy="349.3" r="1.55"/><circle cx="354.9" cy="349.1" r="1.55"/><circle cx="355.7" cy="349.2" r="1.55"/><circle cx="356.6" cy="349.5" r="1.55"/><circle cx="357.4" cy="349.5" r="1.55"/><circle cx="358.3" cy="348.9" r="1.55"/><circle cx="359.1" cy="349.3" r="1.55"/><circle cx="360" cy="348.9" r="1.55"/><circle cx="360.8" cy="349.1" r="1.55"/><circle cx="361.7" cy="349" r="1.55"/><circle cx="362.5" cy="349.2" r="1.55"/><circle cx="363.4" cy="349.5" r="1.55"/><circle cx="364.2" cy="349" r="1.55"/><circle cx="365.1" cy="349.3" r="1.55"/><circle cx="365.9" cy="349.4" r="1.55"/><circle cx="366.8" cy="349.1" r="1.55"/><circle cx="367.6" cy="349.2" r="1.55"/><circle cx="368.5" cy="349.1" r="1.55"/><circle cx="369.3" cy="349.2" r="1.55"/><circle cx="370.2" cy="349" r="1.55"/><circle cx="371" cy="348.9" r="1.55"/><circle cx="371.9" cy="348.9" r="1.55"/><circle cx="372.7" cy="348.5" r="1.55"/><circle cx="373.6" cy="348.4" r="1.55"/><circle cx="374.4" cy="348.4" r="1.55"/><circle cx="375.3" cy="348.4" r="1.55"/><circle cx="376.1" cy="348.1" r="1.55"/><circle cx="377" cy="347.9" r="1.55"/><circle cx="377.8" cy="346.7" r="1.55"/><circle cx="378.7" cy="344.7" r="1.55"/><circle cx="379.5" cy="342.1" r="1.55"/><circle cx="380.4" cy="339.6" r="1.55"/><circle cx="381.2" cy="335.9" r="1.55"/><circle cx="382.1" cy="332.5" r="1.55"/><circle cx="382.9" cy="329.5" r="1.55"/><circle cx="383.8" cy="326.3" r="1.55"/><circle cx="384.6" cy="323.3" r="1.55"/><circle cx="385.5" cy="322.1" r="1.55"/><circle cx="386.3" cy="322.1" r="1.55"/><circle cx="387.2" cy="324.3" r="1.55"/><circle cx="388" cy="327.1" r="1.55"/><circle cx="388.9" cy="330.6" r="1.55"/><circle cx="389.7" cy="333.9" r="1.55"/><circle cx="390.6" cy="337.1" r="1.55"/><circle cx="391.4" cy="340.5" r="1.55"/><circle cx="392.3" cy="343.3" r="1.55"/><circle cx="393.1" cy="345.5" r="1.55"/><circle cx="394" cy="347.5" r="1.55"/><circle cx="394.8" cy="348.3" r="1.55"/><circle cx="395.7" cy="348.1" r="1.55"/><circle cx="396.5" cy="347.9" r="1.55"/><circle cx="397.4" cy="348.2" r="1.55"/><circle cx="398.2" cy="348.4" r="1.55"/><circle cx="399.1" cy="348.5" r="1.55"/><circle cx="399.9" cy="348.6" r="1.55"/><circle cx="400.8" cy="349" r="1.55"/><circle cx="401.6" cy="348.8" r="1.55"/><circle cx="402.5" cy="348.9" r="1.55"/><circle cx="403.3" cy="348.9" r="1.55"/><circle cx="404.2" cy="349" r="1.55"/><circle cx="405" cy="349.1" r="1.55"/><circle cx="405.9" cy="348.9" r="1.55"/><circle cx="406.7" cy="349.2" r="1.55"/><circle cx="407.6" cy="349.2" r="1.55"/><circle cx="408.4" cy="348.8" r="1.55"/><circle cx="409.3" cy="348.9" r="1.55"/><circle cx="410.1" cy="348.9" r="1.55"/><circle cx="411" cy="348.8" r="1.55"/><circle cx="411.8" cy="348.6" r="1.55"/><circle cx="412.7" cy="348.6" r="1.55"/><circle cx="413.5" cy="348.1" r="1.55"/><circle cx="414.4" cy="348.2" r="1.55"/><circle cx="415.2" cy="348.1" r="1.55"/><circle cx="416.1" cy="348.2" r="1.55"/><circle cx="416.9" cy="347.2" r="1.55"/><circle cx="417.8" cy="345.4" r="1.55"/><circle cx="418.6" cy="342.6" r="1.55"/><circle cx="419.5" cy="339.7" r="1.55"/><circle cx="420.3" cy="336.5" r="1.55"/><circle cx="421.2" cy="333.3" r="1.55"/><circle cx="422" cy="330.3" r="1.55"/><circle cx="422.9" cy="326.8" r="1.55"/><circle cx="423.7" cy="323.9" r="1.55"/><circle cx="424.6" cy="322.1" r="1.55"/><circle cx="425.4" cy="321.9" r="1.55"/><circle cx="426.3" cy="324" r="1.55"/><circle cx="427.1" cy="326.7" r="1.55"/><circle cx="428" cy="329.9" r="1.55"/><circle cx="428.8" cy="333.3" r="1.55"/><circle cx="429.7" cy="336.6" r="1.55"/><circle cx="430.5" cy="339.4" r="1.55"/><circle cx="431.4" cy="342.4" r="1.55"/><circle cx="432.2" cy="344.9" r="1.55"/><circle cx="433.1" cy="347.2" r="1.55"/><circle cx="433.9" cy="348.4" r="1.55"/><circle cx="434.8" cy="348.1" r="1.55"/><circle cx="435.6" cy="348.2" r="1.55"/><circle cx="436.5" cy="348.3" r="1.55"/><circle cx="437.3" cy="348.2" r="1.55"/><circle cx="438.2" cy="348.5" r="1.55"/><circle cx="439" cy="348.9" r="1.55"/><circle cx="439.9" cy="348.8" r="1.55"/><circle cx="440.7" cy="349.2" r="1.55"/><circle cx="441.6" cy="348.9" r="1.55"/><circle cx="442.4" cy="349.3" r="1.55"/><circle cx="443.3" cy="349.4" r="1.55"/><circle cx="444.1" cy="349.1" r="1.55"/><circle cx="445" cy="349.1" r="1.55"/><circle cx="445.8" cy="349.3" r="1.55"/><circle cx="446.7" cy="349.3" r="1.55"/><circle cx="447.5" cy="349" r="1.55"/><circle cx="448.4" cy="348.9" r="1.55"/><circle cx="449.2" cy="348.8" r="1.55"/><circle cx="450.1" cy="348.8" r="1.55"/><circle cx="450.9" cy="348.8" r="1.55"/><circle cx="451.8" cy="348.5" r="1.55"/><circle cx="452.6" cy="348.1" r="1.55"/><circle cx="453.5" cy="348.3" r="1.55"/><circle cx="454.3" cy="348.3" r="1.55"/><circle cx="455.2" cy="348.1" r="1.55"/><circle cx="456" cy="347" r="1.55"/><circle cx="456.9" cy="345.2" r="1.55"/><circle cx="457.7" cy="342.6" r="1.55"/><circle cx="458.6" cy="339.1" r="1.55"/><circle cx="459.4" cy="336" r="1.55"/><circle cx="460.3" cy="332.5" r="1.55"/><circle cx="461.1" cy="329.1" r="1.55"/><circle cx="462" cy="325.7" r="1.55"/><circle cx="462.8" cy="322.2" r="1.55"/><circle cx="463.7" cy="320.1" r="1.55"/><circle cx="464.5" cy="319.7" r="1.55"/><circle cx="465.4" cy="321.8" r="1.55"/><circle cx="466.2" cy="324.2" r="1.55"/><circle cx="467.1" cy="327.9" r="1.55"/><circle cx="467.9" cy="331.4" r="1.55"/><circle cx="468.8" cy="335.2" r="1.55"/><circle cx="469.6" cy="338.4" r="1.55"/><circle cx="470.5" cy="341.6" r="1.55"/><circle cx="471.3" cy="344.3" r="1.55"/><circle cx="472.2" cy="346.6" r="1.55"/><circle cx="473" cy="348.2" r="1.55"/><circle cx="473.9" cy="348.1" r="1.55"/><circle cx="474.7" cy="348.1" r="1.55"/><circle cx="475.6" cy="348.2" r="1.55"/><circle cx="476.4" cy="348.2" r="1.55"/><circle cx="477.3" cy="348.4" r="1.55"/><circle cx="478.1" cy="348.5" r="1.55"/><circle cx="479" cy="349" r="1.55"/><circle cx="479.8" cy="349" r="1.55"/><circle cx="480.7" cy="349" r="1.55"/><circle cx="481.5" cy="349" r="1.55"/><circle cx="482.4" cy="349.3" r="1.55"/><circle cx="483.2" cy="349.2" r="1.55"/><circle cx="484.1" cy="349.4" r="1.55"/><circle cx="484.9" cy="349.2" r="1.55"/><circle cx="485.8" cy="349.2" r="1.55"/><circle cx="486.6" cy="349" r="1.55"/><circle cx="487.5" cy="348.8" r="1.55"/><circle cx="488.3" cy="349" r="1.55"/><circle cx="489.2" cy="348.7" r="1.55"/><circle cx="490" cy="348.8" r="1.55"/><circle cx="490.9" cy="348.4" r="1.55"/><circle cx="491.7" cy="348" r="1.55"/><circle cx="492.6" cy="348.5" r="1.55"/><circle cx="493.4" cy="348.4" r="1.55"/><circle cx="494.3" cy="348.6" r="1.55"/><circle cx="495.1" cy="347.2" r="1.55"/><circle cx="496" cy="345.1" r="1.55"/><circle cx="496.8" cy="343.2" r="1.55"/><circle cx="497.7" cy="340.2" r="1.55"/><circle cx="498.5" cy="337" r="1.55"/><circle cx="499.4" cy="334.3" r="1.55"/><circle cx="500.2" cy="331" r="1.55"/><circle cx="501.1" cy="328" r="1.55"/><circle cx="501.9" cy="325.2" r="1.55"/><circle cx="502.8" cy="323.3" r="1.55"/><circle cx="503.6" cy="323.1" r="1.55"/><circle cx="504.5" cy="324.9" r="1.55"/><circle cx="505.3" cy="327.7" r="1.55"/><circle cx="506.2" cy="330.8" r="1.55"/><circle cx="507" cy="333.7" r="1.55"/><circle cx="507.9" cy="336.9" r="1.55"/><circle cx="508.7" cy="340" r="1.55"/><circle cx="509.6" cy="343.1" r="1.55"/><circle cx="510.4" cy="345.4" r="1.55"/><circle cx="511.3" cy="347.3" r="1.55"/><circle cx="512.1" cy="347.8" r="1.55"/><circle cx="513" cy="348.1" r="1.55"/><circle cx="513.8" cy="348" r="1.55"/><circle cx="514.7" cy="348.3" r="1.55"/><circle cx="515.5" cy="348.6" r="1.55"/><circle cx="516.4" cy="348.7" r="1.55"/><circle cx="517.2" cy="348.7" r="1.55"/><circle cx="518.1" cy="349.1" r="1.55"/><circle cx="518.9" cy="349" r="1.55"/><circle cx="519.8" cy="349.1" r="1.55"/><circle cx="520.6" cy="349.4" r="1.55"/><circle cx="521.5" cy="349.4" r="1.55"/><circle cx="522.3" cy="349.9" r="1.55"/><circle cx="523.2" cy="349.8" r="1.55"/><circle cx="524" cy="349.7" r="1.55"/><circle cx="524.9" cy="349.7" r="1.55"/><circle cx="525.7" cy="349.8" r="1.55"/><circle cx="526.6" cy="349.6" r="1.55"/><circle cx="527.4" cy="349.3" r="1.55"/><circle cx="528.3" cy="349.3" r="1.55"/><circle cx="529.1" cy="349.4" r="1.55"/><circle cx="530" cy="349.6" r="1.55"/><circle cx="530.8" cy="349.3" r="1.55"/><circle cx="531.7" cy="349.5" r="1.55"/><circle cx="532.5" cy="349.9" r="1.55"/><circle cx="533.4" cy="349.8" r="1.55"/><circle cx="534.2" cy="350.1" r="1.55"/><circle cx="535.1" cy="350" r="1.55"/><circle cx="535.9" cy="350.1" r="1.55"/><circle cx="536.8" cy="350.1" r="1.55"/><circle cx="537.6" cy="349.9" r="1.55"/><circle cx="538.5" cy="349.7" r="1.55"/></g>
<path d="M31 333.2L31.5 331.3L32 329.3L32.5 327.4L33 325.6L33.5 323.9L34 322.6L34.5 321.9L35 321.8L35.5 322.4L36 323.6L36.5 325.2L37 327L37.5 328.9L38 330.9L38.5 332.8L39 334.7L39.5 336.6L40 338.5L40.5 340.3L41 342L41.5 343.7L42 345.1L42.5 346.4L43 347.3L43.5 347.8L44 348.1L44.5 348.2L45 348.1L45.5 348.1L46 348.1L46.5 348.2L47 348.3L47.5 348.4L48 348.5L48.5 348.6L49 348.7L49.5 348.8L50 348.9L50.5 348.9L51 349L51.5 349.1L52 349.1L52.5 349.2L53 349.2L53.5 349.2L54 349.3L54.5 349.3L55 349.2L55.5 349.2L56 349.2L56.5 349.1L57 349.1L57.5 349L58 349L58.5 348.9L59 348.8L59.5 348.8L60 348.7L60.5 348.6L61 348.5L61.5 348.4L62 348.3L62.5 348.3L63 348.3L63.5 348.4L64 348.3L64.5 348.2L65 347.9L65.5 347.3L66 346.4L66.5 345.3L67 344.1L67.5 342.7L68 341.3L68.5 339.9L69 338.4L69.5 336.8L70 335.3L70.5 333.8L71 332.2L71.5 330.7L72 329.4L72.5 328.2L73 327.5L73.5 327.4L74 327.7L74.5 328.6L75 329.8L75.5 331.2L76 332.7L76.5 334.3L77 335.8L77.5 337.4L78 338.9L78.5 340.4L79 341.9L79.5 343.3L80 344.6L80.5 345.8L81 346.8L81.5 347.6L82 348.1L82.5 348.3L83 348.3L83.5 348.3L84 348.2L84.5 348.2L85 348.2L85.5 348.3L86 348.4L86.5 348.5L87 348.6L87.5 348.7L88 348.8L88.5 348.9L89 348.9L89.5 349L90 349L90.5 349.1L91 349.1L91.5 349.2L92 349.2L92.5 349.2L93 349.3L93.5 349.3L94 349.3L94.5 349.2L95 349.2L95.5 349.1L96 349.1L96.5 349L97 349L97.5 348.9L98 348.8L98.5 348.7L99 348.6L99.5 348.5L100 348.4L100.5 348.3L101 348.3L101.5 348.2L102 348.3L102.5 348.3L103 348.2L103.5 348.1L104 347.6L104.5 346.8L105 345.7L105.5 344.4L106 342.9L106.5 341.2L107 339.5L107.5 337.7L108 335.8L108.5 334L109 332.1L109.5 330.2L110 328.3L110.5 326.5L111 324.8L111.5 323.5L112 322.6L112.5 322.4L113 322.9L113.5 323.9L114 325.4L114.5 327.1L115 329L115.5 330.9L116 332.8L116.5 334.6L117 336.5L117.5 338.3L118 340.1L118.5 341.9L119 343.5L119.5 345L120 346.2L120.5 347.2L121 347.8L121.5 348.2L122 348.2L122.5 348.2L123 348.2L123.5 348.1L124 348.2L124.5 348.3L125 348.4L125.5 348.5L126 348.6L126.5 348.7L127 348.8L127.5 348.8L128 348.9L128.5 348.9L129 349L129.5 349.1L130 349.1L130.5 349.2L131 349.2L131.5 349.2L132 349.2L132.5 349.3L133 349.2L133.5 349.2L134 349.2L134.5 349.1L135 349.1L135.5 349L136 349L136.5 348.9L137 348.8L137.5 348.8L138 348.7L138.5 348.6L139 348.5L139.5 348.4L140 348.3L140.5 348.3L141 348.3L141.5 348.3L142 348.3L142.5 348.2L143 347.9L143.5 347.3L144 346.4L144.5 345.2L145 343.8L145.5 342.3L146 340.7L146.5 339L147 337.3L147.5 335.6L148 333.8L148.5 332L149 330.2L149.5 328.5L150 326.8L150.5 325.4L151 324.4L151.5 324L152 324.1L152.5 324.9L153 326.2L153.5 327.7L154 329.5L154.5 331.2L155 333L155.5 334.8L156 336.6L156.5 338.3L157 340L157.5 341.7L158 343.2L158.5 344.7L159 346L159.5 347L160 347.7L160.5 348.1L161 348.2L161.5 348.2L162 348.2L162.5 348.1L163 348.2L163.5 348.2L164 348.3L164.5 348.5L165 348.6L165.5 348.7L166 348.8L166.5 348.8L167 348.9L167.5 348.9L168 349L168.5 349.1L169 349.1L169.5 349.2L170 349.2L170.5 349.2L171 349.2L171.5 349.3L172 349.2L172.5 349.2L173 349.2L173.5 349.1L174 349.1L174.5 349L175 349L175.5 348.9L176 348.9L176.5 348.8L177 348.7L177.5 348.6L178 348.5L178.5 348.4L179 348.3L179.5 348.3L180 348.3L180.5 348.3L181 348.3L181.5 348.3L182 348.1L182.5 347.6L183 346.9L183.5 345.8L184 344.4L184.5 342.9L185 341.2L185.5 339.5L186 337.7L186.5 335.8L187 333.9L187.5 332.1L188 330.2L188.5 328.3L189 326.5L189.5 324.8L190 323.5L190.5 322.6L191 322.4L191.5 322.9L192 323.9L192.5 325.4L193 327.2L193.5 329L194 330.9L194.5 332.8L195 334.7L195.5 336.5L196 338.4L196.5 340.1L197 341.9L197.5 343.5L198 345L198.5 346.2L199 347.2L199.5 347.7L200 348.1L200.5 348.2L201 348.1L201.5 348.1L202 348.1L202.5 348.1L203 348.2L203.5 348.4L204 348.5L204.5 348.6L205 348.7L205.5 348.8L206 348.8L206.5 348.9L207 349L207.5 349L208 349.1L208.5 349.1L209 349.2L209.5 349.2L210 349.2L210.5 349.2L211 349.2L211.5 349.2L212 349.2L212.5 349.1L213 349.1L213.5 349L214 349L214.5 348.9L215 348.8L215.5 348.7L216 348.6L216.5 348.5L217 348.4L217.5 348.3L218 348.2L218.5 348.2L219 348.2L219.5 348.2L220 348.1L220.5 347.9L221 347.4L221.5 346.6L222 345.4L222.5 344L223 342.3L223.5 340.5L224 338.7L224.5 336.7L225 334.8L225.5 332.7L226 330.7L226.5 328.7L227 326.6L227.5 324.7L228 322.9L228.5 321.4L229 320.5L229.5 320.2L230 320.7L230.5 321.9L231 323.5L231.5 325.3L232 327.3L232.5 329.4L233 331.4L233.5 333.4L234 335.4L234.5 337.4L235 339.4L235.5 341.2L236 343L236.5 344.6L237 346L237.5 347L238 347.7L238.5 348.1L239 348.2L239.5 348.2L240 348.1L240.5 348.1L241 348.2L241.5 348.3L242 348.4L242.5 348.5L243 348.6L243.5 348.7L244 348.7L244.5 348.8L245 348.9L245.5 348.9L246 349L246.5 349L247 349.1L247.5 349.1L248 349.2L248.5 349.2L249 349.2L249.5 349.2L250 349.2L250.5 349.2L251 349.2L251.5 349.2L252 349.1L252.5 349L253 349L253.5 348.9L254 348.9L254.5 348.8L255 348.7L255.5 348.7L256 348.6L256.5 348.5L257 348.4L257.5 348.3L258 348.3L258.5 348.3L259 348.3L259.5 348.4L260 348.3L260.5 348.1L261 347.5L261.5 346.7L262 345.5L262.5 344.1L263 342.5L263.5 340.8L264 339.1L264.5 337.3L265 335.4L265.5 333.5L266 331.7L266.5 329.8L267 327.9L267.5 326.1L268 324.5L268.5 323.2L269 322.5L269.5 322.5L270 323.1L270.5 324.2L271 325.8L271.5 327.6L272 329.4L272.5 331.3L273 333.2L273.5 335.1L274 336.9L274.5 338.7L275 340.5L275.5 342.2L276 343.8L276.5 345.2L277 346.4L277.5 347.3L278 347.8L278.5 348.1L279 348.1L279.5 348.1L280 348.1L280.5 348.1L281 348.2L281.5 348.3L282 348.4L282.5 348.5L283 348.6L283.5 348.7L284 348.8L284.5 348.9L285 349L285.5 349L286 349.1L286.5 349.1L287 349.2L287.5 349.2L288 349.2L288.5 349.2L289 349.2L289.5 349.2L290 349.2L290.5 349.2L291 349.1L291.5 349.1L292 349L292.5 348.9L293 348.9L293.5 348.8L294 348.7L294.5 348.6L295 348.5L295.5 348.4L296 348.3L296.5 348.3L297 348.3L297.5 348.3L298 348.3L298.5 348.3L299 348.1L299.5 347.7L300 346.9L300.5 345.9L301 344.6L301.5 343.1L302 341.5L302.5 339.8L303 338.1L303.5 336.3L304 334.5L304.5 332.7L305 330.8L305.5 329L306 327.3L306.5 325.7L307 324.4L307.5 323.5L308 323.3L308.5 323.8L309 324.8L309.5 326.2L310 327.9L310.5 329.7L311 331.5L311.5 333.4L312 335.2L312.5 337L313 338.7L313.5 340.5L314 342.1L314.5 343.7L315 345.1L315.5 346.3L316 347.3L316.5 347.9L317 348.2L317.5 348.3L318 348.2L318.5 348.2L319 348.2L319.5 348.2L320 348.3L320.5 348.5L321 348.6L321.5 348.7L322 348.8L322.5 348.9L323 348.9L323.5 349L324 349.1L324.5 349.1L325 349.2L325.5 349.2L326 349.3L326.5 349.3L327 349.4L327.5 349.4L328 349.4L328.5 349.4L329 349.3L329.5 349.3L330 349.3L330.5 349.2L331 349.2L331.5 349.1L332 349.1L332.5 349L333 349L333.5 349L334 349L334.5 349L335 349L335.5 349L336 349.1L336.5 349.1L337 349.2L337.5 349.2L338 349.3L338.5 349.3L339 349.3L339.5 349.2L340 349.1L340.5 349L341 348.7L341.5 348.4L342 348L342.5 347.6L343 347.1L343.5 346.5L344 345.9L344.5 345.3L345 344.9L345.5 344.5L346 344.2L346.5 344.1L347 344.2L347.5 344.4L348 344.8L348.5 345.2L349 345.8L349.5 346.3L350 346.9L350.5 347.5L351 347.9L351.5 348.3L352 348.7L352.5 348.9L353 349.1L353.5 349.3L354 349.3L354.5 349.4L355 349.4L355.5 349.4L356 349.3L356.5 349.2L357 349.2L357.5 349.1L358 349.1L358.5 349.1L359 349L359.5 349L360 349L360.5 349L361 349L361.5 349L362 349L362.5 349.1L363 349.1L363.5 349.2L364 349.2L364.5 349.3L365 349.3L365.5 349.3L366 349.4L366.5 349.4L367 349.4L367.5 349.3L368 349.3L368.5 349.3L369 349.2L369.5 349.1L370 349.1L370.5 349L371 348.9L371.5 348.9L372 348.8L372.5 348.7L373 348.5L373.5 348.4L374 348.4L374.5 348.3L375 348.3L375.5 348.3L376 348.3L376.5 348.2L377 347.9L377.5 347.3L378 346.4L378.5 345.1L379 343.7L379.5 342L380 340.3L380.5 338.5L381 336.7L381.5 334.8L382 332.9L382.5 330.9L383 329L383.5 327.1L384 325.3L384.5 323.7L385 322.5L385.5 321.8L386 321.9L386.5 322.6L387 323.9L387.5 325.5L388 327.4L388.5 329.3L389 331.2L389.5 333.1L390 335.1L390.5 337L391 338.8L391.5 340.6L392 342.4L392.5 344L393 345.4L393.5 346.6L394 347.5L394.5 348L395 348.2L395.5 348.2L396 348.2L396.5 348.1L397 348.2L397.5 348.2L398 348.3L398.5 348.4L399 348.5L399.5 348.6L400 348.7L400.5 348.8L401 348.8L401.5 348.9L402 349L402.5 349L403 349.1L403.5 349.1L404 349.2L404.5 349.2L405 349.2L405.5 349.2L406 349.2L406.5 349.2L407 349.2L407.5 349.2L408 349.1L408.5 349.1L409 349L409.5 348.9L410 348.9L410.5 348.8L411 348.7L411.5 348.6L412 348.5L412.5 348.4L413 348.3L413.5 348.3L414 348.2L414.5 348.3L415 348.3L415.5 348.2L416 348.1L416.5 347.7L417 347L417.5 345.9L418 344.6L418.5 343L419 341.4L419.5 339.6L420 337.8L420.5 335.9L421 334L421.5 332.1L422 330.1L422.5 328.2L423 326.3L423.5 324.6L424 323.1L424.5 322.1L425 321.8L425.5 322.1L426 323.1L426.5 324.5L427 326.3L427.5 328.1L428 330.1L428.5 332L429 333.9L429.5 335.8L430 337.7L430.5 339.6L431 341.3L431.5 343L432 344.6L432.5 345.9L433 347L433.5 347.7L434 348.1L434.5 348.2L435 348.2L435.5 348.1L436 348.1L436.5 348.1L437 348.2L437.5 348.3L438 348.5L438.5 348.6L439 348.7L439.5 348.7L440 348.8L440.5 348.9L441 348.9L441.5 349L442 349L442.5 349.1L443 349.1L443.5 349.2L444 349.2L444.5 349.2L445 349.2L445.5 349.2L446 349.2L446.5 349.2L447 349.1L447.5 349.1L448 349L448.5 348.9L449 348.9L449.5 348.8L450 348.7L450.5 348.6L451 348.6L451.5 348.5L452 348.4L452.5 348.3L453 348.2L453.5 348.2L454 348.2L454.5 348.2L455 348.1L455.5 347.8L456 347.2L456.5 346.1L457 344.8L457.5 343.2L458 341.5L458.5 339.6L459 337.6L459.5 335.6L460 333.6L460.5 331.5L461 329.4L461.5 327.3L462 325.3L462.5 323.3L463 321.6L463.5 320.3L464 319.7L464.5 319.7L465 320.5L465.5 321.9L466 323.7L466.5 325.7L467 327.7L467.5 329.8L468 331.9L468.5 334L469 336L469.5 338L470 339.9L470.5 341.8L471 343.6L471.5 345.1L472 346.4L472.5 347.3L473 347.8L473.5 348.1L474 348.1L474.5 348.1L475 348.1L475.5 348.1L476 348.2L476.5 348.3L477 348.4L477.5 348.5L478 348.6L478.5 348.7L479 348.8L479.5 348.9L480 348.9L480.5 349L481 349L481.5 349.1L482 349.1L482.5 349.2L483 349.2L483.5 349.2L484 349.2L484.5 349.2L485 349.2L485.5 349.2L486 349.1L486.5 349.1L487 349L487.5 349L488 348.9L488.5 348.8L489 348.8L489.5 348.7L490 348.6L490.5 348.5L491 348.4L491.5 348.3L492 348.3L492.5 348.3L493 348.3L493.5 348.3L494 348.2L494.5 348L495 347.4L495.5 346.5L496 345.3L496.5 343.9L497 342.4L497.5 340.7L498 339L498.5 337.2L499 335.4L499.5 333.6L500 331.7L500.5 329.9L501 328.1L501.5 326.3L502 324.8L502.5 323.7L503 323.1L503.5 323.1L504 323.8L504.5 325.1L505 326.6L505.5 328.4L506 330.2L506.5 332.1L507 333.9L507.5 335.7L508 337.5L508.5 339.3L509 341L509.5 342.7L510 344.2L510.5 345.6L511 346.7L511.5 347.5L512 348L512.5 348.2L513 348.2L513.5 348.2L514 348.2L514.5 348.2L515 348.3L515.5 348.4L516 348.5L516.5 348.7L517 348.8L517.5 348.9L518 349L518.5 349.1L519 349.2L519.5 349.2L520 349.3L520.5 349.4L521 349.5L521.5 349.5L522 349.6L522.5 349.6L523 349.6L523.5 349.6L524 349.6L524.5 349.6L525 349.6L525.5 349.6L526 349.6L526.5 349.5L527 349.5L527.5 349.5L528 349.4L528.5 349.4L529 349.4L529.5 349.5L530 349.5L530.5 349.5L531 349.6L531.5 349.6L532 349.7L532.5 349.8L533 349.8L533.5 350L534 350L534.5 350.1L535 350.1L535.5 350.1L536 350.2L536.5 350.2L537 350.2L537.5 350.2L538 350.1L538.5 350.1" fill="none" stroke="#e8141c" stroke-width="1.3" stroke-linejoin="round"/>
</g>
<g stroke="#505050" stroke-width="0.95" fill="none">
<rect x="31" y="318.2" width="507.5" height="39.1"/>
<path d="M538 357.3v2.6M446.6 357.3v2.6M355.2 357.3v2.6M263.8 357.3v2.6M172.4 357.3v2.6M81 357.3v2.6M31 356.4h-2.6M31 325.4h-2.6"/>
</g>
<text x="538" y="369" text-anchor="middle" >0</text>
<text x="446.6" y="369" text-anchor="middle" >1</text>
<text x="355.2" y="369" text-anchor="middle" >2</text>
<text x="263.8" y="369" text-anchor="middle" >3</text>
<text x="172.4" y="369" text-anchor="middle" >4</text>
<text x="81" y="369" text-anchor="middle" >5</text>
<text x="25.7" y="359.2" text-anchor="end" >0</text>
<text x="25.7" y="328.2" text-anchor="end" >5</text>
<text x="284.9" y="381.7" text-anchor="middle" font-size="7.75">Detector array [cm<tspan font-size="5.3" dy="-2.6">−1</tspan><tspan dy="2.6">]</tspan></text></svg>
</body></html>
